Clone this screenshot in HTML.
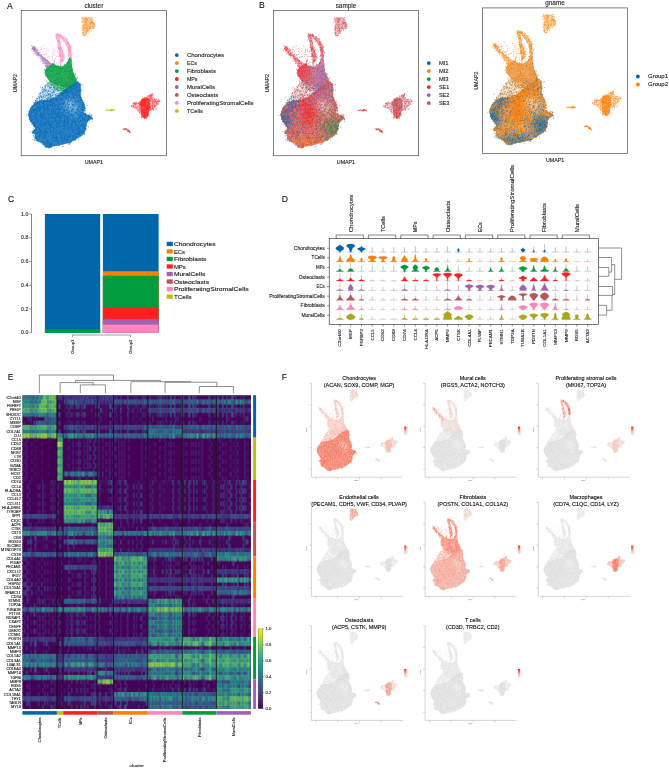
<!DOCTYPE html>
<html><head><meta charset="utf-8"><style>
html,body{margin:0;padding:0;background:#fff;width:669px;height:768px;overflow:hidden}
svg{display:block}
text{font-family:"Liberation Sans",sans-serif;stroke:#222;stroke-width:0.14px;stroke-opacity:0.8}
</style></head><body>
<svg width="669" height="768" viewBox="0 0 669 768" font-family="Liberation Sans, sans-serif" style="will-change:transform">
<rect width="669" height="768" fill="#fff"/>
<text x="7" y="8.8" font-size="8.6" fill="#111">A</text>
<text x="259" y="8.3" font-size="8.6" fill="#111">B</text>
<text x="8" y="202.3" font-size="8.6" fill="#111">C</text>
<text x="281.7" y="201.8" font-size="8.6" fill="#111">D</text>
<text x="7.8" y="379.8" font-size="8.6" fill="#111">E</text>
<text x="281.7" y="380" font-size="8.6" fill="#111">F</text>
<rect x="44.9" y="214" width="55.3" height="118.8" fill="#0067ab"/>
<rect x="44.9" y="329.24" width="55.3" height="3.56" fill="#009c3e"/>
<rect x="102.9" y="214" width="55.7" height="118.8" fill="#0067ab"/>
<rect x="102.9" y="271.26" width="55.7" height="61.54" fill="#ff8000"/>
<rect x="102.9" y="275.78" width="55.7" height="57.02" fill="#009c3e"/>
<rect x="102.9" y="307.26" width="55.7" height="25.54" fill="#ff1f1f"/>
<rect x="102.9" y="319.26" width="55.7" height="13.54" fill="#a262b3"/>
<rect x="102.9" y="324.6" width="55.7" height="8.2" fill="#ff86bc"/>
<path d="M31.5 214 V332.8" stroke="#555" stroke-width="0.7" fill="none"/>
<path d="M29.2 332.8H31.5" stroke="#555" stroke-width="0.6"/>
<text x="28.3" y="334.4" font-size="4.5" fill="#333" text-anchor="end" textLength="7.2" lengthAdjust="spacingAndGlyphs">0.0</text>
<path d="M29.2 309.04H31.5" stroke="#555" stroke-width="0.6"/>
<text x="28.3" y="310.64" font-size="4.5" fill="#333" text-anchor="end" textLength="7.2" lengthAdjust="spacingAndGlyphs">0.2</text>
<path d="M29.2 285.28H31.5" stroke="#555" stroke-width="0.6"/>
<text x="28.3" y="286.88" font-size="4.5" fill="#333" text-anchor="end" textLength="7.2" lengthAdjust="spacingAndGlyphs">0.4</text>
<path d="M29.2 261.52H31.5" stroke="#555" stroke-width="0.6"/>
<text x="28.3" y="263.12" font-size="4.5" fill="#333" text-anchor="end" textLength="7.2" lengthAdjust="spacingAndGlyphs">0.6</text>
<path d="M29.2 237.76H31.5" stroke="#555" stroke-width="0.6"/>
<text x="28.3" y="239.36" font-size="4.5" fill="#333" text-anchor="end" textLength="7.2" lengthAdjust="spacingAndGlyphs">0.8</text>
<path d="M29.2 214H31.5" stroke="#555" stroke-width="0.6"/>
<text x="28.3" y="215.6" font-size="4.5" fill="#333" text-anchor="end" textLength="7.2" lengthAdjust="spacingAndGlyphs">1.0</text>
<path d="M72.4 337.2V335H130.5V337.2" stroke="#777" stroke-width="0.7" fill="none"/>
<text transform="translate(73.8 339.5) rotate(-90)" font-size="3.9" fill="#333" text-anchor="end" textLength="14.3" lengthAdjust="spacingAndGlyphs">Group1</text>
<text transform="translate(132.1 339.5) rotate(-90)" font-size="3.9" fill="#333" text-anchor="end" textLength="14.3" lengthAdjust="spacingAndGlyphs">Group2</text>
<rect x="166.7" y="241.75" width="6.1" height="4.3" fill="#0067ab"/>
<text x="173.9" y="246" font-size="6.05" fill="#111" textLength="41.64" lengthAdjust="spacingAndGlyphs">Chondrocytes</text>
<rect x="166.7" y="249.28" width="6.1" height="4.3" fill="#ff8000"/>
<text x="173.9" y="253.53" font-size="6.05" fill="#111" textLength="11.2" lengthAdjust="spacingAndGlyphs">ECs</text>
<rect x="166.7" y="256.81" width="6.1" height="4.3" fill="#009c3e"/>
<text x="173.9" y="261.06" font-size="6.05" fill="#111" textLength="32.52" lengthAdjust="spacingAndGlyphs">Fibroblasts</text>
<rect x="166.7" y="264.34" width="6.1" height="4.3" fill="#ff1f1f"/>
<text x="173.9" y="268.59" font-size="6.05" fill="#111" textLength="11.91" lengthAdjust="spacingAndGlyphs">MPs</text>
<rect x="166.7" y="271.87" width="6.1" height="4.3" fill="#a262b3"/>
<text x="173.9" y="276.12" font-size="6.05" fill="#111" textLength="31.39" lengthAdjust="spacingAndGlyphs">MuralCells</text>
<rect x="166.7" y="279.4" width="6.1" height="4.3" fill="#bb5458"/>
<text x="173.9" y="283.65" font-size="6.05" fill="#111" textLength="35.1" lengthAdjust="spacingAndGlyphs">Osteoclasts</text>
<rect x="166.7" y="286.93" width="6.1" height="4.3" fill="#ff86bc"/>
<text x="173.9" y="291.18" font-size="6.05" fill="#111" textLength="74.74" lengthAdjust="spacingAndGlyphs">ProliferatingStromalCells</text>
<rect x="166.7" y="294.46" width="6.1" height="4.3" fill="#bdbd0a"/>
<text x="173.9" y="298.71" font-size="6.05" fill="#111" textLength="17.8" lengthAdjust="spacingAndGlyphs">TCells</text>
<rect x="21.25" y="10.5" width="145.25" height="145.2" fill="none" stroke="#5a5a5a" stroke-width="0.75"/>
<text x="93.88" y="7.7" font-size="6.4" fill="#222" text-anchor="middle">cluster</text>
<text x="93.88" y="164.3" font-size="5.2" fill="#222" text-anchor="middle" textLength="18.2" lengthAdjust="spacingAndGlyphs">UMAP1</text>
<text transform="translate(16.55 83.1) rotate(-90)" font-size="5.2" fill="#222" text-anchor="middle" textLength="18.2" lengthAdjust="spacingAndGlyphs">UMAP2</text>
<rect x="273.5" y="10.6" width="144.9" height="145.1" fill="none" stroke="#5a5a5a" stroke-width="0.75"/>
<text x="345.95" y="7.5" font-size="6.4" fill="#222" text-anchor="middle">sample</text>
<text x="345.95" y="164.3" font-size="5.2" fill="#222" text-anchor="middle" textLength="18.2" lengthAdjust="spacingAndGlyphs">UMAP1</text>
<text transform="translate(268.8 83.15) rotate(-90)" font-size="5.2" fill="#222" text-anchor="middle" textLength="18.2" lengthAdjust="spacingAndGlyphs">UMAP2</text>
<rect x="482.6" y="7.9" width="144.9" height="145.6" fill="none" stroke="#5a5a5a" stroke-width="0.75"/>
<text x="555.05" y="4.6" font-size="6.4" fill="#222" text-anchor="middle">gname</text>
<text x="555.05" y="162.1" font-size="5.2" fill="#222" text-anchor="middle" textLength="18.2" lengthAdjust="spacingAndGlyphs">UMAP1</text>
<text transform="translate(477.9 80.7) rotate(-90)" font-size="5.2" fill="#222" text-anchor="middle" textLength="18.2" lengthAdjust="spacingAndGlyphs">UMAP2</text>
<circle cx="176.8" cy="55.1" r="1.9" fill="#0067ab"/>
<text x="186.9" y="57" font-size="5.4" fill="#222" textLength="37.17" lengthAdjust="spacingAndGlyphs">Chondrocytes</text>
<circle cx="176.8" cy="63.07" r="1.9" fill="#ff8000"/>
<text x="186.9" y="64.97" font-size="5.4" fill="#222" textLength="10" lengthAdjust="spacingAndGlyphs">ECs</text>
<circle cx="176.8" cy="71.04" r="1.9" fill="#009c3e"/>
<text x="186.9" y="72.94" font-size="5.4" fill="#222" textLength="29.03" lengthAdjust="spacingAndGlyphs">Fibroblasts</text>
<circle cx="176.8" cy="79.01" r="1.9" fill="#ff1f1f"/>
<text x="186.9" y="80.91" font-size="5.4" fill="#222" textLength="10.63" lengthAdjust="spacingAndGlyphs">MPs</text>
<circle cx="176.8" cy="86.98" r="1.9" fill="#a262b3"/>
<text x="186.9" y="88.88" font-size="5.4" fill="#222" textLength="28.02" lengthAdjust="spacingAndGlyphs">MuralCells</text>
<circle cx="176.8" cy="94.95" r="1.9" fill="#bb5458"/>
<text x="186.9" y="96.85" font-size="5.4" fill="#222" textLength="31.33" lengthAdjust="spacingAndGlyphs">Osteoclasts</text>
<circle cx="176.8" cy="102.92" r="1.9" fill="#ff86bc"/>
<text x="186.9" y="104.82" font-size="5.4" fill="#222" textLength="66.71" lengthAdjust="spacingAndGlyphs">ProliferatingStromalCells</text>
<circle cx="176.8" cy="110.89" r="1.9" fill="#bdbd0a"/>
<text x="186.9" y="112.79" font-size="5.4" fill="#222" textLength="15.89" lengthAdjust="spacingAndGlyphs">TCells</text>
<circle cx="428.8" cy="63.1" r="1.9" fill="#0067ab"/>
<text x="438.9" y="65" font-size="5.4" fill="#222" textLength="9.69" lengthAdjust="spacingAndGlyphs">MI1</text>
<circle cx="428.8" cy="71.1" r="1.9" fill="#ff8000"/>
<text x="438.9" y="73" font-size="5.4" fill="#222" textLength="9.69" lengthAdjust="spacingAndGlyphs">MI2</text>
<circle cx="428.8" cy="79.1" r="1.9" fill="#009c3e"/>
<text x="438.9" y="81" font-size="5.4" fill="#222" textLength="9.69" lengthAdjust="spacingAndGlyphs">MI3</text>
<circle cx="428.8" cy="87.1" r="1.9" fill="#ff1f1f"/>
<text x="438.9" y="89" font-size="5.4" fill="#222" textLength="10.28" lengthAdjust="spacingAndGlyphs">SE1</text>
<circle cx="428.8" cy="95.1" r="1.9" fill="#a262b3"/>
<text x="438.9" y="97" font-size="5.4" fill="#222" textLength="10.28" lengthAdjust="spacingAndGlyphs">SE2</text>
<circle cx="428.8" cy="103.1" r="1.9" fill="#bb5458"/>
<text x="438.9" y="105" font-size="5.4" fill="#222" textLength="10.28" lengthAdjust="spacingAndGlyphs">SE3</text>
<circle cx="637.9" cy="76.5" r="1.9" fill="#0067ab"/>
<text x="648.1" y="78.4" font-size="5.4" fill="#222" textLength="19.88" lengthAdjust="spacingAndGlyphs">Group1</text>
<circle cx="637.9" cy="84.5" r="1.9" fill="#ff8000"/>
<text x="648.1" y="86.4" font-size="5.4" fill="#222" textLength="19.88" lengthAdjust="spacingAndGlyphs">Group2</text>
<text x="20.8" y="398.67" font-size="3.7" fill="#111" text-anchor="end" textLength="14.34" lengthAdjust="spacingAndGlyphs">C2orf40</text>
<text x="20.8" y="402.91" font-size="3.7" fill="#111" text-anchor="end" textLength="8.07" lengthAdjust="spacingAndGlyphs">MGP</text>
<text x="20.8" y="407.15" font-size="3.7" fill="#111" text-anchor="end" textLength="13.86" lengthAdjust="spacingAndGlyphs">FGFBP2</text>
<text x="20.8" y="411.39" font-size="3.7" fill="#111" text-anchor="end" textLength="11.12" lengthAdjust="spacingAndGlyphs">PRELP</text>
<text x="20.8" y="415.63" font-size="3.7" fill="#111" text-anchor="end" textLength="14.87" lengthAdjust="spacingAndGlyphs">SHOX2C</text>
<text x="20.8" y="419.87" font-size="3.7" fill="#111" text-anchor="end" textLength="11.14" lengthAdjust="spacingAndGlyphs">CYTL1</text>
<text x="20.8" y="424.11" font-size="3.7" fill="#111" text-anchor="end" textLength="10.67" lengthAdjust="spacingAndGlyphs">MSMP</text>
<text x="20.8" y="428.35" font-size="3.7" fill="#111" text-anchor="end" textLength="10.62" lengthAdjust="spacingAndGlyphs">COMP</text>
<text x="20.8" y="432.59" font-size="3.7" fill="#111" text-anchor="end" textLength="14.4" lengthAdjust="spacingAndGlyphs">COL2A1</text>
<text x="20.8" y="436.84" font-size="3.7" fill="#111" text-anchor="end" textLength="6.98" lengthAdjust="spacingAndGlyphs">CLU</text>
<text x="20.8" y="441.08" font-size="3.7" fill="#111" text-anchor="end" textLength="9.32" lengthAdjust="spacingAndGlyphs">CCL5</text>
<text x="20.8" y="445.32" font-size="3.7" fill="#111" text-anchor="end" textLength="9.87" lengthAdjust="spacingAndGlyphs">CD52</text>
<text x="20.8" y="449.56" font-size="3.7" fill="#111" text-anchor="end" textLength="9.87" lengthAdjust="spacingAndGlyphs">CD69</text>
<text x="20.8" y="453.8" font-size="3.7" fill="#111" text-anchor="end" textLength="10.13" lengthAdjust="spacingAndGlyphs">NKG7</text>
<text x="20.8" y="458.04" font-size="3.7" fill="#111" text-anchor="end" textLength="6.18" lengthAdjust="spacingAndGlyphs">LTB</text>
<text x="20.8" y="462.28" font-size="3.7" fill="#111" text-anchor="end" textLength="10.35" lengthAdjust="spacingAndGlyphs">CD3D</text>
<text x="20.8" y="466.52" font-size="3.7" fill="#111" text-anchor="end" textLength="10.82" lengthAdjust="spacingAndGlyphs">GZMA</text>
<text x="20.8" y="470.76" font-size="3.7" fill="#111" text-anchor="end" textLength="11.91" lengthAdjust="spacingAndGlyphs">TRBC2</text>
<text x="20.8" y="475" font-size="3.7" fill="#111" text-anchor="end" textLength="9.7" lengthAdjust="spacingAndGlyphs">HCST</text>
<text x="20.8" y="479.24" font-size="3.7" fill="#111" text-anchor="end" textLength="7.58" lengthAdjust="spacingAndGlyphs">CD2</text>
<text x="20.8" y="483.48" font-size="3.7" fill="#111" text-anchor="end" textLength="9.87" lengthAdjust="spacingAndGlyphs">CD74</text>
<text x="20.8" y="487.72" font-size="3.7" fill="#111" text-anchor="end" textLength="9.32" lengthAdjust="spacingAndGlyphs">CCL4</text>
<text x="20.8" y="491.96" font-size="3.7" fill="#111" text-anchor="end" textLength="16.07" lengthAdjust="spacingAndGlyphs">HLA-DRA</text>
<text x="20.8" y="496.2" font-size="3.7" fill="#111" text-anchor="end" textLength="9.32" lengthAdjust="spacingAndGlyphs">CCL3</text>
<text x="20.8" y="500.44" font-size="3.7" fill="#111" text-anchor="end" textLength="13.62" lengthAdjust="spacingAndGlyphs">CCL4L2</text>
<text x="20.8" y="504.68" font-size="3.7" fill="#111" text-anchor="end" textLength="13.62" lengthAdjust="spacingAndGlyphs">CCL3L1</text>
<text x="20.8" y="508.92" font-size="3.7" fill="#111" text-anchor="end" textLength="18.51" lengthAdjust="spacingAndGlyphs">HLA-DRB1</text>
<text x="20.8" y="513.16" font-size="3.7" fill="#111" text-anchor="end" textLength="14.37" lengthAdjust="spacingAndGlyphs">TYROBP</text>
<text x="20.8" y="517.41" font-size="3.7" fill="#111" text-anchor="end" textLength="8.92" lengthAdjust="spacingAndGlyphs">SPP1</text>
<text x="20.8" y="521.65" font-size="3.7" fill="#111" text-anchor="end" textLength="10.15" lengthAdjust="spacingAndGlyphs">C1QC</text>
<text x="20.8" y="525.89" font-size="3.7" fill="#111" text-anchor="end" textLength="9.37" lengthAdjust="spacingAndGlyphs">ACP5</text>
<text x="20.8" y="530.13" font-size="3.7" fill="#111" text-anchor="end" textLength="9.36" lengthAdjust="spacingAndGlyphs">CTSK</text>
<text x="20.8" y="534.37" font-size="3.7" fill="#111" text-anchor="end" textLength="9.29" lengthAdjust="spacingAndGlyphs">CST3</text>
<text x="20.8" y="538.61" font-size="3.7" fill="#111" text-anchor="end" textLength="7.34" lengthAdjust="spacingAndGlyphs">CKB</text>
<text x="20.8" y="542.85" font-size="3.7" fill="#111" text-anchor="end" textLength="12.16" lengthAdjust="spacingAndGlyphs">RGS10</text>
<text x="20.8" y="547.09" font-size="3.7" fill="#111" text-anchor="end" textLength="13.86" lengthAdjust="spacingAndGlyphs">SLC9B2</text>
<text x="20.8" y="551.33" font-size="3.7" fill="#111" text-anchor="end" textLength="19.81" lengthAdjust="spacingAndGlyphs">MTND1P23</text>
<text x="20.8" y="555.57" font-size="3.7" fill="#111" text-anchor="end" textLength="9.47" lengthAdjust="spacingAndGlyphs">CSTB</text>
<text x="20.8" y="559.81" font-size="3.7" fill="#111" text-anchor="end" textLength="14.4" lengthAdjust="spacingAndGlyphs">COL4A1</text>
<text x="20.8" y="564.05" font-size="3.7" fill="#111" text-anchor="end" textLength="10.65" lengthAdjust="spacingAndGlyphs">PLVAP</text>
<text x="20.8" y="568.29" font-size="3.7" fill="#111" text-anchor="end" textLength="14.82" lengthAdjust="spacingAndGlyphs">PECAM1</text>
<text x="20.8" y="572.53" font-size="3.7" fill="#111" text-anchor="end" textLength="13.82" lengthAdjust="spacingAndGlyphs">CXCL12</text>
<text x="20.8" y="576.77" font-size="3.7" fill="#111" text-anchor="end" textLength="8.78" lengthAdjust="spacingAndGlyphs">IFI27</text>
<text x="20.8" y="581.01" font-size="3.7" fill="#111" text-anchor="end" textLength="14.4" lengthAdjust="spacingAndGlyphs">COL4A2</text>
<text x="20.8" y="585.25" font-size="3.7" fill="#111" text-anchor="end" textLength="12.24" lengthAdjust="spacingAndGlyphs">HSPG2</text>
<text x="20.8" y="589.49" font-size="3.7" fill="#111" text-anchor="end" textLength="16.69" lengthAdjust="spacingAndGlyphs">COL15A1</text>
<text x="20.8" y="593.74" font-size="3.7" fill="#111" text-anchor="end" textLength="15.82" lengthAdjust="spacingAndGlyphs">SPARCL1</text>
<text x="20.8" y="597.98" font-size="3.7" fill="#111" text-anchor="end" textLength="9.87" lengthAdjust="spacingAndGlyphs">CD34</text>
<text x="20.8" y="602.22" font-size="3.7" fill="#111" text-anchor="end" textLength="12.57" lengthAdjust="spacingAndGlyphs">STMN1</text>
<text x="20.8" y="606.46" font-size="3.7" fill="#111" text-anchor="end" textLength="11.96" lengthAdjust="spacingAndGlyphs">TOP2A</text>
<text x="20.8" y="610.7" font-size="3.7" fill="#111" text-anchor="end" textLength="14.53" lengthAdjust="spacingAndGlyphs">TUBA1B</text>
<text x="20.8" y="614.94" font-size="3.7" fill="#111" text-anchor="end" textLength="11.59" lengthAdjust="spacingAndGlyphs">PTTG1</text>
<text x="20.8" y="619.18" font-size="3.7" fill="#111" text-anchor="end" textLength="14.6" lengthAdjust="spacingAndGlyphs">NUSAP1</text>
<text x="20.8" y="623.42" font-size="3.7" fill="#111" text-anchor="end" textLength="11.74" lengthAdjust="spacingAndGlyphs">CKAP2</text>
<text x="20.8" y="627.66" font-size="3.7" fill="#111" text-anchor="end" textLength="11.72" lengthAdjust="spacingAndGlyphs">CENPF</text>
<text x="20.8" y="631.9" font-size="3.7" fill="#111" text-anchor="end" textLength="12.18" lengthAdjust="spacingAndGlyphs">UBE2C</text>
<text x="20.8" y="636.14" font-size="3.7" fill="#111" text-anchor="end" textLength="12.48" lengthAdjust="spacingAndGlyphs">CCNB1</text>
<text x="20.8" y="640.38" font-size="3.7" fill="#111" text-anchor="end" textLength="12.18" lengthAdjust="spacingAndGlyphs">POSTN</text>
<text x="20.8" y="644.62" font-size="3.7" fill="#111" text-anchor="end" textLength="14.4" lengthAdjust="spacingAndGlyphs">COL1A1</text>
<text x="20.8" y="648.86" font-size="3.7" fill="#111" text-anchor="end" textLength="12.96" lengthAdjust="spacingAndGlyphs">MMP13</text>
<text x="20.8" y="653.1" font-size="3.7" fill="#111" text-anchor="end" textLength="10.67" lengthAdjust="spacingAndGlyphs">MMP3</text>
<text x="20.8" y="657.34" font-size="3.7" fill="#111" text-anchor="end" textLength="14.4" lengthAdjust="spacingAndGlyphs">COL1A2</text>
<text x="20.8" y="661.58" font-size="3.7" fill="#111" text-anchor="end" textLength="14.4" lengthAdjust="spacingAndGlyphs">COL3A1</text>
<text x="20.8" y="665.82" font-size="3.7" fill="#111" text-anchor="end" textLength="13.84" lengthAdjust="spacingAndGlyphs">LGALS1</text>
<text x="20.8" y="670.06" font-size="3.7" fill="#111" text-anchor="end" textLength="14.4" lengthAdjust="spacingAndGlyphs">COL6A3</text>
<text x="20.8" y="674.31" font-size="3.7" fill="#111" text-anchor="end" textLength="12.96" lengthAdjust="spacingAndGlyphs">MMP14</text>
<text x="20.8" y="678.55" font-size="3.7" fill="#111" text-anchor="end" textLength="10.59" lengthAdjust="spacingAndGlyphs">TGFBI</text>
<text x="20.8" y="682.79" font-size="3.7" fill="#111" text-anchor="end" textLength="10.67" lengthAdjust="spacingAndGlyphs">MMP9</text>
<text x="20.8" y="687.03" font-size="3.7" fill="#111" text-anchor="end" textLength="9.87" lengthAdjust="spacingAndGlyphs">RGS5</text>
<text x="20.8" y="691.27" font-size="3.7" fill="#111" text-anchor="end" textLength="11.59" lengthAdjust="spacingAndGlyphs">ACTA2</text>
<text x="20.8" y="695.51" font-size="3.7" fill="#111" text-anchor="end" textLength="16.69" lengthAdjust="spacingAndGlyphs">COL18A1</text>
<text x="20.8" y="699.75" font-size="3.7" fill="#111" text-anchor="end" textLength="9.4" lengthAdjust="spacingAndGlyphs">THY1</text>
<text x="20.8" y="703.99" font-size="3.7" fill="#111" text-anchor="end" textLength="11.81" lengthAdjust="spacingAndGlyphs">TAGLN</text>
<text x="20.8" y="708.23" font-size="3.7" fill="#111" text-anchor="end" textLength="9.6" lengthAdjust="spacingAndGlyphs">MYL9</text>
<rect x="253.1" y="395.2" width="3" height="42.41" fill="#0067ab"/>
<rect x="253.1" y="437.61" width="3" height="42.41" fill="#bdbd0a"/>
<rect x="253.1" y="480.01" width="3" height="42.41" fill="#ff1f1f"/>
<rect x="253.1" y="522.42" width="3" height="33.92" fill="#bb5458"/>
<rect x="253.1" y="556.34" width="3" height="42.41" fill="#ff8000"/>
<rect x="253.1" y="598.75" width="3" height="38.16" fill="#ff86bc"/>
<rect x="253.1" y="636.91" width="3" height="42.41" fill="#009c3e"/>
<rect x="253.1" y="679.32" width="3" height="29.68" fill="#a262b3"/>
<rect x="22.4" y="711.1" width="34.5" height="3.6" fill="#0067ab"/>
<rect x="56.9" y="711.1" width="6.3" height="3.6" fill="#bdbd0a"/>
<rect x="63.2" y="711.1" width="34" height="3.6" fill="#ff1f1f"/>
<rect x="97.2" y="711.1" width="16.3" height="3.6" fill="#bb5458"/>
<rect x="113.5" y="711.1" width="34.3" height="3.6" fill="#ff8000"/>
<rect x="147.8" y="711.1" width="34.5" height="3.6" fill="#ff86bc"/>
<rect x="182.3" y="711.1" width="34.1" height="3.6" fill="#009c3e"/>
<rect x="216.4" y="711.1" width="34.5" height="3.6" fill="#a262b3"/>
<text transform="translate(40.95 717.6) rotate(-90)" font-size="3.62" fill="#222" text-anchor="end" textLength="24.92" lengthAdjust="spacingAndGlyphs">Chondrocytes</text>
<text transform="translate(61.35 717.6) rotate(-90)" font-size="3.62" fill="#222" text-anchor="end" textLength="10.65" lengthAdjust="spacingAndGlyphs">TCells</text>
<text transform="translate(81.5 717.6) rotate(-90)" font-size="3.62" fill="#222" text-anchor="end" textLength="7.13" lengthAdjust="spacingAndGlyphs">MPs</text>
<text transform="translate(106.65 717.6) rotate(-90)" font-size="3.62" fill="#222" text-anchor="end" textLength="21" lengthAdjust="spacingAndGlyphs">Osteoclasts</text>
<text transform="translate(131.95 717.6) rotate(-90)" font-size="3.62" fill="#222" text-anchor="end" textLength="6.7" lengthAdjust="spacingAndGlyphs">ECs</text>
<text transform="translate(166.35 717.6) rotate(-90)" font-size="3.62" fill="#222" text-anchor="end" textLength="44.72" lengthAdjust="spacingAndGlyphs">ProliferatingStromalCells</text>
<text transform="translate(200.65 717.6) rotate(-90)" font-size="3.62" fill="#222" text-anchor="end" textLength="19.46" lengthAdjust="spacingAndGlyphs">Fibroblasts</text>
<text transform="translate(234.95 717.6) rotate(-90)" font-size="3.62" fill="#222" text-anchor="end" textLength="18.78" lengthAdjust="spacingAndGlyphs">MuralCells</text>
<text x="129.4" y="767.2" font-size="4.3" fill="#222" textLength="14.62" lengthAdjust="spacingAndGlyphs">cluster</text>
<rect x="258.1" y="628.9" width="4.8" height="79.7" fill="url(#vir)" stroke="#333" stroke-width="0.3"/>
<path d="M262.9 708.6H264.4" stroke="#333" stroke-width="0.4"/>
<text x="265.6" y="709.9" font-size="3.7" fill="#333" textLength="5.88" lengthAdjust="spacingAndGlyphs">0.0</text>
<path d="M262.9 692.66H264.4" stroke="#333" stroke-width="0.4"/>
<text x="265.6" y="693.96" font-size="3.7" fill="#333" textLength="5.88" lengthAdjust="spacingAndGlyphs">0.2</text>
<path d="M262.9 676.72H264.4" stroke="#333" stroke-width="0.4"/>
<text x="265.6" y="678.02" font-size="3.7" fill="#333" textLength="5.88" lengthAdjust="spacingAndGlyphs">0.4</text>
<path d="M262.9 660.78H264.4" stroke="#333" stroke-width="0.4"/>
<text x="265.6" y="662.08" font-size="3.7" fill="#333" textLength="5.88" lengthAdjust="spacingAndGlyphs">0.6</text>
<path d="M262.9 644.84H264.4" stroke="#333" stroke-width="0.4"/>
<text x="265.6" y="646.14" font-size="3.7" fill="#333" textLength="5.88" lengthAdjust="spacingAndGlyphs">0.8</text>
<path d="M262.9 628.9H264.4" stroke="#333" stroke-width="0.4"/>
<text x="265.6" y="630.2" font-size="3.7" fill="#333" textLength="5.88" lengthAdjust="spacingAndGlyphs">1.0</text>
<path d="M39.3 393V375H113.5V380.4 M75.6 382.6V380.4H160.4V381.7 M60.1 393V382.6H93.2V384.9 M80.3 393V384.9H105.4V393 M130.9 393V381.7H190.9V382.2 M165.1 393V382.2H216.8V386.5 M199.3 393V386.5H233.6V393" stroke="#444" stroke-width="0.6" fill="none"/>
<defs><linearGradient id="vir" x1="0" y1="0" x2="0" y2="1"><stop offset="0" stop-color="#fde725"/><stop offset="0.1" stop-color="#bddf26"/><stop offset="0.2" stop-color="#7ad151"/><stop offset="0.3" stop-color="#44bf70"/><stop offset="0.4" stop-color="#22a884"/><stop offset="0.5" stop-color="#21918c"/><stop offset="0.6" stop-color="#2a788e"/><stop offset="0.7" stop-color="#355f8d"/><stop offset="0.8" stop-color="#414487"/><stop offset="0.9" stop-color="#482475"/><stop offset="1" stop-color="#440154"/></linearGradient><mask id="hd0" maskUnits="userSpaceOnUse" x="22.4" y="395.2" width="228.5" height="313.8"><g transform="translate(0 395.2) scale(1 313.8)" stroke-width="1"><path stroke="#fff" stroke-opacity="0.17" d="M23.9 0v1M25.9 0v1M28.9 0v1M30.9 0v1M32.9 0v1M33.9 0v1M36.9 0v1M43.9 0v1M46.9 0v1M47.9 0v1M55.9 0v1M56.9 0v1M73.9 0v1M76.9 0v1M78.9 0v1M92.9 0v1M103.9 0v1M104.9 0v1M106.9 0v1M110.9 0v1M121.9 0v1M137.9 0v1M144.9 0v1M146.9 0v1M147.9 0v1M151.9 0v1M153.9 0v1M154.9 0v1M159.9 0v1M163.9 0v1M168.9 0v1M169.9 0v1M177.9 0v1M222.9 0v1M238.9 0v1M239.9 0v1M242.9 0v1M248.9 0v1"/><path stroke="#fff" stroke-opacity="0.33" d="M37.9 0v1M45.9 0v1M48.9 0v1M50.9 0v1M57.9 0v1M63.9 0v1M66.9 0v1M71.9 0v1M97.9 0v1M102.9 0v1M107.9 0v1M116.9 0v1M122.9 0v1M123.9 0v1M124.9 0v1M127.9 0v1M148.9 0v1M149.9 0v1M160.9 0v1M171.9 0v1M173.9 0v1M184.9 0v1M186.9 0v1M191.9 0v1M198.9 0v1M203.9 0v1M204.9 0v1M212.9 0v1M213.9 0v1M214.9 0v1M215.9 0v1M228.9 0v1M237.9 0v1"/><path stroke="#fff" stroke-opacity="0.5" d="M22.9 0v1M27.9 0v1M31.9 0v1M34.9 0v1M41.9 0v1M53.9 0v1M59.9 0v1M60.9 0v1M62.9 0v1M74.9 0v1M83.9 0v1M87.9 0v1M90.9 0v1M98.9 0v1M101.9 0v1M108.9 0v1M111.9 0v1M117.9 0v1M118.9 0v1M125.9 0v1M129.9 0v1M130.9 0v1M142.9 0v1M143.9 0v1M150.9 0v1M155.9 0v1M161.9 0v1M162.9 0v1M166.9 0v1M167.9 0v1M170.9 0v1M185.9 0v1M190.9 0v1M200.9 0v1M207.9 0v1M211.9 0v1M219.9 0v1M227.9 0v1M230.9 0v1M233.9 0v1M234.9 0v1M246.9 0v1"/><path stroke="#fff" stroke-opacity="0.67" d="M24.9 0v1M26.9 0v1M29.9 0v1M38.9 0v1M40.9 0v1M51.9 0v1M52.9 0v1M54.9 0v1M58.9 0v1M61.9 0v1M67.9 0v1M68.9 0v1M77.9 0v1M79.9 0v1M81.9 0v1M85.9 0v1M86.9 0v1M91.9 0v1M94.9 0v1M99.9 0v1M112.9 0v1M126.9 0v1M131.9 0v1M134.9 0v1M135.9 0v1M136.9 0v1M145.9 0v1M158.9 0v1M176.9 0v1M178.9 0v1M180.9 0v1M188.9 0v1M199.9 0v1M216.9 0v1M220.9 0v1M223.9 0v1M245.9 0v1M247.9 0v1"/><path stroke="#fff" stroke-opacity="0.83" d="M35.9 0v1M44.9 0v1M49.9 0v1M64.9 0v1M65.9 0v1M69.9 0v1M70.9 0v1M75.9 0v1M80.9 0v1M82.9 0v1M84.9 0v1M88.9 0v1M93.9 0v1M96.9 0v1M105.9 0v1M109.9 0v1M113.9 0v1M114.9 0v1M115.9 0v1M119.9 0v1M133.9 0v1M139.9 0v1M140.9 0v1M141.9 0v1M157.9 0v1M164.9 0v1M172.9 0v1M182.9 0v1M183.9 0v1M187.9 0v1M189.9 0v1M192.9 0v1M194.9 0v1M195.9 0v1M196.9 0v1M197.9 0v1M205.9 0v1M218.9 0v1M221.9 0v1M225.9 0v1M226.9 0v1M229.9 0v1M231.9 0v1M236.9 0v1M241.9 0v1M243.9 0v1"/><path stroke="#fff" stroke-opacity="1" d="M39.9 0v1M42.9 0v1M72.9 0v1M89.9 0v1M95.9 0v1M120.9 0v1M132.9 0v1M138.9 0v1M165.9 0v1M175.9 0v1M181.9 0v1M193.9 0v1M206.9 0v1M208.9 0v1M209.9 0v1M210.9 0v1M217.9 0v1M224.9 0v1M232.9 0v1M235.9 0v1M240.9 0v1M244.9 0v1"/></g></mask><mask id="hd1" maskUnits="userSpaceOnUse" x="22.4" y="395.2" width="228.5" height="313.8"><g transform="translate(0 395.2) scale(1 313.8)" stroke-width="1"><path stroke="#fff" stroke-opacity="0.17" d="M36.9 0v1M60.9 0v1M85.9 0v1M86.9 0v1M88.9 0v1M90.9 0v1M94.9 0v1M97.9 0v1M120.9 0v1M124.9 0v1M126.9 0v1M129.9 0v1M134.9 0v1M138.9 0v1M139.9 0v1M142.9 0v1M146.9 0v1M148.9 0v1M155.9 0v1M158.9 0v1M160.9 0v1M177.9 0v1M192.9 0v1M193.9 0v1M194.9 0v1M198.9 0v1M224.9 0v1M226.9 0v1M239.9 0v1M242.9 0v1M248.9 0v1"/><path stroke="#fff" stroke-opacity="0.33" d="M29.9 0v1M30.9 0v1M31.9 0v1M32.9 0v1M34.9 0v1M49.9 0v1M52.9 0v1M62.9 0v1M63.9 0v1M81.9 0v1M89.9 0v1M100.9 0v1M106.9 0v1M110.9 0v1M125.9 0v1M128.9 0v1M133.9 0v1M154.9 0v1M157.9 0v1M159.9 0v1M161.9 0v1M163.9 0v1M165.9 0v1M167.9 0v1M170.9 0v1M174.9 0v1M196.9 0v1M197.9 0v1M202.9 0v1M203.9 0v1M204.9 0v1M206.9 0v1M208.9 0v1M212.9 0v1M214.9 0v1M220.9 0v1M223.9 0v1M228.9 0v1M229.9 0v1"/><path stroke="#fff" stroke-opacity="0.5" d="M26.9 0v1M35.9 0v1M38.9 0v1M39.9 0v1M42.9 0v1M48.9 0v1M53.9 0v1M56.9 0v1M69.9 0v1M74.9 0v1M76.9 0v1M87.9 0v1M102.9 0v1M103.9 0v1M107.9 0v1M109.9 0v1M111.9 0v1M115.9 0v1M117.9 0v1M130.9 0v1M141.9 0v1M150.9 0v1M151.9 0v1M162.9 0v1M168.9 0v1M175.9 0v1M179.9 0v1M182.9 0v1M186.9 0v1M190.9 0v1M191.9 0v1M205.9 0v1M207.9 0v1M215.9 0v1M217.9 0v1M218.9 0v1M225.9 0v1M236.9 0v1M237.9 0v1"/><path stroke="#fff" stroke-opacity="0.67" d="M23.9 0v1M24.9 0v1M33.9 0v1M40.9 0v1M44.9 0v1M45.9 0v1M46.9 0v1M55.9 0v1M57.9 0v1M58.9 0v1M61.9 0v1M65.9 0v1M66.9 0v1M70.9 0v1M71.9 0v1M72.9 0v1M75.9 0v1M82.9 0v1M91.9 0v1M96.9 0v1M108.9 0v1M114.9 0v1M118.9 0v1M119.9 0v1M136.9 0v1M144.9 0v1M152.9 0v1M156.9 0v1M166.9 0v1M173.9 0v1M180.9 0v1M183.9 0v1M189.9 0v1M201.9 0v1M211.9 0v1M219.9 0v1M221.9 0v1M230.9 0v1M231.9 0v1M233.9 0v1M241.9 0v1M245.9 0v1M249.9 0v1"/><path stroke="#fff" stroke-opacity="0.83" d="M27.9 0v1M28.9 0v1M51.9 0v1M54.9 0v1M59.9 0v1M64.9 0v1M67.9 0v1M73.9 0v1M78.9 0v1M79.9 0v1M84.9 0v1M92.9 0v1M95.9 0v1M98.9 0v1M105.9 0v1M112.9 0v1M122.9 0v1M127.9 0v1M132.9 0v1M137.9 0v1M140.9 0v1M145.9 0v1M147.9 0v1M149.9 0v1M164.9 0v1M172.9 0v1M178.9 0v1M181.9 0v1M184.9 0v1M187.9 0v1M188.9 0v1M195.9 0v1M199.9 0v1M200.9 0v1M232.9 0v1M234.9 0v1M235.9 0v1M240.9 0v1M243.9 0v1M246.9 0v1M247.9 0v1"/><path stroke="#fff" stroke-opacity="1" d="M22.9 0v1M25.9 0v1M37.9 0v1M41.9 0v1M43.9 0v1M68.9 0v1M77.9 0v1M80.9 0v1M83.9 0v1M93.9 0v1M99.9 0v1M101.9 0v1M104.9 0v1M121.9 0v1M123.9 0v1M131.9 0v1M135.9 0v1M143.9 0v1M153.9 0v1M176.9 0v1M185.9 0v1M209.9 0v1M210.9 0v1M213.9 0v1M238.9 0v1M244.9 0v1"/></g></mask><mask id="hd2" maskUnits="userSpaceOnUse" x="22.4" y="395.2" width="228.5" height="313.8"><g transform="translate(0 395.2) scale(1 313.8)" stroke-width="1"><path stroke="#fff" stroke-opacity="0.17" d="M32.9 0v1M34.9 0v1M47.9 0v1M50.9 0v1M63.9 0v1M64.9 0v1M70.9 0v1M79.9 0v1M94.9 0v1M97.9 0v1M110.9 0v1M117.9 0v1M129.9 0v1M130.9 0v1M147.9 0v1M153.9 0v1M155.9 0v1M175.9 0v1M177.9 0v1M179.9 0v1M190.9 0v1M193.9 0v1M218.9 0v1M219.9 0v1M228.9 0v1M234.9 0v1M238.9 0v1M239.9 0v1"/><path stroke="#fff" stroke-opacity="0.33" d="M30.9 0v1M49.9 0v1M51.9 0v1M53.9 0v1M65.9 0v1M67.9 0v1M71.9 0v1M75.9 0v1M81.9 0v1M89.9 0v1M90.9 0v1M92.9 0v1M102.9 0v1M109.9 0v1M121.9 0v1M128.9 0v1M132.9 0v1M134.9 0v1M135.9 0v1M137.9 0v1M152.9 0v1M158.9 0v1M161.9 0v1M163.9 0v1M166.9 0v1M167.9 0v1M168.9 0v1M171.9 0v1M176.9 0v1M180.9 0v1M181.9 0v1M191.9 0v1M197.9 0v1M198.9 0v1M199.9 0v1M217.9 0v1M230.9 0v1M233.9 0v1M235.9 0v1M243.9 0v1M246.9 0v1"/><path stroke="#fff" stroke-opacity="0.5" d="M33.9 0v1M57.9 0v1M58.9 0v1M77.9 0v1M78.9 0v1M85.9 0v1M88.9 0v1M104.9 0v1M108.9 0v1M111.9 0v1M112.9 0v1M122.9 0v1M123.9 0v1M126.9 0v1M127.9 0v1M138.9 0v1M149.9 0v1M156.9 0v1M157.9 0v1M165.9 0v1M174.9 0v1M178.9 0v1M185.9 0v1M186.9 0v1M188.9 0v1M189.9 0v1M200.9 0v1M201.9 0v1M209.9 0v1M212.9 0v1M226.9 0v1M242.9 0v1M247.9 0v1"/><path stroke="#fff" stroke-opacity="0.67" d="M22.9 0v1M26.9 0v1M36.9 0v1M37.9 0v1M38.9 0v1M39.9 0v1M40.9 0v1M44.9 0v1M45.9 0v1M46.9 0v1M56.9 0v1M61.9 0v1M62.9 0v1M68.9 0v1M72.9 0v1M74.9 0v1M76.9 0v1M93.9 0v1M95.9 0v1M99.9 0v1M107.9 0v1M125.9 0v1M136.9 0v1M142.9 0v1M145.9 0v1M151.9 0v1M162.9 0v1M164.9 0v1M170.9 0v1M182.9 0v1M187.9 0v1M194.9 0v1M195.9 0v1M210.9 0v1M220.9 0v1M224.9 0v1M227.9 0v1M232.9 0v1M236.9 0v1M240.9 0v1M241.9 0v1M244.9 0v1M249.9 0v1"/><path stroke="#fff" stroke-opacity="0.83" d="M23.9 0v1M24.9 0v1M25.9 0v1M28.9 0v1M29.9 0v1M35.9 0v1M42.9 0v1M43.9 0v1M48.9 0v1M52.9 0v1M54.9 0v1M59.9 0v1M60.9 0v1M66.9 0v1M73.9 0v1M86.9 0v1M98.9 0v1M100.9 0v1M101.9 0v1M113.9 0v1M115.9 0v1M116.9 0v1M119.9 0v1M131.9 0v1M140.9 0v1M141.9 0v1M146.9 0v1M148.9 0v1M150.9 0v1M159.9 0v1M183.9 0v1M184.9 0v1M196.9 0v1M203.9 0v1M204.9 0v1M207.9 0v1M214.9 0v1M215.9 0v1M221.9 0v1M223.9 0v1M225.9 0v1M229.9 0v1M237.9 0v1"/><path stroke="#fff" stroke-opacity="1" d="M27.9 0v1M55.9 0v1M80.9 0v1M82.9 0v1M83.9 0v1M87.9 0v1M91.9 0v1M96.9 0v1M103.9 0v1M118.9 0v1M120.9 0v1M124.9 0v1M133.9 0v1M139.9 0v1M143.9 0v1M144.9 0v1M154.9 0v1M160.9 0v1M169.9 0v1M172.9 0v1M173.9 0v1M192.9 0v1M202.9 0v1M208.9 0v1M213.9 0v1M216.9 0v1M222.9 0v1M231.9 0v1M248.9 0v1"/></g></mask><mask id="hd3" maskUnits="userSpaceOnUse" x="22.4" y="395.2" width="228.5" height="313.8"><g transform="translate(0 395.2) scale(1 313.8)" stroke-width="1"><path stroke="#fff" stroke-opacity="0.17" d="M60.9 0v1M64.9 0v1M65.9 0v1M66.9 0v1M87.9 0v1M94.9 0v1M105.9 0v1M107.9 0v1M145.9 0v1M149.9 0v1M157.9 0v1M158.9 0v1M169.9 0v1M178.9 0v1M189.9 0v1M194.9 0v1M196.9 0v1M207.9 0v1M212.9 0v1M226.9 0v1M227.9 0v1M231.9 0v1"/><path stroke="#fff" stroke-opacity="0.33" d="M24.9 0v1M25.9 0v1M28.9 0v1M33.9 0v1M36.9 0v1M41.9 0v1M45.9 0v1M49.9 0v1M50.9 0v1M52.9 0v1M55.9 0v1M56.9 0v1M62.9 0v1M74.9 0v1M82.9 0v1M84.9 0v1M89.9 0v1M98.9 0v1M109.9 0v1M113.9 0v1M116.9 0v1M119.9 0v1M126.9 0v1M131.9 0v1M135.9 0v1M146.9 0v1M148.9 0v1M156.9 0v1M162.9 0v1M171.9 0v1M175.9 0v1M176.9 0v1M177.9 0v1M185.9 0v1M195.9 0v1M197.9 0v1M204.9 0v1M210.9 0v1M213.9 0v1M214.9 0v1M217.9 0v1M221.9 0v1M223.9 0v1M232.9 0v1M235.9 0v1M236.9 0v1M245.9 0v1M247.9 0v1"/><path stroke="#fff" stroke-opacity="0.5" d="M23.9 0v1M32.9 0v1M38.9 0v1M39.9 0v1M47.9 0v1M57.9 0v1M61.9 0v1M67.9 0v1M73.9 0v1M79.9 0v1M80.9 0v1M81.9 0v1M85.9 0v1M90.9 0v1M93.9 0v1M95.9 0v1M96.9 0v1M99.9 0v1M102.9 0v1M112.9 0v1M118.9 0v1M127.9 0v1M130.9 0v1M132.9 0v1M141.9 0v1M142.9 0v1M143.9 0v1M152.9 0v1M161.9 0v1M163.9 0v1M173.9 0v1M181.9 0v1M182.9 0v1M190.9 0v1M201.9 0v1M203.9 0v1M211.9 0v1M219.9 0v1M222.9 0v1M228.9 0v1M234.9 0v1M238.9 0v1M240.9 0v1M241.9 0v1M244.9 0v1"/><path stroke="#fff" stroke-opacity="0.67" d="M30.9 0v1M31.9 0v1M34.9 0v1M44.9 0v1M54.9 0v1M58.9 0v1M78.9 0v1M115.9 0v1M123.9 0v1M133.9 0v1M140.9 0v1M151.9 0v1M159.9 0v1M164.9 0v1M165.9 0v1M168.9 0v1M172.9 0v1M180.9 0v1M184.9 0v1M187.9 0v1M199.9 0v1M208.9 0v1M209.9 0v1M215.9 0v1M216.9 0v1M220.9 0v1M225.9 0v1M229.9 0v1M230.9 0v1M239.9 0v1"/><path stroke="#fff" stroke-opacity="0.83" d="M22.9 0v1M27.9 0v1M40.9 0v1M42.9 0v1M43.9 0v1M48.9 0v1M51.9 0v1M69.9 0v1M70.9 0v1M76.9 0v1M91.9 0v1M92.9 0v1M103.9 0v1M104.9 0v1M110.9 0v1M117.9 0v1M121.9 0v1M136.9 0v1M137.9 0v1M138.9 0v1M139.9 0v1M144.9 0v1M147.9 0v1M154.9 0v1M160.9 0v1M166.9 0v1M167.9 0v1M170.9 0v1M174.9 0v1M179.9 0v1M186.9 0v1M191.9 0v1M192.9 0v1M202.9 0v1M205.9 0v1M224.9 0v1M233.9 0v1M242.9 0v1M246.9 0v1"/><path stroke="#fff" stroke-opacity="1" d="M26.9 0v1M35.9 0v1M46.9 0v1M53.9 0v1M59.9 0v1M63.9 0v1M68.9 0v1M71.9 0v1M72.9 0v1M75.9 0v1M86.9 0v1M88.9 0v1M97.9 0v1M100.9 0v1M108.9 0v1M111.9 0v1M114.9 0v1M122.9 0v1M124.9 0v1M128.9 0v1M129.9 0v1M134.9 0v1M153.9 0v1M155.9 0v1M183.9 0v1M188.9 0v1M193.9 0v1M198.9 0v1M200.9 0v1M206.9 0v1M237.9 0v1M243.9 0v1M249.9 0v1"/></g></mask><mask id="hd4" maskUnits="userSpaceOnUse" x="22.4" y="395.2" width="228.5" height="313.8"><g transform="translate(0 395.2) scale(1 313.8)" stroke-width="1"><path stroke="#fff" stroke-opacity="0.17" d="M32.9 0v1M36.9 0v1M40.9 0v1M45.9 0v1M49.9 0v1M66.9 0v1M70.9 0v1M73.9 0v1M75.9 0v1M95.9 0v1M96.9 0v1M98.9 0v1M101.9 0v1M103.9 0v1M107.9 0v1M111.9 0v1M124.9 0v1M131.9 0v1M138.9 0v1M146.9 0v1M154.9 0v1M167.9 0v1M177.9 0v1M182.9 0v1M188.9 0v1M196.9 0v1M199.9 0v1M200.9 0v1M216.9 0v1M220.9 0v1M225.9 0v1M234.9 0v1M245.9 0v1M247.9 0v1"/><path stroke="#fff" stroke-opacity="0.33" d="M27.9 0v1M37.9 0v1M44.9 0v1M55.9 0v1M57.9 0v1M61.9 0v1M62.9 0v1M67.9 0v1M79.9 0v1M89.9 0v1M93.9 0v1M116.9 0v1M121.9 0v1M127.9 0v1M129.9 0v1M134.9 0v1M135.9 0v1M139.9 0v1M140.9 0v1M144.9 0v1M159.9 0v1M165.9 0v1M169.9 0v1M183.9 0v1M190.9 0v1M193.9 0v1M198.9 0v1M205.9 0v1M214.9 0v1M219.9 0v1M226.9 0v1M231.9 0v1M232.9 0v1M233.9 0v1M244.9 0v1M246.9 0v1"/><path stroke="#fff" stroke-opacity="0.5" d="M22.9 0v1M24.9 0v1M26.9 0v1M34.9 0v1M48.9 0v1M51.9 0v1M58.9 0v1M63.9 0v1M65.9 0v1M80.9 0v1M82.9 0v1M84.9 0v1M85.9 0v1M92.9 0v1M94.9 0v1M97.9 0v1M99.9 0v1M109.9 0v1M125.9 0v1M137.9 0v1M149.9 0v1M157.9 0v1M162.9 0v1M164.9 0v1M174.9 0v1M179.9 0v1M187.9 0v1M189.9 0v1M195.9 0v1M204.9 0v1M209.9 0v1M211.9 0v1M218.9 0v1M241.9 0v1M243.9 0v1M248.9 0v1"/><path stroke="#fff" stroke-opacity="0.67" d="M29.9 0v1M30.9 0v1M33.9 0v1M35.9 0v1M38.9 0v1M41.9 0v1M53.9 0v1M64.9 0v1M71.9 0v1M76.9 0v1M77.9 0v1M78.9 0v1M81.9 0v1M83.9 0v1M87.9 0v1M88.9 0v1M100.9 0v1M102.9 0v1M106.9 0v1M108.9 0v1M118.9 0v1M132.9 0v1M136.9 0v1M142.9 0v1M147.9 0v1M148.9 0v1M151.9 0v1M152.9 0v1M156.9 0v1M161.9 0v1M170.9 0v1M172.9 0v1M173.9 0v1M178.9 0v1M180.9 0v1M184.9 0v1M191.9 0v1M192.9 0v1M194.9 0v1M201.9 0v1M207.9 0v1M208.9 0v1M210.9 0v1M217.9 0v1M223.9 0v1M227.9 0v1M228.9 0v1M229.9 0v1"/><path stroke="#fff" stroke-opacity="0.83" d="M23.9 0v1M25.9 0v1M42.9 0v1M54.9 0v1M56.9 0v1M59.9 0v1M60.9 0v1M68.9 0v1M72.9 0v1M74.9 0v1M90.9 0v1M91.9 0v1M104.9 0v1M105.9 0v1M112.9 0v1M114.9 0v1M115.9 0v1M122.9 0v1M126.9 0v1M130.9 0v1M145.9 0v1M150.9 0v1M153.9 0v1M158.9 0v1M163.9 0v1M166.9 0v1M168.9 0v1M202.9 0v1M203.9 0v1M213.9 0v1M221.9 0v1M230.9 0v1M235.9 0v1M236.9 0v1M237.9 0v1M239.9 0v1M240.9 0v1M242.9 0v1M249.9 0v1"/><path stroke="#fff" stroke-opacity="1" d="M31.9 0v1M39.9 0v1M43.9 0v1M46.9 0v1M47.9 0v1M50.9 0v1M52.9 0v1M69.9 0v1M110.9 0v1M113.9 0v1M117.9 0v1M119.9 0v1M120.9 0v1M123.9 0v1M128.9 0v1M133.9 0v1M141.9 0v1M143.9 0v1M155.9 0v1M160.9 0v1M171.9 0v1M181.9 0v1M197.9 0v1M212.9 0v1M215.9 0v1M224.9 0v1"/></g></mask><mask id="hd5" maskUnits="userSpaceOnUse" x="22.4" y="395.2" width="228.5" height="313.8"><g transform="translate(0 395.2) scale(1 313.8)" stroke-width="1"><path stroke="#fff" stroke-opacity="0.17" d="M60.9 0v1M62.9 0v1M64.9 0v1M67.9 0v1M69.9 0v1M74.9 0v1M80.9 0v1M84.9 0v1M86.9 0v1M94.9 0v1M95.9 0v1M119.9 0v1M140.9 0v1M142.9 0v1M151.9 0v1M168.9 0v1M176.9 0v1M184.9 0v1M185.9 0v1M194.9 0v1M196.9 0v1M204.9 0v1M214.9 0v1M234.9 0v1"/><path stroke="#fff" stroke-opacity="0.33" d="M25.9 0v1M30.9 0v1M33.9 0v1M36.9 0v1M37.9 0v1M44.9 0v1M57.9 0v1M58.9 0v1M85.9 0v1M93.9 0v1M97.9 0v1M101.9 0v1M102.9 0v1M117.9 0v1M121.9 0v1M123.9 0v1M130.9 0v1M134.9 0v1M136.9 0v1M137.9 0v1M154.9 0v1M155.9 0v1M160.9 0v1M172.9 0v1M179.9 0v1M180.9 0v1M181.9 0v1M186.9 0v1M189.9 0v1M191.9 0v1M202.9 0v1M205.9 0v1M223.9 0v1M239.9 0v1M246.9 0v1"/><path stroke="#fff" stroke-opacity="0.5" d="M27.9 0v1M41.9 0v1M43.9 0v1M50.9 0v1M54.9 0v1M66.9 0v1M76.9 0v1M98.9 0v1M99.9 0v1M104.9 0v1M105.9 0v1M111.9 0v1M112.9 0v1M114.9 0v1M132.9 0v1M147.9 0v1M148.9 0v1M149.9 0v1M158.9 0v1M161.9 0v1M166.9 0v1M167.9 0v1M173.9 0v1M177.9 0v1M187.9 0v1M190.9 0v1M197.9 0v1M201.9 0v1M206.9 0v1M208.9 0v1M213.9 0v1M216.9 0v1M219.9 0v1M222.9 0v1M231.9 0v1M232.9 0v1M235.9 0v1M240.9 0v1M241.9 0v1M243.9 0v1M249.9 0v1"/><path stroke="#fff" stroke-opacity="0.67" d="M26.9 0v1M29.9 0v1M31.9 0v1M46.9 0v1M48.9 0v1M56.9 0v1M59.9 0v1M71.9 0v1M75.9 0v1M90.9 0v1M92.9 0v1M107.9 0v1M109.9 0v1M116.9 0v1M127.9 0v1M128.9 0v1M131.9 0v1M139.9 0v1M141.9 0v1M146.9 0v1M157.9 0v1M162.9 0v1M165.9 0v1M170.9 0v1M175.9 0v1M188.9 0v1M203.9 0v1M211.9 0v1M212.9 0v1M215.9 0v1M220.9 0v1M229.9 0v1M230.9 0v1M233.9 0v1M238.9 0v1M242.9 0v1M244.9 0v1M247.9 0v1"/><path stroke="#fff" stroke-opacity="0.83" d="M22.9 0v1M23.9 0v1M24.9 0v1M28.9 0v1M34.9 0v1M38.9 0v1M40.9 0v1M42.9 0v1M47.9 0v1M51.9 0v1M52.9 0v1M53.9 0v1M55.9 0v1M70.9 0v1M72.9 0v1M73.9 0v1M77.9 0v1M78.9 0v1M81.9 0v1M88.9 0v1M89.9 0v1M91.9 0v1M96.9 0v1M103.9 0v1M108.9 0v1M113.9 0v1M115.9 0v1M118.9 0v1M120.9 0v1M124.9 0v1M129.9 0v1M133.9 0v1M138.9 0v1M143.9 0v1M144.9 0v1M145.9 0v1M150.9 0v1M152.9 0v1M159.9 0v1M163.9 0v1M164.9 0v1M169.9 0v1M171.9 0v1M174.9 0v1M178.9 0v1M182.9 0v1M183.9 0v1M193.9 0v1M199.9 0v1M200.9 0v1M209.9 0v1M210.9 0v1M217.9 0v1M221.9 0v1M224.9 0v1M225.9 0v1M226.9 0v1M227.9 0v1M228.9 0v1M236.9 0v1M237.9 0v1M248.9 0v1"/><path stroke="#fff" stroke-opacity="1" d="M32.9 0v1M39.9 0v1M45.9 0v1M49.9 0v1M61.9 0v1M65.9 0v1M79.9 0v1M82.9 0v1M83.9 0v1M106.9 0v1M125.9 0v1M135.9 0v1M156.9 0v1M192.9 0v1M195.9 0v1M198.9 0v1M218.9 0v1M245.9 0v1"/></g></mask><mask id="hd6" maskUnits="userSpaceOnUse" x="22.4" y="395.2" width="228.5" height="313.8"><g transform="translate(0 395.2) scale(1 313.8)" stroke-width="1"><path stroke="#fff" stroke-opacity="0.17" d="M24.9 0v1M30.9 0v1M44.9 0v1M47.9 0v1M64.9 0v1M79.9 0v1M100.9 0v1M104.9 0v1M112.9 0v1M113.9 0v1M117.9 0v1M137.9 0v1M139.9 0v1M141.9 0v1M155.9 0v1M196.9 0v1M200.9 0v1M219.9 0v1M221.9 0v1M236.9 0v1M238.9 0v1M239.9 0v1"/><path stroke="#fff" stroke-opacity="0.33" d="M26.9 0v1M40.9 0v1M48.9 0v1M55.9 0v1M56.9 0v1M60.9 0v1M63.9 0v1M70.9 0v1M77.9 0v1M83.9 0v1M85.9 0v1M87.9 0v1M90.9 0v1M91.9 0v1M92.9 0v1M111.9 0v1M114.9 0v1M120.9 0v1M128.9 0v1M135.9 0v1M136.9 0v1M176.9 0v1M181.9 0v1M185.9 0v1M192.9 0v1M201.9 0v1M203.9 0v1M215.9 0v1M220.9 0v1M229.9 0v1M230.9 0v1"/><path stroke="#fff" stroke-opacity="0.5" d="M38.9 0v1M42.9 0v1M46.9 0v1M49.9 0v1M51.9 0v1M52.9 0v1M54.9 0v1M62.9 0v1M68.9 0v1M72.9 0v1M76.9 0v1M81.9 0v1M84.9 0v1M86.9 0v1M93.9 0v1M94.9 0v1M97.9 0v1M116.9 0v1M132.9 0v1M140.9 0v1M148.9 0v1M152.9 0v1M153.9 0v1M162.9 0v1M165.9 0v1M170.9 0v1M172.9 0v1M173.9 0v1M177.9 0v1M178.9 0v1M183.9 0v1M190.9 0v1M191.9 0v1M217.9 0v1M225.9 0v1M231.9 0v1M232.9 0v1M233.9 0v1M243.9 0v1M245.9 0v1M249.9 0v1"/><path stroke="#fff" stroke-opacity="0.67" d="M22.9 0v1M25.9 0v1M29.9 0v1M31.9 0v1M32.9 0v1M34.9 0v1M35.9 0v1M37.9 0v1M59.9 0v1M67.9 0v1M69.9 0v1M73.9 0v1M78.9 0v1M95.9 0v1M96.9 0v1M106.9 0v1M110.9 0v1M122.9 0v1M124.9 0v1M130.9 0v1M134.9 0v1M138.9 0v1M142.9 0v1M143.9 0v1M144.9 0v1M149.9 0v1M150.9 0v1M156.9 0v1M157.9 0v1M159.9 0v1M164.9 0v1M169.9 0v1M174.9 0v1M179.9 0v1M184.9 0v1M186.9 0v1M188.9 0v1M193.9 0v1M194.9 0v1M199.9 0v1M205.9 0v1M206.9 0v1M209.9 0v1M210.9 0v1M211.9 0v1M213.9 0v1M214.9 0v1M216.9 0v1M224.9 0v1M228.9 0v1M234.9 0v1M237.9 0v1M241.9 0v1M246.9 0v1"/><path stroke="#fff" stroke-opacity="0.83" d="M27.9 0v1M33.9 0v1M36.9 0v1M41.9 0v1M43.9 0v1M53.9 0v1M57.9 0v1M61.9 0v1M65.9 0v1M66.9 0v1M74.9 0v1M75.9 0v1M80.9 0v1M82.9 0v1M89.9 0v1M99.9 0v1M101.9 0v1M103.9 0v1M105.9 0v1M115.9 0v1M119.9 0v1M123.9 0v1M126.9 0v1M127.9 0v1M129.9 0v1M131.9 0v1M133.9 0v1M145.9 0v1M147.9 0v1M151.9 0v1M160.9 0v1M168.9 0v1M171.9 0v1M175.9 0v1M180.9 0v1M182.9 0v1M189.9 0v1M195.9 0v1M197.9 0v1M198.9 0v1M207.9 0v1M212.9 0v1M218.9 0v1M222.9 0v1M226.9 0v1M227.9 0v1M240.9 0v1"/><path stroke="#fff" stroke-opacity="1" d="M23.9 0v1M28.9 0v1M39.9 0v1M45.9 0v1M58.9 0v1M71.9 0v1M98.9 0v1M102.9 0v1M109.9 0v1M118.9 0v1M121.9 0v1M125.9 0v1M154.9 0v1M161.9 0v1M163.9 0v1M166.9 0v1M187.9 0v1M204.9 0v1M208.9 0v1M223.9 0v1M235.9 0v1M242.9 0v1M247.9 0v1M248.9 0v1"/></g></mask><mask id="hd7" maskUnits="userSpaceOnUse" x="22.4" y="395.2" width="228.5" height="313.8"><g transform="translate(0 395.2) scale(1 313.8)" stroke-width="1"><path stroke="#fff" stroke-opacity="0.17" d="M23.9 0v1M26.9 0v1M30.9 0v1M32.9 0v1M34.9 0v1M40.9 0v1M45.9 0v1M57.9 0v1M63.9 0v1M68.9 0v1M80.9 0v1M104.9 0v1M115.9 0v1M130.9 0v1M148.9 0v1M149.9 0v1M152.9 0v1M155.9 0v1M173.9 0v1M176.9 0v1M177.9 0v1M183.9 0v1M186.9 0v1M199.9 0v1M205.9 0v1M210.9 0v1M211.9 0v1M218.9 0v1M221.9 0v1M225.9 0v1M236.9 0v1M238.9 0v1M247.9 0v1M249.9 0v1"/><path stroke="#fff" stroke-opacity="0.33" d="M25.9 0v1M37.9 0v1M39.9 0v1M50.9 0v1M58.9 0v1M60.9 0v1M79.9 0v1M89.9 0v1M97.9 0v1M99.9 0v1M109.9 0v1M118.9 0v1M121.9 0v1M125.9 0v1M126.9 0v1M133.9 0v1M140.9 0v1M141.9 0v1M142.9 0v1M165.9 0v1M172.9 0v1M174.9 0v1M175.9 0v1M188.9 0v1M195.9 0v1M198.9 0v1M200.9 0v1M215.9 0v1M220.9 0v1M223.9 0v1M224.9 0v1M229.9 0v1M232.9 0v1M248.9 0v1"/><path stroke="#fff" stroke-opacity="0.5" d="M22.9 0v1M48.9 0v1M62.9 0v1M64.9 0v1M66.9 0v1M70.9 0v1M73.9 0v1M74.9 0v1M84.9 0v1M90.9 0v1M92.9 0v1M100.9 0v1M114.9 0v1M124.9 0v1M129.9 0v1M138.9 0v1M144.9 0v1M146.9 0v1M151.9 0v1M157.9 0v1M163.9 0v1M167.9 0v1M180.9 0v1M185.9 0v1M193.9 0v1M194.9 0v1M201.9 0v1M219.9 0v1M222.9 0v1M237.9 0v1M242.9 0v1M243.9 0v1M245.9 0v1"/><path stroke="#fff" stroke-opacity="0.67" d="M24.9 0v1M46.9 0v1M55.9 0v1M65.9 0v1M67.9 0v1M71.9 0v1M72.9 0v1M78.9 0v1M85.9 0v1M88.9 0v1M94.9 0v1M101.9 0v1M108.9 0v1M116.9 0v1M122.9 0v1M123.9 0v1M134.9 0v1M137.9 0v1M139.9 0v1M145.9 0v1M147.9 0v1M153.9 0v1M156.9 0v1M158.9 0v1M164.9 0v1M178.9 0v1M184.9 0v1M189.9 0v1M190.9 0v1M192.9 0v1M208.9 0v1M214.9 0v1M216.9 0v1M226.9 0v1M241.9 0v1M246.9 0v1"/><path stroke="#fff" stroke-opacity="0.83" d="M29.9 0v1M33.9 0v1M36.9 0v1M38.9 0v1M41.9 0v1M42.9 0v1M43.9 0v1M44.9 0v1M47.9 0v1M52.9 0v1M56.9 0v1M59.9 0v1M61.9 0v1M69.9 0v1M75.9 0v1M77.9 0v1M82.9 0v1M83.9 0v1M87.9 0v1M91.9 0v1M93.9 0v1M96.9 0v1M102.9 0v1M103.9 0v1M105.9 0v1M106.9 0v1M107.9 0v1M110.9 0v1M111.9 0v1M112.9 0v1M117.9 0v1M119.9 0v1M127.9 0v1M128.9 0v1M131.9 0v1M132.9 0v1M136.9 0v1M143.9 0v1M154.9 0v1M162.9 0v1M166.9 0v1M169.9 0v1M170.9 0v1M179.9 0v1M204.9 0v1M206.9 0v1M207.9 0v1M212.9 0v1M217.9 0v1M228.9 0v1M234.9 0v1M235.9 0v1M240.9 0v1M244.9 0v1"/><path stroke="#fff" stroke-opacity="1" d="M31.9 0v1M49.9 0v1M51.9 0v1M76.9 0v1M81.9 0v1M86.9 0v1M95.9 0v1M113.9 0v1M120.9 0v1M135.9 0v1M150.9 0v1M161.9 0v1M168.9 0v1M171.9 0v1M181.9 0v1M182.9 0v1M187.9 0v1M191.9 0v1M196.9 0v1M197.9 0v1M202.9 0v1M203.9 0v1M209.9 0v1M213.9 0v1M231.9 0v1M233.9 0v1M239.9 0v1"/></g></mask><mask id="hs0" maskUnits="userSpaceOnUse" x="22.4" y="395.2" width="228.5" height="313.8"><g transform="translate(0 395.2) scale(1 313.8)" stroke-width="1"><path stroke="#fff" stroke-opacity="0.17" d="M59.9 0v1M67.9 0v1M102.9 0v1M105.9 0v1M114.9 0v1M179.9 0v1M209.9 0v1"/><path stroke="#fff" stroke-opacity="0.33" d="M27.9 0v1M56.9 0v1M151.9 0v1M215.9 0v1"/><path stroke="#fff" stroke-opacity="0.5" d="M39.9 0v1M43.9 0v1M53.9 0v1M82.9 0v1M118.9 0v1M149.9 0v1M180.9 0v1M200.9 0v1M212.9 0v1M218.9 0v1"/><path stroke="#fff" stroke-opacity="0.67" d="M30.9 0v1M36.9 0v1M55.9 0v1M60.9 0v1M63.9 0v1M84.9 0v1M119.9 0v1M121.9 0v1M141.9 0v1M159.9 0v1M173.9 0v1M184.9 0v1"/><path stroke="#fff" stroke-opacity="0.83" d="M24.9 0v1M45.9 0v1M48.9 0v1M71.9 0v1M80.9 0v1M87.9 0v1M94.9 0v1M112.9 0v1M123.9 0v1M189.9 0v1M232.9 0v1M233.9 0v1"/><path stroke="#fff" stroke-opacity="1" d="M33.9 0v1M34.9 0v1M76.9 0v1M100.9 0v1"/></g></mask><mask id="hs1" maskUnits="userSpaceOnUse" x="22.4" y="395.2" width="228.5" height="313.8"><g transform="translate(0 395.2) scale(1 313.8)" stroke-width="1"><path stroke="#fff" stroke-opacity="0.17" d="M37.9 0v1M104.9 0v1M152.9 0v1M219.9 0v1M223.9 0v1"/><path stroke="#fff" stroke-opacity="0.33" d="M80.9 0v1M102.9 0v1M114.9 0v1M156.9 0v1M161.9 0v1M191.9 0v1M208.9 0v1M224.9 0v1M241.9 0v1"/><path stroke="#fff" stroke-opacity="0.5" d="M27.9 0v1M35.9 0v1M54.9 0v1M67.9 0v1M77.9 0v1M86.9 0v1M90.9 0v1M145.9 0v1M163.9 0v1M166.9 0v1M199.9 0v1M227.9 0v1"/><path stroke="#fff" stroke-opacity="0.67" d="M28.9 0v1M94.9 0v1M105.9 0v1M149.9 0v1M182.9 0v1M195.9 0v1"/><path stroke="#fff" stroke-opacity="0.83" d="M158.9 0v1M160.9 0v1M174.9 0v1M181.9 0v1M201.9 0v1M209.9 0v1M229.9 0v1M236.9 0v1M239.9 0v1M242.9 0v1M245.9 0v1"/><path stroke="#fff" stroke-opacity="1" d="M30.9 0v1M71.9 0v1M115.9 0v1M120.9 0v1M126.9 0v1M146.9 0v1M170.9 0v1M243.9 0v1"/></g></mask><mask id="hs2" maskUnits="userSpaceOnUse" x="22.4" y="395.2" width="228.5" height="313.8"><g transform="translate(0 395.2) scale(1 313.8)" stroke-width="1"><path stroke="#fff" stroke-opacity="0.17" d="M68.9 0v1M75.9 0v1M122.9 0v1M142.9 0v1"/><path stroke="#fff" stroke-opacity="0.33" d="M162.9 0v1M172.9 0v1M199.9 0v1M244.9 0v1"/><path stroke="#fff" stroke-opacity="0.5" d="M43.9 0v1M45.9 0v1M66.9 0v1M72.9 0v1M117.9 0v1M120.9 0v1M138.9 0v1M185.9 0v1M186.9 0v1M202.9 0v1M216.9 0v1M226.9 0v1M240.9 0v1"/><path stroke="#fff" stroke-opacity="0.67" d="M56.9 0v1M81.9 0v1M83.9 0v1M95.9 0v1M109.9 0v1M165.9 0v1M177.9 0v1M183.9 0v1M201.9 0v1M220.9 0v1M221.9 0v1M231.9 0v1M241.9 0v1"/><path stroke="#fff" stroke-opacity="0.83" d="M30.9 0v1M34.9 0v1M35.9 0v1M46.9 0v1M61.9 0v1M70.9 0v1M78.9 0v1M98.9 0v1M102.9 0v1M119.9 0v1M124.9 0v1M125.9 0v1M152.9 0v1M175.9 0v1M193.9 0v1M198.9 0v1M211.9 0v1M230.9 0v1M235.9 0v1M249.9 0v1"/><path stroke="#fff" stroke-opacity="1" d="M22.9 0v1M76.9 0v1M84.9 0v1M191.9 0v1M195.9 0v1M223.9 0v1"/></g></mask><mask id="hs3" maskUnits="userSpaceOnUse" x="22.4" y="395.2" width="228.5" height="313.8"><g transform="translate(0 395.2) scale(1 313.8)" stroke-width="1"><path stroke="#fff" stroke-opacity="0.17" d="M82.9 0v1M170.9 0v1M178.9 0v1M229.9 0v1"/><path stroke="#fff" stroke-opacity="0.33" d="M28.9 0v1M38.9 0v1M91.9 0v1M102.9 0v1M115.9 0v1M139.9 0v1M175.9 0v1M233.9 0v1M240.9 0v1"/><path stroke="#fff" stroke-opacity="0.5" d="M25.9 0v1M36.9 0v1M68.9 0v1M105.9 0v1M120.9 0v1M126.9 0v1M235.9 0v1"/><path stroke="#fff" stroke-opacity="0.67" d="M34.9 0v1M48.9 0v1M98.9 0v1M106.9 0v1M127.9 0v1M136.9 0v1M190.9 0v1M193.9 0v1M207.9 0v1M243.9 0v1"/><path stroke="#fff" stroke-opacity="0.83" d="M109.9 0v1M112.9 0v1M140.9 0v1M141.9 0v1M189.9 0v1M203.9 0v1M208.9 0v1M217.9 0v1M226.9 0v1M232.9 0v1"/><path stroke="#fff" stroke-opacity="1" d="M26.9 0v1M133.9 0v1M173.9 0v1M222.9 0v1M231.9 0v1"/></g></mask><mask id="hs4" maskUnits="userSpaceOnUse" x="22.4" y="395.2" width="228.5" height="313.8"><g transform="translate(0 395.2) scale(1 313.8)" stroke-width="1"><path stroke="#fff" stroke-opacity="0.17" d="M36.9 0v1M63.9 0v1M190.9 0v1M218.9 0v1"/><path stroke="#fff" stroke-opacity="0.33" d="M35.9 0v1M114.9 0v1M134.9 0v1M136.9 0v1M188.9 0v1"/><path stroke="#fff" stroke-opacity="0.5" d="M23.9 0v1M27.9 0v1M111.9 0v1M116.9 0v1M120.9 0v1M144.9 0v1M148.9 0v1M202.9 0v1M213.9 0v1M228.9 0v1M243.9 0v1"/><path stroke="#fff" stroke-opacity="0.67" d="M22.9 0v1M57.9 0v1M142.9 0v1M170.9 0v1M246.9 0v1"/><path stroke="#fff" stroke-opacity="0.83" d="M24.9 0v1M25.9 0v1M41.9 0v1M67.9 0v1M73.9 0v1M105.9 0v1M127.9 0v1M164.9 0v1M184.9 0v1M189.9 0v1M193.9 0v1M196.9 0v1M245.9 0v1"/><path stroke="#fff" stroke-opacity="1" d="M31.9 0v1M56.9 0v1M99.9 0v1M159.9 0v1M204.9 0v1M226.9 0v1M247.9 0v1"/></g></mask><mask id="hs5" maskUnits="userSpaceOnUse" x="22.4" y="395.2" width="228.5" height="313.8"><g transform="translate(0 395.2) scale(1 313.8)" stroke-width="1"><path stroke="#fff" stroke-opacity="0.17" d="M28.9 0v1M36.9 0v1M106.9 0v1M115.9 0v1M213.9 0v1"/><path stroke="#fff" stroke-opacity="0.33" d="M72.9 0v1M100.9 0v1M127.9 0v1M137.9 0v1M150.9 0v1M154.9 0v1M223.9 0v1M230.9 0v1M244.9 0v1"/><path stroke="#fff" stroke-opacity="0.5" d="M50.9 0v1M83.9 0v1M114.9 0v1M128.9 0v1M153.9 0v1M155.9 0v1M193.9 0v1M219.9 0v1"/><path stroke="#fff" stroke-opacity="0.67" d="M54.9 0v1M68.9 0v1M78.9 0v1M89.9 0v1M90.9 0v1M94.9 0v1M95.9 0v1M96.9 0v1M108.9 0v1M110.9 0v1M111.9 0v1M132.9 0v1M140.9 0v1M165.9 0v1M206.9 0v1M212.9 0v1M243.9 0v1"/><path stroke="#fff" stroke-opacity="0.83" d="M26.9 0v1M29.9 0v1M38.9 0v1M47.9 0v1M58.9 0v1M87.9 0v1M168.9 0v1M173.9 0v1M228.9 0v1M229.9 0v1M242.9 0v1"/><path stroke="#fff" stroke-opacity="1" d="M27.9 0v1M44.9 0v1M59.9 0v1M120.9 0v1M147.9 0v1M170.9 0v1M188.9 0v1"/></g></mask><mask id="hs6" maskUnits="userSpaceOnUse" x="22.4" y="395.2" width="228.5" height="313.8"><g transform="translate(0 395.2) scale(1 313.8)" stroke-width="1"><path stroke="#fff" stroke-opacity="0.17" d="M243.9 0v1"/><path stroke="#fff" stroke-opacity="0.33" d="M88.9 0v1M169.9 0v1M178.9 0v1M183.9 0v1M220.9 0v1M229.9 0v1M238.9 0v1"/><path stroke="#fff" stroke-opacity="0.5" d="M50.9 0v1M55.9 0v1M79.9 0v1M80.9 0v1M84.9 0v1M86.9 0v1M123.9 0v1M141.9 0v1M142.9 0v1M179.9 0v1M209.9 0v1M214.9 0v1"/><path stroke="#fff" stroke-opacity="0.67" d="M22.9 0v1M29.9 0v1M53.9 0v1M72.9 0v1M76.9 0v1M118.9 0v1M166.9 0v1M177.9 0v1M193.9 0v1M195.9 0v1M208.9 0v1M235.9 0v1"/><path stroke="#fff" stroke-opacity="0.83" d="M42.9 0v1M78.9 0v1M99.9 0v1M112.9 0v1M136.9 0v1M153.9 0v1M162.9 0v1M170.9 0v1M175.9 0v1M182.9 0v1M188.9 0v1M189.9 0v1M192.9 0v1M216.9 0v1M219.9 0v1M230.9 0v1M244.9 0v1"/><path stroke="#fff" stroke-opacity="1" d="M51.9 0v1M93.9 0v1"/></g></mask><mask id="hs7" maskUnits="userSpaceOnUse" x="22.4" y="395.2" width="228.5" height="313.8"><g transform="translate(0 395.2) scale(1 313.8)" stroke-width="1"><path stroke="#fff" stroke-opacity="0.17" d="M23.9 0v1M78.9 0v1M81.9 0v1M105.9 0v1M127.9 0v1M208.9 0v1M210.9 0v1M216.9 0v1"/><path stroke="#fff" stroke-opacity="0.33" d="M26.9 0v1M49.9 0v1M53.9 0v1M70.9 0v1M163.9 0v1M186.9 0v1M189.9 0v1M200.9 0v1M231.9 0v1M236.9 0v1"/><path stroke="#fff" stroke-opacity="0.5" d="M44.9 0v1M114.9 0v1M121.9 0v1M152.9 0v1M192.9 0v1M209.9 0v1"/><path stroke="#fff" stroke-opacity="0.67" d="M37.9 0v1M52.9 0v1M60.9 0v1M94.9 0v1M113.9 0v1M124.9 0v1M178.9 0v1M233.9 0v1"/><path stroke="#fff" stroke-opacity="0.83" d="M39.9 0v1M59.9 0v1M84.9 0v1M93.9 0v1M95.9 0v1M98.9 0v1M109.9 0v1M110.9 0v1M118.9 0v1M128.9 0v1M141.9 0v1M172.9 0v1M199.9 0v1M225.9 0v1M247.9 0v1"/><path stroke="#fff" stroke-opacity="1" d="M27.9 0v1M42.9 0v1M68.9 0v1M91.9 0v1M115.9 0v1M145.9 0v1M222.9 0v1M237.9 0v1M244.9 0v1"/></g></mask></defs>
<rect x="22.4" y="395.2" width="20.75" height="5.24" fill="#414487"/>
<rect x="43.1" y="395.2" width="13.85" height="5.24" fill="#228b8d"/>
<rect x="56.9" y="395.2" width="6.35" height="5.24" fill="#481c6e"/>
<rect x="63.2" y="395.2" width="34.05" height="5.24" fill="#481c6e"/>
<rect x="97.2" y="395.2" width="16.35" height="5.24" fill="#481c6e"/>
<rect x="113.5" y="395.2" width="34.35" height="5.24" fill="#460b5e"/>
<rect x="147.8" y="395.2" width="34.55" height="5.24" fill="#460a5d"/>
<rect x="182.3" y="395.2" width="34.15" height="5.24" fill="#460a5d"/>
<rect x="216.4" y="395.2" width="34.55" height="5.24" fill="#460a5d"/>
<rect x="22.4" y="399.44" width="19.03" height="5.24" fill="#404688"/>
<rect x="41.38" y="399.44" width="15.57" height="5.24" fill="#2a788e"/>
<rect x="56.9" y="399.44" width="6.35" height="5.24" fill="#460a5d"/>
<rect x="63.2" y="399.44" width="34.05" height="5.24" fill="#482576"/>
<rect x="97.2" y="399.44" width="16.35" height="5.24" fill="#481c6e"/>
<rect x="113.5" y="399.44" width="34.35" height="5.24" fill="#472d7b"/>
<rect x="147.8" y="399.44" width="34.55" height="5.24" fill="#46327e"/>
<rect x="182.3" y="399.44" width="34.15" height="5.24" fill="#46327e"/>
<rect x="216.4" y="399.44" width="34.55" height="5.24" fill="#463480"/>
<rect x="22.4" y="403.68" width="17.3" height="5.24" fill="#355f8d"/>
<rect x="39.65" y="403.68" width="17.3" height="5.24" fill="#287d8e"/>
<rect x="56.9" y="403.68" width="6.35" height="5.24" fill="#450559"/>
<rect x="63.2" y="403.68" width="34.05" height="5.24" fill="#460a5d"/>
<rect x="97.2" y="403.68" width="16.35" height="5.24" fill="#460a5d"/>
<rect x="113.5" y="403.68" width="34.35" height="5.24" fill="#460a5d"/>
<rect x="147.8" y="403.68" width="34.55" height="5.24" fill="#460a5d"/>
<rect x="182.3" y="403.68" width="34.15" height="5.24" fill="#460a5d"/>
<rect x="216.4" y="403.68" width="34.55" height="5.24" fill="#460a5d"/>
<rect x="22.4" y="407.92" width="17.3" height="5.24" fill="#32648e"/>
<rect x="39.65" y="407.92" width="17.3" height="5.24" fill="#2a788e"/>
<rect x="56.9" y="407.92" width="6.35" height="5.24" fill="#450559"/>
<rect x="63.2" y="407.92" width="34.05" height="5.24" fill="#460a5d"/>
<rect x="97.2" y="407.92" width="16.35" height="5.24" fill="#460a5d"/>
<rect x="113.5" y="407.92" width="34.35" height="5.24" fill="#46085c"/>
<rect x="147.8" y="407.92" width="34.55" height="5.24" fill="#482576"/>
<rect x="182.3" y="407.92" width="34.15" height="5.24" fill="#482576"/>
<rect x="216.4" y="407.92" width="34.55" height="5.24" fill="#481c6e"/>
<rect x="22.4" y="412.16" width="34.55" height="5.24" fill="#3e4989"/>
<rect x="56.9" y="412.16" width="6.35" height="5.24" fill="#450559"/>
<rect x="63.2" y="412.16" width="34.05" height="5.24" fill="#46075a"/>
<rect x="97.2" y="412.16" width="16.35" height="5.24" fill="#46075a"/>
<rect x="113.5" y="412.16" width="34.35" height="5.24" fill="#450559"/>
<rect x="147.8" y="412.16" width="34.55" height="5.24" fill="#460a5d"/>
<rect x="182.3" y="412.16" width="34.15" height="5.24" fill="#46075a"/>
<rect x="216.4" y="412.16" width="34.55" height="5.24" fill="#460a5d"/>
<rect x="22.4" y="416.4" width="22.48" height="5.24" fill="#440256"/>
<rect x="44.83" y="416.4" width="12.12" height="5.24" fill="#46327e"/>
<rect x="56.9" y="416.4" width="6.35" height="5.24" fill="#440256"/>
<rect x="63.2" y="416.4" width="34.05" height="5.24" fill="#440256"/>
<rect x="97.2" y="416.4" width="16.35" height="5.24" fill="#440256"/>
<rect x="113.5" y="416.4" width="34.35" height="5.24" fill="#440256"/>
<rect x="147.8" y="416.4" width="34.55" height="5.24" fill="#450457"/>
<rect x="182.3" y="416.4" width="34.15" height="5.24" fill="#440256"/>
<rect x="216.4" y="416.4" width="34.55" height="5.24" fill="#450457"/>
<rect x="22.4" y="420.64" width="13.85" height="5.24" fill="#440256"/>
<rect x="36.2" y="420.64" width="20.75" height="5.24" fill="#46327e"/>
<rect x="56.9" y="420.64" width="6.35" height="5.24" fill="#440256"/>
<rect x="63.2" y="420.64" width="34.05" height="5.24" fill="#440256"/>
<rect x="97.2" y="420.64" width="16.35" height="5.24" fill="#440256"/>
<rect x="113.5" y="420.64" width="34.35" height="5.24" fill="#440256"/>
<rect x="147.8" y="420.64" width="34.55" height="5.24" fill="#450457"/>
<rect x="182.3" y="420.64" width="34.15" height="5.24" fill="#450457"/>
<rect x="216.4" y="420.64" width="34.55" height="5.24" fill="#450457"/>
<rect x="22.4" y="424.88" width="34.55" height="5.24" fill="#2f6c8e"/>
<rect x="56.9" y="424.88" width="6.35" height="5.24" fill="#460a5d"/>
<rect x="63.2" y="424.88" width="34.05" height="5.24" fill="#482576"/>
<rect x="97.2" y="424.88" width="16.35" height="5.24" fill="#481c6e"/>
<rect x="113.5" y="424.88" width="34.35" height="5.24" fill="#482576"/>
<rect x="147.8" y="424.88" width="34.55" height="5.24" fill="#46327e"/>
<rect x="182.3" y="424.88" width="34.15" height="5.24" fill="#46327e"/>
<rect x="216.4" y="424.88" width="34.55" height="5.24" fill="#46327e"/>
<rect x="22.4" y="429.12" width="34.55" height="5.24" fill="#3e4989"/>
<rect x="56.9" y="429.12" width="6.35" height="5.24" fill="#450559"/>
<rect x="63.2" y="429.12" width="34.05" height="5.24" fill="#460a5d"/>
<rect x="97.2" y="429.12" width="16.35" height="5.24" fill="#460a5d"/>
<rect x="113.5" y="429.12" width="34.35" height="5.24" fill="#460b5e"/>
<rect x="147.8" y="429.12" width="34.55" height="5.24" fill="#424086"/>
<rect x="182.3" y="429.12" width="34.15" height="5.24" fill="#481c6e"/>
<rect x="216.4" y="429.12" width="34.55" height="5.24" fill="#482576"/>
<rect x="22.4" y="433.36" width="34.55" height="5.24" fill="#21918c"/>
<rect x="56.9" y="433.36" width="6.35" height="5.24" fill="#3e4989"/>
<rect x="63.2" y="433.36" width="34.05" height="5.24" fill="#3e4989"/>
<rect x="97.2" y="433.36" width="16.35" height="5.24" fill="#424086"/>
<rect x="113.5" y="433.36" width="34.35" height="5.24" fill="#453781"/>
<rect x="147.8" y="433.36" width="34.55" height="5.24" fill="#463480"/>
<rect x="182.3" y="433.36" width="34.15" height="5.24" fill="#3e4989"/>
<rect x="216.4" y="433.36" width="34.55" height="5.24" fill="#424086"/>
<rect x="22.4" y="437.61" width="34.55" height="5.24" fill="#440154"/>
<rect x="56.9" y="437.61" width="6.35" height="5.24" fill="#355f8d"/>
<rect x="63.2" y="437.61" width="34.05" height="5.24" fill="#450457"/>
<rect x="97.2" y="437.61" width="16.35" height="5.24" fill="#440256"/>
<rect x="113.5" y="437.61" width="34.35" height="5.24" fill="#440256"/>
<rect x="147.8" y="437.61" width="34.55" height="5.24" fill="#440256"/>
<rect x="182.3" y="437.61" width="34.15" height="5.24" fill="#440256"/>
<rect x="216.4" y="437.61" width="34.55" height="5.24" fill="#440256"/>
<rect x="22.4" y="441.85" width="34.55" height="5.24" fill="#440154"/>
<rect x="56.9" y="441.85" width="6.35" height="5.24" fill="#22a884"/>
<rect x="63.2" y="441.85" width="34.05" height="5.24" fill="#450457"/>
<rect x="97.2" y="441.85" width="16.35" height="5.24" fill="#440256"/>
<rect x="113.5" y="441.85" width="34.35" height="5.24" fill="#440256"/>
<rect x="147.8" y="441.85" width="34.55" height="5.24" fill="#440256"/>
<rect x="182.3" y="441.85" width="34.15" height="5.24" fill="#440256"/>
<rect x="216.4" y="441.85" width="34.55" height="5.24" fill="#440256"/>
<rect x="22.4" y="446.09" width="34.55" height="5.24" fill="#440154"/>
<rect x="56.9" y="446.09" width="6.35" height="5.24" fill="#32648e"/>
<rect x="63.2" y="446.09" width="34.05" height="5.24" fill="#450457"/>
<rect x="97.2" y="446.09" width="16.35" height="5.24" fill="#440256"/>
<rect x="113.5" y="446.09" width="34.35" height="5.24" fill="#440256"/>
<rect x="147.8" y="446.09" width="34.55" height="5.24" fill="#440256"/>
<rect x="182.3" y="446.09" width="34.15" height="5.24" fill="#440256"/>
<rect x="216.4" y="446.09" width="34.55" height="5.24" fill="#440256"/>
<rect x="22.4" y="450.33" width="34.55" height="5.24" fill="#440154"/>
<rect x="56.9" y="450.33" width="6.35" height="5.24" fill="#2a788e"/>
<rect x="63.2" y="450.33" width="34.05" height="5.24" fill="#450457"/>
<rect x="97.2" y="450.33" width="16.35" height="5.24" fill="#440256"/>
<rect x="113.5" y="450.33" width="34.35" height="5.24" fill="#440256"/>
<rect x="147.8" y="450.33" width="34.55" height="5.24" fill="#440256"/>
<rect x="182.3" y="450.33" width="34.15" height="5.24" fill="#440256"/>
<rect x="216.4" y="450.33" width="34.55" height="5.24" fill="#440256"/>
<rect x="22.4" y="454.57" width="34.55" height="5.24" fill="#440154"/>
<rect x="56.9" y="454.57" width="6.35" height="5.24" fill="#355f8d"/>
<rect x="63.2" y="454.57" width="34.05" height="5.24" fill="#450457"/>
<rect x="97.2" y="454.57" width="16.35" height="5.24" fill="#440256"/>
<rect x="113.5" y="454.57" width="34.35" height="5.24" fill="#440256"/>
<rect x="147.8" y="454.57" width="34.55" height="5.24" fill="#440256"/>
<rect x="182.3" y="454.57" width="34.15" height="5.24" fill="#440256"/>
<rect x="216.4" y="454.57" width="34.55" height="5.24" fill="#440256"/>
<rect x="22.4" y="458.81" width="34.55" height="5.24" fill="#440154"/>
<rect x="56.9" y="458.81" width="6.35" height="5.24" fill="#2a788e"/>
<rect x="63.2" y="458.81" width="34.05" height="5.24" fill="#450457"/>
<rect x="97.2" y="458.81" width="16.35" height="5.24" fill="#440256"/>
<rect x="113.5" y="458.81" width="34.35" height="5.24" fill="#440256"/>
<rect x="147.8" y="458.81" width="34.55" height="5.24" fill="#440256"/>
<rect x="182.3" y="458.81" width="34.15" height="5.24" fill="#440256"/>
<rect x="216.4" y="458.81" width="34.55" height="5.24" fill="#440256"/>
<rect x="22.4" y="463.05" width="34.55" height="5.24" fill="#440154"/>
<rect x="56.9" y="463.05" width="6.35" height="5.24" fill="#355f8d"/>
<rect x="63.2" y="463.05" width="34.05" height="5.24" fill="#450457"/>
<rect x="97.2" y="463.05" width="16.35" height="5.24" fill="#440256"/>
<rect x="113.5" y="463.05" width="34.35" height="5.24" fill="#440256"/>
<rect x="147.8" y="463.05" width="34.55" height="5.24" fill="#440256"/>
<rect x="182.3" y="463.05" width="34.15" height="5.24" fill="#440256"/>
<rect x="216.4" y="463.05" width="34.55" height="5.24" fill="#440256"/>
<rect x="22.4" y="467.29" width="34.55" height="5.24" fill="#440154"/>
<rect x="56.9" y="467.29" width="6.35" height="5.24" fill="#2a788e"/>
<rect x="63.2" y="467.29" width="34.05" height="5.24" fill="#450457"/>
<rect x="97.2" y="467.29" width="16.35" height="5.24" fill="#440256"/>
<rect x="113.5" y="467.29" width="34.35" height="5.24" fill="#440256"/>
<rect x="147.8" y="467.29" width="34.55" height="5.24" fill="#440256"/>
<rect x="182.3" y="467.29" width="34.15" height="5.24" fill="#440256"/>
<rect x="216.4" y="467.29" width="34.55" height="5.24" fill="#440256"/>
<rect x="22.4" y="471.53" width="34.55" height="5.24" fill="#440154"/>
<rect x="56.9" y="471.53" width="6.35" height="5.24" fill="#355f8d"/>
<rect x="63.2" y="471.53" width="34.05" height="5.24" fill="#424086"/>
<rect x="97.2" y="471.53" width="16.35" height="5.24" fill="#450559"/>
<rect x="113.5" y="471.53" width="34.35" height="5.24" fill="#440256"/>
<rect x="147.8" y="471.53" width="34.55" height="5.24" fill="#440256"/>
<rect x="182.3" y="471.53" width="34.15" height="5.24" fill="#440256"/>
<rect x="216.4" y="471.53" width="34.55" height="5.24" fill="#440256"/>
<rect x="22.4" y="475.77" width="34.55" height="5.24" fill="#440154"/>
<rect x="56.9" y="475.77" width="6.35" height="5.24" fill="#2f6c8e"/>
<rect x="63.2" y="475.77" width="34.05" height="5.24" fill="#450457"/>
<rect x="97.2" y="475.77" width="16.35" height="5.24" fill="#440256"/>
<rect x="113.5" y="475.77" width="34.35" height="5.24" fill="#440256"/>
<rect x="147.8" y="475.77" width="34.55" height="5.24" fill="#440256"/>
<rect x="182.3" y="475.77" width="34.15" height="5.24" fill="#440256"/>
<rect x="216.4" y="475.77" width="34.55" height="5.24" fill="#440256"/>
<rect x="22.4" y="480.01" width="34.55" height="5.24" fill="#440256"/>
<rect x="56.9" y="480.01" width="6.35" height="5.24" fill="#460b5e"/>
<rect x="63.2" y="480.01" width="34.05" height="5.24" fill="#228b8d"/>
<rect x="97.2" y="480.01" width="16.35" height="5.24" fill="#460a5d"/>
<rect x="113.5" y="480.01" width="34.35" height="5.24" fill="#450559"/>
<rect x="147.8" y="480.01" width="34.55" height="5.24" fill="#460a5d"/>
<rect x="182.3" y="480.01" width="34.15" height="5.24" fill="#460a5d"/>
<rect x="216.4" y="480.01" width="34.55" height="5.24" fill="#460a5d"/>
<rect x="22.4" y="484.25" width="34.55" height="5.24" fill="#440256"/>
<rect x="56.9" y="484.25" width="6.35" height="5.24" fill="#46075a"/>
<rect x="63.2" y="484.25" width="34.05" height="5.24" fill="#3d4d8a"/>
<rect x="97.2" y="484.25" width="16.35" height="5.24" fill="#450559"/>
<rect x="113.5" y="484.25" width="34.35" height="5.24" fill="#450457"/>
<rect x="147.8" y="484.25" width="34.55" height="5.24" fill="#450559"/>
<rect x="182.3" y="484.25" width="34.15" height="5.24" fill="#450559"/>
<rect x="216.4" y="484.25" width="34.55" height="5.24" fill="#450559"/>
<rect x="22.4" y="488.49" width="34.55" height="5.24" fill="#440256"/>
<rect x="56.9" y="488.49" width="6.35" height="5.24" fill="#46075a"/>
<rect x="63.2" y="488.49" width="34.05" height="5.24" fill="#2a788e"/>
<rect x="97.2" y="488.49" width="16.35" height="5.24" fill="#460a5d"/>
<rect x="113.5" y="488.49" width="34.35" height="5.24" fill="#450559"/>
<rect x="147.8" y="488.49" width="34.55" height="5.24" fill="#46075a"/>
<rect x="182.3" y="488.49" width="34.15" height="5.24" fill="#450559"/>
<rect x="216.4" y="488.49" width="34.55" height="5.24" fill="#46075a"/>
<rect x="22.4" y="492.73" width="34.55" height="5.24" fill="#440256"/>
<rect x="56.9" y="492.73" width="6.35" height="5.24" fill="#450559"/>
<rect x="63.2" y="492.73" width="34.05" height="5.24" fill="#3d4d8a"/>
<rect x="97.2" y="492.73" width="16.35" height="5.24" fill="#440256"/>
<rect x="113.5" y="492.73" width="34.35" height="5.24" fill="#450457"/>
<rect x="147.8" y="492.73" width="34.55" height="5.24" fill="#450559"/>
<rect x="182.3" y="492.73" width="34.15" height="5.24" fill="#450457"/>
<rect x="216.4" y="492.73" width="34.55" height="5.24" fill="#450559"/>
<rect x="22.4" y="496.97" width="34.55" height="5.24" fill="#440256"/>
<rect x="56.9" y="496.97" width="6.35" height="5.24" fill="#46075a"/>
<rect x="63.2" y="496.97" width="34.05" height="5.24" fill="#3b528b"/>
<rect x="97.2" y="496.97" width="16.35" height="5.24" fill="#440256"/>
<rect x="113.5" y="496.97" width="34.35" height="5.24" fill="#450457"/>
<rect x="147.8" y="496.97" width="34.55" height="5.24" fill="#450559"/>
<rect x="182.3" y="496.97" width="34.15" height="5.24" fill="#450457"/>
<rect x="216.4" y="496.97" width="34.55" height="5.24" fill="#450559"/>
<rect x="22.4" y="501.21" width="34.55" height="5.24" fill="#440256"/>
<rect x="56.9" y="501.21" width="6.35" height="5.24" fill="#450559"/>
<rect x="63.2" y="501.21" width="34.05" height="5.24" fill="#404688"/>
<rect x="97.2" y="501.21" width="16.35" height="5.24" fill="#440256"/>
<rect x="113.5" y="501.21" width="34.35" height="5.24" fill="#450457"/>
<rect x="147.8" y="501.21" width="34.55" height="5.24" fill="#450559"/>
<rect x="182.3" y="501.21" width="34.15" height="5.24" fill="#450457"/>
<rect x="216.4" y="501.21" width="34.55" height="5.24" fill="#450559"/>
<rect x="22.4" y="505.45" width="34.55" height="5.24" fill="#440256"/>
<rect x="56.9" y="505.45" width="6.35" height="5.24" fill="#46075a"/>
<rect x="63.2" y="505.45" width="34.05" height="5.24" fill="#2c738e"/>
<rect x="97.2" y="505.45" width="16.35" height="5.24" fill="#481c6e"/>
<rect x="113.5" y="505.45" width="34.35" height="5.24" fill="#450559"/>
<rect x="147.8" y="505.45" width="34.55" height="5.24" fill="#46075a"/>
<rect x="182.3" y="505.45" width="34.15" height="5.24" fill="#450559"/>
<rect x="216.4" y="505.45" width="34.55" height="5.24" fill="#46075a"/>
<rect x="22.4" y="509.69" width="34.55" height="5.24" fill="#440256"/>
<rect x="56.9" y="509.69" width="6.35" height="5.24" fill="#460a5d"/>
<rect x="63.2" y="509.69" width="34.05" height="5.24" fill="#2c738e"/>
<rect x="97.2" y="509.69" width="16.35" height="5.24" fill="#3b528b"/>
<rect x="113.5" y="509.69" width="34.35" height="5.24" fill="#450559"/>
<rect x="147.8" y="509.69" width="34.55" height="5.24" fill="#450559"/>
<rect x="182.3" y="509.69" width="34.15" height="5.24" fill="#450559"/>
<rect x="216.4" y="509.69" width="34.55" height="5.24" fill="#450559"/>
<rect x="22.4" y="513.94" width="34.55" height="5.24" fill="#482576"/>
<rect x="56.9" y="513.94" width="6.35" height="5.24" fill="#46075a"/>
<rect x="63.2" y="513.94" width="34.05" height="5.24" fill="#355f8d"/>
<rect x="97.2" y="513.94" width="16.35" height="5.24" fill="#2c738e"/>
<rect x="113.5" y="513.94" width="34.35" height="5.24" fill="#481c6e"/>
<rect x="147.8" y="513.94" width="34.55" height="5.24" fill="#482576"/>
<rect x="182.3" y="513.94" width="34.15" height="5.24" fill="#482576"/>
<rect x="216.4" y="513.94" width="34.55" height="5.24" fill="#482576"/>
<rect x="22.4" y="518.18" width="34.55" height="5.24" fill="#440256"/>
<rect x="56.9" y="518.18" width="6.35" height="5.24" fill="#450559"/>
<rect x="63.2" y="518.18" width="34.05" height="5.24" fill="#3b528b"/>
<rect x="97.2" y="518.18" width="16.35" height="5.24" fill="#450559"/>
<rect x="113.5" y="518.18" width="34.35" height="5.24" fill="#450457"/>
<rect x="147.8" y="518.18" width="34.55" height="5.24" fill="#450457"/>
<rect x="182.3" y="518.18" width="34.15" height="5.24" fill="#450457"/>
<rect x="216.4" y="518.18" width="34.55" height="5.24" fill="#450457"/>
<rect x="22.4" y="522.42" width="34.55" height="5.24" fill="#440256"/>
<rect x="56.9" y="522.42" width="6.35" height="5.24" fill="#440256"/>
<rect x="63.2" y="522.42" width="34.05" height="5.24" fill="#450559"/>
<rect x="97.2" y="522.42" width="16.35" height="5.24" fill="#25848e"/>
<rect x="113.5" y="522.42" width="34.35" height="5.24" fill="#440256"/>
<rect x="147.8" y="522.42" width="34.55" height="5.24" fill="#440256"/>
<rect x="182.3" y="522.42" width="34.15" height="5.24" fill="#440256"/>
<rect x="216.4" y="522.42" width="34.55" height="5.24" fill="#440256"/>
<rect x="22.4" y="526.66" width="34.55" height="5.24" fill="#481c6e"/>
<rect x="56.9" y="526.66" width="6.35" height="5.24" fill="#460a5d"/>
<rect x="63.2" y="526.66" width="34.05" height="5.24" fill="#46327e"/>
<rect x="97.2" y="526.66" width="16.35" height="5.24" fill="#2a788e"/>
<rect x="113.5" y="526.66" width="34.35" height="5.24" fill="#450559"/>
<rect x="147.8" y="526.66" width="34.55" height="5.24" fill="#482576"/>
<rect x="182.3" y="526.66" width="34.15" height="5.24" fill="#482576"/>
<rect x="216.4" y="526.66" width="34.55" height="5.24" fill="#482576"/>
<rect x="22.4" y="530.9" width="34.55" height="5.24" fill="#3e4989"/>
<rect x="56.9" y="530.9" width="6.35" height="5.24" fill="#46327e"/>
<rect x="63.2" y="530.9" width="34.05" height="5.24" fill="#463480"/>
<rect x="97.2" y="530.9" width="16.35" height="5.24" fill="#2a788e"/>
<rect x="113.5" y="530.9" width="34.35" height="5.24" fill="#424086"/>
<rect x="147.8" y="530.9" width="34.55" height="5.24" fill="#3e4989"/>
<rect x="182.3" y="530.9" width="34.15" height="5.24" fill="#3e4989"/>
<rect x="216.4" y="530.9" width="34.55" height="5.24" fill="#3e4989"/>
<rect x="22.4" y="535.14" width="34.55" height="5.24" fill="#450559"/>
<rect x="56.9" y="535.14" width="6.35" height="5.24" fill="#440256"/>
<rect x="63.2" y="535.14" width="34.05" height="5.24" fill="#450559"/>
<rect x="97.2" y="535.14" width="16.35" height="5.24" fill="#463480"/>
<rect x="113.5" y="535.14" width="34.35" height="5.24" fill="#440256"/>
<rect x="147.8" y="535.14" width="34.55" height="5.24" fill="#46075a"/>
<rect x="182.3" y="535.14" width="34.15" height="5.24" fill="#450559"/>
<rect x="216.4" y="535.14" width="34.55" height="5.24" fill="#450559"/>
<rect x="22.4" y="539.38" width="34.55" height="5.24" fill="#460a5d"/>
<rect x="56.9" y="539.38" width="6.35" height="5.24" fill="#450559"/>
<rect x="63.2" y="539.38" width="34.05" height="5.24" fill="#46327e"/>
<rect x="97.2" y="539.38" width="16.35" height="5.24" fill="#355f8d"/>
<rect x="113.5" y="539.38" width="34.35" height="5.24" fill="#450559"/>
<rect x="147.8" y="539.38" width="34.55" height="5.24" fill="#460a5d"/>
<rect x="182.3" y="539.38" width="34.15" height="5.24" fill="#460a5d"/>
<rect x="216.4" y="539.38" width="34.55" height="5.24" fill="#46075a"/>
<rect x="22.4" y="543.62" width="34.55" height="5.24" fill="#440256"/>
<rect x="56.9" y="543.62" width="6.35" height="5.24" fill="#440256"/>
<rect x="63.2" y="543.62" width="34.05" height="5.24" fill="#450559"/>
<rect x="97.2" y="543.62" width="16.35" height="5.24" fill="#463480"/>
<rect x="113.5" y="543.62" width="34.35" height="5.24" fill="#440256"/>
<rect x="147.8" y="543.62" width="34.55" height="5.24" fill="#450559"/>
<rect x="182.3" y="543.62" width="34.15" height="5.24" fill="#450559"/>
<rect x="216.4" y="543.62" width="34.55" height="5.24" fill="#450457"/>
<rect x="22.4" y="547.86" width="34.55" height="5.24" fill="#450559"/>
<rect x="56.9" y="547.86" width="6.35" height="5.24" fill="#440256"/>
<rect x="63.2" y="547.86" width="34.05" height="5.24" fill="#460a5d"/>
<rect x="97.2" y="547.86" width="16.35" height="5.24" fill="#2a788e"/>
<rect x="113.5" y="547.86" width="34.35" height="5.24" fill="#450559"/>
<rect x="147.8" y="547.86" width="34.55" height="5.24" fill="#481c6e"/>
<rect x="182.3" y="547.86" width="34.15" height="5.24" fill="#481c6e"/>
<rect x="216.4" y="547.86" width="34.55" height="5.24" fill="#481c6e"/>
<rect x="22.4" y="552.1" width="34.55" height="5.24" fill="#46327e"/>
<rect x="56.9" y="552.1" width="6.35" height="5.24" fill="#481c6e"/>
<rect x="63.2" y="552.1" width="34.05" height="5.24" fill="#463480"/>
<rect x="97.2" y="552.1" width="16.35" height="5.24" fill="#25848e"/>
<rect x="113.5" y="552.1" width="34.35" height="5.24" fill="#46327e"/>
<rect x="147.8" y="552.1" width="34.55" height="5.24" fill="#424086"/>
<rect x="182.3" y="552.1" width="34.15" height="5.24" fill="#46327e"/>
<rect x="216.4" y="552.1" width="34.55" height="5.24" fill="#424086"/>
<rect x="22.4" y="556.34" width="34.55" height="5.24" fill="#440256"/>
<rect x="56.9" y="556.34" width="6.35" height="5.24" fill="#440256"/>
<rect x="63.2" y="556.34" width="34.05" height="5.24" fill="#440256"/>
<rect x="97.2" y="556.34" width="16.35" height="5.24" fill="#440256"/>
<rect x="113.5" y="556.34" width="34.35" height="5.24" fill="#2f6c8e"/>
<rect x="147.8" y="556.34" width="34.55" height="5.24" fill="#460a5d"/>
<rect x="182.3" y="556.34" width="34.15" height="5.24" fill="#460a5d"/>
<rect x="216.4" y="556.34" width="34.55" height="5.24" fill="#3b528b"/>
<rect x="22.4" y="560.58" width="34.55" height="5.24" fill="#440256"/>
<rect x="56.9" y="560.58" width="6.35" height="5.24" fill="#440256"/>
<rect x="63.2" y="560.58" width="34.05" height="5.24" fill="#440256"/>
<rect x="97.2" y="560.58" width="16.35" height="5.24" fill="#440256"/>
<rect x="113.5" y="560.58" width="34.35" height="5.24" fill="#355f8d"/>
<rect x="147.8" y="560.58" width="34.55" height="5.24" fill="#440256"/>
<rect x="182.3" y="560.58" width="34.15" height="5.24" fill="#440256"/>
<rect x="216.4" y="560.58" width="34.55" height="5.24" fill="#450559"/>
<rect x="22.4" y="564.82" width="34.55" height="5.24" fill="#440256"/>
<rect x="56.9" y="564.82" width="6.35" height="5.24" fill="#440256"/>
<rect x="63.2" y="564.82" width="34.05" height="5.24" fill="#482576"/>
<rect x="97.2" y="564.82" width="16.35" height="5.24" fill="#440256"/>
<rect x="113.5" y="564.82" width="34.35" height="5.24" fill="#3b528b"/>
<rect x="147.8" y="564.82" width="34.55" height="5.24" fill="#440256"/>
<rect x="182.3" y="564.82" width="34.15" height="5.24" fill="#440256"/>
<rect x="216.4" y="564.82" width="34.55" height="5.24" fill="#440256"/>
<rect x="22.4" y="569.06" width="34.55" height="5.24" fill="#440256"/>
<rect x="56.9" y="569.06" width="6.35" height="5.24" fill="#440256"/>
<rect x="63.2" y="569.06" width="34.05" height="5.24" fill="#450559"/>
<rect x="97.2" y="569.06" width="16.35" height="5.24" fill="#440256"/>
<rect x="113.5" y="569.06" width="34.35" height="5.24" fill="#355f8d"/>
<rect x="147.8" y="569.06" width="34.55" height="5.24" fill="#460a5d"/>
<rect x="182.3" y="569.06" width="34.15" height="5.24" fill="#460a5d"/>
<rect x="216.4" y="569.06" width="34.55" height="5.24" fill="#481c6e"/>
<rect x="22.4" y="573.3" width="34.55" height="5.24" fill="#440256"/>
<rect x="56.9" y="573.3" width="6.35" height="5.24" fill="#440256"/>
<rect x="63.2" y="573.3" width="34.05" height="5.24" fill="#450457"/>
<rect x="97.2" y="573.3" width="16.35" height="5.24" fill="#440256"/>
<rect x="113.5" y="573.3" width="34.35" height="5.24" fill="#355f8d"/>
<rect x="147.8" y="573.3" width="34.55" height="5.24" fill="#450559"/>
<rect x="182.3" y="573.3" width="34.15" height="5.24" fill="#450559"/>
<rect x="216.4" y="573.3" width="34.55" height="5.24" fill="#460a5d"/>
<rect x="22.4" y="577.54" width="34.55" height="5.24" fill="#440256"/>
<rect x="56.9" y="577.54" width="6.35" height="5.24" fill="#440256"/>
<rect x="63.2" y="577.54" width="34.05" height="5.24" fill="#450457"/>
<rect x="97.2" y="577.54" width="16.35" height="5.24" fill="#440256"/>
<rect x="113.5" y="577.54" width="34.35" height="5.24" fill="#3b528b"/>
<rect x="147.8" y="577.54" width="34.55" height="5.24" fill="#481c6e"/>
<rect x="182.3" y="577.54" width="34.15" height="5.24" fill="#481c6e"/>
<rect x="216.4" y="577.54" width="34.55" height="5.24" fill="#3b528b"/>
<rect x="22.4" y="581.78" width="34.55" height="5.24" fill="#450559"/>
<rect x="56.9" y="581.78" width="6.35" height="5.24" fill="#440256"/>
<rect x="63.2" y="581.78" width="34.05" height="5.24" fill="#450457"/>
<rect x="97.2" y="581.78" width="16.35" height="5.24" fill="#440256"/>
<rect x="113.5" y="581.78" width="34.35" height="5.24" fill="#355f8d"/>
<rect x="147.8" y="581.78" width="34.55" height="5.24" fill="#450559"/>
<rect x="182.3" y="581.78" width="34.15" height="5.24" fill="#450559"/>
<rect x="216.4" y="581.78" width="34.55" height="5.24" fill="#460a5d"/>
<rect x="22.4" y="586.02" width="34.55" height="5.24" fill="#450559"/>
<rect x="56.9" y="586.02" width="6.35" height="5.24" fill="#440256"/>
<rect x="63.2" y="586.02" width="34.05" height="5.24" fill="#450457"/>
<rect x="97.2" y="586.02" width="16.35" height="5.24" fill="#440256"/>
<rect x="113.5" y="586.02" width="34.35" height="5.24" fill="#414487"/>
<rect x="147.8" y="586.02" width="34.55" height="5.24" fill="#482576"/>
<rect x="182.3" y="586.02" width="34.15" height="5.24" fill="#482576"/>
<rect x="216.4" y="586.02" width="34.55" height="5.24" fill="#482576"/>
<rect x="22.4" y="590.26" width="34.55" height="5.24" fill="#450559"/>
<rect x="56.9" y="590.26" width="6.35" height="5.24" fill="#440256"/>
<rect x="63.2" y="590.26" width="34.05" height="5.24" fill="#450457"/>
<rect x="97.2" y="590.26" width="16.35" height="5.24" fill="#440256"/>
<rect x="113.5" y="590.26" width="34.35" height="5.24" fill="#3b528b"/>
<rect x="147.8" y="590.26" width="34.55" height="5.24" fill="#450559"/>
<rect x="182.3" y="590.26" width="34.15" height="5.24" fill="#450559"/>
<rect x="216.4" y="590.26" width="34.55" height="5.24" fill="#424086"/>
<rect x="22.4" y="594.51" width="34.55" height="5.24" fill="#440256"/>
<rect x="56.9" y="594.51" width="6.35" height="5.24" fill="#440256"/>
<rect x="63.2" y="594.51" width="34.05" height="5.24" fill="#450457"/>
<rect x="97.2" y="594.51" width="16.35" height="5.24" fill="#440256"/>
<rect x="113.5" y="594.51" width="34.35" height="5.24" fill="#414487"/>
<rect x="147.8" y="594.51" width="34.55" height="5.24" fill="#440256"/>
<rect x="182.3" y="594.51" width="34.15" height="5.24" fill="#440256"/>
<rect x="216.4" y="594.51" width="34.55" height="5.24" fill="#450559"/>
<rect x="22.4" y="598.75" width="34.55" height="5.24" fill="#450559"/>
<rect x="56.9" y="598.75" width="6.35" height="5.24" fill="#450559"/>
<rect x="63.2" y="598.75" width="34.05" height="5.24" fill="#46327e"/>
<rect x="97.2" y="598.75" width="16.35" height="5.24" fill="#460a5d"/>
<rect x="113.5" y="598.75" width="34.35" height="5.24" fill="#481c6e"/>
<rect x="147.8" y="598.75" width="34.55" height="5.24" fill="#355f8d"/>
<rect x="182.3" y="598.75" width="34.15" height="5.24" fill="#460a5d"/>
<rect x="216.4" y="598.75" width="34.55" height="5.24" fill="#481c6e"/>
<rect x="22.4" y="602.99" width="34.55" height="5.24" fill="#440256"/>
<rect x="56.9" y="602.99" width="6.35" height="5.24" fill="#440256"/>
<rect x="63.2" y="602.99" width="34.05" height="5.24" fill="#440256"/>
<rect x="97.2" y="602.99" width="16.35" height="5.24" fill="#440256"/>
<rect x="113.5" y="602.99" width="34.35" height="5.24" fill="#440256"/>
<rect x="147.8" y="602.99" width="34.55" height="5.24" fill="#3e4989"/>
<rect x="182.3" y="602.99" width="34.15" height="5.24" fill="#440256"/>
<rect x="216.4" y="602.99" width="34.55" height="5.24" fill="#450457"/>
<rect x="22.4" y="607.23" width="34.55" height="5.24" fill="#463480"/>
<rect x="56.9" y="607.23" width="6.35" height="5.24" fill="#3e4989"/>
<rect x="63.2" y="607.23" width="34.05" height="5.24" fill="#414487"/>
<rect x="97.2" y="607.23" width="16.35" height="5.24" fill="#463480"/>
<rect x="113.5" y="607.23" width="34.35" height="5.24" fill="#463480"/>
<rect x="147.8" y="607.23" width="34.55" height="5.24" fill="#21918c"/>
<rect x="182.3" y="607.23" width="34.15" height="5.24" fill="#414487"/>
<rect x="216.4" y="607.23" width="34.55" height="5.24" fill="#414487"/>
<rect x="22.4" y="611.47" width="34.55" height="5.24" fill="#440256"/>
<rect x="56.9" y="611.47" width="6.35" height="5.24" fill="#440256"/>
<rect x="63.2" y="611.47" width="34.05" height="5.24" fill="#450559"/>
<rect x="97.2" y="611.47" width="16.35" height="5.24" fill="#440256"/>
<rect x="113.5" y="611.47" width="34.35" height="5.24" fill="#450559"/>
<rect x="147.8" y="611.47" width="34.55" height="5.24" fill="#414487"/>
<rect x="182.3" y="611.47" width="34.15" height="5.24" fill="#450559"/>
<rect x="216.4" y="611.47" width="34.55" height="5.24" fill="#450559"/>
<rect x="22.4" y="615.71" width="34.55" height="5.24" fill="#440256"/>
<rect x="56.9" y="615.71" width="6.35" height="5.24" fill="#440256"/>
<rect x="63.2" y="615.71" width="34.05" height="5.24" fill="#450559"/>
<rect x="97.2" y="615.71" width="16.35" height="5.24" fill="#440256"/>
<rect x="113.5" y="615.71" width="34.35" height="5.24" fill="#440256"/>
<rect x="147.8" y="615.71" width="34.55" height="5.24" fill="#463480"/>
<rect x="182.3" y="615.71" width="34.15" height="5.24" fill="#450457"/>
<rect x="216.4" y="615.71" width="34.55" height="5.24" fill="#450559"/>
<rect x="22.4" y="619.95" width="34.55" height="5.24" fill="#440256"/>
<rect x="56.9" y="619.95" width="6.35" height="5.24" fill="#440256"/>
<rect x="63.2" y="619.95" width="34.05" height="5.24" fill="#450559"/>
<rect x="97.2" y="619.95" width="16.35" height="5.24" fill="#440256"/>
<rect x="113.5" y="619.95" width="34.35" height="5.24" fill="#440256"/>
<rect x="147.8" y="619.95" width="34.55" height="5.24" fill="#3e4989"/>
<rect x="182.3" y="619.95" width="34.15" height="5.24" fill="#440256"/>
<rect x="216.4" y="619.95" width="34.55" height="5.24" fill="#450457"/>
<rect x="22.4" y="624.19" width="34.55" height="5.24" fill="#440256"/>
<rect x="56.9" y="624.19" width="6.35" height="5.24" fill="#440256"/>
<rect x="63.2" y="624.19" width="34.05" height="5.24" fill="#450559"/>
<rect x="97.2" y="624.19" width="16.35" height="5.24" fill="#440256"/>
<rect x="113.5" y="624.19" width="34.35" height="5.24" fill="#440256"/>
<rect x="147.8" y="624.19" width="34.55" height="5.24" fill="#414487"/>
<rect x="182.3" y="624.19" width="34.15" height="5.24" fill="#440256"/>
<rect x="216.4" y="624.19" width="34.55" height="5.24" fill="#450457"/>
<rect x="22.4" y="628.43" width="34.55" height="5.24" fill="#440256"/>
<rect x="56.9" y="628.43" width="6.35" height="5.24" fill="#440256"/>
<rect x="63.2" y="628.43" width="34.05" height="5.24" fill="#450559"/>
<rect x="97.2" y="628.43" width="16.35" height="5.24" fill="#440256"/>
<rect x="113.5" y="628.43" width="34.35" height="5.24" fill="#440256"/>
<rect x="147.8" y="628.43" width="34.55" height="5.24" fill="#463480"/>
<rect x="182.3" y="628.43" width="34.15" height="5.24" fill="#440256"/>
<rect x="216.4" y="628.43" width="34.55" height="5.24" fill="#440256"/>
<rect x="22.4" y="632.67" width="34.55" height="5.24" fill="#440256"/>
<rect x="56.9" y="632.67" width="6.35" height="5.24" fill="#440256"/>
<rect x="63.2" y="632.67" width="34.05" height="5.24" fill="#450559"/>
<rect x="97.2" y="632.67" width="16.35" height="5.24" fill="#440256"/>
<rect x="113.5" y="632.67" width="34.35" height="5.24" fill="#440256"/>
<rect x="147.8" y="632.67" width="34.55" height="5.24" fill="#414487"/>
<rect x="182.3" y="632.67" width="34.15" height="5.24" fill="#440256"/>
<rect x="216.4" y="632.67" width="34.55" height="5.24" fill="#440256"/>
<rect x="22.4" y="636.91" width="34.55" height="5.24" fill="#481c6e"/>
<rect x="56.9" y="636.91" width="6.35" height="5.24" fill="#450559"/>
<rect x="63.2" y="636.91" width="34.05" height="5.24" fill="#46327e"/>
<rect x="97.2" y="636.91" width="16.35" height="5.24" fill="#481c6e"/>
<rect x="113.5" y="636.91" width="34.35" height="5.24" fill="#481c6e"/>
<rect x="147.8" y="636.91" width="34.55" height="5.24" fill="#3b528b"/>
<rect x="182.3" y="636.91" width="34.15" height="5.24" fill="#355f8d"/>
<rect x="216.4" y="636.91" width="34.55" height="5.24" fill="#414487"/>
<rect x="22.4" y="641.15" width="34.55" height="5.24" fill="#460a5d"/>
<rect x="56.9" y="641.15" width="6.35" height="5.24" fill="#460a5d"/>
<rect x="63.2" y="641.15" width="34.05" height="5.24" fill="#46327e"/>
<rect x="97.2" y="641.15" width="16.35" height="5.24" fill="#482576"/>
<rect x="113.5" y="641.15" width="34.35" height="5.24" fill="#472d7b"/>
<rect x="147.8" y="641.15" width="34.55" height="5.24" fill="#3b528b"/>
<rect x="182.3" y="641.15" width="34.15" height="5.24" fill="#2f6c8e"/>
<rect x="216.4" y="641.15" width="34.55" height="5.24" fill="#3b528b"/>
<rect x="22.4" y="645.39" width="34.55" height="5.24" fill="#440256"/>
<rect x="56.9" y="645.39" width="6.35" height="5.24" fill="#440256"/>
<rect x="63.2" y="645.39" width="34.05" height="5.24" fill="#440256"/>
<rect x="97.2" y="645.39" width="16.35" height="5.24" fill="#440256"/>
<rect x="113.5" y="645.39" width="34.35" height="5.24" fill="#440256"/>
<rect x="147.8" y="645.39" width="34.55" height="5.24" fill="#450559"/>
<rect x="182.3" y="645.39" width="34.15" height="5.24" fill="#460a5d"/>
<rect x="216.4" y="645.39" width="34.55" height="5.24" fill="#450559"/>
<rect x="22.4" y="649.63" width="34.55" height="5.24" fill="#440256"/>
<rect x="56.9" y="649.63" width="6.35" height="5.24" fill="#440256"/>
<rect x="63.2" y="649.63" width="34.05" height="5.24" fill="#440256"/>
<rect x="97.2" y="649.63" width="16.35" height="5.24" fill="#440256"/>
<rect x="113.5" y="649.63" width="34.35" height="5.24" fill="#460a5d"/>
<rect x="147.8" y="649.63" width="34.55" height="5.24" fill="#46327e"/>
<rect x="182.3" y="649.63" width="34.15" height="5.24" fill="#424086"/>
<rect x="216.4" y="649.63" width="34.55" height="5.24" fill="#46327e"/>
<rect x="22.4" y="653.87" width="34.55" height="5.24" fill="#424086"/>
<rect x="56.9" y="653.87" width="6.35" height="5.24" fill="#481c6e"/>
<rect x="63.2" y="653.87" width="34.05" height="5.24" fill="#46327e"/>
<rect x="97.2" y="653.87" width="16.35" height="5.24" fill="#482576"/>
<rect x="113.5" y="653.87" width="34.35" height="5.24" fill="#46327e"/>
<rect x="147.8" y="653.87" width="34.55" height="5.24" fill="#355f8d"/>
<rect x="182.3" y="653.87" width="34.15" height="5.24" fill="#2f6c8e"/>
<rect x="216.4" y="653.87" width="34.55" height="5.24" fill="#355f8d"/>
<rect x="22.4" y="658.11" width="34.55" height="5.24" fill="#46327e"/>
<rect x="56.9" y="658.11" width="6.35" height="5.24" fill="#481c6e"/>
<rect x="63.2" y="658.11" width="34.05" height="5.24" fill="#46327e"/>
<rect x="97.2" y="658.11" width="16.35" height="5.24" fill="#481c6e"/>
<rect x="113.5" y="658.11" width="34.35" height="5.24" fill="#46327e"/>
<rect x="147.8" y="658.11" width="34.55" height="5.24" fill="#3b528b"/>
<rect x="182.3" y="658.11" width="34.15" height="5.24" fill="#355f8d"/>
<rect x="216.4" y="658.11" width="34.55" height="5.24" fill="#355f8d"/>
<rect x="22.4" y="662.35" width="34.55" height="5.24" fill="#3e4989"/>
<rect x="56.9" y="662.35" width="6.35" height="5.24" fill="#46327e"/>
<rect x="63.2" y="662.35" width="34.05" height="5.24" fill="#3b528b"/>
<rect x="97.2" y="662.35" width="16.35" height="5.24" fill="#463480"/>
<rect x="113.5" y="662.35" width="34.35" height="5.24" fill="#463480"/>
<rect x="147.8" y="662.35" width="34.55" height="5.24" fill="#21918c"/>
<rect x="182.3" y="662.35" width="34.15" height="5.24" fill="#355f8d"/>
<rect x="216.4" y="662.35" width="34.55" height="5.24" fill="#2f6c8e"/>
<rect x="22.4" y="666.59" width="34.55" height="5.24" fill="#460a5d"/>
<rect x="56.9" y="666.59" width="6.35" height="5.24" fill="#450559"/>
<rect x="63.2" y="666.59" width="34.05" height="5.24" fill="#481c6e"/>
<rect x="97.2" y="666.59" width="16.35" height="5.24" fill="#460a5d"/>
<rect x="113.5" y="666.59" width="34.35" height="5.24" fill="#481c6e"/>
<rect x="147.8" y="666.59" width="34.55" height="5.24" fill="#424086"/>
<rect x="182.3" y="666.59" width="34.15" height="5.24" fill="#463480"/>
<rect x="216.4" y="666.59" width="34.55" height="5.24" fill="#3e4989"/>
<rect x="22.4" y="670.84" width="34.55" height="5.24" fill="#450559"/>
<rect x="56.9" y="670.84" width="6.35" height="5.24" fill="#450559"/>
<rect x="63.2" y="670.84" width="34.05" height="5.24" fill="#460a5d"/>
<rect x="97.2" y="670.84" width="16.35" height="5.24" fill="#3e4989"/>
<rect x="113.5" y="670.84" width="34.35" height="5.24" fill="#460a5d"/>
<rect x="147.8" y="670.84" width="34.55" height="5.24" fill="#463480"/>
<rect x="182.3" y="670.84" width="34.15" height="5.24" fill="#414487"/>
<rect x="216.4" y="670.84" width="34.55" height="5.24" fill="#463480"/>
<rect x="22.4" y="675.08" width="34.55" height="5.24" fill="#424086"/>
<rect x="56.9" y="675.08" width="6.35" height="5.24" fill="#481c6e"/>
<rect x="63.2" y="675.08" width="34.05" height="5.24" fill="#3b528b"/>
<rect x="97.2" y="675.08" width="16.35" height="5.24" fill="#481c6e"/>
<rect x="113.5" y="675.08" width="34.35" height="5.24" fill="#46327e"/>
<rect x="147.8" y="675.08" width="34.55" height="5.24" fill="#3b528b"/>
<rect x="182.3" y="675.08" width="34.15" height="5.24" fill="#355f8d"/>
<rect x="216.4" y="675.08" width="34.55" height="5.24" fill="#3b528b"/>
<rect x="22.4" y="679.32" width="34.55" height="5.24" fill="#440256"/>
<rect x="56.9" y="679.32" width="6.35" height="5.24" fill="#440256"/>
<rect x="63.2" y="679.32" width="34.05" height="5.24" fill="#450457"/>
<rect x="97.2" y="679.32" width="16.35" height="5.24" fill="#21918c"/>
<rect x="113.5" y="679.32" width="34.35" height="5.24" fill="#440256"/>
<rect x="147.8" y="679.32" width="34.55" height="5.24" fill="#440256"/>
<rect x="182.3" y="679.32" width="34.15" height="5.24" fill="#440256"/>
<rect x="216.4" y="679.32" width="34.55" height="5.24" fill="#463480"/>
<rect x="22.4" y="683.56" width="34.55" height="5.24" fill="#440256"/>
<rect x="56.9" y="683.56" width="6.35" height="5.24" fill="#440256"/>
<rect x="63.2" y="683.56" width="34.05" height="5.24" fill="#440256"/>
<rect x="97.2" y="683.56" width="16.35" height="5.24" fill="#440256"/>
<rect x="113.5" y="683.56" width="34.35" height="5.24" fill="#440256"/>
<rect x="147.8" y="683.56" width="34.55" height="5.24" fill="#440256"/>
<rect x="182.3" y="683.56" width="34.15" height="5.24" fill="#440256"/>
<rect x="216.4" y="683.56" width="34.55" height="5.24" fill="#463480"/>
<rect x="22.4" y="687.8" width="34.55" height="5.24" fill="#440256"/>
<rect x="56.9" y="687.8" width="6.35" height="5.24" fill="#440256"/>
<rect x="63.2" y="687.8" width="34.05" height="5.24" fill="#450457"/>
<rect x="97.2" y="687.8" width="16.35" height="5.24" fill="#440256"/>
<rect x="113.5" y="687.8" width="34.35" height="5.24" fill="#450559"/>
<rect x="147.8" y="687.8" width="34.55" height="5.24" fill="#460a5d"/>
<rect x="182.3" y="687.8" width="34.15" height="5.24" fill="#460a5d"/>
<rect x="216.4" y="687.8" width="34.55" height="5.24" fill="#3b528b"/>
<rect x="22.4" y="692.04" width="34.55" height="5.24" fill="#440256"/>
<rect x="56.9" y="692.04" width="6.35" height="5.24" fill="#440256"/>
<rect x="63.2" y="692.04" width="34.05" height="5.24" fill="#450559"/>
<rect x="97.2" y="692.04" width="16.35" height="5.24" fill="#460a5d"/>
<rect x="113.5" y="692.04" width="34.35" height="5.24" fill="#3d4d8a"/>
<rect x="147.8" y="692.04" width="34.55" height="5.24" fill="#424086"/>
<rect x="182.3" y="692.04" width="34.15" height="5.24" fill="#46327e"/>
<rect x="216.4" y="692.04" width="34.55" height="5.24" fill="#414487"/>
<rect x="22.4" y="696.28" width="34.55" height="5.24" fill="#482576"/>
<rect x="56.9" y="696.28" width="6.35" height="5.24" fill="#460a5d"/>
<rect x="63.2" y="696.28" width="34.05" height="5.24" fill="#482576"/>
<rect x="97.2" y="696.28" width="16.35" height="5.24" fill="#481c6e"/>
<rect x="113.5" y="696.28" width="34.35" height="5.24" fill="#46327e"/>
<rect x="147.8" y="696.28" width="34.55" height="5.24" fill="#414487"/>
<rect x="182.3" y="696.28" width="34.15" height="5.24" fill="#414487"/>
<rect x="216.4" y="696.28" width="34.55" height="5.24" fill="#2a788e"/>
<rect x="22.4" y="700.52" width="34.55" height="5.24" fill="#450559"/>
<rect x="56.9" y="700.52" width="6.35" height="5.24" fill="#450559"/>
<rect x="63.2" y="700.52" width="34.05" height="5.24" fill="#460a5d"/>
<rect x="97.2" y="700.52" width="16.35" height="5.24" fill="#450559"/>
<rect x="113.5" y="700.52" width="34.35" height="5.24" fill="#460a5d"/>
<rect x="147.8" y="700.52" width="34.55" height="5.24" fill="#46327e"/>
<rect x="182.3" y="700.52" width="34.15" height="5.24" fill="#46327e"/>
<rect x="216.4" y="700.52" width="34.55" height="5.24" fill="#355f8d"/>
<rect x="22.4" y="704.76" width="34.55" height="4.24" fill="#450559"/>
<rect x="56.9" y="704.76" width="6.35" height="4.24" fill="#440256"/>
<rect x="63.2" y="704.76" width="34.05" height="4.24" fill="#450559"/>
<rect x="97.2" y="704.76" width="16.35" height="4.24" fill="#450559"/>
<rect x="113.5" y="704.76" width="34.35" height="4.24" fill="#460a5d"/>
<rect x="147.8" y="704.76" width="34.55" height="4.24" fill="#424086"/>
<rect x="182.3" y="704.76" width="34.15" height="4.24" fill="#46327e"/>
<rect x="216.4" y="704.76" width="34.55" height="4.24" fill="#355f8d"/>
<rect x="22.4" y="395.2" width="20.75" height="5.24" fill="#26ad81" mask="url(#hd0)"/>
<rect x="43.1" y="395.2" width="13.85" height="5.24" fill="#bddf26" mask="url(#hd0)"/>
<rect x="56.9" y="395.2" width="6.35" height="5.24" fill="#3f4788" mask="url(#hd5)"/>
<rect x="63.2" y="395.2" width="34.05" height="5.24" fill="#3f4788" mask="url(#hd2)"/>
<rect x="97.2" y="395.2" width="16.35" height="5.24" fill="#3f4788" mask="url(#hd7)"/>
<rect x="113.5" y="395.2" width="34.35" height="5.24" fill="#26828e" mask="url(#hs4)"/>
<rect x="147.8" y="395.2" width="34.55" height="5.24" fill="#2e6f8e" mask="url(#hs1)"/>
<rect x="182.3" y="395.2" width="34.15" height="5.24" fill="#2e6f8e" mask="url(#hs6)"/>
<rect x="216.4" y="395.2" width="34.55" height="5.24" fill="#2e6f8e" mask="url(#hs3)"/>
<rect x="22.4" y="399.44" width="19.03" height="5.24" fill="#21a585" mask="url(#hd1)"/>
<rect x="41.38" y="399.44" width="15.57" height="5.24" fill="#86d549" mask="url(#hd1)"/>
<rect x="56.9" y="399.44" width="6.35" height="5.24" fill="#2e6f8e" mask="url(#hs6)"/>
<rect x="63.2" y="399.44" width="34.05" height="5.24" fill="#355f8d" mask="url(#hd3)"/>
<rect x="97.2" y="399.44" width="16.35" height="5.24" fill="#3f4788" mask="url(#hd0)"/>
<rect x="113.5" y="399.44" width="34.35" height="5.24" fill="#2e6e8e" mask="url(#hd5)"/>
<rect x="147.8" y="399.44" width="34.55" height="5.24" fill="#2a788e" mask="url(#hd2)"/>
<rect x="182.3" y="399.44" width="34.15" height="5.24" fill="#2a788e" mask="url(#hd7)"/>
<rect x="216.4" y="399.44" width="34.55" height="5.24" fill="#1fa188" mask="url(#hd4)"/>
<rect x="22.4" y="403.68" width="17.3" height="5.24" fill="#4ec36b" mask="url(#hd0)"/>
<rect x="39.65" y="403.68" width="17.3" height="5.24" fill="#95d840" mask="url(#hd0)"/>
<rect x="56.9" y="403.68" width="6.35" height="5.24" fill="#3b518b" mask="url(#hs5)"/>
<rect x="63.2" y="403.68" width="34.05" height="5.24" fill="#2e6f8e" mask="url(#hs2)"/>
<rect x="97.2" y="403.68" width="16.35" height="5.24" fill="#2e6f8e" mask="url(#hs7)"/>
<rect x="113.5" y="403.68" width="34.35" height="5.24" fill="#2e6f8e" mask="url(#hs4)"/>
<rect x="147.8" y="403.68" width="34.55" height="5.24" fill="#2e6f8e" mask="url(#hs1)"/>
<rect x="182.3" y="403.68" width="34.15" height="5.24" fill="#2e6f8e" mask="url(#hs6)"/>
<rect x="216.4" y="403.68" width="34.55" height="5.24" fill="#2e6f8e" mask="url(#hs3)"/>
<rect x="22.4" y="407.92" width="17.3" height="5.24" fill="#58c765" mask="url(#hd1)"/>
<rect x="39.65" y="407.92" width="17.3" height="5.24" fill="#86d549" mask="url(#hd1)"/>
<rect x="56.9" y="407.92" width="6.35" height="5.24" fill="#3b518b" mask="url(#hs6)"/>
<rect x="63.2" y="407.92" width="34.05" height="5.24" fill="#2e6f8e" mask="url(#hs3)"/>
<rect x="97.2" y="407.92" width="16.35" height="5.24" fill="#2e6f8e" mask="url(#hs0)"/>
<rect x="113.5" y="407.92" width="34.35" height="5.24" fill="#33638d" mask="url(#hs5)"/>
<rect x="147.8" y="407.92" width="34.55" height="5.24" fill="#355f8d" mask="url(#hd2)"/>
<rect x="182.3" y="407.92" width="34.15" height="5.24" fill="#355f8d" mask="url(#hd7)"/>
<rect x="216.4" y="407.92" width="34.55" height="5.24" fill="#3f4788" mask="url(#hd4)"/>
<rect x="22.4" y="412.16" width="34.55" height="5.24" fill="#26ad81" mask="url(#hd0)"/>
<rect x="56.9" y="412.16" width="6.35" height="5.24" fill="#3b518b" mask="url(#hs5)"/>
<rect x="63.2" y="412.16" width="34.05" height="5.24" fill="#365d8d" mask="url(#hs2)"/>
<rect x="97.2" y="412.16" width="16.35" height="5.24" fill="#365d8d" mask="url(#hs7)"/>
<rect x="113.5" y="412.16" width="34.35" height="5.24" fill="#3b518b" mask="url(#hs4)"/>
<rect x="147.8" y="412.16" width="34.55" height="5.24" fill="#2e6f8e" mask="url(#hs1)"/>
<rect x="182.3" y="412.16" width="34.15" height="5.24" fill="#365d8d" mask="url(#hs6)"/>
<rect x="216.4" y="412.16" width="34.55" height="5.24" fill="#2e6f8e" mask="url(#hs3)"/>
<rect x="22.4" y="416.4" width="22.48" height="5.24" fill="#463480" mask="url(#hs1)"/>
<rect x="44.83" y="416.4" width="12.12" height="5.24" fill="#2a788e" mask="url(#hd1)"/>
<rect x="56.9" y="416.4" width="6.35" height="5.24" fill="#463480" mask="url(#hs6)"/>
<rect x="63.2" y="416.4" width="34.05" height="5.24" fill="#463480" mask="url(#hs3)"/>
<rect x="97.2" y="416.4" width="16.35" height="5.24" fill="#463480" mask="url(#hs0)"/>
<rect x="113.5" y="416.4" width="34.35" height="5.24" fill="#463480" mask="url(#hs5)"/>
<rect x="147.8" y="416.4" width="34.55" height="5.24" fill="#404588" mask="url(#hs2)"/>
<rect x="182.3" y="416.4" width="34.15" height="5.24" fill="#463480" mask="url(#hs7)"/>
<rect x="216.4" y="416.4" width="34.55" height="5.24" fill="#404588" mask="url(#hs4)"/>
<rect x="22.4" y="420.64" width="13.85" height="5.24" fill="#463480" mask="url(#hs0)"/>
<rect x="36.2" y="420.64" width="20.75" height="5.24" fill="#2a788e" mask="url(#hd0)"/>
<rect x="56.9" y="420.64" width="6.35" height="5.24" fill="#463480" mask="url(#hs5)"/>
<rect x="63.2" y="420.64" width="34.05" height="5.24" fill="#463480" mask="url(#hs2)"/>
<rect x="97.2" y="420.64" width="16.35" height="5.24" fill="#463480" mask="url(#hs7)"/>
<rect x="113.5" y="420.64" width="34.35" height="5.24" fill="#463480" mask="url(#hs4)"/>
<rect x="147.8" y="420.64" width="34.55" height="5.24" fill="#404588" mask="url(#hs1)"/>
<rect x="182.3" y="420.64" width="34.15" height="5.24" fill="#404588" mask="url(#hs6)"/>
<rect x="216.4" y="420.64" width="34.55" height="5.24" fill="#404588" mask="url(#hs3)"/>
<rect x="22.4" y="424.88" width="34.55" height="5.24" fill="#69cd5b" mask="url(#hd1)"/>
<rect x="56.9" y="424.88" width="6.35" height="5.24" fill="#2e6f8e" mask="url(#hs6)"/>
<rect x="63.2" y="424.88" width="34.05" height="5.24" fill="#355f8d" mask="url(#hd3)"/>
<rect x="97.2" y="424.88" width="16.35" height="5.24" fill="#3f4788" mask="url(#hd0)"/>
<rect x="113.5" y="424.88" width="34.35" height="5.24" fill="#355f8d" mask="url(#hd5)"/>
<rect x="147.8" y="424.88" width="34.55" height="5.24" fill="#2a788e" mask="url(#hd2)"/>
<rect x="182.3" y="424.88" width="34.15" height="5.24" fill="#2a788e" mask="url(#hd7)"/>
<rect x="216.4" y="424.88" width="34.55" height="5.24" fill="#2a788e" mask="url(#hd4)"/>
<rect x="22.4" y="429.12" width="34.55" height="5.24" fill="#26ad81" mask="url(#hd0)"/>
<rect x="56.9" y="429.12" width="6.35" height="5.24" fill="#3b518b" mask="url(#hs5)"/>
<rect x="63.2" y="429.12" width="34.05" height="5.24" fill="#2e6f8e" mask="url(#hs2)"/>
<rect x="97.2" y="429.12" width="16.35" height="5.24" fill="#2e6f8e" mask="url(#hs7)"/>
<rect x="113.5" y="429.12" width="34.35" height="5.24" fill="#26828e" mask="url(#hs4)"/>
<rect x="147.8" y="429.12" width="34.55" height="5.24" fill="#1f978b" mask="url(#hd1)"/>
<rect x="182.3" y="429.12" width="34.15" height="5.24" fill="#3f4788" mask="url(#hd6)"/>
<rect x="216.4" y="429.12" width="34.55" height="5.24" fill="#355f8d" mask="url(#hd3)"/>
<rect x="22.4" y="433.36" width="34.55" height="5.24" fill="#cae11f" mask="url(#hd1)"/>
<rect x="56.9" y="433.36" width="6.35" height="5.24" fill="#26ad81" mask="url(#hd6)"/>
<rect x="63.2" y="433.36" width="34.05" height="5.24" fill="#26ad81" mask="url(#hd3)"/>
<rect x="97.2" y="433.36" width="16.35" height="5.24" fill="#1f978b" mask="url(#hd0)"/>
<rect x="113.5" y="433.36" width="34.35" height="5.24" fill="#25838e" mask="url(#hd5)"/>
<rect x="147.8" y="433.36" width="34.55" height="5.24" fill="#1fa188" mask="url(#hd2)"/>
<rect x="182.3" y="433.36" width="34.15" height="5.24" fill="#26ad81" mask="url(#hd7)"/>
<rect x="216.4" y="433.36" width="34.55" height="5.24" fill="#1f978b" mask="url(#hd4)"/>
<rect x="22.4" y="437.61" width="34.55" height="5.24" fill="#481c6e" mask="url(#hs3)"/>
<rect x="56.9" y="437.61" width="6.35" height="5.24" fill="#4ec36b" mask="url(#hd0)"/>
<rect x="63.2" y="437.61" width="34.05" height="5.24" fill="#423f85" mask="url(#hs5)"/>
<rect x="97.2" y="437.61" width="16.35" height="5.24" fill="#472e7c" mask="url(#hs2)"/>
<rect x="113.5" y="437.61" width="34.35" height="5.24" fill="#482878" mask="url(#hs7)"/>
<rect x="147.8" y="437.61" width="34.55" height="5.24" fill="#482878" mask="url(#hs4)"/>
<rect x="182.3" y="437.61" width="34.15" height="5.24" fill="#482878" mask="url(#hs1)"/>
<rect x="216.4" y="437.61" width="34.55" height="5.24" fill="#482878" mask="url(#hs6)"/>
<rect x="22.4" y="441.85" width="34.55" height="5.24" fill="#481c6e" mask="url(#hs4)"/>
<rect x="56.9" y="441.85" width="6.35" height="5.24" fill="#fde725" mask="url(#hd1)"/>
<rect x="63.2" y="441.85" width="34.05" height="5.24" fill="#423f85" mask="url(#hs6)"/>
<rect x="97.2" y="441.85" width="16.35" height="5.24" fill="#472e7c" mask="url(#hs3)"/>
<rect x="113.5" y="441.85" width="34.35" height="5.24" fill="#482878" mask="url(#hs0)"/>
<rect x="147.8" y="441.85" width="34.55" height="5.24" fill="#482878" mask="url(#hs5)"/>
<rect x="182.3" y="441.85" width="34.15" height="5.24" fill="#482878" mask="url(#hs2)"/>
<rect x="216.4" y="441.85" width="34.55" height="5.24" fill="#482878" mask="url(#hs7)"/>
<rect x="22.4" y="446.09" width="34.55" height="5.24" fill="#481c6e" mask="url(#hs3)"/>
<rect x="56.9" y="446.09" width="6.35" height="5.24" fill="#58c765" mask="url(#hd0)"/>
<rect x="63.2" y="446.09" width="34.05" height="5.24" fill="#423f85" mask="url(#hs5)"/>
<rect x="97.2" y="446.09" width="16.35" height="5.24" fill="#472e7c" mask="url(#hs2)"/>
<rect x="113.5" y="446.09" width="34.35" height="5.24" fill="#482878" mask="url(#hs7)"/>
<rect x="147.8" y="446.09" width="34.55" height="5.24" fill="#482878" mask="url(#hs4)"/>
<rect x="182.3" y="446.09" width="34.15" height="5.24" fill="#482878" mask="url(#hs1)"/>
<rect x="216.4" y="446.09" width="34.55" height="5.24" fill="#482878" mask="url(#hs6)"/>
<rect x="22.4" y="450.33" width="34.55" height="5.24" fill="#481c6e" mask="url(#hs4)"/>
<rect x="56.9" y="450.33" width="6.35" height="5.24" fill="#86d549" mask="url(#hd1)"/>
<rect x="63.2" y="450.33" width="34.05" height="5.24" fill="#423f85" mask="url(#hs6)"/>
<rect x="97.2" y="450.33" width="16.35" height="5.24" fill="#472e7c" mask="url(#hs3)"/>
<rect x="113.5" y="450.33" width="34.35" height="5.24" fill="#482878" mask="url(#hs0)"/>
<rect x="147.8" y="450.33" width="34.55" height="5.24" fill="#482878" mask="url(#hs5)"/>
<rect x="182.3" y="450.33" width="34.15" height="5.24" fill="#482878" mask="url(#hs2)"/>
<rect x="216.4" y="450.33" width="34.55" height="5.24" fill="#482878" mask="url(#hs7)"/>
<rect x="22.4" y="454.57" width="34.55" height="5.24" fill="#481c6e" mask="url(#hs3)"/>
<rect x="56.9" y="454.57" width="6.35" height="5.24" fill="#4ec36b" mask="url(#hd0)"/>
<rect x="63.2" y="454.57" width="34.05" height="5.24" fill="#423f85" mask="url(#hs5)"/>
<rect x="97.2" y="454.57" width="16.35" height="5.24" fill="#472e7c" mask="url(#hs2)"/>
<rect x="113.5" y="454.57" width="34.35" height="5.24" fill="#482878" mask="url(#hs7)"/>
<rect x="147.8" y="454.57" width="34.55" height="5.24" fill="#482878" mask="url(#hs4)"/>
<rect x="182.3" y="454.57" width="34.15" height="5.24" fill="#482878" mask="url(#hs1)"/>
<rect x="216.4" y="454.57" width="34.55" height="5.24" fill="#482878" mask="url(#hs6)"/>
<rect x="22.4" y="458.81" width="34.55" height="5.24" fill="#481c6e" mask="url(#hs4)"/>
<rect x="56.9" y="458.81" width="6.35" height="5.24" fill="#86d549" mask="url(#hd1)"/>
<rect x="63.2" y="458.81" width="34.05" height="5.24" fill="#423f85" mask="url(#hs6)"/>
<rect x="97.2" y="458.81" width="16.35" height="5.24" fill="#472e7c" mask="url(#hs3)"/>
<rect x="113.5" y="458.81" width="34.35" height="5.24" fill="#482878" mask="url(#hs0)"/>
<rect x="147.8" y="458.81" width="34.55" height="5.24" fill="#482878" mask="url(#hs5)"/>
<rect x="182.3" y="458.81" width="34.15" height="5.24" fill="#482878" mask="url(#hs2)"/>
<rect x="216.4" y="458.81" width="34.55" height="5.24" fill="#482878" mask="url(#hs7)"/>
<rect x="22.4" y="463.05" width="34.55" height="5.24" fill="#481c6e" mask="url(#hs3)"/>
<rect x="56.9" y="463.05" width="6.35" height="5.24" fill="#4ec36b" mask="url(#hd0)"/>
<rect x="63.2" y="463.05" width="34.05" height="5.24" fill="#423f85" mask="url(#hs5)"/>
<rect x="97.2" y="463.05" width="16.35" height="5.24" fill="#472e7c" mask="url(#hs2)"/>
<rect x="113.5" y="463.05" width="34.35" height="5.24" fill="#482878" mask="url(#hs7)"/>
<rect x="147.8" y="463.05" width="34.55" height="5.24" fill="#482878" mask="url(#hs4)"/>
<rect x="182.3" y="463.05" width="34.15" height="5.24" fill="#482878" mask="url(#hs1)"/>
<rect x="216.4" y="463.05" width="34.55" height="5.24" fill="#482878" mask="url(#hs6)"/>
<rect x="22.4" y="467.29" width="34.55" height="5.24" fill="#481c6e" mask="url(#hs4)"/>
<rect x="56.9" y="467.29" width="6.35" height="5.24" fill="#86d549" mask="url(#hd1)"/>
<rect x="63.2" y="467.29" width="34.05" height="5.24" fill="#423f85" mask="url(#hs6)"/>
<rect x="97.2" y="467.29" width="16.35" height="5.24" fill="#472e7c" mask="url(#hs3)"/>
<rect x="113.5" y="467.29" width="34.35" height="5.24" fill="#482878" mask="url(#hs0)"/>
<rect x="147.8" y="467.29" width="34.55" height="5.24" fill="#482878" mask="url(#hs5)"/>
<rect x="182.3" y="467.29" width="34.15" height="5.24" fill="#482878" mask="url(#hs2)"/>
<rect x="216.4" y="467.29" width="34.55" height="5.24" fill="#482878" mask="url(#hs7)"/>
<rect x="22.4" y="471.53" width="34.55" height="5.24" fill="#481c6e" mask="url(#hs3)"/>
<rect x="56.9" y="471.53" width="6.35" height="5.24" fill="#4ec36b" mask="url(#hd0)"/>
<rect x="63.2" y="471.53" width="34.05" height="5.24" fill="#1f978b" mask="url(#hd5)"/>
<rect x="97.2" y="471.53" width="16.35" height="5.24" fill="#3b518b" mask="url(#hs2)"/>
<rect x="113.5" y="471.53" width="34.35" height="5.24" fill="#482878" mask="url(#hs7)"/>
<rect x="147.8" y="471.53" width="34.55" height="5.24" fill="#482878" mask="url(#hs4)"/>
<rect x="182.3" y="471.53" width="34.15" height="5.24" fill="#482878" mask="url(#hs1)"/>
<rect x="216.4" y="471.53" width="34.55" height="5.24" fill="#463480" mask="url(#hs6)"/>
<rect x="22.4" y="475.77" width="34.55" height="5.24" fill="#481c6e" mask="url(#hs4)"/>
<rect x="56.9" y="475.77" width="6.35" height="5.24" fill="#69cd5b" mask="url(#hd1)"/>
<rect x="63.2" y="475.77" width="34.05" height="5.24" fill="#423f85" mask="url(#hs6)"/>
<rect x="97.2" y="475.77" width="16.35" height="5.24" fill="#472e7c" mask="url(#hs3)"/>
<rect x="113.5" y="475.77" width="34.35" height="5.24" fill="#482878" mask="url(#hs0)"/>
<rect x="147.8" y="475.77" width="34.55" height="5.24" fill="#482878" mask="url(#hs5)"/>
<rect x="182.3" y="475.77" width="34.15" height="5.24" fill="#482878" mask="url(#hs2)"/>
<rect x="216.4" y="475.77" width="34.55" height="5.24" fill="#482878" mask="url(#hs7)"/>
<rect x="22.4" y="480.01" width="34.55" height="5.24" fill="#463480" mask="url(#hs6)"/>
<rect x="56.9" y="480.01" width="6.35" height="5.24" fill="#26828e" mask="url(#hs3)"/>
<rect x="63.2" y="480.01" width="34.05" height="5.24" fill="#bddf26" mask="url(#hd0)"/>
<rect x="97.2" y="480.01" width="16.35" height="5.24" fill="#2e6f8e" mask="url(#hs5)"/>
<rect x="113.5" y="480.01" width="34.35" height="5.24" fill="#3b518b" mask="url(#hs2)"/>
<rect x="147.8" y="480.01" width="34.55" height="5.24" fill="#2e6f8e" mask="url(#hs7)"/>
<rect x="182.3" y="480.01" width="34.15" height="5.24" fill="#2e6f8e" mask="url(#hs4)"/>
<rect x="216.4" y="480.01" width="34.55" height="5.24" fill="#2e6f8e" mask="url(#hs1)"/>
<rect x="22.4" y="484.25" width="34.55" height="5.24" fill="#463480" mask="url(#hs7)"/>
<rect x="56.9" y="484.25" width="6.35" height="5.24" fill="#365d8d" mask="url(#hs4)"/>
<rect x="63.2" y="484.25" width="34.05" height="5.24" fill="#2fb47c" mask="url(#hd1)"/>
<rect x="97.2" y="484.25" width="16.35" height="5.24" fill="#3b518b" mask="url(#hs6)"/>
<rect x="113.5" y="484.25" width="34.35" height="5.24" fill="#404588" mask="url(#hs3)"/>
<rect x="147.8" y="484.25" width="34.55" height="5.24" fill="#3b518b" mask="url(#hs0)"/>
<rect x="182.3" y="484.25" width="34.15" height="5.24" fill="#3b518b" mask="url(#hs5)"/>
<rect x="216.4" y="484.25" width="34.55" height="5.24" fill="#3b518b" mask="url(#hs2)"/>
<rect x="22.4" y="488.49" width="34.55" height="5.24" fill="#463480" mask="url(#hs6)"/>
<rect x="56.9" y="488.49" width="6.35" height="5.24" fill="#365d8d" mask="url(#hs3)"/>
<rect x="63.2" y="488.49" width="34.05" height="5.24" fill="#86d549" mask="url(#hd0)"/>
<rect x="97.2" y="488.49" width="16.35" height="5.24" fill="#2e6f8e" mask="url(#hs5)"/>
<rect x="113.5" y="488.49" width="34.35" height="5.24" fill="#3b518b" mask="url(#hs2)"/>
<rect x="147.8" y="488.49" width="34.55" height="5.24" fill="#365d8d" mask="url(#hs7)"/>
<rect x="182.3" y="488.49" width="34.15" height="5.24" fill="#3b518b" mask="url(#hs4)"/>
<rect x="216.4" y="488.49" width="34.55" height="5.24" fill="#365d8d" mask="url(#hs1)"/>
<rect x="22.4" y="492.73" width="34.55" height="5.24" fill="#463480" mask="url(#hs7)"/>
<rect x="56.9" y="492.73" width="6.35" height="5.24" fill="#3b518b" mask="url(#hs4)"/>
<rect x="63.2" y="492.73" width="34.05" height="5.24" fill="#2fb47c" mask="url(#hd1)"/>
<rect x="97.2" y="492.73" width="16.35" height="5.24" fill="#463480" mask="url(#hs6)"/>
<rect x="113.5" y="492.73" width="34.35" height="5.24" fill="#404588" mask="url(#hs3)"/>
<rect x="147.8" y="492.73" width="34.55" height="5.24" fill="#3b518b" mask="url(#hs0)"/>
<rect x="182.3" y="492.73" width="34.15" height="5.24" fill="#404588" mask="url(#hs5)"/>
<rect x="216.4" y="492.73" width="34.55" height="5.24" fill="#3b518b" mask="url(#hs2)"/>
<rect x="22.4" y="496.97" width="34.55" height="5.24" fill="#463480" mask="url(#hs6)"/>
<rect x="56.9" y="496.97" width="6.35" height="5.24" fill="#365d8d" mask="url(#hs3)"/>
<rect x="63.2" y="496.97" width="34.05" height="5.24" fill="#37b878" mask="url(#hd0)"/>
<rect x="97.2" y="496.97" width="16.35" height="5.24" fill="#463480" mask="url(#hs5)"/>
<rect x="113.5" y="496.97" width="34.35" height="5.24" fill="#404588" mask="url(#hs2)"/>
<rect x="147.8" y="496.97" width="34.55" height="5.24" fill="#3b518b" mask="url(#hs7)"/>
<rect x="182.3" y="496.97" width="34.15" height="5.24" fill="#404588" mask="url(#hs4)"/>
<rect x="216.4" y="496.97" width="34.55" height="5.24" fill="#3b518b" mask="url(#hs1)"/>
<rect x="22.4" y="501.21" width="34.55" height="5.24" fill="#463480" mask="url(#hs7)"/>
<rect x="56.9" y="501.21" width="6.35" height="5.24" fill="#3b518b" mask="url(#hs4)"/>
<rect x="63.2" y="501.21" width="34.05" height="5.24" fill="#21a585" mask="url(#hd1)"/>
<rect x="97.2" y="501.21" width="16.35" height="5.24" fill="#463480" mask="url(#hs6)"/>
<rect x="113.5" y="501.21" width="34.35" height="5.24" fill="#404588" mask="url(#hs3)"/>
<rect x="147.8" y="501.21" width="34.55" height="5.24" fill="#3b518b" mask="url(#hs0)"/>
<rect x="182.3" y="501.21" width="34.15" height="5.24" fill="#404588" mask="url(#hs5)"/>
<rect x="216.4" y="501.21" width="34.55" height="5.24" fill="#3b518b" mask="url(#hs2)"/>
<rect x="22.4" y="505.45" width="34.55" height="5.24" fill="#463480" mask="url(#hs6)"/>
<rect x="56.9" y="505.45" width="6.35" height="5.24" fill="#365d8d" mask="url(#hs3)"/>
<rect x="63.2" y="505.45" width="34.05" height="5.24" fill="#7ad151" mask="url(#hd0)"/>
<rect x="97.2" y="505.45" width="16.35" height="5.24" fill="#3f4788" mask="url(#hd5)"/>
<rect x="113.5" y="505.45" width="34.35" height="5.24" fill="#3b518b" mask="url(#hs2)"/>
<rect x="147.8" y="505.45" width="34.55" height="5.24" fill="#365d8d" mask="url(#hs7)"/>
<rect x="182.3" y="505.45" width="34.15" height="5.24" fill="#3b518b" mask="url(#hs4)"/>
<rect x="216.4" y="505.45" width="34.55" height="5.24" fill="#365d8d" mask="url(#hs1)"/>
<rect x="22.4" y="509.69" width="34.55" height="5.24" fill="#463480" mask="url(#hs7)"/>
<rect x="56.9" y="509.69" width="6.35" height="5.24" fill="#2e6f8e" mask="url(#hs4)"/>
<rect x="63.2" y="509.69" width="34.05" height="5.24" fill="#7ad151" mask="url(#hd1)"/>
<rect x="97.2" y="509.69" width="16.35" height="5.24" fill="#37b878" mask="url(#hd6)"/>
<rect x="113.5" y="509.69" width="34.35" height="5.24" fill="#3b518b" mask="url(#hs3)"/>
<rect x="147.8" y="509.69" width="34.55" height="5.24" fill="#3b518b" mask="url(#hs0)"/>
<rect x="182.3" y="509.69" width="34.15" height="5.24" fill="#3b518b" mask="url(#hs5)"/>
<rect x="216.4" y="509.69" width="34.55" height="5.24" fill="#3b518b" mask="url(#hs2)"/>
<rect x="22.4" y="513.94" width="34.55" height="5.24" fill="#355f8d" mask="url(#hd6)"/>
<rect x="56.9" y="513.94" width="6.35" height="5.24" fill="#365d8d" mask="url(#hs3)"/>
<rect x="63.2" y="513.94" width="34.05" height="5.24" fill="#4ec36b" mask="url(#hd0)"/>
<rect x="97.2" y="513.94" width="16.35" height="5.24" fill="#7ad151" mask="url(#hd5)"/>
<rect x="113.5" y="513.94" width="34.35" height="5.24" fill="#3f4788" mask="url(#hd2)"/>
<rect x="147.8" y="513.94" width="34.55" height="5.24" fill="#355f8d" mask="url(#hd7)"/>
<rect x="182.3" y="513.94" width="34.15" height="5.24" fill="#355f8d" mask="url(#hd4)"/>
<rect x="216.4" y="513.94" width="34.55" height="5.24" fill="#355f8d" mask="url(#hd1)"/>
<rect x="22.4" y="518.18" width="34.55" height="5.24" fill="#463480" mask="url(#hs7)"/>
<rect x="56.9" y="518.18" width="6.35" height="5.24" fill="#3b518b" mask="url(#hs4)"/>
<rect x="63.2" y="518.18" width="34.05" height="5.24" fill="#37b878" mask="url(#hd1)"/>
<rect x="97.2" y="518.18" width="16.35" height="5.24" fill="#3b518b" mask="url(#hs6)"/>
<rect x="113.5" y="518.18" width="34.35" height="5.24" fill="#404588" mask="url(#hs3)"/>
<rect x="147.8" y="518.18" width="34.55" height="5.24" fill="#404588" mask="url(#hs0)"/>
<rect x="182.3" y="518.18" width="34.15" height="5.24" fill="#404588" mask="url(#hs5)"/>
<rect x="216.4" y="518.18" width="34.55" height="5.24" fill="#404588" mask="url(#hs2)"/>
<rect x="22.4" y="522.42" width="34.55" height="5.24" fill="#463480" mask="url(#hs1)"/>
<rect x="56.9" y="522.42" width="6.35" height="5.24" fill="#463480" mask="url(#hs6)"/>
<rect x="63.2" y="522.42" width="34.05" height="5.24" fill="#3b518b" mask="url(#hs3)"/>
<rect x="97.2" y="522.42" width="16.35" height="5.24" fill="#a8db34" mask="url(#hd0)"/>
<rect x="113.5" y="522.42" width="34.35" height="5.24" fill="#463480" mask="url(#hs5)"/>
<rect x="147.8" y="522.42" width="34.55" height="5.24" fill="#463480" mask="url(#hs2)"/>
<rect x="182.3" y="522.42" width="34.15" height="5.24" fill="#463480" mask="url(#hs7)"/>
<rect x="216.4" y="522.42" width="34.55" height="5.24" fill="#463480" mask="url(#hs4)"/>
<rect x="22.4" y="526.66" width="34.55" height="5.24" fill="#3f4788" mask="url(#hd2)"/>
<rect x="56.9" y="526.66" width="6.35" height="5.24" fill="#2e6f8e" mask="url(#hs7)"/>
<rect x="63.2" y="526.66" width="34.05" height="5.24" fill="#2a788e" mask="url(#hd4)"/>
<rect x="97.2" y="526.66" width="16.35" height="5.24" fill="#86d549" mask="url(#hd1)"/>
<rect x="113.5" y="526.66" width="34.35" height="5.24" fill="#3b518b" mask="url(#hs6)"/>
<rect x="147.8" y="526.66" width="34.55" height="5.24" fill="#355f8d" mask="url(#hd3)"/>
<rect x="182.3" y="526.66" width="34.15" height="5.24" fill="#355f8d" mask="url(#hd0)"/>
<rect x="216.4" y="526.66" width="34.55" height="5.24" fill="#355f8d" mask="url(#hd5)"/>
<rect x="22.4" y="530.9" width="34.55" height="5.24" fill="#26ad81" mask="url(#hd1)"/>
<rect x="56.9" y="530.9" width="6.35" height="5.24" fill="#2a788e" mask="url(#hd6)"/>
<rect x="63.2" y="530.9" width="34.05" height="5.24" fill="#1fa188" mask="url(#hd3)"/>
<rect x="97.2" y="530.9" width="16.35" height="5.24" fill="#86d549" mask="url(#hd0)"/>
<rect x="113.5" y="530.9" width="34.35" height="5.24" fill="#1f978b" mask="url(#hd5)"/>
<rect x="147.8" y="530.9" width="34.55" height="5.24" fill="#26ad81" mask="url(#hd2)"/>
<rect x="182.3" y="530.9" width="34.15" height="5.24" fill="#26ad81" mask="url(#hd7)"/>
<rect x="216.4" y="530.9" width="34.55" height="5.24" fill="#26ad81" mask="url(#hd4)"/>
<rect x="22.4" y="535.14" width="34.55" height="5.24" fill="#3b518b" mask="url(#hs2)"/>
<rect x="56.9" y="535.14" width="6.35" height="5.24" fill="#463480" mask="url(#hs7)"/>
<rect x="63.2" y="535.14" width="34.05" height="5.24" fill="#3b518b" mask="url(#hs4)"/>
<rect x="97.2" y="535.14" width="16.35" height="5.24" fill="#1fa188" mask="url(#hd1)"/>
<rect x="113.5" y="535.14" width="34.35" height="5.24" fill="#463480" mask="url(#hs6)"/>
<rect x="147.8" y="535.14" width="34.55" height="5.24" fill="#365d8d" mask="url(#hs3)"/>
<rect x="182.3" y="535.14" width="34.15" height="5.24" fill="#3b518b" mask="url(#hs0)"/>
<rect x="216.4" y="535.14" width="34.55" height="5.24" fill="#3b518b" mask="url(#hs5)"/>
<rect x="22.4" y="539.38" width="34.55" height="5.24" fill="#2e6f8e" mask="url(#hs1)"/>
<rect x="56.9" y="539.38" width="6.35" height="5.24" fill="#3b518b" mask="url(#hs6)"/>
<rect x="63.2" y="539.38" width="34.05" height="5.24" fill="#2a788e" mask="url(#hd3)"/>
<rect x="97.2" y="539.38" width="16.35" height="5.24" fill="#4ec36b" mask="url(#hd0)"/>
<rect x="113.5" y="539.38" width="34.35" height="5.24" fill="#3b518b" mask="url(#hs5)"/>
<rect x="147.8" y="539.38" width="34.55" height="5.24" fill="#2e6f8e" mask="url(#hs2)"/>
<rect x="182.3" y="539.38" width="34.15" height="5.24" fill="#2e6f8e" mask="url(#hs7)"/>
<rect x="216.4" y="539.38" width="34.55" height="5.24" fill="#365d8d" mask="url(#hs4)"/>
<rect x="22.4" y="543.62" width="34.55" height="5.24" fill="#463480" mask="url(#hs2)"/>
<rect x="56.9" y="543.62" width="6.35" height="5.24" fill="#463480" mask="url(#hs7)"/>
<rect x="63.2" y="543.62" width="34.05" height="5.24" fill="#3b518b" mask="url(#hs4)"/>
<rect x="97.2" y="543.62" width="16.35" height="5.24" fill="#1fa188" mask="url(#hd1)"/>
<rect x="113.5" y="543.62" width="34.35" height="5.24" fill="#463480" mask="url(#hs6)"/>
<rect x="147.8" y="543.62" width="34.55" height="5.24" fill="#3b518b" mask="url(#hs3)"/>
<rect x="182.3" y="543.62" width="34.15" height="5.24" fill="#3b518b" mask="url(#hs0)"/>
<rect x="216.4" y="543.62" width="34.55" height="5.24" fill="#404588" mask="url(#hs5)"/>
<rect x="22.4" y="547.86" width="34.55" height="5.24" fill="#3b518b" mask="url(#hs1)"/>
<rect x="56.9" y="547.86" width="6.35" height="5.24" fill="#463480" mask="url(#hs6)"/>
<rect x="63.2" y="547.86" width="34.05" height="5.24" fill="#2e6f8e" mask="url(#hs3)"/>
<rect x="97.2" y="547.86" width="16.35" height="5.24" fill="#86d549" mask="url(#hd0)"/>
<rect x="113.5" y="547.86" width="34.35" height="5.24" fill="#3b518b" mask="url(#hs5)"/>
<rect x="147.8" y="547.86" width="34.55" height="5.24" fill="#3f4788" mask="url(#hd2)"/>
<rect x="182.3" y="547.86" width="34.15" height="5.24" fill="#3f4788" mask="url(#hd7)"/>
<rect x="216.4" y="547.86" width="34.55" height="5.24" fill="#3f4788" mask="url(#hd4)"/>
<rect x="22.4" y="552.1" width="34.55" height="5.24" fill="#2a788e" mask="url(#hd2)"/>
<rect x="56.9" y="552.1" width="6.35" height="5.24" fill="#3f4788" mask="url(#hd7)"/>
<rect x="63.2" y="552.1" width="34.05" height="5.24" fill="#1fa188" mask="url(#hd4)"/>
<rect x="97.2" y="552.1" width="16.35" height="5.24" fill="#a8db34" mask="url(#hd1)"/>
<rect x="113.5" y="552.1" width="34.35" height="5.24" fill="#2a788e" mask="url(#hd6)"/>
<rect x="147.8" y="552.1" width="34.55" height="5.24" fill="#1f978b" mask="url(#hd3)"/>
<rect x="182.3" y="552.1" width="34.15" height="5.24" fill="#2a788e" mask="url(#hd0)"/>
<rect x="216.4" y="552.1" width="34.55" height="5.24" fill="#1f978b" mask="url(#hd5)"/>
<rect x="22.4" y="556.34" width="34.55" height="5.24" fill="#482878" mask="url(#hs4)"/>
<rect x="56.9" y="556.34" width="6.35" height="5.24" fill="#463480" mask="url(#hs1)"/>
<rect x="63.2" y="556.34" width="34.05" height="5.24" fill="#463480" mask="url(#hs6)"/>
<rect x="97.2" y="556.34" width="16.35" height="5.24" fill="#482878" mask="url(#hs3)"/>
<rect x="113.5" y="556.34" width="34.35" height="5.24" fill="#69cd5b" mask="url(#hd0)"/>
<rect x="147.8" y="556.34" width="34.55" height="5.24" fill="#2e6f8e" mask="url(#hs5)"/>
<rect x="182.3" y="556.34" width="34.15" height="5.24" fill="#2e6f8e" mask="url(#hs2)"/>
<rect x="216.4" y="556.34" width="34.55" height="5.24" fill="#37b878" mask="url(#hd7)"/>
<rect x="22.4" y="560.58" width="34.55" height="5.24" fill="#482878" mask="url(#hs5)"/>
<rect x="56.9" y="560.58" width="6.35" height="5.24" fill="#463480" mask="url(#hs2)"/>
<rect x="63.2" y="560.58" width="34.05" height="5.24" fill="#463480" mask="url(#hs7)"/>
<rect x="97.2" y="560.58" width="16.35" height="5.24" fill="#482878" mask="url(#hs4)"/>
<rect x="113.5" y="560.58" width="34.35" height="5.24" fill="#4ec36b" mask="url(#hd1)"/>
<rect x="147.8" y="560.58" width="34.55" height="5.24" fill="#463480" mask="url(#hs6)"/>
<rect x="182.3" y="560.58" width="34.15" height="5.24" fill="#463480" mask="url(#hs3)"/>
<rect x="216.4" y="560.58" width="34.55" height="5.24" fill="#3b518b" mask="url(#hs0)"/>
<rect x="22.4" y="564.82" width="34.55" height="5.24" fill="#482878" mask="url(#hs4)"/>
<rect x="56.9" y="564.82" width="6.35" height="5.24" fill="#463480" mask="url(#hs1)"/>
<rect x="63.2" y="564.82" width="34.05" height="5.24" fill="#355f8d" mask="url(#hd6)"/>
<rect x="97.2" y="564.82" width="16.35" height="5.24" fill="#482878" mask="url(#hs3)"/>
<rect x="113.5" y="564.82" width="34.35" height="5.24" fill="#37b878" mask="url(#hd0)"/>
<rect x="147.8" y="564.82" width="34.55" height="5.24" fill="#463480" mask="url(#hs5)"/>
<rect x="182.3" y="564.82" width="34.15" height="5.24" fill="#463480" mask="url(#hs2)"/>
<rect x="216.4" y="564.82" width="34.55" height="5.24" fill="#463480" mask="url(#hs7)"/>
<rect x="22.4" y="569.06" width="34.55" height="5.24" fill="#482878" mask="url(#hs5)"/>
<rect x="56.9" y="569.06" width="6.35" height="5.24" fill="#463480" mask="url(#hs2)"/>
<rect x="63.2" y="569.06" width="34.05" height="5.24" fill="#3b518b" mask="url(#hs7)"/>
<rect x="97.2" y="569.06" width="16.35" height="5.24" fill="#482878" mask="url(#hs4)"/>
<rect x="113.5" y="569.06" width="34.35" height="5.24" fill="#4ec36b" mask="url(#hd1)"/>
<rect x="147.8" y="569.06" width="34.55" height="5.24" fill="#2e6f8e" mask="url(#hs6)"/>
<rect x="182.3" y="569.06" width="34.15" height="5.24" fill="#2e6f8e" mask="url(#hs3)"/>
<rect x="216.4" y="569.06" width="34.55" height="5.24" fill="#3f4788" mask="url(#hd0)"/>
<rect x="22.4" y="573.3" width="34.55" height="5.24" fill="#482878" mask="url(#hs4)"/>
<rect x="56.9" y="573.3" width="6.35" height="5.24" fill="#463480" mask="url(#hs1)"/>
<rect x="63.2" y="573.3" width="34.05" height="5.24" fill="#404588" mask="url(#hs6)"/>
<rect x="97.2" y="573.3" width="16.35" height="5.24" fill="#482878" mask="url(#hs3)"/>
<rect x="113.5" y="573.3" width="34.35" height="5.24" fill="#4ec36b" mask="url(#hd0)"/>
<rect x="147.8" y="573.3" width="34.55" height="5.24" fill="#3b518b" mask="url(#hs5)"/>
<rect x="182.3" y="573.3" width="34.15" height="5.24" fill="#3b518b" mask="url(#hs2)"/>
<rect x="216.4" y="573.3" width="34.55" height="5.24" fill="#2e6f8e" mask="url(#hs7)"/>
<rect x="22.4" y="577.54" width="34.55" height="5.24" fill="#482878" mask="url(#hs5)"/>
<rect x="56.9" y="577.54" width="6.35" height="5.24" fill="#463480" mask="url(#hs2)"/>
<rect x="63.2" y="577.54" width="34.05" height="5.24" fill="#404588" mask="url(#hs7)"/>
<rect x="97.2" y="577.54" width="16.35" height="5.24" fill="#482878" mask="url(#hs4)"/>
<rect x="113.5" y="577.54" width="34.35" height="5.24" fill="#37b878" mask="url(#hd1)"/>
<rect x="147.8" y="577.54" width="34.55" height="5.24" fill="#3f4788" mask="url(#hd6)"/>
<rect x="182.3" y="577.54" width="34.15" height="5.24" fill="#3f4788" mask="url(#hd3)"/>
<rect x="216.4" y="577.54" width="34.55" height="5.24" fill="#37b878" mask="url(#hd0)"/>
<rect x="22.4" y="581.78" width="34.55" height="5.24" fill="#3b518b" mask="url(#hs4)"/>
<rect x="56.9" y="581.78" width="6.35" height="5.24" fill="#463480" mask="url(#hs1)"/>
<rect x="63.2" y="581.78" width="34.05" height="5.24" fill="#404588" mask="url(#hs6)"/>
<rect x="97.2" y="581.78" width="16.35" height="5.24" fill="#482878" mask="url(#hs3)"/>
<rect x="113.5" y="581.78" width="34.35" height="5.24" fill="#4ec36b" mask="url(#hd0)"/>
<rect x="147.8" y="581.78" width="34.55" height="5.24" fill="#3b518b" mask="url(#hs5)"/>
<rect x="182.3" y="581.78" width="34.15" height="5.24" fill="#3b518b" mask="url(#hs2)"/>
<rect x="216.4" y="581.78" width="34.55" height="5.24" fill="#2e6f8e" mask="url(#hs7)"/>
<rect x="22.4" y="586.02" width="34.55" height="5.24" fill="#3b518b" mask="url(#hs5)"/>
<rect x="56.9" y="586.02" width="6.35" height="5.24" fill="#463480" mask="url(#hs2)"/>
<rect x="63.2" y="586.02" width="34.05" height="5.24" fill="#404588" mask="url(#hs7)"/>
<rect x="97.2" y="586.02" width="16.35" height="5.24" fill="#482878" mask="url(#hs4)"/>
<rect x="113.5" y="586.02" width="34.35" height="5.24" fill="#26ad81" mask="url(#hd1)"/>
<rect x="147.8" y="586.02" width="34.55" height="5.24" fill="#355f8d" mask="url(#hd6)"/>
<rect x="182.3" y="586.02" width="34.15" height="5.24" fill="#355f8d" mask="url(#hd3)"/>
<rect x="216.4" y="586.02" width="34.55" height="5.24" fill="#355f8d" mask="url(#hd0)"/>
<rect x="22.4" y="590.26" width="34.55" height="5.24" fill="#3b518b" mask="url(#hs4)"/>
<rect x="56.9" y="590.26" width="6.35" height="5.24" fill="#463480" mask="url(#hs1)"/>
<rect x="63.2" y="590.26" width="34.05" height="5.24" fill="#404588" mask="url(#hs6)"/>
<rect x="97.2" y="590.26" width="16.35" height="5.24" fill="#482878" mask="url(#hs3)"/>
<rect x="113.5" y="590.26" width="34.35" height="5.24" fill="#37b878" mask="url(#hd0)"/>
<rect x="147.8" y="590.26" width="34.55" height="5.24" fill="#3b518b" mask="url(#hs5)"/>
<rect x="182.3" y="590.26" width="34.15" height="5.24" fill="#3b518b" mask="url(#hs2)"/>
<rect x="216.4" y="590.26" width="34.55" height="5.24" fill="#1f978b" mask="url(#hd7)"/>
<rect x="22.4" y="594.51" width="34.55" height="5.24" fill="#482878" mask="url(#hs5)"/>
<rect x="56.9" y="594.51" width="6.35" height="5.24" fill="#463480" mask="url(#hs2)"/>
<rect x="63.2" y="594.51" width="34.05" height="5.24" fill="#404588" mask="url(#hs7)"/>
<rect x="97.2" y="594.51" width="16.35" height="5.24" fill="#482878" mask="url(#hs4)"/>
<rect x="113.5" y="594.51" width="34.35" height="5.24" fill="#26ad81" mask="url(#hd1)"/>
<rect x="147.8" y="594.51" width="34.55" height="5.24" fill="#463480" mask="url(#hs6)"/>
<rect x="182.3" y="594.51" width="34.15" height="5.24" fill="#463480" mask="url(#hs3)"/>
<rect x="216.4" y="594.51" width="34.55" height="5.24" fill="#3b518b" mask="url(#hs0)"/>
<rect x="22.4" y="598.75" width="34.55" height="5.24" fill="#3b518b" mask="url(#hs7)"/>
<rect x="56.9" y="598.75" width="6.35" height="5.24" fill="#3b518b" mask="url(#hs4)"/>
<rect x="63.2" y="598.75" width="34.05" height="5.24" fill="#2a788e" mask="url(#hd1)"/>
<rect x="97.2" y="598.75" width="16.35" height="5.24" fill="#2e6f8e" mask="url(#hs6)"/>
<rect x="113.5" y="598.75" width="34.35" height="5.24" fill="#3f4788" mask="url(#hd3)"/>
<rect x="147.8" y="598.75" width="34.55" height="5.24" fill="#4ec36b" mask="url(#hd0)"/>
<rect x="182.3" y="598.75" width="34.15" height="5.24" fill="#2e6f8e" mask="url(#hs5)"/>
<rect x="216.4" y="598.75" width="34.55" height="5.24" fill="#3f4788" mask="url(#hd2)"/>
<rect x="22.4" y="602.99" width="34.55" height="5.24" fill="#482878" mask="url(#hs0)"/>
<rect x="56.9" y="602.99" width="6.35" height="5.24" fill="#482878" mask="url(#hs5)"/>
<rect x="63.2" y="602.99" width="34.05" height="5.24" fill="#463480" mask="url(#hs2)"/>
<rect x="97.2" y="602.99" width="16.35" height="5.24" fill="#482878" mask="url(#hs7)"/>
<rect x="113.5" y="602.99" width="34.35" height="5.24" fill="#463480" mask="url(#hs4)"/>
<rect x="147.8" y="602.99" width="34.55" height="5.24" fill="#26ad81" mask="url(#hd1)"/>
<rect x="182.3" y="602.99" width="34.15" height="5.24" fill="#463480" mask="url(#hs6)"/>
<rect x="216.4" y="602.99" width="34.55" height="5.24" fill="#404588" mask="url(#hs3)"/>
<rect x="22.4" y="607.23" width="34.55" height="5.24" fill="#1fa188" mask="url(#hd7)"/>
<rect x="56.9" y="607.23" width="6.35" height="5.24" fill="#26ad81" mask="url(#hd4)"/>
<rect x="63.2" y="607.23" width="34.05" height="5.24" fill="#26ad81" mask="url(#hd1)"/>
<rect x="97.2" y="607.23" width="16.35" height="5.24" fill="#1fa188" mask="url(#hd6)"/>
<rect x="113.5" y="607.23" width="34.35" height="5.24" fill="#1fa188" mask="url(#hd3)"/>
<rect x="147.8" y="607.23" width="34.55" height="5.24" fill="#cae11f" mask="url(#hd0)"/>
<rect x="182.3" y="607.23" width="34.15" height="5.24" fill="#26ad81" mask="url(#hd5)"/>
<rect x="216.4" y="607.23" width="34.55" height="5.24" fill="#26ad81" mask="url(#hd2)"/>
<rect x="22.4" y="611.47" width="34.55" height="5.24" fill="#463480" mask="url(#hs0)"/>
<rect x="56.9" y="611.47" width="6.35" height="5.24" fill="#463480" mask="url(#hs5)"/>
<rect x="63.2" y="611.47" width="34.05" height="5.24" fill="#3b518b" mask="url(#hs2)"/>
<rect x="97.2" y="611.47" width="16.35" height="5.24" fill="#463480" mask="url(#hs7)"/>
<rect x="113.5" y="611.47" width="34.35" height="5.24" fill="#3b518b" mask="url(#hs4)"/>
<rect x="147.8" y="611.47" width="34.55" height="5.24" fill="#26ad81" mask="url(#hd1)"/>
<rect x="182.3" y="611.47" width="34.15" height="5.24" fill="#3b518b" mask="url(#hs6)"/>
<rect x="216.4" y="611.47" width="34.55" height="5.24" fill="#3b518b" mask="url(#hs3)"/>
<rect x="22.4" y="615.71" width="34.55" height="5.24" fill="#463480" mask="url(#hs7)"/>
<rect x="56.9" y="615.71" width="6.35" height="5.24" fill="#463480" mask="url(#hs4)"/>
<rect x="63.2" y="615.71" width="34.05" height="5.24" fill="#3b518b" mask="url(#hs1)"/>
<rect x="97.2" y="615.71" width="16.35" height="5.24" fill="#463480" mask="url(#hs6)"/>
<rect x="113.5" y="615.71" width="34.35" height="5.24" fill="#463480" mask="url(#hs3)"/>
<rect x="147.8" y="615.71" width="34.55" height="5.24" fill="#1fa188" mask="url(#hd0)"/>
<rect x="182.3" y="615.71" width="34.15" height="5.24" fill="#404588" mask="url(#hs5)"/>
<rect x="216.4" y="615.71" width="34.55" height="5.24" fill="#3b518b" mask="url(#hs2)"/>
<rect x="22.4" y="619.95" width="34.55" height="5.24" fill="#463480" mask="url(#hs0)"/>
<rect x="56.9" y="619.95" width="6.35" height="5.24" fill="#463480" mask="url(#hs5)"/>
<rect x="63.2" y="619.95" width="34.05" height="5.24" fill="#3b518b" mask="url(#hs2)"/>
<rect x="97.2" y="619.95" width="16.35" height="5.24" fill="#463480" mask="url(#hs7)"/>
<rect x="113.5" y="619.95" width="34.35" height="5.24" fill="#463480" mask="url(#hs4)"/>
<rect x="147.8" y="619.95" width="34.55" height="5.24" fill="#26ad81" mask="url(#hd1)"/>
<rect x="182.3" y="619.95" width="34.15" height="5.24" fill="#463480" mask="url(#hs6)"/>
<rect x="216.4" y="619.95" width="34.55" height="5.24" fill="#404588" mask="url(#hs3)"/>
<rect x="22.4" y="624.19" width="34.55" height="5.24" fill="#463480" mask="url(#hs7)"/>
<rect x="56.9" y="624.19" width="6.35" height="5.24" fill="#463480" mask="url(#hs4)"/>
<rect x="63.2" y="624.19" width="34.05" height="5.24" fill="#3b518b" mask="url(#hs1)"/>
<rect x="97.2" y="624.19" width="16.35" height="5.24" fill="#463480" mask="url(#hs6)"/>
<rect x="113.5" y="624.19" width="34.35" height="5.24" fill="#463480" mask="url(#hs3)"/>
<rect x="147.8" y="624.19" width="34.55" height="5.24" fill="#26ad81" mask="url(#hd0)"/>
<rect x="182.3" y="624.19" width="34.15" height="5.24" fill="#463480" mask="url(#hs5)"/>
<rect x="216.4" y="624.19" width="34.55" height="5.24" fill="#404588" mask="url(#hs2)"/>
<rect x="22.4" y="628.43" width="34.55" height="5.24" fill="#463480" mask="url(#hs0)"/>
<rect x="56.9" y="628.43" width="6.35" height="5.24" fill="#463480" mask="url(#hs5)"/>
<rect x="63.2" y="628.43" width="34.05" height="5.24" fill="#3b518b" mask="url(#hs2)"/>
<rect x="97.2" y="628.43" width="16.35" height="5.24" fill="#463480" mask="url(#hs7)"/>
<rect x="113.5" y="628.43" width="34.35" height="5.24" fill="#463480" mask="url(#hs4)"/>
<rect x="147.8" y="628.43" width="34.55" height="5.24" fill="#1fa188" mask="url(#hd1)"/>
<rect x="182.3" y="628.43" width="34.15" height="5.24" fill="#463480" mask="url(#hs6)"/>
<rect x="216.4" y="628.43" width="34.55" height="5.24" fill="#463480" mask="url(#hs3)"/>
<rect x="22.4" y="632.67" width="34.55" height="5.24" fill="#463480" mask="url(#hs7)"/>
<rect x="56.9" y="632.67" width="6.35" height="5.24" fill="#463480" mask="url(#hs4)"/>
<rect x="63.2" y="632.67" width="34.05" height="5.24" fill="#3b518b" mask="url(#hs1)"/>
<rect x="97.2" y="632.67" width="16.35" height="5.24" fill="#463480" mask="url(#hs6)"/>
<rect x="113.5" y="632.67" width="34.35" height="5.24" fill="#463480" mask="url(#hs3)"/>
<rect x="147.8" y="632.67" width="34.55" height="5.24" fill="#26ad81" mask="url(#hd0)"/>
<rect x="182.3" y="632.67" width="34.15" height="5.24" fill="#463480" mask="url(#hs5)"/>
<rect x="216.4" y="632.67" width="34.55" height="5.24" fill="#463480" mask="url(#hs2)"/>
<rect x="22.4" y="636.91" width="34.55" height="5.24" fill="#3f4788" mask="url(#hd3)"/>
<rect x="56.9" y="636.91" width="6.35" height="5.24" fill="#3b518b" mask="url(#hs0)"/>
<rect x="63.2" y="636.91" width="34.05" height="5.24" fill="#2a788e" mask="url(#hd5)"/>
<rect x="97.2" y="636.91" width="16.35" height="5.24" fill="#3f4788" mask="url(#hd2)"/>
<rect x="113.5" y="636.91" width="34.35" height="5.24" fill="#3f4788" mask="url(#hd7)"/>
<rect x="147.8" y="636.91" width="34.55" height="5.24" fill="#37b878" mask="url(#hd4)"/>
<rect x="182.3" y="636.91" width="34.15" height="5.24" fill="#4ec36b" mask="url(#hd1)"/>
<rect x="216.4" y="636.91" width="34.55" height="5.24" fill="#26ad81" mask="url(#hd6)"/>
<rect x="22.4" y="641.15" width="34.55" height="5.24" fill="#2e6f8e" mask="url(#hs2)"/>
<rect x="56.9" y="641.15" width="6.35" height="5.24" fill="#2e6f8e" mask="url(#hs7)"/>
<rect x="63.2" y="641.15" width="34.05" height="5.24" fill="#2a788e" mask="url(#hd4)"/>
<rect x="97.2" y="641.15" width="16.35" height="5.24" fill="#355f8d" mask="url(#hd1)"/>
<rect x="113.5" y="641.15" width="34.35" height="5.24" fill="#2e6e8e" mask="url(#hd6)"/>
<rect x="147.8" y="641.15" width="34.55" height="5.24" fill="#37b878" mask="url(#hd3)"/>
<rect x="182.3" y="641.15" width="34.15" height="5.24" fill="#69cd5b" mask="url(#hd0)"/>
<rect x="216.4" y="641.15" width="34.55" height="5.24" fill="#37b878" mask="url(#hd5)"/>
<rect x="22.4" y="645.39" width="34.55" height="5.24" fill="#463480" mask="url(#hs3)"/>
<rect x="56.9" y="645.39" width="6.35" height="5.24" fill="#463480" mask="url(#hs0)"/>
<rect x="63.2" y="645.39" width="34.05" height="5.24" fill="#463480" mask="url(#hs5)"/>
<rect x="97.2" y="645.39" width="16.35" height="5.24" fill="#463480" mask="url(#hs2)"/>
<rect x="113.5" y="645.39" width="34.35" height="5.24" fill="#463480" mask="url(#hs7)"/>
<rect x="147.8" y="645.39" width="34.55" height="5.24" fill="#3b518b" mask="url(#hs4)"/>
<rect x="182.3" y="645.39" width="34.15" height="5.24" fill="#2e6f8e" mask="url(#hs1)"/>
<rect x="216.4" y="645.39" width="34.55" height="5.24" fill="#3b518b" mask="url(#hs6)"/>
<rect x="22.4" y="649.63" width="34.55" height="5.24" fill="#463480" mask="url(#hs2)"/>
<rect x="56.9" y="649.63" width="6.35" height="5.24" fill="#463480" mask="url(#hs7)"/>
<rect x="63.2" y="649.63" width="34.05" height="5.24" fill="#463480" mask="url(#hs4)"/>
<rect x="97.2" y="649.63" width="16.35" height="5.24" fill="#463480" mask="url(#hs1)"/>
<rect x="113.5" y="649.63" width="34.35" height="5.24" fill="#2e6f8e" mask="url(#hs6)"/>
<rect x="147.8" y="649.63" width="34.55" height="5.24" fill="#2a788e" mask="url(#hd3)"/>
<rect x="182.3" y="649.63" width="34.15" height="5.24" fill="#1f978b" mask="url(#hd0)"/>
<rect x="216.4" y="649.63" width="34.55" height="5.24" fill="#2a788e" mask="url(#hd5)"/>
<rect x="22.4" y="653.87" width="34.55" height="5.24" fill="#1f978b" mask="url(#hd3)"/>
<rect x="56.9" y="653.87" width="6.35" height="5.24" fill="#3f4788" mask="url(#hd0)"/>
<rect x="63.2" y="653.87" width="34.05" height="5.24" fill="#2a788e" mask="url(#hd5)"/>
<rect x="97.2" y="653.87" width="16.35" height="5.24" fill="#355f8d" mask="url(#hd2)"/>
<rect x="113.5" y="653.87" width="34.35" height="5.24" fill="#2a788e" mask="url(#hd7)"/>
<rect x="147.8" y="653.87" width="34.55" height="5.24" fill="#4ec36b" mask="url(#hd4)"/>
<rect x="182.3" y="653.87" width="34.15" height="5.24" fill="#69cd5b" mask="url(#hd1)"/>
<rect x="216.4" y="653.87" width="34.55" height="5.24" fill="#4ec36b" mask="url(#hd6)"/>
<rect x="22.4" y="658.11" width="34.55" height="5.24" fill="#2a788e" mask="url(#hd2)"/>
<rect x="56.9" y="658.11" width="6.35" height="5.24" fill="#3f4788" mask="url(#hd7)"/>
<rect x="63.2" y="658.11" width="34.05" height="5.24" fill="#2a788e" mask="url(#hd4)"/>
<rect x="97.2" y="658.11" width="16.35" height="5.24" fill="#3f4788" mask="url(#hd1)"/>
<rect x="113.5" y="658.11" width="34.35" height="5.24" fill="#2a788e" mask="url(#hd6)"/>
<rect x="147.8" y="658.11" width="34.55" height="5.24" fill="#37b878" mask="url(#hd3)"/>
<rect x="182.3" y="658.11" width="34.15" height="5.24" fill="#4ec36b" mask="url(#hd0)"/>
<rect x="216.4" y="658.11" width="34.55" height="5.24" fill="#4ec36b" mask="url(#hd5)"/>
<rect x="22.4" y="662.35" width="34.55" height="5.24" fill="#26ad81" mask="url(#hd3)"/>
<rect x="56.9" y="662.35" width="6.35" height="5.24" fill="#2a788e" mask="url(#hd0)"/>
<rect x="63.2" y="662.35" width="34.05" height="5.24" fill="#37b878" mask="url(#hd5)"/>
<rect x="97.2" y="662.35" width="16.35" height="5.24" fill="#1fa188" mask="url(#hd2)"/>
<rect x="113.5" y="662.35" width="34.35" height="5.24" fill="#1fa188" mask="url(#hd7)"/>
<rect x="147.8" y="662.35" width="34.55" height="5.24" fill="#cae11f" mask="url(#hd4)"/>
<rect x="182.3" y="662.35" width="34.15" height="5.24" fill="#4ec36b" mask="url(#hd1)"/>
<rect x="216.4" y="662.35" width="34.55" height="5.24" fill="#69cd5b" mask="url(#hd6)"/>
<rect x="22.4" y="666.59" width="34.55" height="5.24" fill="#2e6f8e" mask="url(#hs2)"/>
<rect x="56.9" y="666.59" width="6.35" height="5.24" fill="#3b518b" mask="url(#hs7)"/>
<rect x="63.2" y="666.59" width="34.05" height="5.24" fill="#3f4788" mask="url(#hd4)"/>
<rect x="97.2" y="666.59" width="16.35" height="5.24" fill="#2e6f8e" mask="url(#hs1)"/>
<rect x="113.5" y="666.59" width="34.35" height="5.24" fill="#3f4788" mask="url(#hd6)"/>
<rect x="147.8" y="666.59" width="34.55" height="5.24" fill="#1f978b" mask="url(#hd3)"/>
<rect x="182.3" y="666.59" width="34.15" height="5.24" fill="#1fa188" mask="url(#hd0)"/>
<rect x="216.4" y="666.59" width="34.55" height="5.24" fill="#26ad81" mask="url(#hd5)"/>
<rect x="22.4" y="670.84" width="34.55" height="5.24" fill="#3b518b" mask="url(#hs3)"/>
<rect x="56.9" y="670.84" width="6.35" height="5.24" fill="#3b518b" mask="url(#hs0)"/>
<rect x="63.2" y="670.84" width="34.05" height="5.24" fill="#2e6f8e" mask="url(#hs5)"/>
<rect x="97.2" y="670.84" width="16.35" height="5.24" fill="#26ad81" mask="url(#hd2)"/>
<rect x="113.5" y="670.84" width="34.35" height="5.24" fill="#2e6f8e" mask="url(#hs7)"/>
<rect x="147.8" y="670.84" width="34.55" height="5.24" fill="#1fa188" mask="url(#hd4)"/>
<rect x="182.3" y="670.84" width="34.15" height="5.24" fill="#26ad81" mask="url(#hd1)"/>
<rect x="216.4" y="670.84" width="34.55" height="5.24" fill="#1fa188" mask="url(#hd6)"/>
<rect x="22.4" y="675.08" width="34.55" height="5.24" fill="#1f978b" mask="url(#hd2)"/>
<rect x="56.9" y="675.08" width="6.35" height="5.24" fill="#3f4788" mask="url(#hd7)"/>
<rect x="63.2" y="675.08" width="34.05" height="5.24" fill="#37b878" mask="url(#hd4)"/>
<rect x="97.2" y="675.08" width="16.35" height="5.24" fill="#3f4788" mask="url(#hd1)"/>
<rect x="113.5" y="675.08" width="34.35" height="5.24" fill="#2a788e" mask="url(#hd6)"/>
<rect x="147.8" y="675.08" width="34.55" height="5.24" fill="#37b878" mask="url(#hd3)"/>
<rect x="182.3" y="675.08" width="34.15" height="5.24" fill="#4ec36b" mask="url(#hd0)"/>
<rect x="216.4" y="675.08" width="34.55" height="5.24" fill="#37b878" mask="url(#hd5)"/>
<rect x="22.4" y="679.32" width="34.55" height="5.24" fill="#482878" mask="url(#hs6)"/>
<rect x="56.9" y="679.32" width="6.35" height="5.24" fill="#482878" mask="url(#hs3)"/>
<rect x="63.2" y="679.32" width="34.05" height="5.24" fill="#404588" mask="url(#hs0)"/>
<rect x="97.2" y="679.32" width="16.35" height="5.24" fill="#cae11f" mask="url(#hd5)"/>
<rect x="113.5" y="679.32" width="34.35" height="5.24" fill="#463480" mask="url(#hs2)"/>
<rect x="147.8" y="679.32" width="34.55" height="5.24" fill="#463480" mask="url(#hs7)"/>
<rect x="182.3" y="679.32" width="34.15" height="5.24" fill="#463480" mask="url(#hs4)"/>
<rect x="216.4" y="679.32" width="34.55" height="5.24" fill="#1fa188" mask="url(#hd1)"/>
<rect x="22.4" y="683.56" width="34.55" height="5.24" fill="#482878" mask="url(#hs5)"/>
<rect x="56.9" y="683.56" width="6.35" height="5.24" fill="#482878" mask="url(#hs2)"/>
<rect x="63.2" y="683.56" width="34.05" height="5.24" fill="#463480" mask="url(#hs7)"/>
<rect x="97.2" y="683.56" width="16.35" height="5.24" fill="#482878" mask="url(#hs4)"/>
<rect x="113.5" y="683.56" width="34.35" height="5.24" fill="#463480" mask="url(#hs1)"/>
<rect x="147.8" y="683.56" width="34.55" height="5.24" fill="#463480" mask="url(#hs6)"/>
<rect x="182.3" y="683.56" width="34.15" height="5.24" fill="#463480" mask="url(#hs3)"/>
<rect x="216.4" y="683.56" width="34.55" height="5.24" fill="#1fa188" mask="url(#hd0)"/>
<rect x="22.4" y="687.8" width="34.55" height="5.24" fill="#463480" mask="url(#hs6)"/>
<rect x="56.9" y="687.8" width="6.35" height="5.24" fill="#463480" mask="url(#hs3)"/>
<rect x="63.2" y="687.8" width="34.05" height="5.24" fill="#404588" mask="url(#hs0)"/>
<rect x="97.2" y="687.8" width="16.35" height="5.24" fill="#463480" mask="url(#hs5)"/>
<rect x="113.5" y="687.8" width="34.35" height="5.24" fill="#3b518b" mask="url(#hs2)"/>
<rect x="147.8" y="687.8" width="34.55" height="5.24" fill="#2e6f8e" mask="url(#hs7)"/>
<rect x="182.3" y="687.8" width="34.15" height="5.24" fill="#2e6f8e" mask="url(#hs4)"/>
<rect x="216.4" y="687.8" width="34.55" height="5.24" fill="#37b878" mask="url(#hd1)"/>
<rect x="22.4" y="692.04" width="34.55" height="5.24" fill="#463480" mask="url(#hs5)"/>
<rect x="56.9" y="692.04" width="6.35" height="5.24" fill="#463480" mask="url(#hs2)"/>
<rect x="63.2" y="692.04" width="34.05" height="5.24" fill="#3b518b" mask="url(#hs7)"/>
<rect x="97.2" y="692.04" width="16.35" height="5.24" fill="#2e6f8e" mask="url(#hs4)"/>
<rect x="113.5" y="692.04" width="34.35" height="5.24" fill="#2fb47c" mask="url(#hd1)"/>
<rect x="147.8" y="692.04" width="34.55" height="5.24" fill="#1f978b" mask="url(#hd6)"/>
<rect x="182.3" y="692.04" width="34.15" height="5.24" fill="#2a788e" mask="url(#hd3)"/>
<rect x="216.4" y="692.04" width="34.55" height="5.24" fill="#26ad81" mask="url(#hd0)"/>
<rect x="22.4" y="696.28" width="34.55" height="5.24" fill="#355f8d" mask="url(#hd6)"/>
<rect x="56.9" y="696.28" width="6.35" height="5.24" fill="#2e6f8e" mask="url(#hs3)"/>
<rect x="63.2" y="696.28" width="34.05" height="5.24" fill="#355f8d" mask="url(#hd0)"/>
<rect x="97.2" y="696.28" width="16.35" height="5.24" fill="#3f4788" mask="url(#hd5)"/>
<rect x="113.5" y="696.28" width="34.35" height="5.24" fill="#2a788e" mask="url(#hd2)"/>
<rect x="147.8" y="696.28" width="34.55" height="5.24" fill="#26ad81" mask="url(#hd7)"/>
<rect x="182.3" y="696.28" width="34.15" height="5.24" fill="#26ad81" mask="url(#hd4)"/>
<rect x="216.4" y="696.28" width="34.55" height="5.24" fill="#86d549" mask="url(#hd1)"/>
<rect x="22.4" y="700.52" width="34.55" height="5.24" fill="#3b518b" mask="url(#hs5)"/>
<rect x="56.9" y="700.52" width="6.35" height="5.24" fill="#3b518b" mask="url(#hs2)"/>
<rect x="63.2" y="700.52" width="34.05" height="5.24" fill="#2e6f8e" mask="url(#hs7)"/>
<rect x="97.2" y="700.52" width="16.35" height="5.24" fill="#3b518b" mask="url(#hs4)"/>
<rect x="113.5" y="700.52" width="34.35" height="5.24" fill="#2e6f8e" mask="url(#hs1)"/>
<rect x="147.8" y="700.52" width="34.55" height="5.24" fill="#2a788e" mask="url(#hd6)"/>
<rect x="182.3" y="700.52" width="34.15" height="5.24" fill="#2a788e" mask="url(#hd3)"/>
<rect x="216.4" y="700.52" width="34.55" height="5.24" fill="#4ec36b" mask="url(#hd0)"/>
<rect x="22.4" y="704.76" width="34.55" height="4.24" fill="#3b518b" mask="url(#hs6)"/>
<rect x="56.9" y="704.76" width="6.35" height="4.24" fill="#463480" mask="url(#hs3)"/>
<rect x="63.2" y="704.76" width="34.05" height="4.24" fill="#3b518b" mask="url(#hs0)"/>
<rect x="97.2" y="704.76" width="16.35" height="4.24" fill="#3b518b" mask="url(#hs5)"/>
<rect x="113.5" y="704.76" width="34.35" height="4.24" fill="#2e6f8e" mask="url(#hs2)"/>
<rect x="147.8" y="704.76" width="34.55" height="4.24" fill="#1f978b" mask="url(#hd7)"/>
<rect x="182.3" y="704.76" width="34.15" height="4.24" fill="#2a788e" mask="url(#hd4)"/>
<rect x="216.4" y="704.76" width="34.55" height="4.24" fill="#4ec36b" mask="url(#hd1)"/>
<path d="M56.9 395.2V709 M63.2 395.2V709 M97.2 395.2V709 M113.5 395.2V709 M147.8 395.2V709 M182.3 395.2V709 M216.4 395.2V709" stroke="#000" stroke-width="0.7" fill="none"/>
<defs><filter id="fb" x="-20%" y="-20%" width="140%" height="140%"><feGaussianBlur stdDeviation="0.45"/></filter><filter id="fb3" x="-50%" y="-50%" width="200%" height="200%"><feGaussianBlur stdDeviation="3"/></filter><clipPath id="cblue"><path d="M31.1 107L28.7 111.7L28.4 115.8L29.7 120.5L33.1 125.2L35.1 128.5L31.7 132.6L35.1 134.6L34.4 138.6L38.5 141.3L43.2 144L45.2 146.7L49.2 148L53.9 146L60 145.3L65.3 144L70 142.7L77.3 138.6L83.6 134.4L85.7 130.2L86.7 123.9L88.6 120.3L92.7 119L91.3 116.3L86.6 114.3L83.2 111.6L85.3 108.2L84.6 104.2L81.9 99.5L80.6 94.8L80.9 90.1L80.6 84L77.2 81.3L74 83.5L69 86.5L64 90L60 94L55 97.5L50 99.5L46 99.8L41.8 100.4L35.8 101.6Z"/></clipPath><clipPath id="cgreen"><path d="M69.3 57L71.6 59L71.9 65.1L73 71.8L75.6 77.2L77 80.6L75 83.2L69.6 85.9L65.6 88L60.2 86.6L54.8 83.9L50.1 81.9L47.4 78.5L44.7 73.8L44.7 70.5L46.7 67.8L50.1 65.1L52.8 63.1L56.8 65.8L62.2 66.4L66.2 63.7L68.2 60.4Z"/></clipPath><path id="P_hole" d="M65 101L70 98.5L76 100L79 105L78.5 112L74 115L68 113L64.5 107Z"/><path id="P_bs" d="M34 102.7L38 96L42.4 88.5L47.8 82.5L52 86L58 90.2L65 93.2L60 95L55 97.5L50 99.5L46 99.8L41.8 100.4L35.8 101.6Z"/><path id="D_bs_0" d="M55.67 89.44h0.7M53.1 87.93h0.7M55.2 94.45h0.7M55.17 95.18h0.7M53.7 94.71h0.7M52.7 98.13h0.7M47.31 85.94h0.7M50.91 87.65h0.7M47.53 95.62h0.7M44.45 97.31h0.7M48.31 97.5h0.7M38.86 97.43h0.7M40.54 96.71h0.7M44.95 97.66h0.7M42.61 94.27h0.7M45.87 99.24h0.7M50.43 90.88h0.7M45.78 89.59h0.7M39.23 100.05h0.7M40.43 96.62h0.7M38.53 96.27h0.7M39.61 100.61h0.7M48.09 86.57h0.7M36.65 99.55h0.7M46.77 91.68h0.7M41.52 96.81h0.7M46.44 90.13h0.7M45.39 96.47h0.7M33.64 103.11h0.7M35.2 100.74h0.7M47.87 101.34h0.7M54.26 89.01h0.7M41.2 100.12h0.7M40.77 100.81h0.7M59.92 92.94h0.7M33.41 102.52h0.7M36.86 105.59h0.7M32.4 97.03h0.7M34.16 104.92h0.7M37.61 98.45h0.7"/><path id="D_bs_1" d="M48.94 93.78h0.7M54.35 89.77h0.7M44.89 90.77h0.7M48.26 97.8h0.7M56.23 88.93h0.7M39.28 97.48h0.7M39.56 93.65h0.7M47.47 85.98h0.7M45.9 95.25h0.7M44.02 86.08h0.7M48.14 90.21h0.7M51.09 85.51h0.7M43.12 89.09h0.7M43.63 101.63h0.7M45.26 86.24h0.7"/><path id="D_bs_2" d="M48.46 85.03h0.7M49.88 94.34h0.7M53.72 98.29h0.7M50.16 95.82h0.7M44.86 89.98h0.7M51.18 84.63h0.7M42.09 89.97h0.7M49.72 87.99h0.7M57.66 89.92h0.7M50.88 96.31h0.7M45.34 88.1h0.7M38.84 96.25h0.7M48.4 94.46h0.7M61.95 92.99h0.7"/><path id="D_bs_3" d="M48.37 93.45h0.7M42.4 91.66h0.7M45.71 95.51h0.7M50.72 95.75h0.7M56.14 89.43h0.7M52.42 93.29h0.7M48.28 94.77h0.7M49.84 87.37h0.7M50.16 94.9h0.7M49.67 96.81h0.7M49.75 88.38h0.7M51.88 95.14h0.7M47.22 98.96h0.7M47.61 98.64h0.7M56.71 91.08h0.7M57.33 90.43h0.7M53.81 88.56h0.7M42.24 92.64h0.7M53.07 91.92h0.7M54.28 92.62h0.7M52.88 90.81h0.7M52 94.83h0.7M58.79 94.62h0.7M43.7 92.01h0.7M44.4 90.42h0.7M50.13 96.15h0.7M42.67 97.43h0.7M43.83 89.05h0.7M55.69 89.46h0.7M39.89 95.6h0.7M39.04 98.76h0.7M46.91 83.61h0.7M54.74 94.87h0.7M48.69 83.36h0.7M50.75 98h0.7M53.52 87.71h0.7M44.94 90.65h0.7M46.92 99.91h0.7M42.5 98.33h0.7M50.27 91.84h0.7M49.22 97.84h0.7M49.18 87.77h0.7M61.04 93.92h0.7M58.2 93.23h0.7M51.78 98.75h0.7M56.37 95.57h0.7M47.55 90.68h0.7M49.45 88.75h0.7M45.8 85.01h0.7M61.22 94.96h0.7M48.83 94.74h0.7M52.48 95.43h0.7M44.85 87.38h0.7M53.91 92.22h0.7M52.3 92.15h0.7M56.91 93.81h0.7M66.32 95.55h0.7M64.17 96.35h0.7M53.14 96.99h0.7M57.06 95.6h0.7M47.56 97.2h0.7M57.7 95.83h0.7M42.2 100.09h0.7M53.1 87.46h0.7M62.37 93.09h0.7M55.89 99.07h0.7M48.47 98.66h0.7M40.13 87.22h0.7"/><path id="D_bs_4" d="M48.5 90.69h0.7M38.73 93.95h0.7M59.07 94.97h0.7M54.59 91.04h0.7M49.17 86.16h0.7M43.41 96.46h0.7M50.54 98.03h0.7M59.54 94.45h0.7M62.68 93.66h0.7M61.38 92.54h0.7M59.9 93.52h0.7M49.6 95.01h0.7M37.35 98.7h0.7M59.5 93.2h0.7M40.78 96.17h0.7M56.97 90.64h0.7M51.51 93.75h0.7M56.78 96.1h0.7M53.41 92.21h0.7M58.38 90.77h0.7M53.3 91.9h0.7M44.63 90.89h0.7M45.67 91.52h0.7M49.19 87.57h0.7M51.42 92.51h0.7M56.35 93.97h0.7M47.32 92.79h0.7M47.09 93.13h0.7M50.23 96.32h0.7M35.1 100.46h0.7M42.85 94.96h0.7M46.74 95.86h0.7M42.97 90.96h0.7M44.49 86.9h0.7M41.72 92.08h0.7M41.16 97.52h0.7M65 89.25h0.7M39.2 98.73h0.7M57.77 90.72h0.7M49.41 100.3h0.7M41.12 99.81h0.7M50.63 98.24h0.7"/><path id="D_bs_5" d="M50.87 86.16h0.7M36.39 98.66h0.7M48.6 96.03h0.7M57.8 90.02h0.7M40.65 95.2h0.7M53.3 91.63h0.7M43.11 96.61h0.7M52.26 89.51h0.7M45.87 95.16h0.7M46.78 94.17h0.7M46.1 98.33h0.7M53.88 98.46h0.7M64.1 92.75h0.7M42.52 92.59h0.7M41.05 97.49h0.7M48.07 94.73h0.7M44.2 94.56h0.7M44.31 95.04h0.7M40.96 99.61h0.7M39.95 93.05h0.7M49.32 98.34h0.7M50.11 99.08h0.7M50.23 87.49h0.7M45.03 93.1h0.7M40.7 99.96h0.7M39.71 93.41h0.7M48.38 84.94h0.7M49.99 93.62h0.7M36.78 100.69h0.7M44.3 89.63h0.7M54.13 87.86h0.7M51.38 87.69h0.7M48.52 91.48h0.7M43.05 91.16h0.7M40.02 92.66h0.7M45.45 85.34h0.7M41.77 97.29h0.7M43.01 95.96h0.7M47.24 98.15h0.7M50.98 90.05h0.7M54.49 90.45h0.7M48.17 91.21h0.7M41.57 89.61h0.7M62.61 93.34h0.7M52.6 85.47h0.7M52.58 89.13h0.7M35.32 102.24h0.7M35.28 100.25h0.7M34.68 103.91h0.7M58.12 95.76h0.7M41.96 88.08h0.7"/><path id="P_gs" d="M47.8 82L52 86L58 90.2L65 93.2L70 90L76 83.5L70 86L65.6 88L60.2 86.6L54.8 83.9L50.1 81.9Z"/><path id="D_gs_0" d="M56.5 88.18h0.7M61.99 88.34h0.7M60.58 90.37h0.7M60.42 88.4h0.7M61.94 88.07h0.7M70.67 86.98h0.7M63.09 90.45h0.7M60.8 88.16h0.7M52.01 83.44h0.7M61.15 89.36h0.7M60.48 90.12h0.7M70.54 85.97h0.7M61.59 93.01h0.7M67.29 86.87h0.7M46.51 80.99h0.7"/><path id="D_gs_1" d="M59.13 91.09h0.7M62.26 90.5h0.7"/><path id="D_gs_2" d="M52.81 83.97h0.7M54.27 84.97h0.7M70.63 88.49h0.7M68.79 89.7h0.7"/><path id="D_gs_3" d="M49.87 84.7h0.7M66.62 90.62h0.7M57.55 87h0.7M68.2 88.76h0.7M57.55 85.25h0.7M54.81 86.72h0.7M59.93 87.65h0.7M57.26 86.83h0.7M55.5 88.51h0.7M49.91 82.44h0.7M50.09 84.62h0.7M53.94 84.07h0.7M55.65 84.81h0.7M56.18 85.27h0.7M63.51 88.62h0.7M54.17 86.55h0.7M57.49 86.88h0.7M63.86 87.18h0.7M61.51 89.06h0.7M60.12 87.94h0.7M54.43 85.68h0.7M48.92 83.62h0.7M46.93 84.23h0.7M63.36 94.55h0.7M57.67 82.81h0.7M66.2 89.43h0.7M53.52 86.81h0.7M46.79 81.83h0.7M51.18 81.79h0.7M51.09 85.43h0.7M70.38 86.85h0.7M58.32 87.44h0.7M75.05 85.46h0.7M55.23 90.13h0.7"/><path id="D_gs_4" d="M65.14 91.41h0.7M56.69 85.11h0.7M72.61 84.42h0.7M55.86 86.74h0.7M66 89.82h0.7M58.89 90.46h0.7M65 91.38h0.7M57.15 84.53h0.7M69.66 88.49h0.7M69.49 86.29h0.7M56.72 88.51h0.7M57.34 90.34h0.7M70.12 87.68h0.7M64.56 87.31h0.7M65.98 87.29h0.7M53.54 86.15h0.7M70.96 88.06h0.7M72.38 86.26h0.7M70.9 84.21h0.7M67.31 91.04h0.7M67.1 87.18h0.7M62.9 90.81h0.7M65.74 91.48h0.7M66.04 92.73h0.7M73.33 88.98h0.7M54.22 84.61h0.7M55.68 83.71h0.7M63.23 92.82h0.7M62.27 93.72h0.7M73.33 84.71h0.7M63.2 87.66h0.7M68.22 86.82h0.7M60.14 92.46h0.7M47.53 82.69h0.7M57.2 85.8h0.7M66.09 88.45h0.7M61.22 86.84h0.7M66.98 92.47h0.7M65.8 93.11h0.7M61.36 89.83h0.7"/><path id="D_gs_5" d="M72.22 85.01h0.7M67.98 88.44h0.7M57.07 87.89h0.7M72.49 85.68h0.7M69.2 87.44h0.7M62.94 92.28h0.7M59.31 87.7h0.7M70.61 85.6h0.7M63.3 88.43h0.7M61.46 88.65h0.7M55.5 84.34h0.7M63.48 89.11h0.7M52.39 84.28h0.7M52.6 83.17h0.7M62.74 87.58h0.7M56.47 89.35h0.7M58.69 88.14h0.7M53.54 83.4h0.7M73.95 84.94h0.7M55.17 87.82h0.7M65.98 90.22h0.7M59.65 88.11h0.7M69.43 85.13h0.7M57.24 84.81h0.7M59.02 85.36h0.7M48.53 81.68h0.7M63.48 92.47h0.7M53.61 87.31h0.7M54.08 83.4h0.7M65.14 88.07h0.7"/><path id="P_bl" d="M31.1 107L28.7 111.7L28.4 115.8L29.7 120.5L33.1 125.2L35.1 128.5L31.7 132.6L35.1 134.6L34.4 138.6L38.5 141.3L43.2 144L45.2 146.7L49.2 148L53.9 146L60 145.3L65.3 144L70 142.7L77.3 138.6L83.6 134.4L85.7 130.2L86.7 123.9L88.6 120.3L92.7 119L91.3 116.3L86.6 114.3L83.2 111.6L85.3 108.2L84.6 104.2L81.9 99.5L80.6 94.8L80.9 90.1L80.6 84L77.2 81.3L74 83.5L69 86.5L64 90L60 94L55 97.5L50 99.5L46 99.8L41.8 100.4L35.8 101.6Z"/><path id="D_bl_0" d="M62.44 103.46h0.7M44.79 134.87h0.7M39.12 122.97h0.7M40.29 114.26h0.7M31.42 114.49h0.7M64.19 115.51h0.7M40.45 106.93h0.7M49.79 99.62h0.7M74.5 118.42h0.7M46.16 132.58h0.7M31.63 108.28h0.7M37.03 109.08h0.7M47.26 105.64h0.7M58.35 141.07h0.7M49.31 129.13h0.7M46.62 110.33h0.7M72.56 118.49h0.7M78.58 102.75h0.7M33.96 109.39h0.7M82.1 106.95h0.7M77.13 95.91h0.7M40.29 101.61h0.7M75.09 104.17h0.7M49.38 114.33h0.7M35.93 111.69h0.7M75.17 136.93h0.7M31.17 116.08h0.7M50.33 132.96h0.7M30.41 121.36h0.7M40.74 114h0.7M39.27 129.62h0.7M30.17 119.14h0.7M44.51 124.65h0.7M36.82 109.91h0.7M65.7 99.13h0.7M75.89 87.45h0.7M38.31 123.51h0.7M79.84 100.05h0.7M31.21 119.68h0.7M37.76 107.29h0.7M39.05 108.44h0.7M45.92 101.87h0.7M74.3 113.71h0.7M29.74 116.02h0.7M78.09 115h0.7M46.89 107.48h0.7M74.47 138.71h0.7M54.4 137.93h0.7M45.81 140.8h0.7M45.66 104.92h0.7M57.94 100.84h0.7M51.37 133.32h0.7M33.03 111.21h0.7M72.11 105.62h0.7M33 111.66h0.7M33.49 121.99h0.7M44.59 119.59h0.7M57.02 133.67h0.7M40.84 120.17h0.7M48.13 109.19h0.7M37.37 110.78h0.7M35.98 123.11h0.7M39.32 136.09h0.7M81.19 97.39h0.7M73.13 103.8h0.7M49.75 130.45h0.7M48.08 118.37h0.7M33.39 122.46h0.7M68 124.3h0.7M45.82 101.41h0.7M35.5 104.39h0.7M42.62 138.66h0.7M43.96 123.91h0.7M31.77 117.73h0.7M44.3 105.42h0.7M63.57 129.16h0.7M76.77 108.34h0.7M47.66 115.9h0.7M36.81 128.18h0.7M32.08 116.3h0.7M57.04 99.08h0.7M30.31 117.45h0.7M37.39 125.31h0.7M46.92 106.81h0.7M52.27 103.39h0.7M39.29 128.31h0.7M33.3 106.66h0.7M33.23 110.84h0.7M73.6 140.28h0.7M39.87 101.76h0.7M59.1 134.11h0.7M38.33 109.3h0.7M50.77 146.76h0.7M51.11 124.25h0.7M31.34 119.03h0.7M47.2 103.52h0.7M40.36 127.56h0.7M31.31 120.95h0.7M43.49 124.85h0.7M44.65 109.95h0.7M78.7 85.28h0.7M39.05 123.75h0.7M57.12 112.41h0.7M43.07 101.3h0.7M35.48 130.72h0.7M40.14 102.49h0.7M63.37 142.83h0.7M71.41 97.69h0.7M40.83 117.02h0.7M75.92 123.5h0.7M66.46 119.42h0.7M62.89 137.25h0.7M35.12 114.36h0.7M30.97 112.51h0.7M35.22 108.94h0.7M64.21 97.94h0.7M56.1 122.48h0.7M78.87 131.9h0.7M39.51 141.92h0.7M77.02 93.77h0.7M57.57 114.27h0.7M43.71 131.61h0.7M44.44 109.36h0.7M70.16 114.62h0.7M41.38 133.13h0.7M43.8 109.47h0.7M35.88 117.58h0.7M71.38 123.43h0.7M63.61 103.12h0.7M30.86 118.53h0.7M37.86 124.2h0.7M70.59 115.14h0.7M36.39 103.01h0.7M67.81 105.75h0.7M58.46 116.76h0.7M52.61 102.55h0.7M41.07 103.05h0.7M73.69 133.54h0.7M59.99 119.12h0.7M83.48 128.98h0.7M64.93 133.1h0.7M38.99 105.69h0.7M39.96 120.73h0.7M56.14 127.01h0.7M80.71 102.41h0.7M34.15 123.99h0.7M35.81 116.8h0.7M75.22 111.87h0.7M36.78 120.66h0.7M38.2 110.18h0.7M41.64 116.41h0.7M63.87 129.07h0.7M30.18 121.5h0.7M67.46 128.35h0.7M39.7 109.51h0.7M39.94 103.97h0.7M73.76 93.41h0.7M43.71 136.31h0.7M42.02 115.85h0.7M30.33 121.26h0.7M36.39 109.11h0.7M53.56 103.31h0.7M35.4 127.16h0.7M34.01 111.85h0.7M41.2 100.77h0.7M36.92 126.97h0.7M39.65 105.99h0.7M27.91 113.94h0.7M36.58 117.89h0.7M41.4 107.08h0.7M36.56 105.13h0.7M36.01 131.73h0.7M70.37 115.5h0.7M34.03 124.07h0.7M76.82 100.66h0.7M83.31 125.92h0.7M86.19 121.73h0.7M36.05 111.96h0.7M73.17 85.8h0.7M30.66 112.77h0.7M63.97 135.54h0.7M33.44 112.28h0.7M36.25 114.8h0.7M43.12 107.22h0.7M32.23 112.06h0.7M37.29 106.76h0.7M75.57 87.56h0.7M44.22 121.14h0.7M36.09 104.75h0.7M53.93 137.85h0.7M38.64 110.81h0.7M47.43 140.8h0.7M62.75 130.6h0.7M57.56 99.3h0.7M80.62 112.92h0.7M45.11 137.22h0.7M44.1 105.77h0.7M39.28 132.15h0.7M42.87 125.67h0.7M31.88 120.65h0.7M28.94 119.31h0.7M69.51 136.75h0.7M33.08 119.43h0.7M38.41 131.72h0.7M77.5 99.88h0.7M49.47 143.26h0.7M38.17 107.68h0.7M68.86 139.67h0.7M39.43 104.1h0.7M79.98 109.51h0.7M41.23 112.23h0.7M71.32 90.33h0.7M67.94 86.57h0.7M34.04 109.66h0.7M29.39 116.7h0.7M35.27 123.7h0.7M76.16 124.35h0.7M51.15 117.38h0.7M40.81 112.43h0.7M67.4 137.41h0.7M30.84 116.82h0.7M79.37 121.77h0.7M33.51 111.52h0.7M85.71 120.46h0.7M39.94 108.05h0.7M30.28 121.23h0.7M38.33 107.77h0.7M63.07 129.76h0.7M51.26 105.21h0.7M73.2 111.53h0.7M43.34 101.63h0.7M35.37 134.89h0.7M38.56 104.1h0.7M50.28 132.26h0.7M72.28 108.26h0.7M36.45 121.95h0.7M44.4 123.01h0.7M36.48 139.58h0.7M44.76 146.45h0.7M34.5 131.54h0.7M81.89 113.03h0.7M33.17 111.15h0.7M40.43 109.89h0.7M73.89 116.61h0.7M36.29 117.29h0.7M44.65 108.88h0.7M60.25 123.08h0.7M50.67 126.73h0.7M64.83 95.1h0.7M42.94 105.98h0.7M51.21 105.02h0.7M80.14 87.51h0.7M55.64 130.04h0.7M36.78 122.63h0.7M35.94 106.86h0.7M57.47 101.56h0.7M53.18 104.1h0.7M34.56 116.56h0.7M41.69 103.19h0.7M39.92 106.45h0.7M32.27 106.69h0.7M72.98 97.88h0.7M72.71 88.66h0.7M68.07 138.03h0.7M69.09 128.91h0.7M34.83 108.95h0.7M32.97 119h0.7M28.37 116.05h0.7M37.91 119.72h0.7M68.52 107.25h0.7M45.67 108.15h0.7M75.35 139.04h0.7M61.71 117.72h0.7M60.28 137.23h0.7M52.92 133.43h0.7M38.36 123.03h0.7M49.43 113.43h0.7M32.18 112.64h0.7M35.17 120.69h0.7M29.29 115.38h0.7M72.08 93.04h0.7M36.52 114.87h0.7M70.56 107.34h0.7M72.06 123.67h0.7M34.51 116.19h0.7M65.67 135.17h0.7M38.23 102.46h0.7M31.36 119.16h0.7M43.02 106h0.7M52.4 103.92h0.7M51.19 100.44h0.7M46.14 105.01h0.7M38.45 129.21h0.7M73.26 134.03h0.7M34.03 122.42h0.7M42.87 104.26h0.7M32.39 112.55h0.7M40.54 123.11h0.7M36.04 129.55h0.7M48.52 133.27h0.7M30.25 113.14h0.7M80.81 115.48h0.7M72.98 88.5h0.7M33.32 105.71h0.7M34.95 104.72h0.7M43.92 110.24h0.7M67.46 117.25h0.7M69.57 119.47h0.7M54.34 115.43h0.7M46.38 118.49h0.7M80.85 97.98h0.7M39.46 126.19h0.7M39.47 120.59h0.7M46.82 105.59h0.7M39.52 104.76h0.7M34.3 121.44h0.7M38.34 131.9h0.7M65.12 106.53h0.7M45.1 105.54h0.7M39.84 106.39h0.7M71.94 124.66h0.7M39.93 125.3h0.7M31.2 116.55h0.7M81.77 105.04h0.7M63.27 140.43h0.7M36.02 109.21h0.7M41.3 113.16h0.7M64.29 116.39h0.7M38.95 103.76h0.7M68.26 107.84h0.7M40.17 101.23h0.7M49.4 138.29h0.7M38.88 102.91h0.7M63.53 137.64h0.7M44.59 113.64h0.7M28.81 115.77h0.7M30.55 110.18h0.7M36.55 102.24h0.7M57.78 104.56h0.7M80.36 118.47h0.7M73.95 129.74h0.7M30.3 118.24h0.7M33.48 116.33h0.7M59.66 133.16h0.7M48.96 104.12h0.7M31.4 120.96h0.7M42.44 103.68h0.7M43.16 104.71h0.7M34.4 121.49h0.7M37.52 104.24h0.7M38.48 102.27h0.7M40.08 106.24h0.7M66.35 121.92h0.7M34.64 138.06h0.7M35.62 126.98h0.7M42.65 106.99h0.7M71.45 109.77h0.7M29.96 117.56h0.7M58.1 113.89h0.7M73.21 135.37h0.7M32.44 122.88h0.7M34.49 118.26h0.7M76.06 97.74h0.7M33.93 124.21h0.7M35.84 122.15h0.7M31.11 106.87h0.7M32.57 123.07h0.7M56.97 140.71h0.7M37.58 111.4h0.7M48.34 122.67h0.7M61.23 114.78h0.7M40.59 111.09h0.7M45.13 109.29h0.7M58.43 123.11h0.7M76.89 91.49h0.7M43.04 129.19h0.7M45.57 128.6h0.7M64.68 122.47h0.7M56.59 132.18h0.7M35.2 118.06h0.7M31.25 122.17h0.7M79.91 121.95h0.7M79.01 101.15h0.7M37.06 107.19h0.7M78.72 112.48h0.7M39.57 111.52h0.7M42.44 112.58h0.7M51.5 111.66h0.7M39.91 119.6h0.7M78.96 111.52h0.7M46.14 101.25h0.7M59.62 133.38h0.7M36.32 137.22h0.7M64.99 131.87h0.7M34.93 134.02h0.7M88.18 116.78h0.7M37.48 121.22h0.7M79.24 90.57h0.7M73.28 87.97h0.7M81.56 110.42h0.7M54.19 144.42h0.7M34.46 109.92h0.7M63.39 122.82h0.7M81.69 107.92h0.7M33.52 125.99h0.7M41.36 106.62h0.7M35.01 127h0.7M53.6 133.4h0.7M57.01 139.16h0.7M78.7 110.88h0.7M46.45 104.84h0.7M79.18 96.74h0.7M39.02 138.83h0.7M35.25 119.47h0.7M78.69 127.47h0.7M35.96 116.63h0.7M46.5 100.54h0.7M35.09 117.15h0.7M77.08 110.12h0.7M56.39 141.61h0.7M46.39 102h0.7M65.98 126.05h0.7M47.84 120.9h0.7M85.7 124.99h0.7M35.23 121.92h0.7M42.33 122.79h0.7M40.03 107.7h0.7M44.06 134.23h0.7M38.98 101.34h0.7M56.6 124.26h0.7M40.78 114.44h0.7M66.13 110.31h0.7M64.56 137.44h0.7M46.97 138h0.7M41.52 101.73h0.7M79.13 100.74h0.7M69.61 142.84h0.7M75.93 88.68h0.7M39.41 115.66h0.7M50.45 104.61h0.7M36.04 107.01h0.7M33.21 115.13h0.7M36.21 121.06h0.7M50.92 100.48h0.7M38.18 103.15h0.7M32.69 123.31h0.7M41.76 115.7h0.7M70.98 88.92h0.7M82.06 125.64h0.7M46.82 132.34h0.7M49.83 113.92h0.7M34.61 104.22h0.7M46.09 131.31h0.7M34.7 122.89h0.7M46.14 125.31h0.7M54.99 120.3h0.7M38.57 110.83h0.7M70.76 126.34h0.7M40.33 124.72h0.7M34.94 131.51h0.7M42.95 103.56h0.7M35.27 112.49h0.7M80.39 121.24h0.7M74.18 103.21h0.7M45.8 101.61h0.7M42.31 102.12h0.7M63.88 101.19h0.7M52.15 122.11h0.7M82.74 126.54h0.7M43.44 116.95h0.7M29.17 111.59h0.7M61.55 123.23h0.7M34.42 119.95h0.7M33.34 119.12h0.7M36.89 104.43h0.7M69.38 111.87h0.7M35.01 114.17h0.7M50.78 114.76h0.7M76.1 111.55h0.7M41.48 118.87h0.7M45.31 101.78h0.7M38.46 107.46h0.7M52.06 126.94h0.7M72.95 129.94h0.7M46.15 100.94h0.7M79.56 89.66h0.7M32.76 132.68h0.7M29.49 118.26h0.7M32.68 126h0.7M82.68 84.39h0.7M27.87 114.85h0.7M32.74 139.58h0.7M68.69 87.25h0.7M30.48 108.28h0.7M35.24 100.52h0.7M44.23 101.51h0.7M65.55 88.76h0.7M89.48 114.15h0.7M28.55 114.28h0.7M32.94 133.08h0.7M31.31 124.38h0.7M31.71 105.29h0.7M47.61 99.39h0.7M87.9 120.27h0.7M81.97 135.84h0.7M29.42 112.81h0.7M43.7 100.74h0.7M35.41 128.69h0.7M33.52 123.69h0.7M82.78 90.38h0.7M42.79 144.29h0.7M33.96 133.18h0.7M30.29 108h0.7"/><path id="D_bl_1" d="M55.56 131.82h0.7M57.74 141.07h0.7M74.72 86.42h0.7M74.62 84.52h0.7M66.95 142.47h0.7M64.8 107.18h0.7M54.54 119.5h0.7M57.17 138.45h0.7M52.87 124.56h0.7M68.99 135.09h0.7M39.94 130.76h0.7M43.35 141.06h0.7M51.12 110.88h0.7M52.48 145.06h0.7M40.64 116.78h0.7M59.4 116.8h0.7M66.29 138.94h0.7M76.92 137.27h0.7M61.31 99.17h0.7M66.5 123.42h0.7M65.56 124.3h0.7M56.36 137.4h0.7M44.41 123.58h0.7M72.33 92.48h0.7M56.84 139.68h0.7M78.61 97.65h0.7M34.64 126.01h0.7M37.6 126.37h0.7M56.91 126.66h0.7M62.39 143.9h0.7M67.16 113.97h0.7M45.77 122.54h0.7M62.17 104.15h0.7M65.97 120.56h0.7M36.62 115.13h0.7M73.01 138.4h0.7M78.04 104.36h0.7M67.65 107.27h0.7M80.87 124.33h0.7M69.26 143.05h0.7M73.91 105.06h0.7M64.84 98.73h0.7M53.6 138.53h0.7M75.01 87.65h0.7M51.04 142.41h0.7M70.11 142.24h0.7M60.05 134.83h0.7M61.33 136.22h0.7M68.33 115.63h0.7M69.01 142.4h0.7M72.81 136.61h0.7M45.48 114.3h0.7M63.55 122.29h0.7M66.22 139.9h0.7M63.87 141.72h0.7M53.71 140.48h0.7M73.04 127h0.7M31.72 112.65h0.7M49.4 143.75h0.7M82.98 110.45h0.7M45.87 143.53h0.7M64.41 125.09h0.7M44.61 113.72h0.7M51.61 140.87h0.7M46.09 117.95h0.7M45.5 113.52h0.7M48.32 115.73h0.7M68.04 136.32h0.7M60.58 138.85h0.7M55.52 109.41h0.7M73.87 97.6h0.7M72.65 89.69h0.7M47.59 139.44h0.7M59.04 140.72h0.7M59.41 123.44h0.7M72.09 104.41h0.7M44.16 137.76h0.7M43.92 143.91h0.7M76.11 134.32h0.7M78.45 133.37h0.7M70.8 120.1h0.7M40.24 125.94h0.7M77.82 108.91h0.7M57.68 137.55h0.7M52.61 126.9h0.7M50.73 144.67h0.7M47.8 102.82h0.7M33.52 131.33h0.7M43.42 142.56h0.7M71.66 110.03h0.7M37.62 112.17h0.7M61.9 99.08h0.7M78.97 118.48h0.7M76.42 94.55h0.7M76.93 111.89h0.7M69.17 142.1h0.7M36.13 129.9h0.7M42.64 142.83h0.7M85.14 107.95h0.7M37.03 131.31h0.7M56.91 141.97h0.7M45.22 124.54h0.7M34.11 130.47h0.7M61.81 143.48h0.7M43.95 123.38h0.7M46.69 143.48h0.7M52.29 140.43h0.7M60.22 131.56h0.7M85.24 114.93h0.7M88.02 120.44h0.7M69.66 116.04h0.7M67.11 138.2h0.7M62.4 135.59h0.7M58.91 143.84h0.7M52.04 104.77h0.7M67.14 141.81h0.7M54.45 137.73h0.7M37.1 139.74h0.7M46.68 147.17h0.7M55.47 140.58h0.7M51.12 145.17h0.7M41.82 141.64h0.7M53.69 142.21h0.7M60.19 136.83h0.7M51.9 136.57h0.7M81.53 134.48h0.7M40.95 138.54h0.7M43.81 108.26h0.7M67.89 110.32h0.7M50.74 137.8h0.7M42.46 142.32h0.7M76.38 116.94h0.7M66.1 117.9h0.7M72 101.69h0.7M45.8 136.33h0.7M67.95 113.76h0.7M43.84 144.35h0.7M49.18 144.67h0.7M80.54 120.84h0.7M73.44 113.32h0.7M75.74 126.22h0.7M52.48 131.93h0.7M52.11 142.19h0.7M54.12 106.37h0.7M38.53 140.28h0.7M46.6 145.53h0.7M54.08 145.93h0.7M35.52 114.14h0.7M55.45 144.08h0.7M66.37 140.69h0.7M72.34 120.72h0.7M59.74 140.25h0.7M55.1 138.05h0.7M74.87 123.94h0.7M82.85 119.82h0.7M40.75 140.37h0.7M81.66 113.14h0.7M53.22 136.21h0.7M71.81 116.85h0.7M50.64 144h0.7M55.59 137.02h0.7M53.54 143.23h0.7M61.99 103.96h0.7M50.41 135.67h0.7M55.19 134.21h0.7M43.55 138.48h0.7M39.61 132.8h0.7M40.97 137.84h0.7M53.65 145.45h0.7M66.51 142.68h0.7M85.59 114.96h0.7M61.08 139.24h0.7M62.2 137.5h0.7M46.36 123.96h0.7M44.24 144.25h0.7M57.42 141.38h0.7M66.98 93.27h0.7M47.59 141.51h0.7M47.44 120.7h0.7M45.01 136.07h0.7M40.99 121.94h0.7M76.52 133.28h0.7M63.63 141.01h0.7M52.01 126.48h0.7M47.95 136.71h0.7M50.32 147.09h0.7M49.54 104.93h0.7M52.88 100.53h0.7M57.38 138.55h0.7M38.46 141.31h0.7M51.02 143.14h0.7M57.49 137.35h0.7M68.17 142.88h0.7M69.25 117.47h0.7M43.96 142.46h0.7M44.04 137.53h0.7M50.03 99.72h0.7M54.6 106.9h0.7M34.59 124.73h0.7M45.76 134.22h0.7M49.35 142.99h0.7M56.74 100.99h0.7M88.87 116.7h0.7M82.86 104.42h0.7M44.52 104.19h0.7M61.47 139.84h0.7M61.99 125.72h0.7M55.82 118.66h0.7M59.43 120.97h0.7M90.18 118.49h0.7M71.92 108.99h0.7M63.35 113.61h0.7M49.82 146.19h0.7M72.19 100.36h0.7M58.24 142.71h0.7M36.47 113.46h0.7M79.92 111h0.7M55.83 99.32h0.7M47.88 125.13h0.7M52.46 138.47h0.7M61.53 143.05h0.7M69.94 142.21h0.7M47.2 146.96h0.7M62.79 121h0.7M63.13 138.68h0.7M55.38 141.26h0.7M63 104.31h0.7M62.64 141.27h0.7M60.62 140.47h0.7M76.36 91.56h0.7M77.45 109.31h0.7M40.25 142.7h0.7M49.45 124.74h0.7M53.52 135.61h0.7M56.13 138.56h0.7M53.75 117.13h0.7M68.39 121.69h0.7M60.33 95.22h0.7M82.37 109.49h0.7M48.65 140.11h0.7M42.89 103.33h0.7M55.87 139.46h0.7M48.43 141.81h0.7M44.2 134.68h0.7M45.62 137.3h0.7M43.31 141.68h0.7M36.28 138.27h0.7M48.32 133.86h0.7M48.75 115.63h0.7M44.79 116.61h0.7M54.47 137.75h0.7M80.3 91.52h0.7M60.94 136.93h0.7M42.2 134.5h0.7M67.34 136.17h0.7M49.07 130.7h0.7M43.88 102.74h0.7M60.18 143.28h0.7M65.58 98.64h0.7M60.92 141.33h0.7M42.66 128.02h0.7M51.54 145.92h0.7M69.75 137.87h0.7M40.36 141.46h0.7M46.47 140.53h0.7M49.31 117.21h0.7M46.38 143.27h0.7M52.08 137.6h0.7M47.8 140.91h0.7M48.96 146.89h0.7M72.59 115.23h0.7M54.31 145.58h0.7M41.25 138.35h0.7M55.84 102.35h0.7M50.72 143.43h0.7M48.8 118.85h0.7M48.28 136.66h0.7M55.42 145.46h0.7M56 129.63h0.7M48.96 127.94h0.7M29.05 113.66h0.7M73.2 109.86h0.7M72.32 137.46h0.7M69.08 91.98h0.7M46.12 141.54h0.7M31.63 107.3h0.7M66.85 91.87h0.7M82.02 112.58h0.7M82.21 109.18h0.7M65.53 91.18h0.7M78.63 118.51h0.7M47.21 123.42h0.7M56.48 139.11h0.7M47.61 144.97h0.7M79.49 106.86h0.7M49.49 143.64h0.7M61.11 138.85h0.7M59.48 120.31h0.7M33.84 105.3h0.7M68.01 96.68h0.7M43.16 144.54h0.7M65.12 92.58h0.7M81.37 107.14h0.7M46.62 108.61h0.7M55.9 140h0.7M68.37 99.54h0.7M74.82 93.06h0.7M73.92 116.52h0.7M62.84 111.82h0.7M48.46 118.14h0.7M69.71 86.11h0.7M38.49 106.94h0.7M53.47 136.86h0.7M48.12 143.21h0.7M71.76 108.46h0.7M45.3 142.33h0.7M60.96 120.53h0.7M75.87 136.82h0.7M37.1 140.91h0.7M61.11 92.45h0.7M34.7 135.99h0.7M48.21 146.77h0.7M45.08 146.92h0.7M74.77 80.95h0.7M56.98 145.28h0.7M58 144.38h0.7M90.65 114.33h0.7M68.95 143.79h0.7M83.91 114.57h0.7M54.8 99.63h0.7M90.67 116.98h0.7M75.78 137.53h0.7M86.02 114.92h0.7M33.21 128.88h0.7M44.24 144.73h0.7M82.42 101.6h0.7M51.18 146.42h0.7M91.57 115.31h0.7M79.25 95.34h0.7"/><path id="D_bl_2" d="M69.99 127.48h0.7M71.99 126.94h0.7M70.58 123.66h0.7M68.21 100.51h0.7M72.37 90.29h0.7M68.15 92.21h0.7M67.87 126.74h0.7M66.53 113.63h0.7M38.31 136.43h0.7M44.56 132.84h0.7M69.82 128.85h0.7M75.36 137.46h0.7M74.28 134.9h0.7M71.84 117.89h0.7M66.89 129.83h0.7M67.96 123.42h0.7M74.04 128.78h0.7M43.75 107.49h0.7M63.21 128.75h0.7M78.58 119.44h0.7M33.7 110.28h0.7M44.53 121.9h0.7M67.93 97.89h0.7M63.08 126.33h0.7M69.65 114.08h0.7M81.07 132.27h0.7M77.23 134.08h0.7M39.87 115.19h0.7M80.47 100.38h0.7M64.76 139.9h0.7M75.68 132.63h0.7M81.93 125.73h0.7M69.55 126.85h0.7M73.14 95.03h0.7M80.28 131.93h0.7M76.64 92.12h0.7M76.56 136.92h0.7M50.95 98.91h0.7M77.68 89.91h0.7M69.49 117.75h0.7M69.02 130.43h0.7M54.33 137.4h0.7M78.47 129.16h0.7M80.67 133.45h0.7M71.76 122.14h0.7M68.9 104.36h0.7M36.36 115.07h0.7M76.92 133.33h0.7M74.33 113.18h0.7M74.21 139.36h0.7M79.94 130.49h0.7M73.54 117.72h0.7M60.04 123.17h0.7M64.26 109.16h0.7M72.14 121h0.7M74.47 126.1h0.7M65.22 121.38h0.7M84.74 127.86h0.7M77.4 121.54h0.7M86.16 129.21h0.7M69.68 132.14h0.7M82.36 120.86h0.7M83.91 127.37h0.7M76.22 105.27h0.7M71.33 110.53h0.7M78.13 132.65h0.7M74.97 119.59h0.7M79.76 117.03h0.7M58.88 143.06h0.7M80.25 126.55h0.7M62.05 123.49h0.7M50.25 146.25h0.7M57.74 117.42h0.7M73.28 119.18h0.7M79.7 98.96h0.7M80.81 112.49h0.7M76.57 120.94h0.7M32.63 118.71h0.7M59.62 99.4h0.7M69.56 135.91h0.7M42.6 118.41h0.7M64.23 118.44h0.7M80.43 126.28h0.7M85.01 128.9h0.7M79.09 134.08h0.7M81.39 132.06h0.7M75.29 83.32h0.7M64.52 128.53h0.7M74.66 121.96h0.7M82.06 120.32h0.7M80.58 103.19h0.7M42.84 124.01h0.7M61.19 142.44h0.7M83.11 124.21h0.7M43.46 136.39h0.7M44.51 122.03h0.7M72.09 130.75h0.7M75 133.41h0.7M78.08 128.45h0.7M76.19 95.35h0.7M55.89 137.3h0.7M40.34 116.97h0.7M79.66 132.32h0.7M78.84 97.27h0.7M77.64 121.02h0.7M34.67 139.55h0.7M87.24 119.67h0.7M75.34 126h0.7M63.95 117.4h0.7M70.7 135.83h0.7M76.09 124.05h0.7M82.26 114.09h0.7M87.2 121.69h0.7M76.19 109.74h0.7M84.83 114.23h0.7M57.87 113.67h0.7M71.04 133.23h0.7M78.57 115.48h0.7M73.39 115.5h0.7M62 95.76h0.7M79.03 104.19h0.7M66.56 92.28h0.7M71.8 139.29h0.7M40.52 114.13h0.7M72.9 119.25h0.7M83.66 123h0.7M83.23 132.07h0.7M80.36 131.14h0.7M67.5 138.09h0.7M49.5 135.93h0.7M78.32 113.99h0.7M82.42 102.48h0.7M85.34 120.94h0.7M77.44 101.28h0.7M73.59 129.27h0.7M77.34 104.42h0.7M72.26 115.71h0.7M74.63 122.18h0.7M68.25 115.11h0.7M84.1 126.07h0.7M82.23 119.25h0.7M85.6 119.14h0.7M75.21 134.27h0.7M63.05 122.5h0.7M83.76 125.6h0.7M85.43 121.04h0.7M72.09 135.92h0.7M84.48 128.46h0.7M79.47 129.22h0.7M73.78 139.28h0.7M72.54 137.76h0.7M72.45 105.9h0.7M62.67 94.68h0.7M80.43 97.48h0.7M73.06 115.86h0.7M40.46 108.46h0.7M73.2 138.91h0.7M55.19 114.26h0.7M56.44 99.06h0.7M46.42 141.33h0.7M54.42 121.35h0.7M33.36 119.73h0.7M79.62 128.54h0.7M28.99 117.09h0.7M30.52 121.52h0.7M45.02 131.62h0.7M51.41 123.69h0.7M73.74 127.11h0.7M84.02 119.25h0.7M73.99 104.77h0.7M77.77 131.54h0.7M79.24 133.16h0.7M40.44 109.41h0.7M69.56 135.49h0.7M68.38 132.02h0.7M56.89 115.9h0.7M77.65 126.29h0.7M42.82 102.3h0.7M83.91 129.32h0.7M76.83 118.58h0.7M78.05 107.8h0.7M70.82 129.33h0.7M85.83 126.1h0.7M44.08 128.37h0.7M67.7 129.36h0.7M82.3 130.04h0.7M73.63 122.33h0.7M84.1 125.41h0.7M38.79 106.89h0.7M67.16 96.02h0.7M71.62 96.01h0.7M44.36 110.19h0.7M79.95 108.52h0.7M64.81 119.13h0.7M66.73 134.58h0.7M83.76 118.48h0.7M45.87 134.78h0.7M76.36 123h0.7M78.35 126.25h0.7M65.22 106.4h0.7M71.27 91.73h0.7M78.96 121.91h0.7M78.31 125.15h0.7M76.61 130.36h0.7M82.58 124.18h0.7M82.52 118.19h0.7M41.39 116.65h0.7M29.57 116.26h0.7M28.7 119.09h0.7M74.25 123.27h0.7M74.09 120.61h0.7M78.66 114.81h0.7M69.85 116.05h0.7M89.13 116.71h0.7M43.09 101.1h0.7M57.7 108.37h0.7M77.25 91h0.7M68.5 133.66h0.7M86.28 116.4h0.7M81.39 124.44h0.7M43.54 132.55h0.7M81.15 132.53h0.7M69.88 125.63h0.7M64.8 131.72h0.7M78.77 88.12h0.7M71.01 126.94h0.7M85.25 121.75h0.7M65.06 112.61h0.7M71.88 85.94h0.7M77.19 130.08h0.7M77.36 110.81h0.7M75.59 125.43h0.7M60.41 138.33h0.7M43.6 107.28h0.7M82.93 127.65h0.7M77.32 113.82h0.7M78.75 134.34h0.7M66.11 127.74h0.7M85.5 126.67h0.7M44.06 138.1h0.7M70.03 135.18h0.7M67.28 130.27h0.7M81.26 131.89h0.7M77.21 119.08h0.7M39.33 133.33h0.7M79.94 91.74h0.7M75.79 124.5h0.7M73.29 119.49h0.7M67.85 112.07h0.7M50.96 102.04h0.7M85.18 130.25h0.7M77.05 128.7h0.7M54.38 128.59h0.7M79.07 86.94h0.7M67.06 133.56h0.7M83.83 132.21h0.7M41.93 112.86h0.7M80.4 113.05h0.7M53.21 133.17h0.7M41.55 112.61h0.7M75.37 85.48h0.7M46.24 120.77h0.7M78.99 106.34h0.7M78.83 131.15h0.7M74.94 125.54h0.7M88.04 114.77h0.7M36.95 109.76h0.7M70.72 136.56h0.7M50.4 130.14h0.7M63.68 140.86h0.7M68.34 112.2h0.7M75.76 123.8h0.7M77.52 128.41h0.7M35.11 104.18h0.7M82.8 131.2h0.7M72.8 132.05h0.7M90.68 118.12h0.7M78.24 127.1h0.7M47.97 131.23h0.7M72.62 96.39h0.7M73.43 131.49h0.7M84.16 128.8h0.7M63.94 128.5h0.7M45.12 118.88h0.7M73.07 126.78h0.7M79.68 121.68h0.7M78.76 107.7h0.7M67.38 138.54h0.7M75.75 133.88h0.7M82.93 131.53h0.7M55.59 133.8h0.7M58.04 142.24h0.7M77.78 127.32h0.7M50.86 144.38h0.7M66.58 109.36h0.7M84.48 128.03h0.7M74.76 102.64h0.7M37.21 126.93h0.7M53 135.63h0.7M66.4 139.39h0.7M79.27 135.1h0.7M68.81 126.1h0.7M78.84 123.95h0.7M57.33 107.88h0.7M69.81 125.26h0.7M75.14 112.55h0.7M78.42 134.43h0.7M63.41 112.22h0.7M84.76 128.45h0.7M67.1 126.29h0.7M53.51 145.94h0.7M73.74 137.62h0.7M78.49 129.02h0.7M78.42 90.44h0.7M81.32 127.32h0.7M68.66 108.14h0.7M76.75 135.93h0.7M74.95 134.51h0.7M65.37 136.54h0.7M77.52 133.48h0.7M64.18 134.27h0.7M29.72 112.06h0.7M82.23 130.93h0.7M80.73 120.24h0.7M76.09 130.19h0.7M50.17 126.96h0.7M72.2 110.15h0.7M46.23 113.77h0.7M44.75 111.3h0.7M46.49 126.76h0.7M82.91 123.61h0.7M61.94 135.52h0.7M72.88 122.19h0.7M88.2 117.7h0.7M52.47 124.63h0.7M82.63 109.33h0.7M78.56 127.45h0.7M40.87 123.26h0.7M42.54 115.26h0.7M81.95 117.94h0.7M37.16 137.16h0.7M44.45 134.9h0.7M85.11 119.52h0.7M77.93 131.26h0.7M74.53 121.97h0.7M52.9 122.38h0.7M85.97 120.55h0.7M70.19 127.06h0.7M82.6 127.29h0.7M59.42 131.84h0.7M42.84 115.16h0.7M72.45 122.29h0.7M81.71 125.41h0.7M46.17 125.97h0.7M78.97 125.68h0.7M76.09 92.1h0.7M76.32 106.77h0.7M70.43 134.31h0.7M53.01 129.58h0.7M80.97 124.23h0.7M80.93 124.77h0.7M67.07 103.48h0.7M75.18 139.35h0.7M67.88 121.88h0.7M78.17 109.81h0.7M75.8 97.73h0.7M80.63 89.23h0.7M84.7 110.48h0.7M37.21 103.08h0.7M78.04 139.76h0.7M91.94 121.25h0.7M34.86 140.73h0.7M91.93 119.45h0.7M84.49 134.39h0.7M84.67 110.52h0.7M75.78 81.95h0.7M68.2 144.15h0.7M35.04 128.57h0.7M89.4 116.42h0.7M86.06 125.37h0.7M84.23 130.95h0.7M87.88 127.16h0.7M89.17 118.87h0.7M91.49 117.92h0.7M84.18 110.91h0.7M90.86 115.29h0.7"/><path id="D_bl_3" d="M59.92 112.46h0.7M49.32 145.11h0.7M38.88 114.67h0.7M41.08 124.25h0.7M66.02 140.66h0.7M48.19 108.5h0.7M58.25 98.55h0.7M76.08 85.32h0.7M49.46 108.64h0.7M67.62 139.67h0.7M51.69 109.17h0.7M47.7 106.7h0.7M57.15 121.34h0.7M76.02 124.5h0.7M37.75 116.93h0.7M47.39 110.71h0.7M44.67 132.22h0.7M57.48 106.18h0.7M49.12 119.22h0.7M48.32 106.12h0.7M56.32 105.13h0.7M54.09 118.08h0.7M47.2 101.25h0.7M70.8 111.96h0.7M67.79 121.13h0.7M49.02 108.75h0.7M74.11 112.06h0.7M45.29 115.99h0.7M76.11 112.99h0.7M71.34 125.26h0.7M41.96 108.09h0.7M66.4 136.81h0.7M53.37 99.43h0.7M50.82 99.57h0.7M59.05 110.13h0.7M81.32 116.88h0.7M55.8 122.22h0.7M79.5 121.76h0.7M54.83 134.97h0.7M71.04 141.71h0.7M67.88 120.52h0.7M55.44 137.6h0.7M58.8 122.63h0.7M63.24 132.96h0.7M66.25 123.4h0.7M61.41 106h0.7M56.62 123.9h0.7M55.9 109.23h0.7M63.16 104.35h0.7M55.76 107.79h0.7M58.29 94.7h0.7M60.65 127.85h0.7M57.4 115.46h0.7M33.58 117.82h0.7M71.86 102.37h0.7M59.45 116.03h0.7M55.19 133.5h0.7M44.8 101.01h0.7M43.29 114.62h0.7M39.72 116h0.7M63.58 124.82h0.7M56.44 125.53h0.7M63.82 116.02h0.7M40.66 131.51h0.7M44.07 112.77h0.7M61.03 131.05h0.7M51.44 103.14h0.7M31.97 109.58h0.7M62.62 125.92h0.7M75.21 87h0.7M80.93 107.09h0.7M74.9 121.45h0.7M76.93 114.02h0.7M55.55 122.41h0.7M60.91 112.29h0.7M57.1 142.75h0.7M48.89 145.18h0.7M87.11 119.43h0.7M67.43 117.71h0.7M37.67 113.97h0.7M59.48 124.63h0.7M78.15 114.49h0.7M55.84 104.58h0.7M48.9 128.45h0.7M63.41 124.24h0.7M47.51 120.9h0.7M52.64 105.54h0.7M72.22 129.77h0.7M40 115.38h0.7M43.16 113.22h0.7M46.79 121.91h0.7M49.79 105.36h0.7M57.14 98.56h0.7M46.7 132.64h0.7M44.91 133.03h0.7M45.37 131.81h0.7M73.44 128.73h0.7M63.18 103.55h0.7M42.76 134.63h0.7M62.68 139.32h0.7M46.38 106.54h0.7M50.64 135.28h0.7M65.35 127.8h0.7M82.9 132.01h0.7M50.93 132.27h0.7M54.63 111.71h0.7M52.54 111.54h0.7M71.31 115.99h0.7M52.38 121.15h0.7M57.32 102.53h0.7M63.15 141.38h0.7M50.6 131.3h0.7M69.61 92.77h0.7M53 109.59h0.7M61.98 114.89h0.7M58.78 113.08h0.7M55.08 109.69h0.7M56.79 126.51h0.7M77.62 83.87h0.7M51.98 118.29h0.7M42.86 103.32h0.7M68.4 127.15h0.7M49.26 102.63h0.7M60.37 102.61h0.7M63.9 117.33h0.7M71.07 87.41h0.7M43.69 118.94h0.7M54.88 108.26h0.7M81.45 105.81h0.7M62.28 103.99h0.7M82.56 128.89h0.7M83.68 107.83h0.7M50.44 104.97h0.7M39.19 108.43h0.7M62.22 107.86h0.7M47.17 101.02h0.7M65.04 90.67h0.7M62.36 120.86h0.7M58.64 116.65h0.7M68.05 87.15h0.7M48.36 105.72h0.7M32.26 123.49h0.7M72.36 92.36h0.7M41.42 127.44h0.7M54.25 136.74h0.7M63.84 124.62h0.7M77.45 91.38h0.7M78.36 84.7h0.7M65.81 94.14h0.7M74.89 114.4h0.7M56.79 100.79h0.7M39.82 136.57h0.7M63.41 109.44h0.7M51.35 101.89h0.7M54.79 125.46h0.7M47.94 112.65h0.7M43.18 134.97h0.7M88.42 116.59h0.7M84.76 126.6h0.7M65.9 113.17h0.7M57.63 132.06h0.7M42.72 113.67h0.7M56.62 100.02h0.7M52.22 98.06h0.7M82.41 116.75h0.7M53.24 107.43h0.7M63.55 124.68h0.7M59.44 121.17h0.7M49.46 121.68h0.7M50.26 114.67h0.7M74.16 95.17h0.7M54.22 130.93h0.7M78.26 102.5h0.7M28.91 115.05h0.7M66.32 131.02h0.7M58.12 95.59h0.7M44.94 129.83h0.7M59.66 110.21h0.7M63.9 132.4h0.7M62.97 93.23h0.7M51.35 113.04h0.7M53.64 118.03h0.7M57.61 109.95h0.7M60.62 126.31h0.7M53.63 118.75h0.7M56.1 112.52h0.7M49.96 101.35h0.7M48.1 114.8h0.7M51.09 117.62h0.7M53.17 124.59h0.7M54.75 104.08h0.7M54.62 104.34h0.7M66.92 87.98h0.7M87.36 120.69h0.7M66.66 134.1h0.7M37.25 140.34h0.7M45.82 110.65h0.7M57.95 106.3h0.7M55.25 123.62h0.7M43.25 118.29h0.7M53.19 131.24h0.7M62.33 98.14h0.7M40.79 106.82h0.7M46.3 132.14h0.7M71.13 114.22h0.7M55.7 142.28h0.7M79.46 111.3h0.7M52.27 121.39h0.7M53.47 134.86h0.7M55.19 105.77h0.7M51.13 113.79h0.7M42.27 119.88h0.7M55.67 124.03h0.7M59.71 103.26h0.7M60.09 109.45h0.7M59.94 119.22h0.7M49.95 124.08h0.7M52.77 108.95h0.7M79.67 104.06h0.7M67.57 120.05h0.7M57.05 112.03h0.7M46.8 109.5h0.7M64.43 97.07h0.7M72.64 137.38h0.7M43.95 130.72h0.7M36.18 133.62h0.7M74.32 89.53h0.7M65.81 115.97h0.7M72.22 131.07h0.7M54.22 128.03h0.7M48.09 124.62h0.7M60.44 99.75h0.7M58.09 137.48h0.7M34.7 113.5h0.7M60.31 97.51h0.7M58.58 128.49h0.7M78.73 87.61h0.7M68.66 116.79h0.7M44.64 121.12h0.7M62.58 112.29h0.7M75.18 136.96h0.7M51.65 117.62h0.7M61.25 94.36h0.7M57.55 138.12h0.7M60.57 131.27h0.7M50.67 109.92h0.7M61.97 109.16h0.7M49.79 125.01h0.7M31.54 111.16h0.7M43.09 106.94h0.7M30.18 116.66h0.7M66.71 109.64h0.7M60.5 113.09h0.7M53.14 127.31h0.7M56.03 116.19h0.7M53.63 117.21h0.7M67.36 124.46h0.7M43.25 104.3h0.7M55.34 119.86h0.7M45.73 118.41h0.7M41.94 105.87h0.7M70.56 131.06h0.7M47.95 122.91h0.7M48.29 115.67h0.7M56.92 133.51h0.7M71.68 127.64h0.7M40.87 106.53h0.7M49.91 120h0.7M33.33 131.78h0.7M72.08 121.72h0.7M50.72 116.85h0.7M38.78 136.81h0.7M48.85 117.17h0.7M77.07 105.74h0.7M58.53 112.78h0.7M51.92 143.71h0.7M73.43 93.93h0.7M47.44 126.67h0.7M44.53 118.03h0.7M55.22 105.66h0.7M59.48 120.32h0.7M50.4 117.46h0.7M50.87 104.88h0.7M67.35 112.54h0.7M47.3 108.66h0.7M37.1 119.9h0.7M84.24 108.14h0.7M56.48 98.03h0.7M52.43 105.89h0.7M53.04 114.02h0.7M53.87 120.28h0.7M55.74 145.31h0.7M29.63 113.68h0.7M66.82 118.36h0.7M43.81 113.93h0.7M78.22 137.85h0.7M59.42 109.72h0.7M45.91 118.4h0.7M50.83 101.05h0.7M58.36 143.13h0.7M70.05 137.05h0.7M61.35 107.22h0.7M58.9 125.08h0.7M58.11 113.56h0.7M42.66 116.75h0.7M50.92 100.69h0.7M45.14 127.1h0.7M64.04 126.92h0.7M55.08 140.55h0.7M76.21 83.97h0.7M79.05 84.61h0.7M53.08 122.66h0.7M39.8 116.16h0.7M55.65 128.88h0.7M59.98 104.49h0.7M53.53 113.62h0.7M43.35 105.35h0.7M67.85 118.42h0.7M59.89 125.61h0.7M86.81 119.76h0.7M90.08 117.45h0.7M56.32 115.62h0.7M58.88 133.31h0.7M63.56 100.6h0.7M63.02 114.29h0.7M63.65 138.74h0.7M37.75 140.36h0.7M47.28 139.12h0.7M83.17 116.18h0.7M44.07 132.25h0.7M57.69 121.84h0.7M47.63 100.22h0.7M42.57 107.72h0.7M52.88 140.13h0.7M63.38 112.79h0.7M54.12 102.34h0.7M43.7 113.55h0.7M48.98 119.13h0.7M76.14 120.84h0.7M57.16 106.44h0.7M61.21 100.97h0.7M83.22 121.65h0.7M66.66 112.32h0.7M62.99 103.35h0.7M65.46 115.29h0.7M52.69 117.05h0.7M61.63 114.24h0.7M79.56 133.86h0.7M45.23 138.94h0.7M67.87 131.62h0.7M44.53 123.08h0.7M58.5 102.79h0.7M50.76 109.78h0.7M54.72 120.78h0.7M50.15 130.13h0.7M57.85 123.34h0.7M38.66 136.12h0.7M40.97 133.22h0.7M60.43 128.24h0.7M71.96 125.8h0.7M82.27 110.78h0.7M54.08 104.85h0.7M58.56 116.54h0.7M38.98 111.07h0.7M57.31 109.38h0.7M59.02 126.15h0.7M48.49 128.61h0.7M50.74 116.09h0.7M38.84 122.07h0.7M66.57 137.05h0.7M64.66 113h0.7M80.21 129.63h0.7M68.75 136.1h0.7M67.31 116.56h0.7M59.7 112.23h0.7M32.39 109.95h0.7M29.87 115.46h0.7M46.49 118.11h0.7M53.89 112.9h0.7M57.77 120.31h0.7M35.01 117.68h0.7M41.8 129.06h0.7M56.94 124.59h0.7M73.02 108.72h0.7M51.53 118.9h0.7M59.93 97.64h0.7M84.14 109.46h0.7M32.98 131.17h0.7M71.53 111.44h0.7M53.03 112.34h0.7M52.68 104.02h0.7M66.03 95.35h0.7M35.02 126.65h0.7M47.27 127.97h0.7M88.54 117.92h0.7M68.25 94.12h0.7M79.43 131.22h0.7M83.08 118.37h0.7M70.76 141.07h0.7M55.84 115.4h0.7M50.13 130.87h0.7M36.35 132.04h0.7M55.45 111.98h0.7M55.24 113.4h0.7M61.66 99.56h0.7M53 108.63h0.7M55.59 133.75h0.7M49.7 125.2h0.7M60.75 138.54h0.7M52.94 131.17h0.7M54.85 117.47h0.7M61.8 99.06h0.7M75.31 87.49h0.7M49.11 129.32h0.7M58.11 114.85h0.7M40.48 135.95h0.7M40.11 130.51h0.7M58.91 117.59h0.7M43.29 110.14h0.7M64.27 137.53h0.7M70.81 124.09h0.7M51.57 122.22h0.7M41.18 129.49h0.7M64.96 126.64h0.7M63.53 100.58h0.7M51.09 127.7h0.7M36.06 110.5h0.7M62.19 137.84h0.7M61.26 135.22h0.7M60.78 126.29h0.7M55.56 114.41h0.7M65.5 101.77h0.7M40.54 109.61h0.7M52.45 110h0.7M60.09 108.55h0.7M54.16 103.46h0.7M50.6 122.97h0.7M47.39 105.07h0.7M50.29 127.05h0.7M36.93 117.34h0.7M73.34 131.07h0.7M64.36 102.66h0.7M64.25 111.36h0.7M43.88 132.04h0.7M63.9 120.03h0.7M83.59 107.18h0.7M60.36 129.73h0.7M55.06 120.01h0.7M75.32 112.52h0.7M70.12 135.04h0.7M60.29 117.51h0.7M49.67 123.95h0.7M59.81 121.84h0.7M45.55 111.83h0.7M63.93 116.05h0.7M68.51 119.04h0.7M40.12 117.69h0.7M79.88 116.51h0.7M41.56 132.98h0.7M83.71 104.25h0.7M61.5 113.08h0.7M63.38 115.42h0.7M57.45 113.42h0.7M59.03 126.64h0.7M55.62 101.76h0.7M68.12 105.28h0.7M68.07 95.52h0.7M71.23 113.92h0.7M76.74 93.82h0.7M53.27 127.04h0.7M63.63 111.56h0.7M49.65 147.57h0.7M33.13 110.98h0.7M60.2 113.06h0.7M51.87 120.87h0.7M45.21 108.32h0.7M63.92 121.35h0.7M55.83 121.54h0.7M51.73 103.93h0.7M51.37 110.08h0.7M39.83 131.18h0.7M52.88 100.77h0.7M64.61 110.48h0.7M33.26 123.98h0.7M62.81 109.3h0.7M84.59 121.74h0.7M68.3 129.64h0.7M79.35 83.6h0.7M57.87 113.34h0.7M48.22 122.04h0.7M53.28 111.4h0.7M57.74 124.14h0.7M48.69 111.35h0.7M55.14 97.31h0.7M55.55 137.57h0.7M58.18 106.01h0.7M53.18 129.2h0.7M50.23 104.07h0.7M52.93 103.13h0.7M41.12 124.64h0.7M65.53 109.75h0.7M44.67 133.87h0.7M45.56 135.69h0.7M45.84 128.71h0.7M51.01 119.82h0.7M55.33 111.66h0.7M63.71 126.85h0.7M58.94 127.17h0.7M75.79 103.63h0.7M68.56 90.69h0.7M58.72 97.99h0.7M47.15 112.26h0.7M64.28 125.81h0.7M55.14 96.97h0.7M45.09 123.53h0.7M39.17 111.44h0.7M67.15 116.66h0.7M55.79 110.51h0.7M50.94 109.54h0.7M58.53 108.6h0.7M49.85 102.45h0.7M84.87 130.13h0.7M60.28 132.87h0.7M55.17 112.26h0.7M65.53 142.02h0.7M69.31 104.39h0.7M40.75 131.86h0.7M58.21 113.53h0.7M58.37 96.15h0.7M39.74 108.72h0.7M57.16 111.16h0.7M54.06 112.55h0.7M63.2 103.68h0.7M85 128.34h0.7M50.44 100.97h0.7M75.22 127.14h0.7M36.85 139.94h0.7M67.75 94.05h0.7M82.28 105.24h0.7M59.4 137.44h0.7M43.61 111.44h0.7M60.19 120.63h0.7M65.49 115.46h0.7M76.59 120.47h0.7M32.59 123.94h0.7M57.62 116.36h0.7M50.07 115.16h0.7M70.23 89.64h0.7M41.44 131.75h0.7M41.83 133.47h0.7M61.48 115.43h0.7M50.98 103.01h0.7M54.38 113.05h0.7M61.82 141.64h0.7M51.08 122.05h0.7M67.03 119.71h0.7M34.03 124.91h0.7M51.81 100.53h0.7M56 135.04h0.7M41.48 131.89h0.7M59.65 103.78h0.7M65.5 140.37h0.7M56.32 127.41h0.7M28.78 112.17h0.7M44.39 117.88h0.7M74.52 101.53h0.7M64.7 134.84h0.7M54.53 120.53h0.7M61.73 102.37h0.7M60.06 119.5h0.7M36.69 127.48h0.7M35.11 115.71h0.7M83.82 124.7h0.7M53.91 128.77h0.7M65.15 138.26h0.7M67.04 105h0.7M60.48 116.06h0.7M62.16 129.27h0.7M66.93 121.99h0.7M73.88 121.52h0.7M36.18 119.08h0.7M76.7 123.8h0.7M58.88 118.25h0.7M54.59 120.29h0.7M57.68 109.13h0.7M72.72 95.04h0.7M31.99 115.95h0.7M56.23 108.26h0.7M81.15 104.62h0.7M67.76 97.74h0.7M35.28 109.63h0.7M64.45 130.93h0.7M52.67 110.95h0.7M49.82 106.85h0.7M59.07 108.66h0.7M83 103.45h0.7M46.93 105.41h0.7M57.27 109.43h0.7M71.32 120.89h0.7M63.37 125.6h0.7M44.75 137.72h0.7M76.85 110.05h0.7M68.13 128.06h0.7M64.44 128.18h0.7M45.82 135.42h0.7M54.81 118.19h0.7M30.57 111.34h0.7M52.18 114.11h0.7M73.16 131.94h0.7M61.63 114.53h0.7M79.69 100.36h0.7M58.33 106.03h0.7M71.98 120.26h0.7M55.23 120.89h0.7M46.23 104.39h0.7M76.96 89.3h0.7M53.12 123.15h0.7M42.65 127.03h0.7M59.72 109.2h0.7M40.01 125.15h0.7M49.89 105.11h0.7M55.31 120.55h0.7M38.12 118.51h0.7M68.37 140.39h0.7M48.2 104.54h0.7M35.03 109.52h0.7M82.27 104.36h0.7M56.12 117.18h0.7M64.3 95.13h0.7M46.75 133.27h0.7M38.95 141.1h0.7M61.66 100.73h0.7M33.04 109.97h0.7M42.43 137.56h0.7M62.61 106.36h0.7M49.9 139.35h0.7M63.84 96.75h0.7M83.09 105.33h0.7M53.18 102.52h0.7M51.26 117.19h0.7M76.77 118.48h0.7M53.1 107.38h0.7M55.39 116.85h0.7M58.99 130.33h0.7M66.78 121.68h0.7M77.95 110.25h0.7M81.13 114.05h0.7M70.15 93.66h0.7M62.77 142.51h0.7M55.58 117.88h0.7M51.53 113.09h0.7M57.33 120.4h0.7M44.96 135.66h0.7M72.19 115.04h0.7M43.92 115.35h0.7M60.13 133.92h0.7M55.47 109.8h0.7M70.88 129.22h0.7M70.5 86.36h0.7M59.79 114.57h0.7M42.64 136.15h0.7M45.82 125.54h0.7M53.45 122.45h0.7M64.89 104.4h0.7M66.4 125.34h0.7M55.44 114.28h0.7M51.74 112.62h0.7M61.47 117.72h0.7M48.8 100.83h0.7M89.48 115.28h0.7M52.83 100.17h0.7M68.52 124.95h0.7M77.2 125.69h0.7M68.59 100.48h0.7M76.37 110.38h0.7M64.57 114.86h0.7M54.38 113.43h0.7M35.63 132.04h0.7M59.39 96.68h0.7M82.32 106.35h0.7M85.59 121.56h0.7M49.48 102.32h0.7M63.98 91.44h0.7M71.95 88.38h0.7M57.38 117.64h0.7M40.09 128.13h0.7M74.5 87.98h0.7M82.76 122.42h0.7M57.9 104.16h0.7M41.49 111.7h0.7M74.89 119.87h0.7M56.58 131.42h0.7M85.32 115.3h0.7M50.01 117.79h0.7M63.89 136.84h0.7M53.04 118.59h0.7M68.94 112.99h0.7M31.65 121.84h0.7M42.07 100.19h0.7M48.8 127.52h0.7M51.31 131.62h0.7M44.59 116.74h0.7M68.5 129.26h0.7M58.71 100.62h0.7M47.21 106.91h0.7M54.87 105.71h0.7M48.88 114.64h0.7M39.58 128.73h0.7M52.02 106.92h0.7M61.12 108.94h0.7M69.61 119.78h0.7M47.17 144.78h0.7M73.53 98.66h0.7M39.08 137.95h0.7M37.22 107.54h0.7M69.17 114.3h0.7M48.81 111.22h0.7M56.46 114.79h0.7M78.85 116.05h0.7M58.87 111.94h0.7M72.14 132.83h0.7M59.25 120.08h0.7M68.87 136.07h0.7M56.3 97.83h0.7M54.4 137.49h0.7M51.28 105.53h0.7M55.62 99.26h0.7M48.56 106.37h0.7M70.17 141.06h0.7M57.45 114.08h0.7M55.42 138.77h0.7M60.92 106.27h0.7M37.71 121.36h0.7M71.61 126.38h0.7M58.38 139.29h0.7M57.97 109.11h0.7M52.17 100.44h0.7M57.85 126.68h0.7M51.74 114.96h0.7M48.07 117.97h0.7M56.74 108.95h0.7M63.52 110.71h0.7M76.9 97.26h0.7M50.29 143.86h0.7M64.43 121.5h0.7M57.84 105.19h0.7M50.23 121.18h0.7M53.95 109.96h0.7M55.1 127.2h0.7M53.28 109.13h0.7M83.73 100.8h0.7M85.09 113.2h0.7M36.36 140.64h0.7M62.17 146.56h0.7M84.28 110.46h0.7M82.99 111.13h0.7M78.06 82.17h0.7M32.38 130.97h0.7M51.52 99.23h0.7M74.16 81.09h0.7M79.61 136.75h0.7M89.55 116.23h0.7M84.27 134.08h0.7M55.24 97.91h0.7M69.05 84.93h0.7M34.43 102.68h0.7M37 101.87h0.7M75.98 139.19h0.7M29.74 109.6h0.7M75.33 82h0.7M75.55 81.09h0.7M36.86 141.31h0.7M80.34 90.38h0.7M52.36 98.12h0.7M84.58 111.3h0.7M82.19 100.23h0.7M81.36 85.15h0.7M50.59 98.53h0.7M77.18 82.15h0.7M61.99 92.19h0.7M47.88 100.29h0.7M74.4 83.26h0.7M83.07 110.36h0.7M43.33 142.95h0.7M33.87 129.87h0.7M32.05 133.19h0.7M77.77 82.06h0.7M30.09 108.76h0.7M38.33 141.74h0.7M79.46 85.62h0.7M49.68 146.91h0.7M44.15 99.36h0.7M56.95 95.38h0.7M32.95 133.27h0.7M54.3 144.91h0.7M68.89 144.18h0.7M83.3 111.81h0.7"/><path id="D_bl_4" d="M68.27 101.19h0.7M58.35 145.52h0.7M64.42 106.53h0.7M57.58 137.09h0.7M72.83 93.71h0.7M66.72 136.46h0.7M37.4 133.42h0.7M70.38 85.7h0.7M63.9 103.12h0.7M35.81 127.81h0.7M65.05 89.52h0.7M61.18 94.94h0.7M72.54 94.36h0.7M47.42 109.02h0.7M78.13 118.43h0.7M60.89 133.33h0.7M78.65 99.99h0.7M71.15 99h0.7M36.18 129.13h0.7M80.58 114.44h0.7M54.58 116.74h0.7M72.86 96.02h0.7M31.78 110.42h0.7M79.78 95.83h0.7M47.46 109.17h0.7M64.73 115.96h0.7M61.33 92.29h0.7M40.85 129.59h0.7M68.07 107h0.7M74.35 121.9h0.7M80.95 99.73h0.7M68.9 137.77h0.7M56.37 135.53h0.7M53.6 97.56h0.7M77.43 86.58h0.7M67.12 110.31h0.7M47.65 111.44h0.7M46.84 143.18h0.7M43.63 144.54h0.7M74.76 109.7h0.7M69.68 95.21h0.7M72.63 92.59h0.7M76.23 83.07h0.7M40.61 134.29h0.7M76.32 102.17h0.7M66.65 88.82h0.7M68.42 123.96h0.7M67.27 122.49h0.7M33.35 125.37h0.7M71.81 86.66h0.7M68.7 87.47h0.7M85.14 114.22h0.7M73.4 98.1h0.7M51.29 116.87h0.7M46.04 116.27h0.7M39.27 102.16h0.7M69.46 96.62h0.7M32.26 108.06h0.7M64.82 90.13h0.7M74.37 95.94h0.7M47.56 132.28h0.7M75.65 95.06h0.7M48.75 102.21h0.7M68.37 91.8h0.7M53.12 137.5h0.7M65.59 111.02h0.7M61.16 101.11h0.7M64.01 138.38h0.7M68 104.97h0.7M65.45 97.57h0.7M60.1 99.47h0.7M74.28 135.05h0.7M79.47 91.84h0.7M74.3 90.28h0.7M71.77 89.58h0.7M63.14 101.11h0.7M72.06 129.29h0.7M44.65 109.33h0.7M77.97 113.98h0.7M68.87 132.13h0.7M60.42 118.41h0.7M63.31 96.96h0.7M61.3 93.44h0.7M59.87 113.97h0.7M78.46 106.47h0.7M68.01 91.81h0.7M69.84 101.12h0.7M71 93.11h0.7M72.41 104.47h0.7M76.68 118.88h0.7M68.96 112.19h0.7M74.41 98.5h0.7M70.43 101.02h0.7M73.56 97.45h0.7M35.55 110.46h0.7M82.18 132.22h0.7M70.61 124.2h0.7M78.71 95.22h0.7M72.53 104.93h0.7M62.07 126.11h0.7M61.75 141.73h0.7M63.6 98.51h0.7M53.57 114.5h0.7M52.1 135.57h0.7M72.23 90.95h0.7M63.48 135.02h0.7M78.9 117.96h0.7M39.69 135.21h0.7M70.99 86.48h0.7M66.5 128.47h0.7M56.18 130.09h0.7M40.04 106.72h0.7M40.03 121.77h0.7M41.35 130.46h0.7M44.08 143.66h0.7M57.08 122.78h0.7M34.83 134.08h0.7M39.78 116.9h0.7M50.53 145.36h0.7M60.62 118.66h0.7M49.92 125.14h0.7M61.65 94.93h0.7M77.7 100.33h0.7M74.6 140.09h0.7M74.4 132.61h0.7M69.42 97.45h0.7M41.67 119.33h0.7M68.93 90.69h0.7M63 95.43h0.7M69.8 131.26h0.7M68.74 96.98h0.7M71.76 113.99h0.7M82.99 102.51h0.7M77.46 100.57h0.7M80.63 104.61h0.7M61.87 117.15h0.7M51.45 99.36h0.7M35.88 114.9h0.7M66.69 104.56h0.7M40.79 134.67h0.7M59.72 137.64h0.7M44.33 139.64h0.7M33.28 108.88h0.7M46.7 116.06h0.7M31.03 114.03h0.7M60.74 101.79h0.7M67.73 91.61h0.7M49.4 125.75h0.7M50.46 133.97h0.7M68.85 120.89h0.7M50.03 127.14h0.7M79.82 98h0.7M66.94 132.76h0.7M43.68 123.17h0.7M59.38 95.39h0.7M48.66 146.59h0.7M72.58 106.2h0.7M72.64 96.62h0.7M63.9 116.51h0.7M62.71 96.18h0.7M83.26 109.8h0.7M44.16 102.38h0.7M75.05 90.96h0.7M49.75 100.75h0.7M71.69 110.31h0.7M52.52 133.77h0.7M65.28 106.05h0.7M35.79 131.04h0.7M44.66 146.38h0.7M63.3 90.39h0.7M47.31 132.49h0.7M40.14 135.26h0.7M79.04 95.95h0.7M75.57 101.81h0.7M78.66 118.38h0.7M48.1 109.09h0.7M53.01 128.48h0.7M40.84 121.77h0.7M37.38 103.23h0.7M81.21 99.68h0.7M81.4 132.43h0.7M76.26 83.48h0.7M72.07 121.55h0.7M46.58 119.21h0.7M59.83 98.59h0.7M58.86 126.87h0.7M70.81 90.39h0.7M88.54 118.78h0.7M43.08 124.95h0.7M78.2 89.4h0.7M77.52 84.57h0.7M73.76 102.14h0.7M83.65 125.88h0.7M36.07 110.35h0.7M75.87 112.56h0.7M82.24 131.9h0.7M70.84 110.2h0.7M69.37 101.74h0.7M62.43 93.97h0.7M56.23 136.23h0.7M71.44 97.44h0.7M70.05 97.63h0.7M44.49 131.45h0.7M53.81 110.4h0.7M70.24 123.39h0.7M35.17 135.14h0.7M76.13 100.8h0.7M54.17 105.31h0.7M56.74 126.15h0.7M75.65 95.18h0.7M48.61 146.58h0.7M66.45 90.22h0.7M69.87 94.07h0.7M77.04 133.14h0.7M45.9 124.04h0.7M35.88 110.46h0.7M58.14 106.43h0.7M35.46 138.29h0.7M82 104.23h0.7M44.25 139.09h0.7M58.24 100.89h0.7M76.57 95.72h0.7M67.62 101.46h0.7M55.04 119.02h0.7M64.98 93.22h0.7M72.75 91.41h0.7M81.54 105.81h0.7M43.55 135.58h0.7M65.86 89.22h0.7M42.08 115.33h0.7M55.61 100.48h0.7M70.22 92.82h0.7M72.49 98h0.7M49.49 135.92h0.7M75.12 130.29h0.7M74.17 95.16h0.7M70.32 86.19h0.7M57.19 117.68h0.7M61.01 138.21h0.7M81.58 109.44h0.7M66.5 97.27h0.7M70.51 141.67h0.7M73.84 106.86h0.7M35.79 108.19h0.7M76.95 87.79h0.7M50.97 146.33h0.7M61.35 98.22h0.7M76.61 133.97h0.7M42.63 108.38h0.7M68.22 113.88h0.7M68 95.18h0.7M44.76 119.41h0.7M63.66 100.66h0.7M72.53 140.21h0.7M74.57 109.25h0.7M63.33 118.62h0.7M65.3 98.01h0.7M67.53 102.54h0.7M75.45 128.42h0.7M72.75 84.24h0.7M62.31 128.76h0.7M80.17 83.69h0.7M62.39 95.93h0.7M57.67 117.04h0.7M67.48 95.51h0.7M66.79 89.52h0.7M48.72 110.42h0.7M79.99 85.5h0.7M91.11 115.95h0.7M60.7 123.38h0.7M35 134.9h0.7M61.74 93.1h0.7M67.02 123.64h0.7M63.46 104.45h0.7M72.13 114.46h0.7M40.68 112.49h0.7M66.18 108.31h0.7M77.64 94.44h0.7M40.66 132.29h0.7M67.95 92.2h0.7M47.65 121.33h0.7M74.44 96.76h0.7M45.78 145.11h0.7M89.63 116.6h0.7M62.67 132.21h0.7M52.21 135.8h0.7M76.59 97.3h0.7M38.95 136.43h0.7M70 86.74h0.7M61.8 135.89h0.7M69.47 111.22h0.7M82.32 119.17h0.7M40.98 138.6h0.7M73.23 94.99h0.7M74.02 98.73h0.7M51.55 125.74h0.7M44.18 139.28h0.7M35.77 113.13h0.7M42.89 132.58h0.7M70.08 87.72h0.7M48.08 112.9h0.7M74.73 99.77h0.7M64.96 91.7h0.7M74.17 101.98h0.7M65.81 96.14h0.7M37.31 120.24h0.7M69.3 114.34h0.7M67.2 92.65h0.7M75.53 95.34h0.7M82.98 118.5h0.7M42.18 121.56h0.7M74.7 101.51h0.7M63.47 103.44h0.7M61.21 144.4h0.7M82.44 120.43h0.7M85.02 116.65h0.7M55.79 123.72h0.7M73.33 85.97h0.7M47.43 107.43h0.7M77.26 89.23h0.7M66.61 118.11h0.7M63.66 109.58h0.7M61.09 103.89h0.7M58.97 133.72h0.7M74.07 85.15h0.7M78.53 96.98h0.7M60.7 92.39h0.7M74.79 121.64h0.7M59.01 117.51h0.7M75.13 91.1h0.7M67.92 111.57h0.7M66.27 96.91h0.7M74.06 137.72h0.7M81.68 101.09h0.7M58.91 120.89h0.7M72.16 95.73h0.7M36.96 107.59h0.7M64.36 142.76h0.7M79.95 102.16h0.7M39.94 124.13h0.7M51.44 112.67h0.7M80.44 89.11h0.7M56.73 101.67h0.7M74.26 89.05h0.7M56.31 99.56h0.7M82.66 115.92h0.7M48.01 140.6h0.7M70.94 121.05h0.7M70.73 95.17h0.7M74.31 87.99h0.7M66.08 98.25h0.7M57.84 106.56h0.7M74.74 100.56h0.7M77.4 95.65h0.7M81.84 126.55h0.7M58.08 103.48h0.7M63.77 89.53h0.7M75.72 88.09h0.7M77.17 137.37h0.7M47.17 142.81h0.7M53.93 131.9h0.7M63.98 90.86h0.7M57.83 106.77h0.7M39.7 101.14h0.7M80.16 99.7h0.7M67.42 118.41h0.7M78.28 91.87h0.7M41.96 119.89h0.7M67.12 122.87h0.7M59.21 144.94h0.7M87 121.53h0.7M39.9 123.71h0.7M80.92 99.45h0.7M67.06 97.19h0.7M55.31 101.04h0.7M49.02 121.55h0.7M69.15 96.62h0.7M52.16 114.14h0.7M68.76 88.71h0.7M82.61 107.39h0.7M65.93 95.74h0.7M78.28 109.22h0.7M66.68 94.09h0.7M72.45 112.91h0.7M45.47 115.69h0.7M60.38 110.64h0.7M61.52 107.42h0.7M67.01 123.22h0.7M72.51 101.67h0.7M62.02 98.91h0.7M45.02 129.88h0.7M62.61 121.74h0.7M67.18 118.08h0.7M76.76 100.25h0.7M56.84 99.96h0.7M38.48 120.25h0.7M38.86 128.04h0.7M71.8 110.56h0.7M70.16 85.94h0.7M78.4 94.85h0.7M48.15 124.29h0.7M76.38 85.34h0.7M63.99 92.85h0.7M48.09 114.2h0.7M55.02 128.46h0.7M78.3 102.86h0.7M49.94 128.8h0.7M79.99 115.6h0.7M74.28 118.63h0.7M33.98 126.39h0.7M47.01 113.39h0.7M61.87 132.33h0.7M61.4 103.29h0.7M42.7 120.8h0.7M67.57 108.46h0.7M71.14 114.38h0.7M86.25 117.96h0.7M71.44 119.4h0.7M45.12 125.82h0.7M54.03 125.79h0.7M67.47 118.9h0.7M68.28 92.35h0.7M31.95 120.2h0.7M68.91 109.18h0.7M36.14 129.17h0.7M76.35 112.6h0.7M58.14 111.05h0.7M77.98 86.33h0.7M43.41 113.5h0.7M47.95 144.02h0.7M78.04 102.36h0.7M74.89 104.7h0.7M71.45 111.64h0.7M72.27 94.54h0.7M70.75 91.36h0.7M29.28 115.51h0.7M61.06 106.48h0.7M48.43 123.25h0.7M81.41 99.06h0.7M43.85 117.81h0.7M64.31 137.27h0.7M75 91h0.7M67.51 140.44h0.7M63.97 126.38h0.7M65.03 89.56h0.7M61.06 93.99h0.7M42.07 122.01h0.7M34.84 132.37h0.7M50.81 97.74h0.7M48.59 147.67h0.7M29.74 109.93h0.7M68.91 87.65h0.7M92.01 118.96h0.7M33.11 131.38h0.7M50.37 99.14h0.7M37.45 139.22h0.7M33.63 135.7h0.7M45.86 147.46h0.7M84.38 104.84h0.7M35.1 125.43h0.7M84.75 114.27h0.7M42.58 145.73h0.7M72.02 83.34h0.7M46.17 147.59h0.7M80.32 96.43h0.7M83.96 133.6h0.7M42.85 101.24h0.7M65.58 91.56h0.7M34.62 137.82h0.7M79.51 94.68h0.7M29.29 113.59h0.7M48.61 148.5h0.7M79.23 87.66h0.7M34.2 125.61h0.7M45.61 145.97h0.7M64.27 89.31h0.7M90.34 116.88h0.7M31.51 131.93h0.7M45.94 146.94h0.7M92 118.74h0.7M85 108.39h0.7"/><path id="D_bl_5" d="M64.6 139.97h0.7M90.1 117.52h0.7M53.54 124.33h0.7M42.24 125.27h0.7M43.69 100.06h0.7M52.28 103.8h0.7M84.56 106.78h0.7M67.57 94.25h0.7M52.22 129.03h0.7M47.03 130.66h0.7M82.83 104.75h0.7M73.37 96.89h0.7M57.36 135.77h0.7M64.12 119.61h0.7M57.5 114.61h0.7M58.75 107.9h0.7M85.17 113.69h0.7M50.89 137.14h0.7M50.14 146.94h0.7M40.72 116.83h0.7M82.22 107.34h0.7M79.63 89.85h0.7M76.49 113.54h0.7M59.63 104.43h0.7M57.28 123.95h0.7M67.83 134.99h0.7M66.63 109.12h0.7M64.33 122.79h0.7M49.76 124.86h0.7M87.83 117.53h0.7M72.88 109.16h0.7M84.03 126.28h0.7M46.14 122.7h0.7M83.99 118.52h0.7M67.08 100.27h0.7M75.9 100.3h0.7M75.72 130.3h0.7M33.74 125.87h0.7M63.27 133.91h0.7M58.6 134.06h0.7M72.24 98.1h0.7M43.26 106.16h0.7M67.37 110.82h0.7M60.34 93.47h0.7M60.17 108.4h0.7M59.3 145.48h0.7M70.72 100.14h0.7M63.69 92.09h0.7M77.85 99.58h0.7M56.87 123.22h0.7M66.44 129.88h0.7M28.84 111.24h0.7M72.52 136.02h0.7M77.55 130.84h0.7M81.76 120.57h0.7M45.54 111.15h0.7M73.22 131.4h0.7M79.16 130.61h0.7M39.36 135.49h0.7M53.54 100.8h0.7M50.95 147.23h0.7M38.62 124.36h0.7M49.36 129.86h0.7M88.31 119.52h0.7M74.93 135.79h0.7M48.58 120.81h0.7M44.81 145.35h0.7M72.98 105.37h0.7M51.53 131.19h0.7M79.09 117.3h0.7M33.16 111.19h0.7M64.63 130.75h0.7M53.32 127.3h0.7M43.48 130.09h0.7M64.87 116.47h0.7M84.66 117.6h0.7M63.33 100.38h0.7M35.13 102.64h0.7M39.29 117.85h0.7M51.06 122.5h0.7M50 116.16h0.7M38.65 112.03h0.7M81.52 100.83h0.7M83.74 108.7h0.7M40.02 130.7h0.7M41.56 126.36h0.7M37.13 131.78h0.7M38.33 105.03h0.7M72.54 104.94h0.7M35.42 125.78h0.7M51.25 105.49h0.7M59.59 116.19h0.7M75.12 136.67h0.7M64.27 124.04h0.7M42.09 125.06h0.7M63.77 125.79h0.7M41.3 141.21h0.7M79.41 93.49h0.7M37.38 139.19h0.7M75.83 87.33h0.7M34.33 114.9h0.7M33.44 105.81h0.7M80.66 94.12h0.7M70.64 100.77h0.7M71.55 128.09h0.7M53.31 122.62h0.7M50.93 144.05h0.7M84.24 118.55h0.7M60.9 118.11h0.7M56.97 133.36h0.7M50.82 113.18h0.7M50.31 132.69h0.7M56.24 136.49h0.7M46.18 133.87h0.7M76.64 137.47h0.7M46.24 119.77h0.7M39.02 131.32h0.7M37.5 115.83h0.7M75.96 93.16h0.7M62.71 115.79h0.7M40.31 123.42h0.7M36.35 113.1h0.7M73.44 87.27h0.7M87.08 121.04h0.7M66.77 122.61h0.7M64.06 109.7h0.7M46.97 122.46h0.7M71.24 125.24h0.7M81 125.6h0.7M63.09 122.16h0.7M51.58 127.77h0.7M55.86 104.86h0.7M76.94 102.89h0.7M45.03 133.9h0.7M67.64 115.21h0.7M41.68 136.17h0.7M54.07 110.87h0.7M42.71 117.82h0.7M46.77 136.79h0.7M76.92 97.69h0.7M59.45 108.73h0.7M78.6 112.18h0.7M43.42 102.78h0.7M82.01 132.91h0.7M79.57 93.2h0.7M48.05 136.24h0.7M83.14 116.23h0.7M71.47 110.84h0.7M73.88 120.7h0.7M53.07 109.9h0.7M73.58 105.44h0.7M65.66 123.96h0.7M42.86 116.15h0.7M43.01 138.2h0.7M40.61 118.31h0.7M38.79 133.23h0.7M35.92 119.24h0.7M82.89 131.37h0.7M60.03 116.13h0.7M34.8 122.06h0.7M89.21 116.48h0.7M40.32 131.73h0.7M64.66 138.66h0.7M78.5 106.25h0.7M28.7 111.47h0.7M68.27 112.4h0.7M41.44 138.45h0.7M79.74 103.58h0.7M74.85 99.16h0.7M29.03 118.79h0.7M42.42 123.13h0.7M36.63 137.26h0.7M55.95 119.93h0.7M79.46 116.49h0.7M49.23 144.7h0.7M73.86 123.25h0.7M58.7 125.87h0.7M49.37 100.62h0.7M46.13 110.08h0.7M35.53 117.26h0.7M78.22 121.75h0.7M33.03 132.54h0.7M42.82 102.65h0.7M45.03 143.17h0.7M74.15 92.94h0.7M39.86 123.47h0.7M49.49 126.21h0.7M39.57 126.87h0.7M56.83 139.21h0.7M49.71 142.65h0.7M74.96 100.62h0.7M48.62 118.16h0.7M45.48 129.23h0.7M39.69 134.46h0.7M61.38 121.56h0.7M64.41 108.01h0.7M30.95 111.9h0.7M41.74 134.23h0.7M51.95 132.95h0.7M83.66 102.68h0.7M55.17 130.63h0.7M66.1 115.99h0.7M38.28 133.03h0.7M38.87 135.48h0.7M62.07 115.91h0.7M47.45 104.09h0.7M64.38 121.03h0.7M59.19 115.91h0.7M63.12 124.24h0.7M56.77 138.37h0.7M63.94 134.05h0.7M45.78 107.25h0.7M30.37 115.21h0.7M75.13 102.36h0.7M43.86 130.61h0.7M71.3 103.91h0.7M65.22 118.91h0.7M35.72 136.29h0.7M64.46 91.29h0.7M76.95 107.26h0.7M83 114.52h0.7M57.84 122.58h0.7M81.76 116.48h0.7M61.65 120.26h0.7M79.83 120.5h0.7M63.68 125.26h0.7M40.75 113.9h0.7M59.03 125.86h0.7M68.7 110.55h0.7M68.84 118.94h0.7M41.99 125.27h0.7M75 95.38h0.7M82.14 131.61h0.7M79.32 134.23h0.7M78.52 117.85h0.7M79.65 131.02h0.7M79.86 84.95h0.7M65.94 98.84h0.7M67 107.25h0.7M71.55 130.87h0.7M70.2 91.24h0.7M34.59 113.9h0.7M60.2 106.79h0.7M70.53 134.3h0.7M67.15 141.22h0.7M57.55 127.13h0.7M40.26 129.89h0.7M78.9 91.72h0.7M79.32 106.22h0.7M34.37 123.72h0.7M45.18 131.25h0.7M73.16 108.83h0.7M49.26 103.8h0.7M37.53 130.31h0.7M47.11 132.09h0.7M63.58 111.26h0.7M71.48 92.5h0.7M79.91 135.9h0.7M81.82 124.78h0.7M71.41 99.21h0.7M51.6 126.42h0.7M65.21 105.65h0.7M72.41 120.82h0.7M60.54 97.85h0.7M56.75 104.74h0.7M51.75 110.17h0.7M77.48 84.66h0.7M40.34 113.75h0.7M74.83 85.19h0.7M75.81 102.95h0.7M39.28 130.38h0.7M68.65 116.3h0.7M77.69 109.49h0.7M42.44 140.78h0.7M80.73 121.32h0.7M59.61 99.02h0.7M68.15 121.09h0.7M73.48 98.18h0.7M62.89 112.04h0.7M75.5 98.69h0.7M81.85 118.52h0.7M60.79 118.67h0.7M81.69 121.11h0.7M79.87 112.99h0.7M50.47 124.88h0.7M39.43 128.19h0.7M66.63 108.15h0.7M44 113.31h0.7M79.18 130.21h0.7M38.03 126.14h0.7M37.41 134.04h0.7M76.79 130.34h0.7M74.61 106.31h0.7M43.5 111.13h0.7M51.59 139.14h0.7M70.95 93.98h0.7M44.4 121.89h0.7M73.57 136.75h0.7M70.3 99.55h0.7M85.87 116.7h0.7M47.61 141.67h0.7M73.57 140.16h0.7M46.55 121.66h0.7M72.84 85.2h0.7M75.75 86.49h0.7M58.19 130.58h0.7M48.34 145.81h0.7M39.94 134.86h0.7M47.81 110.05h0.7M82.63 108.94h0.7M82.17 113.04h0.7M83.99 120.38h0.7M76.55 86.85h0.7M82.74 113.38h0.7M72.51 99.85h0.7M50.77 127.33h0.7M46.09 128.99h0.7M40.6 132.36h0.7M65.33 98.53h0.7M64.21 111.35h0.7M53.67 112.72h0.7M46.79 129.93h0.7M80.45 121.16h0.7M58.06 127.35h0.7M43.11 132.05h0.7M34.52 111.83h0.7M62.71 107.42h0.7M55.8 138.06h0.7M51.98 105.8h0.7M59.78 96.97h0.7M43.89 125.2h0.7M76.34 90.77h0.7M87.2 121.59h0.7M80.43 99.85h0.7M82.15 102.9h0.7M66.32 97.41h0.7M74.12 89.09h0.7M64.49 120.44h0.7M74.91 124.25h0.7M42.55 116.04h0.7M64.77 92.99h0.7M60.1 104.82h0.7M77.37 84.4h0.7M44.15 107.97h0.7M79.2 89.53h0.7M49.46 108.19h0.7M73.91 114.91h0.7M66.04 104.41h0.7M59.46 120.39h0.7M79.72 97.81h0.7M40.02 125.83h0.7M46.35 138.18h0.7M79.66 96.08h0.7M77.42 128.61h0.7M57.85 115.86h0.7M63.16 115.01h0.7M37.82 137.95h0.7M57.41 123.39h0.7M39.11 136.14h0.7M55.91 129.59h0.7M79.39 105.76h0.7M49.32 124.29h0.7M83.1 106.01h0.7M67.23 119.72h0.7M74.47 121.48h0.7M42.05 117.14h0.7M38.72 118.8h0.7M42.72 136.81h0.7M66.65 110.6h0.7M54.65 140.37h0.7M58.46 100.41h0.7M85.69 123.05h0.7M51.03 138.4h0.7M67.1 99.42h0.7M34.14 116.14h0.7M38.1 122.18h0.7M52.83 129.53h0.7M37.2 112.48h0.7M78.38 122.32h0.7M47.67 129.18h0.7M61.02 118.16h0.7M61.88 109.05h0.7M46.52 132.44h0.7M46.96 132.38h0.7M69.96 127.39h0.7M38 127.59h0.7M87.31 116.22h0.7M67.56 94.65h0.7M42.18 126.29h0.7M78.47 124.68h0.7M43.4 118.16h0.7M43.46 126.88h0.7M36.79 133.77h0.7M37.17 134.27h0.7M82.55 109.48h0.7M80.48 108.62h0.7M78.29 109.11h0.7M63.97 117.53h0.7M37.09 132.85h0.7M66.95 125.78h0.7M58.41 129.02h0.7M41.65 103.57h0.7M73.31 108.42h0.7M69.2 86.52h0.7M79 115.51h0.7M71.55 85.94h0.7M68.46 90.45h0.7M41.09 112.39h0.7M39.43 114.91h0.7M52.15 106.54h0.7M74.69 97.81h0.7M52.29 117.64h0.7M53.86 99.16h0.7M69.73 113.34h0.7M67.85 129.41h0.7M69.51 111.71h0.7M76.86 114.77h0.7M61.16 136.21h0.7M47.09 124.89h0.7M66.07 134.92h0.7M41.08 115.77h0.7M46.95 101.03h0.7M80.15 100.3h0.7M65.87 113.23h0.7M56.62 137.56h0.7M69.42 128.16h0.7M69.95 107.04h0.7M73.43 86.33h0.7M45.03 127.28h0.7M36.45 140.33h0.7M38.47 108.39h0.7M59.57 130.67h0.7M85.21 113.87h0.7M77.35 127.3h0.7M58.56 104.14h0.7M55.51 141.27h0.7M67 102.96h0.7M78.77 101.06h0.7M80.79 117.21h0.7M70.52 98.54h0.7M37.34 137.35h0.7M64.11 120.6h0.7M69.29 104.47h0.7M44.3 141.88h0.7M71.42 115.79h0.7M72.25 131.18h0.7M77.66 101.54h0.7M55.97 127.76h0.7M47.68 122.61h0.7M36.33 138.29h0.7M49.25 144.15h0.7M47.68 113.72h0.7M68.6 137.91h0.7M60.4 132.79h0.7M66.02 119.59h0.7M46.96 119h0.7M49.23 145.34h0.7M85.61 128.45h0.7M39.37 133.46h0.7M62.43 132.86h0.7M52.84 141.62h0.7M42.38 104.54h0.7M60.86 134.73h0.7M62.11 99.57h0.7M61.92 140.99h0.7M40.93 132.84h0.7M41.58 120.07h0.7M34.43 130.82h0.7M62.07 93.77h0.7M45.72 128.84h0.7M62.41 128.84h0.7M81.45 110h0.7M49.72 123.32h0.7M34.95 117.75h0.7M77.34 84.94h0.7M68.72 99.06h0.7M75.73 84.72h0.7M70.9 106.04h0.7M49.98 126.43h0.7M43.26 118.31h0.7M82.72 110.39h0.7M35.89 124.78h0.7M63.37 102.76h0.7M38.86 108.7h0.7M73.18 87.73h0.7M59.32 103.8h0.7M89.29 118.71h0.7M70.54 108.2h0.7M80.42 114.52h0.7M52.27 115.62h0.7M73.61 106.92h0.7M42.42 117.83h0.7M74.08 100.4h0.7M41.77 131.07h0.7M43.64 108.85h0.7M53.84 106.82h0.7M34.28 109.35h0.7M60.17 130.83h0.7M65.37 123.33h0.7M88.35 118.62h0.7M47.46 100.14h0.7M56.54 144.43h0.7M83.79 132.97h0.7M84.39 113.84h0.7M53.32 98.38h0.7M74.75 140.27h0.7M72.22 85.2h0.7M89.41 120.04h0.7M34.2 140.51h0.7M44.1 100.91h0.7M29.44 131.8h0.7M36.8 101.9h0.7M88.1 115.49h0.7M89.29 120.57h0.7M41.97 144.25h0.7M33.19 136.13h0.7M41.1 143.27h0.7M27.85 114.1h0.7M71.87 85.58h0.7M55.81 96.3h0.7M81.04 90.92h0.7M88.66 119.36h0.7M80.03 136h0.7M88.49 115.2h0.7M26.32 115.28h0.7M39.67 141.71h0.7M88.67 115.79h0.7M33.29 135.19h0.7M46.59 147.06h0.7M63.39 90.33h0.7M35.12 128.89h0.7M63.43 146.11h0.7M59.4 93.88h0.7M83.88 107.84h0.7M86.68 105.45h0.7M79.63 95.5h0.7"/><path id="P_gr" d="M69.3 57L71.6 59L71.9 65.1L73 71.8L75.6 77.2L77 80.6L75 83.2L69.6 85.9L65.6 88L60.2 86.6L54.8 83.9L50.1 81.9L47.4 78.5L44.7 73.8L44.7 70.5L46.7 67.8L50.1 65.1L52.8 63.1L56.8 65.8L62.2 66.4L66.2 63.7L68.2 60.4Z"/><path id="D_gr_0" d="M65 83.53h0.7M59.33 82.98h0.7M65.86 88.16h0.7M73.78 77.76h0.7M65.39 84.29h0.7M73.17 77.03h0.7M64.01 84.94h0.7M68.44 81.11h0.7M59.54 77.96h0.7M69.42 82.61h0.7M67.28 84.11h0.7M56.58 68.57h0.7M73.37 74.07h0.7M62.42 85.58h0.7M61.83 83.01h0.7M62.48 86.05h0.7M64.72 85.58h0.7M70.97 66.23h0.7M58.34 66.51h0.7M53.44 80.48h0.7M67.1 63.28h0.7M61.62 71.57h0.7M65.24 68.37h0.7M65.23 69.34h0.7M74.83 81.83h0.7M58.59 87.84h0.7M75.52 82.68h0.7M67.89 58.96h0.7M60.09 87.24h0.7M67.53 59.3h0.7"/><path id="D_gr_1" d="M69.87 61.91h0.7M59.28 75.95h0.7M63.95 81.39h0.7M71 59.05h0.7M74.57 82.89h0.7M71.44 76.16h0.7"/><path id="D_gr_2" d="M69.11 76.85h0.7M49.53 71.96h0.7M69.68 69.77h0.7M55.53 82.34h0.7M51.41 66.62h0.7M68.13 70.77h0.7M75.29 79.99h0.7"/><path id="D_gr_3" d="M73.99 77.41h0.7M70.84 65.12h0.7M53.17 67.51h0.7M58.43 79.16h0.7M53.36 64.72h0.7M58.9 73.86h0.7M54.17 64.58h0.7M68.72 79.41h0.7M59.9 68.24h0.7M57.82 77.26h0.7M49.29 73.71h0.7M53.5 74.85h0.7M61.52 68.42h0.7M58.53 77.33h0.7M47.77 68.55h0.7M53.11 64.5h0.7M47.03 66.94h0.7M45.27 76.11h0.7M64.54 69.09h0.7M58.45 81.65h0.7M57.23 77.19h0.7M66.7 73.21h0.7M63.39 74.99h0.7M66.19 65.76h0.7M61.21 68.2h0.7M50.14 80.18h0.7M68.33 85.83h0.7M56.6 70.79h0.7M53.72 75.06h0.7M46.63 74.22h0.7M56.41 76.28h0.7M53.33 71.08h0.7M50.75 81.38h0.7M51.99 76.86h0.7M68.07 62.58h0.7M56.77 74.46h0.7M49.06 67.94h0.7M47.24 70.21h0.7M50.49 74.88h0.7M52.65 63.77h0.7M46.18 75.73h0.7M72.11 80.95h0.7M64.8 66.31h0.7M51.57 71.47h0.7M51.32 71.56h0.7M63.06 68.21h0.7M57.62 69.04h0.7M43.72 73.07h0.7M47.17 75.23h0.7M59.01 81.54h0.7M59.84 81.69h0.7M58.6 83.13h0.7M46.8 70.84h0.7M49.81 75.83h0.7M49.5 66.7h0.7M55.95 84.03h0.7M46.53 68.38h0.7M58.65 73.43h0.7M47.73 72.01h0.7M62.08 81.13h0.7M49.71 70.47h0.7M50.96 75.94h0.7M55.67 67.4h0.7M60.68 76.8h0.7M65.1 86.31h0.7M52.24 78.52h0.7M66.19 81.15h0.7M47.27 74.89h0.7M56.87 84.77h0.7M56.71 70.89h0.7M55.41 80.54h0.7M71.02 85.14h0.7M51.08 67.4h0.7M64.13 77.52h0.7M48.41 75.65h0.7M56.86 73.18h0.7M56.53 73.78h0.7M70.33 73.74h0.7M72.67 79.09h0.7M59.89 68.76h0.7M72.44 76.71h0.7M54.54 81.14h0.7M48.54 69.8h0.7M53.66 68.38h0.7M58.65 71.94h0.7M47.64 76.33h0.7M60.85 78.59h0.7M55.29 79.81h0.7M57.16 78.16h0.7M57.26 74.18h0.7M52.83 66.99h0.7M51.94 67.24h0.7M54.93 82.89h0.7M47.23 71.7h0.7M60.98 71.56h0.7M61.77 85.88h0.7M56.35 66.9h0.7M70.04 66.94h0.7M57.36 74.2h0.7M50.58 69.37h0.7M47.08 75.53h0.7M53.1 70.43h0.7M54.1 80.63h0.7M60.83 83.77h0.7M48.48 73.51h0.7M55.91 79.4h0.7M61.48 78.34h0.7M70.53 79.39h0.7M44.87 75.48h0.7M55.17 77.02h0.7M55.67 66.3h0.7M57.21 80.48h0.7M53.55 68.94h0.7M74.42 80.13h0.7M58.75 69.69h0.7M56.85 72.29h0.7M69.19 58.37h0.7M53.5 74.31h0.7M54.5 73.76h0.7M52.24 72.11h0.7M53.52 64.95h0.7M54.91 70.83h0.7M69.85 82.7h0.7M47.48 69.35h0.7M55.31 70.42h0.7M71.3 65.35h0.7M64.95 75.1h0.7M50.41 69.86h0.7M69.08 70.74h0.7M44.18 69.68h0.7M77.02 77.77h0.7M60.47 65.04h0.7M45.03 70.58h0.7M53.01 82.8h0.7M49.87 80.54h0.7M43.79 69.11h0.7M75.38 81.91h0.7M49.95 80.54h0.7M67.81 56.58h0.7M55.03 83.9h0.7M74.78 85.07h0.7M69.51 59.69h0.7M76.62 81.16h0.7M50.67 84.04h0.7M53.83 82.65h0.7M56.07 66.47h0.7M53.74 63.69h0.7M46.55 66.18h0.7"/><path id="D_gr_4" d="M57.52 81.93h0.7M65.95 85.4h0.7M61.6 79.23h0.7M63.98 85.51h0.7M74.82 77.43h0.7M72.73 75.67h0.7M72.19 69.86h0.7M71.92 70.48h0.7M63.69 83.69h0.7M59.44 73.03h0.7M57.74 67.65h0.7M60.56 65.8h0.7M70.33 73.38h0.7M69.69 71.11h0.7M63.51 78.3h0.7M74.03 77.46h0.7M57.88 65.39h0.7M70.7 77.81h0.7M69.85 77.84h0.7M74.43 77.69h0.7M55.51 66.91h0.7M63.46 82.35h0.7M63.02 83.8h0.7M70.76 83.14h0.7M66.38 72.07h0.7M66.75 66.97h0.7M60.36 66.94h0.7M66.06 83.86h0.7M71.87 68.87h0.7M68.06 67.36h0.7M59.13 74.09h0.7M74.33 82.64h0.7M69.79 71.13h0.7M72.42 75.18h0.7M64.49 78.99h0.7M71.7 74.33h0.7M70.87 70.87h0.7M61.03 70.43h0.7M63.01 85.34h0.7M68.89 73.32h0.7M63.84 73.73h0.7M74.21 82.76h0.7M62.26 66.09h0.7M71.88 63.95h0.7M69.04 72.28h0.7M66.85 82.42h0.7M59.24 69.42h0.7M70.13 78.99h0.7M61.93 78.89h0.7M67.79 67.44h0.7M69.5 75.06h0.7M53.63 66.65h0.7M68.66 74.71h0.7M59.91 83.79h0.7M66.72 64.32h0.7M60.1 71.26h0.7M68.25 82.79h0.7M65.02 71.71h0.7M70.05 81h0.7M68.43 85.27h0.7M62.31 76.79h0.7M60.09 82.39h0.7M64.7 68.27h0.7M70.05 73.17h0.7M68.84 83.38h0.7M68.26 71.43h0.7M47.97 72.75h0.7M68.78 77.29h0.7M62.17 80.5h0.7M67.41 77.12h0.7M59.21 67.58h0.7M51.64 71.24h0.7M70.48 79.18h0.7M65.01 79.41h0.7M73.22 73.24h0.7M59.86 79.48h0.7M57.96 67.04h0.7M59.94 69.28h0.7M70.06 84.03h0.7M63.02 76.87h0.7M73.75 74.65h0.7M71.63 78.18h0.7M68.05 75.7h0.7M68.39 78.38h0.7M68.05 71.05h0.7M50.04 65.8h0.7M49.87 75.92h0.7M69.83 84.02h0.7M67.25 71.87h0.7M74.22 82.64h0.7M66.09 85.39h0.7M69.8 81.46h0.7M71.88 75.54h0.7M69.14 81.24h0.7M70.98 77.81h0.7M71.69 69.86h0.7M64.2 71.11h0.7M66.49 82.45h0.7M59 75.65h0.7M68.97 65.47h0.7M67.12 62.48h0.7M72.45 79.38h0.7M65.47 84.28h0.7M68.97 74.84h0.7M71.35 73.22h0.7M66.96 77.58h0.7M65.92 87.09h0.7M58.4 73.67h0.7M60.71 81.42h0.7M62.01 78.32h0.7M58.24 79.68h0.7M60.68 71.87h0.7M53.64 73.24h0.7M62.4 68.47h0.7M68.82 77.41h0.7M73.22 82.05h0.7M67.91 75.59h0.7M65.39 81.41h0.7M61.17 78.88h0.7M61.54 80.42h0.7M66.86 68.25h0.7M72.26 76.03h0.7M72.45 73.24h0.7M74.77 74.69h0.7M73.24 83.5h0.7M58.61 66.89h0.7M73.9 76.31h0.7M56.6 65.2h0.7M69.33 66.76h0.7M53.75 62.14h0.7M71.83 68.65h0.7M71.18 70.24h0.7M74.92 73.59h0.7M69 86.66h0.7"/><path id="D_gr_5" d="M52.61 81.7h0.7M62.57 67.98h0.7M60.61 81.04h0.7M49.53 70.85h0.7M58.35 71.17h0.7M61.42 84.7h0.7M56.91 79.1h0.7M64.26 71.43h0.7M55.81 77.85h0.7M66.86 85.71h0.7M72.61 80.13h0.7M70.91 61.13h0.7M59.15 75.13h0.7M49.19 78.27h0.7M52.05 64.72h0.7M65.73 69.47h0.7M70.96 82.01h0.7M62.86 85.36h0.7M60.14 66.98h0.7M62.18 68.55h0.7M66.72 62.94h0.7M71.43 70.43h0.7M49.63 67.42h0.7M67.45 85.56h0.7M70.57 78.63h0.7M57.98 80.05h0.7M57.89 68.19h0.7M66.94 78.46h0.7M70.85 67.5h0.7M67.69 62.35h0.7M51.62 75.7h0.7M64.74 73.72h0.7M57.39 79.06h0.7M70.72 74.69h0.7M61.14 81.85h0.7M68.33 60.82h0.7M70.66 60.23h0.7M65.45 67.43h0.7M72.11 83.64h0.7M55.81 80.78h0.7M65.1 71.1h0.7M59.44 75.59h0.7M62.45 80.98h0.7M67.92 67.11h0.7M56.28 82.45h0.7M61.36 75.8h0.7M53.39 77.12h0.7M68.8 63.29h0.7M61.24 85.57h0.7M46.09 71.67h0.7M53.05 81.39h0.7M68.03 60.61h0.7M58.88 78.49h0.7M63.77 64.75h0.7M47.77 77.54h0.7M65.84 83.02h0.7M68.21 71.45h0.7M72.32 80.19h0.7M50.81 81.2h0.7M61.99 73.04h0.7M73.56 81.51h0.7M71.54 79.42h0.7M56.01 73.76h0.7M76.42 78.41h0.7M46.39 67.27h0.7M64.02 64.2h0.7M66.91 63.13h0.7M45.69 69.68h0.7M54 61.71h0.7M50.6 82.23h0.7M60.61 85.85h0.7M76.21 78.96h0.7M71.11 57.74h0.7M62.72 88.56h0.7"/><path id="P_cl" d="M36.5 47.3L45 45.5L52 45.8L56.5 47L58.5 53L60.5 61L55 63.5L50 62.3L45 57L40 51.5Z"/><path id="D_cl_0" d="M49.59 56.29h0.7"/><path id="D_cl_1" d="M40.16 49.51h0.7"/><path id="D_cl_3" d="M52.79 50.62h0.7M51.16 46h0.7M52.9 49.06h0.7M46.86 57.35h0.7M53.44 54.49h0.7M52.47 58.93h0.7M46.18 48.09h0.7M56.49 56.46h0.7M54.88 49.64h0.7M48.37 56.48h0.7M58.26 56.71h0.7M48.64 51h0.7M54.9 60.07h0.7M39.4 50.19h0.7M45.9 51.01h0.7M51.81 54.55h0.7M58.12 62.39h0.7M53.93 63.53h0.7M53.85 60.27h0.7M54.16 61.38h0.7M56.78 51.55h0.7M46.57 52.89h0.7M55.1 58.9h0.7M41.89 54.01h0.7M43.48 45.78h0.7M54.73 55.93h0.7M40.18 46.8h0.7M53.55 64.23h0.7M43.51 54.82h0.7M58.49 59.69h0.7M57.47 51.22h0.7"/><path id="D_cl_4" d="M41.79 51.39h0.7M43.87 54.81h0.7M44.34 54.74h0.7M56.14 63.26h0.7M59.07 50.39h0.7"/><path id="D_cl_5" d="M45.74 54.37h0.7M41.6 47.77h0.7M52.55 52.42h0.7M40.96 49.34h0.7M54.65 51.52h0.7M52.23 56.51h0.7M44.36 48.85h0.7M58.52 53.59h0.7"/><path id="P_pu" d="M32.3 47.1L35.1 47L38.6 51.7L42.8 56.4L46.7 59.5L50.2 62.2L52.5 63.5L49.5 66L46.3 66.9L44 63.8L41.7 59.1L38.6 56L35.1 52.9L32.1 49.4Z"/><path id="D_pu_1" d="M42.36 61.42h0.7"/><path id="D_pu_2" d="M36.24 49.43h0.7"/><path id="D_pu_3" d="M35.22 53.03h0.7M46.8 60.46h0.7M41.15 55.07h0.7M48.89 63.78h0.7M39.17 54.88h0.7M46.2 62.68h0.7M37.78 55.22h0.7M46.22 65.84h0.7M38.44 55.25h0.7M46.34 60.39h0.7M45.84 60.43h0.7M41 56.03h0.7M33.87 50.4h0.7M34.65 48.6h0.7M35.97 52.11h0.7M47.1 66.48h0.7M33.61 48.88h0.7M33.55 47.19h0.7M46.4 63.94h0.7M45.89 61.91h0.7M49.66 65.43h0.7M35.56 54.03h0.7M35.67 51.34h0.7M47.64 63.18h0.7M45.39 59.81h0.7M34.42 48.57h0.7M46.94 61.56h0.7M41.43 59.09h0.7M38.85 52.55h0.7M35.03 49.73h0.7M44.26 60.83h0.7M33.52 49.13h0.7M32.62 49.56h0.7M40.85 56.65h0.7M33.69 48.17h0.7M41.85 57.32h0.7M37.56 54.46h0.7M47.61 65.57h0.7M47.34 65.45h0.7M47.31 63.39h0.7M41.56 60.62h0.7M38.18 53.55h0.7M34.23 49.53h0.7M44.77 58.69h0.7M42.57 60.34h0.7M37.43 53.99h0.7M34.35 49.19h0.7M41.36 55.75h0.7M47.21 63.71h0.7M39.69 55.23h0.7M44.61 60.04h0.7M37.51 53.74h0.7M33.52 50h0.7M36.58 54.43h0.7M48.65 62.67h0.7M42.82 63.65h0.7M37.68 50.04h0.7M46.58 68.71h0.7M47.17 61.19h0.7M45.32 66.83h0.7M31.57 48.69h0.7M32.53 46.45h0.7M41.17 55.13h0.7M37.27 50.03h0.7M32 48.16h0.7M42.41 56.44h0.7M50.56 63.94h0.7M32.18 47.94h0.7M31.26 45.72h0.7M39.82 52.1h0.7M37.83 55.97h0.7M30.95 50.03h0.7M48.51 66.17h0.7M32.86 47h0.7M40.36 59.35h0.7M43.47 57.86h0.7M36.45 55.32h0.7M37.13 50.32h0.7M40.25 60.98h0.7M36.95 47.97h0.7M52.43 65h0.7M33.93 46.81h0.7"/><path id="D_pu_4" d="M47.03 60.77h0.7M42.52 59.11h0.7M40.49 58.35h0.7M32.84 51.55h0.7M38.07 53.55h0.7M48.59 64.29h0.7M42.43 60.7h0.7M35.39 53.03h0.7M45.26 57.79h0.7"/><path id="D_pu_5" d="M37.07 53.55h0.7M41.89 58.55h0.7M44.38 60.5h0.7M48.68 62.75h0.7M41.71 56.77h0.7M45.44 63.44h0.7M43.28 61.88h0.7M43.81 59.77h0.7M35.9 52.54h0.7M33.62 47.1h0.7M38.09 52.24h0.7M44.3 58.13h0.7M42.43 59.11h0.7M44.47 63.07h0.7M43.5 58.38h0.7M45.4 66.22h0.7M35.58 50.98h0.7M42.76 58.76h0.7M34.16 51.42h0.7M45.39 60.21h0.7M34.75 47.67h0.7M35.23 49.13h0.7M37.6 55.27h0.7M47.19 66.8h0.7M42.87 58.51h0.7M34.26 47.35h0.7M34.61 46.7h0.7M42.68 63.26h0.7M33.76 53.53h0.7M32.96 48.26h0.7M44.79 65.66h0.7M38.08 57.47h0.7M49.33 65.88h0.7M48.74 63.87h0.7M48.93 66.74h0.7M31.84 46.14h0.7M48.09 61.73h0.7M45.28 66.87h0.7"/><path id="P_pl" d="M56.2 34.1L57.9 33.5L59.4 36.7L60.8 44.9L63.1 52.4L64 58.4L62.5 62L60.9 63.5L60 59.9L59.3 52.4L57.8 44.9L56.2 37.5Z"/><path id="D_pl_0" d="M56.33 35.93h0.7M55.97 34.79h0.7"/><path id="D_pl_2" d="M58.67 37.95h0.7M59.86 54.35h0.7M63.97 54.15h0.7"/><path id="D_pl_3" d="M61.55 60.11h0.7M60.37 49.04h0.7M58.89 42.13h0.7M61.03 56.86h0.7M58.48 47.61h0.7M61.01 59.81h0.7M61.77 54.48h0.7M59.97 48.89h0.7M59.86 55.59h0.7M60.74 50.76h0.7M57.58 43.8h0.7M62.21 60.34h0.7M58.97 40.38h0.7M60 49.97h0.7M57.88 45.19h0.7M59.72 50.23h0.7M61.87 51.19h0.7M58.62 47.69h0.7M59.38 54.32h0.7M58.64 49.56h0.7M60.62 61.78h0.7M62.05 51.34h0.7M57.61 38.14h0.7M57.86 35.11h0.7M57.76 38.48h0.7M57.96 38.77h0.7M60.36 46.72h0.7M55.96 38.89h0.7M61.54 53.65h0.7M62.64 55.2h0.7M59.59 45.98h0.7M61.42 52.32h0.7M58.42 41.29h0.7M57.21 35.73h0.7M61.17 60.38h0.7M58.85 51.01h0.7M62.74 55.88h0.7M60.2 54.86h0.7M60.77 48.82h0.7M60.61 56.04h0.7M59.05 56.72h0.7M62.51 54.92h0.7M61.69 57.28h0.7M56.9 35.59h0.7M60.42 59h0.7M62.34 60.61h0.7M59.75 48.17h0.7M61.78 52.62h0.7M59.88 43.22h0.7M59.13 50.94h0.7M58.72 35.26h0.7M61.9 56.29h0.7M61.11 63.72h0.7M61.87 47.52h0.7M59.02 56.2h0.7M58.63 49.72h0.7M59.17 55.32h0.7M61.53 61.32h0.7M57.65 47.42h0.7M61.84 50.34h0.7M63.14 59.82h0.7M59.54 42.94h0.7M55.84 33.42h0.7M63.46 56.47h0.7M57.94 47.14h0.7M64.52 57.19h0.7M55.25 36.16h0.7M59.44 53h0.7M62.55 49.65h0.7M57.13 40.5h0.7M59.2 36.53h0.7M62.67 59.56h0.7M59.59 63.11h0.7M60.12 63.7h0.7M55.81 35.91h0.7M56.39 37.05h0.7M60.32 55.4h0.7M61.98 60.7h0.7M58.4 49.1h0.7M58.92 49.25h0.7M55.57 37.83h0.7M64.35 57.85h0.7"/><path id="D_pl_4" d="M59.1 48.91h0.7M60.73 53.24h0.7M62.55 59.41h0.7M57.61 45.17h0.7M57.5 47.44h0.7M56.08 38.96h0.7M59.71 52.68h0.7M59.65 55.73h0.7M62.01 57h0.7M57.72 34.22h0.7M60.15 60.56h0.7M62.8 56.74h0.7M64.39 55.74h0.7M63.16 61.02h0.7M63.13 54.05h0.7M59.19 40.84h0.7"/><path id="D_pl_5" d="M59.73 47.11h0.7M58.18 45.11h0.7M63.86 58.91h0.7M60.61 61.62h0.7M60.51 48.4h0.7M58.73 48.73h0.7M60.13 47.88h0.7M57.53 41.5h0.7M58.18 35.43h0.7M61.91 58.94h0.7M62.48 57.68h0.7M57.3 41.27h0.7M60.04 56.25h0.7M61.48 60.32h0.7M58.03 34.63h0.7M60.36 53.06h0.7M56.16 37.04h0.7M58.34 40.6h0.7M58.65 44.98h0.7M62.37 51.72h0.7M57.51 41.72h0.7M58.39 47.16h0.7M58.15 48.8h0.7M58.71 46.96h0.7M61.78 50.78h0.7M57.93 37.71h0.7M58.53 40.15h0.7M60.08 46.93h0.7M61.66 55.18h0.7M60.02 56.03h0.7M57.6 35.11h0.7M59.76 44.05h0.7M60.37 61.63h0.7M60.03 42.45h0.7M55.43 34.08h0.7M57.23 33.62h0.7M63.68 56.81h0.7M58.76 35.8h0.7M61.04 41.95h0.7M60.21 64.83h0.7M56.65 34.86h0.7M59.03 53.56h0.7M60.24 62.36h0.7M62.77 53.86h0.7M59.28 53.29h0.7"/><path id="P_pr" d="M59.5 34.3L61.2 35L67.1 39.6L70.8 46.4L71.3 54.7L70.2 57.5L68.4 54.7L67.6 47.2L64.6 42L60.8 37.6Z"/><path id="D_pr_0" d="M69.67 48.1h0.7"/><path id="D_pr_2" d="M62.98 41.19h0.7M65.1 43.74h0.7M66.29 45.72h0.7"/><path id="D_pr_3" d="M62.77 39.15h0.7M67.15 41.39h0.7M69.27 51.14h0.7M65.54 43.85h0.7M69.06 52.28h0.7M68.42 52.69h0.7M68.57 50.41h0.7M67.44 42.11h0.7M67.97 45.58h0.7M62.79 38.77h0.7M64.44 38.78h0.7M66.48 45.87h0.7M63.91 40.15h0.7M68.41 49.83h0.7M60.6 36.18h0.7M68.97 47.12h0.7M70.58 50.52h0.7M70.01 55.23h0.7M70.52 49.21h0.7M67.76 49.85h0.7M68.82 55.45h0.7M69.77 52.45h0.7M67.94 42.28h0.7M67.41 47.78h0.7M69.03 47.73h0.7M69.39 53.18h0.7M68.23 49.55h0.7M69.23 48.59h0.7M60.69 35.27h0.7M68.72 51.4h0.7M69.58 50.96h0.7M70.57 55.41h0.7M66.69 44.11h0.7M70.08 56.98h0.7M70.05 49.56h0.7M66.81 42.33h0.7M67.91 44.35h0.7M63.49 37.38h0.7M65.29 41.6h0.7M69.03 48.8h0.7M67.15 43.08h0.7M67.11 43.86h0.7M59.95 35.74h0.7M68.2 46.95h0.7M68.57 43.75h0.7M68.15 55.12h0.7M61.19 38.13h0.7M72.21 53.09h0.7M59.88 34.71h0.7M60.41 34.17h0.7M64.13 41.98h0.7M59.26 34.2h0.7M65.31 38.25h0.7M67.16 38.33h0.7M70.85 56.91h0.7M71.09 56.03h0.7M69.89 54.09h0.7M60.33 37.78h0.7M69.03 56.69h0.7M70.97 55.19h0.7M67.6 42.76h0.7M70.28 44.82h0.7M71.51 52.44h0.7M67.31 47.45h0.7M67.84 55.02h0.7M59.39 35.01h0.7M59.71 34.13h0.7M66.82 39.62h0.7"/><path id="D_pr_4" d="M65.74 38.59h0.7M59.68 35.97h0.7M70.34 47.71h0.7M66.25 44.14h0.7M69.65 46.51h0.7M70.42 47.01h0.7M60.88 36.41h0.7M59.36 35.42h0.7M69.31 44.43h0.7M60.1 36.2h0.7M70.93 54.23h0.7M70.66 56.5h0.7M67.99 49.35h0.7"/><path id="D_pr_5" d="M68.99 49.06h0.7M62.51 36.55h0.7M69.23 53.89h0.7M63.62 36.6h0.7M65.96 39.89h0.7M67.87 47.59h0.7M61.37 38.26h0.7M69.71 50.65h0.7M70.21 51.11h0.7M67.68 50.81h0.7M67.54 49.35h0.7M63.22 38.16h0.7M64.84 41.24h0.7M62.17 38.62h0.7M62.19 40.08h0.7M69.13 54.58h0.7M69.96 51.91h0.7M70.37 47.04h0.7M68.77 45.28h0.7M68.53 49.18h0.7M69.62 54.33h0.7M59.56 35.18h0.7M69.95 57.55h0.7M70.68 51.78h0.7M70.22 56.61h0.7M70.11 56.7h0.7M68.04 55.82h0.7M63.78 36.41h0.7M63.54 40.74h0.7M60.51 35.55h0.7M65.6 51.48h0.7M71.35 46.51h0.7"/><path id="P_or" d="M82 18.3L86.2 17.8L90.2 17.2L92 18.7L93.4 23.2L95.6 27L92.9 28.1L89.8 29.5L87.6 32.2L86.2 34.9L83.7 36.4L82.6 33.5L82.6 27.7L82.2 21.9Z"/><path id="D_or_3" d="M85.27 21.62h0.7M86.24 21.92h0.7M84.62 30.08h0.7M83.93 35.22h0.7M86 25.92h0.7M83.54 25.24h0.7M85.65 27.71h0.7M86.1 33.48h0.7M85.6 21.4h0.7M82.89 26.91h0.7M87.6 24.23h0.7M89.13 28.2h0.7M86.44 30.94h0.7M92.54 24.09h0.7M93.11 23.95h0.7M85.64 27.6h0.7M83.1 32.4h0.7M81.94 28.64h0.7M82.63 29.02h0.7M86.39 31.21h0.7M90.2 28.58h0.7M90.36 22.77h0.7M83.63 17.62h0.7M90.54 23.49h0.7M94.05 24.94h0.7M92.15 21.83h0.7M84.42 23.13h0.7M86.06 19.59h0.7M85.27 24.56h0.7M86.24 20.08h0.7M84.94 28.31h0.7M86.99 29.92h0.7M89.74 23.44h0.7M92.7 24.02h0.7M86.03 30.02h0.7M87.34 19.12h0.7M84.64 20.34h0.7M84.58 17.67h0.7M87.07 28.03h0.7M82.41 33.91h0.7M92.26 25.23h0.7M92.62 25.04h0.7M83.31 32.95h0.7M83.1 30.68h0.7M87.32 19.93h0.7M89.58 25.39h0.7M86.91 25.08h0.7M86.58 32.12h0.7M93.27 22.59h0.7M91.5 22.76h0.7M84.51 35.66h0.7M87.32 28.19h0.7M85.66 18.82h0.7M85.47 22.56h0.7M90.55 24.08h0.7M85.78 18.48h0.7M83.07 34.49h0.7M91.73 19.12h0.7M87.44 18.01h0.7M86.71 30.35h0.7M81.13 21.97h0.7M91.02 29.87h0.7M90.81 30.08h0.7M90.84 18.99h0.7M92.33 17.42h0.7M81.22 19.35h0.7"/><path id="D_or_4" d="M84.18 24.2h0.7M89.68 25.99h0.7M90.17 18.39h0.7M86.28 19.94h0.7M91.45 19.79h0.7M82.54 25.58h0.7M89.89 21.26h0.7M85.74 24.25h0.7M81.7 26.97h0.7M92.56 21.81h0.7M92.01 22.56h0.7"/><path id="D_or_5" d="M89.12 26.86h0.7M88.67 30.12h0.7M93.25 28.12h0.7M88.47 26.74h0.7M82.99 28.36h0.7M89.19 27.94h0.7M91.63 26.45h0.7M87.73 31.9h0.7M87.37 18.13h0.7M89.29 23.56h0.7M83.79 19.82h0.7M85.55 17.8h0.7M82.53 32.98h0.7M89.61 27.96h0.7M86.4 20.1h0.7M88.51 31.42h0.7M91.09 22.2h0.7M89.23 17.75h0.7M91.26 22.9h0.7M82.54 18.72h0.7M87.2 20.69h0.7M86.38 24.13h0.7M84.75 31.21h0.7M85.29 24.91h0.7M88.35 29.99h0.7M85.12 21.83h0.7M91.39 19.69h0.7M86.23 32.9h0.7M90.2 27.47h0.7M86.57 17.94h0.7M84.35 25.57h0.7M82.5 21.66h0.7M86.61 30.75h0.7M84.44 28.41h0.7M92.57 26.38h0.7M81.8 18.1h0.7M90.46 22.39h0.7M84.99 21.77h0.7M82.75 24.96h0.7M82.77 27.28h0.7M88.63 21.81h0.7M85.26 22.79h0.7M86.55 28.78h0.7M92.2 22.88h0.7M92.82 23.35h0.7M90.34 28.44h0.7M84.66 21.34h0.7M85.23 18.79h0.7M83.99 27.19h0.7M86.87 23.01h0.7M87.36 27.2h0.7M86.61 20.24h0.7M85.77 26.54h0.7M86.86 25.92h0.7M90.88 21.77h0.7M93.77 25.06h0.7M83.22 21.13h0.7M85.08 35.44h0.7M86.99 28.95h0.7M83.51 27.98h0.7M81.73 30.01h0.7M90.17 20.06h0.7M85.09 18.08h0.7M94.49 26.62h0.7M89.47 24.5h0.7M82.73 35.17h0.7M83.02 20.23h0.7M94.06 23.52h0.7M83.65 18.69h0.7M92.4 22.47h0.7M82.14 17.18h0.7M93.2 27.04h0.7M92.87 20.15h0.7M85.18 35.29h0.7M93.69 26.71h0.7M82.35 30.16h0.7M92.8 28.44h0.7M93.46 27.92h0.7M87.99 33.17h0.7M81.85 32.86h0.7M92.61 28.51h0.7M94.35 24.05h0.7M88.28 17.79h0.7M92.4 28.71h0.7M91.43 17.37h0.7"/><path id="P_rd" d="M131.1 105.9L134 103L138.9 102L142.8 98.6L145.7 97.6L150.5 94.2L152.5 93.7L153 97.6L157.3 100.1L159.8 101L157.3 104.4L155.4 107.4L156.4 108.8L151.5 109.3L148.6 112.2L147.6 117.1L144.7 118.5L141.8 117.1L140.8 113.2L136.9 109.3L133 107.8Z"/><path id="D_rd_3" d="M135.04 104.65h0.7M144.27 115.44h0.7M145.46 98.32h0.7M154.48 105.63h0.7M148.17 106.57h0.7M148.06 112.57h0.7M146.86 112.69h0.7M148.43 105.56h0.7M140.02 103.82h0.7M149.13 108.02h0.7M143.41 98.77h0.7M149.68 108.91h0.7M134.81 103.78h0.7M145.8 116.03h0.7M144.45 117.89h0.7M147.71 113.35h0.7M151.99 94.75h0.7M132.81 105.45h0.7M150.55 97.14h0.7M150.34 99.95h0.7M139.74 105.56h0.7M147.33 107.21h0.7M147.03 95.85h0.7M152.05 101.26h0.7M144.16 116.11h0.7M156.67 104.78h0.7M151.8 102.8h0.7M149.63 96.11h0.7M135.45 107.12h0.7M143.65 117.48h0.7M141.01 110.33h0.7M148.68 95.65h0.7M151.53 94.65h0.7M147.18 109h0.7M148.84 95.33h0.7M131.61 106.7h0.7M146.56 108.47h0.7M155.83 99.3h0.7M143.97 102.73h0.7M151.16 101.29h0.7M146.42 112.95h0.7M149.3 104.7h0.7M146.06 106.81h0.7M149.21 109.97h0.7M143.49 108.89h0.7M147.1 108.52h0.7M141.33 108.09h0.7M145.21 103.56h0.7M150.36 109.53h0.7M148.04 114.02h0.7M145.42 102.68h0.7M146.12 110.39h0.7M143.21 109.96h0.7M143.42 100.92h0.7M157.47 104.18h0.7M151.69 108.8h0.7M143.65 112.45h0.7M149.08 105.27h0.7M144.8 107.29h0.7M142.08 100.39h0.7M157.82 99.28h0.7M144.02 97.38h0.7M138.87 111.72h0.7M155.81 105.26h0.7M141.05 117h0.7M135.82 101.89h0.7M144.71 97.5h0.7M152.26 93.49h0.7M142.27 99.09h0.7M155.58 109.68h0.7M152.39 109.85h0.7M157.02 101.56h0.7M155.7 98.95h0.7M148.22 114.76h0.7M152.81 97.48h0.7M158.43 101.71h0.7"/><path id="D_rd_4" d="M154.91 101.38h0.7M141.39 102.88h0.7M144.82 99.89h0.7M139.23 104.1h0.7M138.16 106.26h0.7M144.99 112.35h0.7M145.12 104.73h0.7M139.21 101.87h0.7M141.19 102.25h0.7M147.67 112.34h0.7M147.04 105.48h0.7M152.95 109.47h0.7M147.04 107.04h0.7M152.84 108.66h0.7M135.55 103.54h0.7M148.14 110.02h0.7M149.54 99.92h0.7M148.1 107.06h0.7M155.8 101.91h0.7M143.28 109.5h0.7M149.7 106.29h0.7M138.35 110.72h0.7M141.16 114.6h0.7M137.06 109.11h0.7M150.63 96.25h0.7M150.82 95.63h0.7M146.92 117.04h0.7M142.78 98.64h0.7"/><path id="D_rd_5" d="M145.48 101.57h0.7M149.02 102.55h0.7M139.24 103.93h0.7M140.75 105.38h0.7M141.18 106.84h0.7M136.78 103.27h0.7M139.79 104.41h0.7M146.16 113.88h0.7M154.16 104.16h0.7M141.94 103.29h0.7M147.39 97.97h0.7M146.86 107.59h0.7M143.75 98.14h0.7M152.07 105.58h0.7M142.46 101.48h0.7M149.72 104.01h0.7M142.99 103.23h0.7M149.19 106.9h0.7M147.34 108.92h0.7M134.4 104.75h0.7M143.85 116.17h0.7M141.71 104.07h0.7M132.94 106.16h0.7M151.85 97.27h0.7M148.34 98.62h0.7M156.95 103.82h0.7M136.15 107.54h0.7M143.56 116.54h0.7M151.89 106.72h0.7M149.15 96.34h0.7M143.74 113.44h0.7M139.32 104.32h0.7M138.13 103.44h0.7M136.06 108.92h0.7M150.85 95.91h0.7M143.3 110.54h0.7M145.36 114.47h0.7M142.81 104.25h0.7M135.86 103.07h0.7M148.78 98.76h0.7M139.89 103.22h0.7M141.02 105.87h0.7M150.18 100.68h0.7M142.44 100.82h0.7M144.33 105.2h0.7M147.81 102.96h0.7M142.24 105.49h0.7M151.74 105.68h0.7M154.43 99.16h0.7M143.42 110.12h0.7M134.89 105.19h0.7M139.24 109.08h0.7M150.26 107.22h0.7M153.12 100.37h0.7M153.13 106.03h0.7M134.62 103.15h0.7M137.56 110.94h0.7M150.45 95.74h0.7M154.19 106.84h0.7M147.73 108.97h0.7M152.49 99.02h0.7M144.23 102.02h0.7M138.87 109.29h0.7M152.78 103.56h0.7M140.51 111.99h0.7M144.15 112.59h0.7M138.98 109.04h0.7M146.86 102.48h0.7M151.53 105.83h0.7M150.01 109.2h0.7M148.34 113.64h0.7M154.22 100.98h0.7M145.69 99.44h0.7M146.7 109.29h0.7M151.95 99.3h0.7M147.96 108.44h0.7M132.82 107.31h0.7M148.45 96.38h0.7M142.98 99.65h0.7M137.53 107.6h0.7M146.51 111.55h0.7M158.64 101.57h0.7M154.63 99.31h0.7M144.56 108.21h0.7M147.38 98.5h0.7M147.35 115.04h0.7M139.39 107.05h0.7M144.63 110.25h0.7M143.26 112.95h0.7M143.1 106.54h0.7M155.46 105.48h0.7M138.94 111.38h0.7M152.26 103.1h0.7M135.02 108.17h0.7M155.7 101.16h0.7M156.13 103.23h0.7M137.41 110.01h0.7M151.46 93.98h0.7M153.93 102.77h0.7M152.27 101.26h0.7M146.05 114.81h0.7M149.51 98.76h0.7M155.71 102h0.7M147.92 102.37h0.7M150.35 105.88h0.7M141.07 102.28h0.7M137.11 107.06h0.7M149.34 108.45h0.7M151.63 95.07h0.7M152.14 108.32h0.7M145.06 114.84h0.7M140.36 106.97h0.7M142.47 99.44h0.7M149.62 95.27h0.7M146.58 102.39h0.7M146.93 109.06h0.7M150.17 98.05h0.7M146.73 97.96h0.7M157.35 100.82h0.7M150.43 96.17h0.7M153.96 101.12h0.7M146.27 105.61h0.7M135.3 102.52h0.7M134.23 103.98h0.7M143.5 115h0.7M150.5 110.14h0.7M149.57 97.66h0.7M148.28 105.26h0.7M142.12 98.27h0.7M148.18 100.68h0.7M134.53 107.58h0.7M151.16 98.55h0.7M141.49 108.31h0.7M144.09 99.84h0.7M143.09 102.69h0.7M148.16 106.76h0.7M144.49 117.26h0.7M146.86 99.49h0.7M143.53 105.39h0.7M142.64 111.7h0.7M153.71 105.23h0.7M154.94 101.2h0.7M146.06 106.63h0.7M139.59 105.91h0.7M140.71 111.39h0.7M143.71 107.57h0.7M145.48 110.47h0.7M154.61 106.39h0.7M149.51 100.47h0.7M150.18 107.19h0.7M152.2 107.14h0.7M153.67 106.75h0.7M144.09 100.07h0.7M150.24 101.01h0.7M152.58 104.18h0.7M132.82 107.08h0.7M141.84 100.7h0.7M146.72 114.67h0.7M146.57 112.4h0.7M154.38 99.68h0.7M148.43 111.24h0.7M140.42 109.35h0.7M143.82 102.3h0.7M154.15 101.55h0.7M152.63 108.13h0.7M139.02 106.69h0.7M157.39 102.94h0.7M138.74 104.86h0.7M150.59 97.54h0.7M152.45 108.09h0.7M133.23 105.2h0.7M136.5 104.07h0.7M149.62 105.06h0.7M152.91 101.75h0.7M151.45 99.33h0.7M146.2 98.47h0.7M152.68 102.88h0.7M140.97 105.87h0.7M146.93 104.7h0.7M142.21 101.19h0.7M133.72 103.1h0.7M159.71 100.95h0.7M153.2 110.44h0.7M131.22 105.94h0.7M141.33 117.77h0.7M158.83 100.18h0.7M138.97 112.97h0.7M140.97 114.76h0.7M140.1 113.08h0.7M138.6 102.66h0.7M132.89 103.37h0.7M156.32 109.09h0.7M146.71 96.34h0.7M133.65 102.82h0.7M150.97 109.43h0.7M138.21 102.83h0.7M151.5 95.17h0.7M158.28 103.96h0.7M158.86 100.46h0.7M149.7 94h0.7M148.78 116.32h0.7M139.32 112.55h0.7M141.72 116.26h0.7M142.04 99.54h0.7M147.11 116.71h0.7M155.89 103.84h0.7M158.62 101.43h0.7M144.84 118.32h0.7M131.15 105.91h0.7M132.75 103.29h0.7M145.07 117.73h0.7M145.06 97.84h0.7"/><path id="P_rc" d="M141 100L146 98L149 99L150 104L149 110L148 116L145 118.3L142 116.5L141 112L140.5 105Z"/><path id="D_rc_3" d="M143.27 105.65h0.7M144.02 113.58h0.7M149.07 101.29h0.7M145.4 111.3h0.7M143.17 114.8h0.7M145.97 112.63h0.7M144.11 116.17h0.7M144.67 103.4h0.7M142.07 107.8h0.7M141.39 114.1h0.7M143.57 114.31h0.7M144.06 117.11h0.7M143.96 110.63h0.7M144.28 106.12h0.7M147.04 100.25h0.7M141 110.53h0.7M142.96 109.57h0.7M145.39 103.68h0.7M142.73 102.17h0.7M143.24 104.87h0.7M143.2 113.24h0.7M143.7 111.76h0.7M141.12 110.87h0.7M142.68 100.04h0.7M146.15 110.4h0.7M145.04 116.53h0.7M143.87 115.31h0.7M142.64 100.59h0.7M148.74 107.25h0.7M141.51 99.77h0.7M139.6 101.23h0.7M142.79 99.88h0.7M141.57 117.6h0.7M139.94 102.93h0.7M143.76 116.95h0.7M146.35 118.23h0.7M144.31 118.02h0.7M143.87 118.32h0.7M147.35 113.85h0.7"/><path id="D_rc_4" d="M144.29 101.87h0.7M144.23 101.64h0.7M145.12 109.86h0.7M141.57 104.4h0.7M141.53 105.21h0.7M146.88 98.81h0.7M144.94 106.43h0.7M141.41 104.93h0.7M141.18 112.73h0.7M147.39 105.46h0.7M146.88 109.6h0.7M144.88 99.96h0.7M141.19 101.71h0.7M147.06 112h0.7M148.4 110.88h0.7M148.33 115.01h0.7M142.24 116.39h0.7M148.38 102.02h0.7"/><path id="D_rc_5" d="M144.8 105.55h0.7M140.82 111.01h0.7M144.71 100.18h0.7M145.34 101.02h0.7M148.05 100.63h0.7M142.47 102.6h0.7M144.71 113.19h0.7M146.97 100.32h0.7M141.39 101.09h0.7M143.52 103.8h0.7M146.09 98.02h0.7M141.73 105.05h0.7M141.74 104.38h0.7M147.54 101.34h0.7M143.61 104.96h0.7M147.65 108.83h0.7M141.47 111.34h0.7M141.65 115.81h0.7M141.91 103.28h0.7M143.93 110.05h0.7M146.45 112.63h0.7M143.16 108.92h0.7M149.58 103.44h0.7M143.73 111.51h0.7M143.93 112.32h0.7M143.26 100.59h0.7M145.05 109.27h0.7M143.73 109.72h0.7M142.59 106.57h0.7M144.52 100.33h0.7M148.53 102.21h0.7M144.91 114.1h0.7M142.05 111.1h0.7M146.59 110.2h0.7M148.11 99.34h0.7M146.96 103.35h0.7M145.37 117.32h0.7M145.76 108.22h0.7M142.46 109.55h0.7M140.58 101.52h0.7M148.5 103.83h0.7M144.68 106.16h0.7M143.05 112.61h0.7M146.13 101.69h0.7M142.15 113.07h0.7M143.85 114.34h0.7M146.94 99.82h0.7M141.95 114.51h0.7M147.17 107.15h0.7M141.81 104.57h0.7M145.82 116.46h0.7M144.31 105h0.7M141.99 111.8h0.7M145.18 101.66h0.7M140.26 102.84h0.7M147.5 98.63h0.7M143 105.51h0.7M141.31 107.97h0.7M141.14 103.88h0.7M144.11 100.42h0.7M146.66 106.53h0.7M144.18 98.82h0.7M141.1 112.04h0.7M144.9 104.73h0.7M143.4 117.09h0.7M147.01 115.78h0.7M148.83 100.52h0.7M144.42 117h0.7M147.08 114.18h0.7M147.15 105.2h0.7M146.3 98.53h0.7M144.81 100.81h0.7M145.84 108.52h0.7M148.98 107.47h0.7M145.22 100.33h0.7M145.68 99.2h0.7M148.9 103.66h0.7M142.41 110.25h0.7M140.97 106.77h0.7M142.12 113.18h0.7M145.21 110.01h0.7M144.32 104.8h0.7M146.2 106.97h0.7M148.68 104.96h0.7M144.29 108.6h0.7M144.13 116.31h0.7M146.28 108.43h0.7M145.52 112.02h0.7M142.39 104.06h0.7M149.21 107.39h0.7M144.15 99.64h0.7M145.91 108.63h0.7M145.42 108.8h0.7M144.16 106.11h0.7M145.62 116.67h0.7M141.45 117.18h0.7M139.96 104.64h0.7M140.34 110.45h0.7M147.54 115.12h0.7M149.15 103.29h0.7M141.26 113.61h0.7M140.06 103.72h0.7M141.33 111.22h0.7M139.93 101.86h0.7M148.47 101.5h0.7M149.28 110.25h0.7M148.89 99.56h0.7M143.76 99.57h0.7M146.52 118.41h0.7M141.28 99.24h0.7M147.05 114.89h0.7M140.28 108.26h0.7M139.8 102.5h0.7M148.46 109.9h0.7M148.94 108.02h0.7"/><path id="P_ol" d="M106 110.3L109 109.7L112 109.3L114.4 109.5L114.6 110.4L112 110.7L109 110.8L106 110.6Z"/><path id="D_ol_3" d="M110.91 110.2h0.7M113.92 110.46h0.7M109.12 109.96h0.7M111.09 110.67h0.7M112.49 110.38h0.7M110.02 110.71h0.7M110.94 109.53h0.7M106.4 110.3h0.7M111.67 109.54h0.7M109.69 110.69h0.7M110.62 110.67h0.7M111.47 110.8h0.7"/><path id="D_ol_4" d="M112.78 110.07h0.7M106.33 110.44h0.7"/><path id="D_ol_5" d="M110.86 109.61h0.7M112.67 110.33h0.7M111.33 110.33h0.7M109.37 110.03h0.7M111.01 109.45h0.7M111.87 109.46h0.7M111.4 109.76h0.7M107.62 109.8h0.7M106.69 110.74h0.7M113.68 110.18h0.7M113.3 110.75h0.7M108.02 109.91h0.7M105.48 109.83h0.7M108.6 110.85h0.7M110.86 110.56h0.7M105.55 110.17h0.7"/><path id="P_br" d="M122.6 128.6L126 128.7L128.5 129.6L130.9 132.7L130.4 133.2L128 131L125.5 129.6L122.6 129.2Z"/><path id="D_br_3" d="M128.3 131.51h0.7M126.01 129.25h0.7M129.15 131.02h0.7M125.53 128.88h0.7M126.28 129.02h0.7M127.84 131.09h0.7M123.87 128.86h0.7M128.28 130.46h0.7M129.19 131.7h0.7M129.23 131.3h0.7M128.11 131.39h0.7M124.24 129.49h0.7M122.88 128.84h0.7M124.18 129.83h0.7M127.63 129.03h0.7M126.81 130.37h0.7M128.31 130.28h0.7M128.91 131.83h0.7M127.56 131.35h0.7M126.74 130.73h0.7M129.19 130.94h0.7"/><path id="D_br_4" d="M128.95 131.62h0.7M129.2 130.93h0.7M125.56 128.77h0.7M124.44 129.64h0.7M130.4 132.99h0.7M123.37 129.42h0.7M125.15 128.72h0.7"/><path id="D_br_5" d="M125.39 128.94h0.7M124.09 129.06h0.7M129.33 132.02h0.7M128.1 131.09h0.7M126.41 129.59h0.7M126.35 129.34h0.7M127.31 131.34h0.7M129.36 132.37h0.7M124.33 129.34h0.7M129.48 131.2h0.7"/></defs>
<g transform="translate(0 0)"><g filter="url(#fb)"><use href="#P_bs" fill="#086cba" fill-opacity="0.18"/><use href="#P_gs" fill="#009c3e" fill-opacity="0.45"/><use href="#P_bl" fill="#086cba" fill-opacity="0.8"/><use href="#P_gr" fill="#009c3e" fill-opacity="0.82"/><use href="#P_pu" fill="#a262b3" fill-opacity="0.45"/><use href="#P_pl" fill="#ff86bc" fill-opacity="0.5"/><use href="#P_pr" fill="#ff86bc" fill-opacity="0.5"/><use href="#P_or" fill="#ff8000" fill-opacity="0.35"/><use href="#P_rd" fill="#ff1f1f" fill-opacity="0.25"/><use href="#P_rc" fill="#ff1f1f" fill-opacity="0.65"/><use href="#P_ol" fill="#bdbd0a" fill-opacity="0.45"/><use href="#P_br" fill="#bb5458" fill-opacity="0.55"/></g><use href="#P_hole" fill="#fff" fill-opacity="0.45" filter="url(#fb3)"/><use href="#D_bs_0" fill="none" stroke="#086cba" stroke-width="0.7"/><use href="#D_bs_1" fill="none" stroke="#086cba" stroke-width="0.7"/><use href="#D_bs_2" fill="none" stroke="#086cba" stroke-width="0.7"/><use href="#D_bs_3" fill="none" stroke="#086cba" stroke-width="0.7"/><use href="#D_bs_4" fill="none" stroke="#086cba" stroke-width="0.7"/><use href="#D_bs_5" fill="none" stroke="#086cba" stroke-width="0.7"/><use href="#D_gs_0" fill="none" stroke="#009c3e" stroke-width="0.7"/><use href="#D_gs_1" fill="none" stroke="#009c3e" stroke-width="0.7"/><use href="#D_gs_2" fill="none" stroke="#009c3e" stroke-width="0.7"/><use href="#D_gs_3" fill="none" stroke="#009c3e" stroke-width="0.7"/><use href="#D_gs_4" fill="none" stroke="#009c3e" stroke-width="0.7"/><use href="#D_gs_5" fill="none" stroke="#009c3e" stroke-width="0.7"/><use href="#D_bl_0" fill="none" stroke="#086cba" stroke-width="0.7"/><use href="#D_bl_1" fill="none" stroke="#086cba" stroke-width="0.7"/><use href="#D_bl_2" fill="none" stroke="#086cba" stroke-width="0.7"/><use href="#D_bl_3" fill="none" stroke="#086cba" stroke-width="0.7"/><use href="#D_bl_4" fill="none" stroke="#086cba" stroke-width="0.7"/><use href="#D_bl_5" fill="none" stroke="#086cba" stroke-width="0.7"/><use href="#D_gr_0" fill="none" stroke="#009c3e" stroke-width="0.7"/><use href="#D_gr_1" fill="none" stroke="#009c3e" stroke-width="0.7"/><use href="#D_gr_2" fill="none" stroke="#009c3e" stroke-width="0.7"/><use href="#D_gr_3" fill="none" stroke="#009c3e" stroke-width="0.7"/><use href="#D_gr_4" fill="none" stroke="#009c3e" stroke-width="0.7"/><use href="#D_gr_5" fill="none" stroke="#009c3e" stroke-width="0.7"/><use href="#D_cl_0" fill="none" stroke="#ff86bc" stroke-width="0.7"/><use href="#D_cl_1" fill="none" stroke="#ff86bc" stroke-width="0.7"/><use href="#D_cl_3" fill="none" stroke="#ff86bc" stroke-width="0.7"/><use href="#D_cl_4" fill="none" stroke="#ff86bc" stroke-width="0.7"/><use href="#D_cl_5" fill="none" stroke="#ff86bc" stroke-width="0.7"/><use href="#D_pu_1" fill="none" stroke="#a262b3" stroke-width="0.7"/><use href="#D_pu_2" fill="none" stroke="#a262b3" stroke-width="0.7"/><use href="#D_pu_3" fill="none" stroke="#a262b3" stroke-width="0.7"/><use href="#D_pu_4" fill="none" stroke="#a262b3" stroke-width="0.7"/><use href="#D_pu_5" fill="none" stroke="#a262b3" stroke-width="0.7"/><use href="#D_pl_0" fill="none" stroke="#ff86bc" stroke-width="0.7"/><use href="#D_pl_2" fill="none" stroke="#ff86bc" stroke-width="0.7"/><use href="#D_pl_3" fill="none" stroke="#ff86bc" stroke-width="0.7"/><use href="#D_pl_4" fill="none" stroke="#ff86bc" stroke-width="0.7"/><use href="#D_pl_5" fill="none" stroke="#ff86bc" stroke-width="0.7"/><use href="#D_pr_0" fill="none" stroke="#ff86bc" stroke-width="0.7"/><use href="#D_pr_2" fill="none" stroke="#ff86bc" stroke-width="0.7"/><use href="#D_pr_3" fill="none" stroke="#ff86bc" stroke-width="0.7"/><use href="#D_pr_4" fill="none" stroke="#ff86bc" stroke-width="0.7"/><use href="#D_pr_5" fill="none" stroke="#ff86bc" stroke-width="0.7"/><use href="#D_or_3" fill="none" stroke="#ff8000" stroke-width="0.7"/><use href="#D_or_4" fill="none" stroke="#ff8000" stroke-width="0.7"/><use href="#D_or_5" fill="none" stroke="#ff8000" stroke-width="0.7"/><use href="#D_rd_3" fill="none" stroke="#ff1f1f" stroke-width="0.7"/><use href="#D_rd_4" fill="none" stroke="#ff1f1f" stroke-width="0.7"/><use href="#D_rd_5" fill="none" stroke="#ff1f1f" stroke-width="0.7"/><use href="#D_rc_3" fill="none" stroke="#ff1f1f" stroke-width="0.7"/><use href="#D_rc_4" fill="none" stroke="#ff1f1f" stroke-width="0.7"/><use href="#D_rc_5" fill="none" stroke="#ff1f1f" stroke-width="0.7"/><use href="#D_ol_3" fill="none" stroke="#bdbd0a" stroke-width="0.7"/><use href="#D_ol_4" fill="none" stroke="#bdbd0a" stroke-width="0.7"/><use href="#D_ol_5" fill="none" stroke="#bdbd0a" stroke-width="0.7"/><use href="#D_br_3" fill="none" stroke="#bb5458" stroke-width="0.7"/><use href="#D_br_4" fill="none" stroke="#bb5458" stroke-width="0.7"/><use href="#D_br_5" fill="none" stroke="#bb5458" stroke-width="0.7"/></g>
<circle cx="42.4" cy="87.6" r="0.7" fill="#a262b3"/>
<g transform="translate(252.3 0.1)"><g filter="url(#fb)"><use href="#P_bs" fill="#aa5357" fill-opacity="0.14"/><use href="#P_gs" fill="#935678" fill-opacity="0.36"/><use href="#P_bl" fill="#d23b3b" fill-opacity="0.64"/><use href="#P_gr" fill="#b55071" fill-opacity="0.66"/><use href="#P_pu" fill="#db3a42" fill-opacity="0.36"/><use href="#P_pl" fill="#db3a42" fill-opacity="0.4"/><use href="#P_pr" fill="#db3a42" fill-opacity="0.4"/><use href="#P_or" fill="#db3b43" fill-opacity="0.28"/><use href="#P_rd" fill="#ca4851" fill-opacity="0.2"/><use href="#P_rc" fill="#ca4851" fill-opacity="0.52"/><use href="#P_ol" fill="#db3a42" fill-opacity="0.36"/><use href="#P_br" fill="#db3a42" fill-opacity="0.44"/></g><g clip-path="url(#cblue)"><g filter="url(#fb3)"><ellipse cx="33" cy="118" rx="6" ry="12" fill="#0067ab" fill-opacity="0.45"/><ellipse cx="42" cy="104" rx="7.5" ry="5.25" fill="#0067ab" fill-opacity="0.36"/><ellipse cx="55" cy="143" rx="18" ry="6" fill="#ff8000" fill-opacity="0.24"/><ellipse cx="80" cy="128" rx="9" ry="10.5" fill="#009c3e" fill-opacity="0.33"/><ellipse cx="56" cy="111" rx="7.5" ry="15" fill="#ff1f1f" fill-opacity="0.5"/><ellipse cx="30" cy="105" rx="3.75" ry="7.5" fill="#ff1f1f" fill-opacity="0.24"/><ellipse cx="68" cy="95" rx="12" ry="9" fill="#a262b3" fill-opacity="0.27"/></g></g><g clip-path="url(#cgreen)"><g filter="url(#fb3)"><ellipse cx="50" cy="71" rx="8" ry="12" fill="#ff1f1f" fill-opacity="0.55"/><ellipse cx="69" cy="76" rx="6" ry="12" fill="#a262b3" fill-opacity="0.45"/></g></g><use href="#P_hole" fill="#fff" fill-opacity="0.45" filter="url(#fb3)"/><use href="#D_bs_0" fill="none" stroke="#0067ab" stroke-width="0.7"/><use href="#D_bs_1" fill="none" stroke="#ff8000" stroke-width="0.7"/><use href="#D_bs_2" fill="none" stroke="#009c3e" stroke-width="0.7"/><use href="#D_bs_3" fill="none" stroke="#ff1f1f" stroke-width="0.7"/><use href="#D_bs_4" fill="none" stroke="#a262b3" stroke-width="0.7"/><use href="#D_bs_5" fill="none" stroke="#bb5458" stroke-width="0.7"/><use href="#D_gs_0" fill="none" stroke="#0067ab" stroke-width="0.7"/><use href="#D_gs_1" fill="none" stroke="#ff8000" stroke-width="0.7"/><use href="#D_gs_2" fill="none" stroke="#009c3e" stroke-width="0.7"/><use href="#D_gs_3" fill="none" stroke="#ff1f1f" stroke-width="0.7"/><use href="#D_gs_4" fill="none" stroke="#a262b3" stroke-width="0.7"/><use href="#D_gs_5" fill="none" stroke="#bb5458" stroke-width="0.7"/><use href="#D_bl_0" fill="none" stroke="#0067ab" stroke-width="0.7"/><use href="#D_bl_1" fill="none" stroke="#ff8000" stroke-width="0.7"/><use href="#D_bl_2" fill="none" stroke="#009c3e" stroke-width="0.7"/><use href="#D_bl_3" fill="none" stroke="#ff1f1f" stroke-width="0.7"/><use href="#D_bl_4" fill="none" stroke="#a262b3" stroke-width="0.7"/><use href="#D_bl_5" fill="none" stroke="#bb5458" stroke-width="0.7"/><use href="#D_gr_0" fill="none" stroke="#0067ab" stroke-width="0.7"/><use href="#D_gr_1" fill="none" stroke="#ff8000" stroke-width="0.7"/><use href="#D_gr_2" fill="none" stroke="#009c3e" stroke-width="0.7"/><use href="#D_gr_3" fill="none" stroke="#ff1f1f" stroke-width="0.7"/><use href="#D_gr_4" fill="none" stroke="#a262b3" stroke-width="0.7"/><use href="#D_gr_5" fill="none" stroke="#bb5458" stroke-width="0.7"/><use href="#D_cl_0" fill="none" stroke="#0067ab" stroke-width="0.7"/><use href="#D_cl_1" fill="none" stroke="#ff8000" stroke-width="0.7"/><use href="#D_cl_3" fill="none" stroke="#ff1f1f" stroke-width="0.7"/><use href="#D_cl_4" fill="none" stroke="#a262b3" stroke-width="0.7"/><use href="#D_cl_5" fill="none" stroke="#bb5458" stroke-width="0.7"/><use href="#D_pu_1" fill="none" stroke="#ff8000" stroke-width="0.7"/><use href="#D_pu_2" fill="none" stroke="#009c3e" stroke-width="0.7"/><use href="#D_pu_3" fill="none" stroke="#ff1f1f" stroke-width="0.7"/><use href="#D_pu_4" fill="none" stroke="#a262b3" stroke-width="0.7"/><use href="#D_pu_5" fill="none" stroke="#bb5458" stroke-width="0.7"/><use href="#D_pl_0" fill="none" stroke="#0067ab" stroke-width="0.7"/><use href="#D_pl_2" fill="none" stroke="#009c3e" stroke-width="0.7"/><use href="#D_pl_3" fill="none" stroke="#ff1f1f" stroke-width="0.7"/><use href="#D_pl_4" fill="none" stroke="#a262b3" stroke-width="0.7"/><use href="#D_pl_5" fill="none" stroke="#bb5458" stroke-width="0.7"/><use href="#D_pr_0" fill="none" stroke="#0067ab" stroke-width="0.7"/><use href="#D_pr_2" fill="none" stroke="#009c3e" stroke-width="0.7"/><use href="#D_pr_3" fill="none" stroke="#ff1f1f" stroke-width="0.7"/><use href="#D_pr_4" fill="none" stroke="#a262b3" stroke-width="0.7"/><use href="#D_pr_5" fill="none" stroke="#bb5458" stroke-width="0.7"/><use href="#D_or_3" fill="none" stroke="#ff1f1f" stroke-width="0.7"/><use href="#D_or_4" fill="none" stroke="#a262b3" stroke-width="0.7"/><use href="#D_or_5" fill="none" stroke="#bb5458" stroke-width="0.7"/><use href="#D_rd_3" fill="none" stroke="#ff1f1f" stroke-width="0.7"/><use href="#D_rd_4" fill="none" stroke="#a262b3" stroke-width="0.7"/><use href="#D_rd_5" fill="none" stroke="#bb5458" stroke-width="0.7"/><use href="#D_rc_3" fill="none" stroke="#ff1f1f" stroke-width="0.7"/><use href="#D_rc_4" fill="none" stroke="#a262b3" stroke-width="0.7"/><use href="#D_rc_5" fill="none" stroke="#bb5458" stroke-width="0.7"/><use href="#D_ol_3" fill="none" stroke="#ff1f1f" stroke-width="0.7"/><use href="#D_ol_4" fill="none" stroke="#a262b3" stroke-width="0.7"/><use href="#D_ol_5" fill="none" stroke="#bb5458" stroke-width="0.7"/><use href="#D_br_3" fill="none" stroke="#ff1f1f" stroke-width="0.7"/><use href="#D_br_4" fill="none" stroke="#a262b3" stroke-width="0.7"/><use href="#D_br_5" fill="none" stroke="#bb5458" stroke-width="0.7"/></g>
<g transform="translate(461.1 -2.8)"><g filter="url(#fb)"><use href="#P_bs" fill="#b37933" fill-opacity="0.14"/><use href="#P_gs" fill="#b87930" fill-opacity="0.36"/><use href="#P_bl" fill="#d57c1c" fill-opacity="0.64"/><use href="#P_gr" fill="#e47d12" fill-opacity="0.66"/><use href="#P_pu" fill="#f77f05" fill-opacity="0.36"/><use href="#P_pl" fill="#f77f05" fill-opacity="0.4"/><use href="#P_pr" fill="#f77f05" fill-opacity="0.4"/><use href="#P_or" fill="#ff8000" fill-opacity="0.28"/><use href="#P_rd" fill="#ff8000" fill-opacity="0.2"/><use href="#P_rc" fill="#ff8000" fill-opacity="0.52"/><use href="#P_ol" fill="#f77f05" fill-opacity="0.36"/><use href="#P_br" fill="#f77f05" fill-opacity="0.44"/></g><g clip-path="url(#cblue)"><g filter="url(#fb3)"><ellipse cx="33" cy="118" rx="6" ry="12" fill="#0067ab" fill-opacity="0.65"/><ellipse cx="42" cy="104" rx="7.5" ry="5" fill="#0067ab" fill-opacity="0.55"/><ellipse cx="55" cy="143" rx="18" ry="6" fill="#0067ab" fill-opacity="0.5"/><ellipse cx="80" cy="128" rx="9" ry="10.5" fill="#0067ab" fill-opacity="0.65"/><ellipse cx="56" cy="111" rx="7.5" ry="15" fill="#ff8000" fill-opacity="0.75"/><ellipse cx="30" cy="105" rx="3.75" ry="7.5" fill="#ff8000" fill-opacity="0.4"/><ellipse cx="68" cy="95" rx="12" ry="9" fill="#ff8000" fill-opacity="0.5"/></g></g><use href="#P_hole" fill="#fff" fill-opacity="0.45" filter="url(#fb3)"/><use href="#D_bs_0" fill="none" stroke="#0067ab" stroke-width="0.7"/><use href="#D_bs_1" fill="none" stroke="#0067ab" stroke-width="0.7"/><use href="#D_bs_2" fill="none" stroke="#0067ab" stroke-width="0.7"/><use href="#D_bs_3" fill="none" stroke="#ff8000" stroke-width="0.7"/><use href="#D_bs_4" fill="none" stroke="#ff8000" stroke-width="0.7"/><use href="#D_bs_5" fill="none" stroke="#ff8000" stroke-width="0.7"/><use href="#D_gs_0" fill="none" stroke="#0067ab" stroke-width="0.7"/><use href="#D_gs_1" fill="none" stroke="#0067ab" stroke-width="0.7"/><use href="#D_gs_2" fill="none" stroke="#0067ab" stroke-width="0.7"/><use href="#D_gs_3" fill="none" stroke="#ff8000" stroke-width="0.7"/><use href="#D_gs_4" fill="none" stroke="#ff8000" stroke-width="0.7"/><use href="#D_gs_5" fill="none" stroke="#ff8000" stroke-width="0.7"/><use href="#D_bl_0" fill="none" stroke="#0067ab" stroke-width="0.7"/><use href="#D_bl_1" fill="none" stroke="#0067ab" stroke-width="0.7"/><use href="#D_bl_2" fill="none" stroke="#0067ab" stroke-width="0.7"/><use href="#D_bl_3" fill="none" stroke="#ff8000" stroke-width="0.7"/><use href="#D_bl_4" fill="none" stroke="#ff8000" stroke-width="0.7"/><use href="#D_bl_5" fill="none" stroke="#ff8000" stroke-width="0.7"/><use href="#D_gr_0" fill="none" stroke="#0067ab" stroke-width="0.7"/><use href="#D_gr_1" fill="none" stroke="#0067ab" stroke-width="0.7"/><use href="#D_gr_2" fill="none" stroke="#0067ab" stroke-width="0.7"/><use href="#D_gr_3" fill="none" stroke="#ff8000" stroke-width="0.7"/><use href="#D_gr_4" fill="none" stroke="#ff8000" stroke-width="0.7"/><use href="#D_gr_5" fill="none" stroke="#ff8000" stroke-width="0.7"/><use href="#D_cl_0" fill="none" stroke="#0067ab" stroke-width="0.7"/><use href="#D_cl_1" fill="none" stroke="#0067ab" stroke-width="0.7"/><use href="#D_cl_3" fill="none" stroke="#ff8000" stroke-width="0.7"/><use href="#D_cl_4" fill="none" stroke="#ff8000" stroke-width="0.7"/><use href="#D_cl_5" fill="none" stroke="#ff8000" stroke-width="0.7"/><use href="#D_pu_1" fill="none" stroke="#0067ab" stroke-width="0.7"/><use href="#D_pu_2" fill="none" stroke="#0067ab" stroke-width="0.7"/><use href="#D_pu_3" fill="none" stroke="#ff8000" stroke-width="0.7"/><use href="#D_pu_4" fill="none" stroke="#ff8000" stroke-width="0.7"/><use href="#D_pu_5" fill="none" stroke="#ff8000" stroke-width="0.7"/><use href="#D_pl_0" fill="none" stroke="#0067ab" stroke-width="0.7"/><use href="#D_pl_2" fill="none" stroke="#0067ab" stroke-width="0.7"/><use href="#D_pl_3" fill="none" stroke="#ff8000" stroke-width="0.7"/><use href="#D_pl_4" fill="none" stroke="#ff8000" stroke-width="0.7"/><use href="#D_pl_5" fill="none" stroke="#ff8000" stroke-width="0.7"/><use href="#D_pr_0" fill="none" stroke="#0067ab" stroke-width="0.7"/><use href="#D_pr_2" fill="none" stroke="#0067ab" stroke-width="0.7"/><use href="#D_pr_3" fill="none" stroke="#ff8000" stroke-width="0.7"/><use href="#D_pr_4" fill="none" stroke="#ff8000" stroke-width="0.7"/><use href="#D_pr_5" fill="none" stroke="#ff8000" stroke-width="0.7"/><use href="#D_or_3" fill="none" stroke="#ff8000" stroke-width="0.7"/><use href="#D_or_4" fill="none" stroke="#ff8000" stroke-width="0.7"/><use href="#D_or_5" fill="none" stroke="#ff8000" stroke-width="0.7"/><use href="#D_rd_3" fill="none" stroke="#ff8000" stroke-width="0.7"/><use href="#D_rd_4" fill="none" stroke="#ff8000" stroke-width="0.7"/><use href="#D_rd_5" fill="none" stroke="#ff8000" stroke-width="0.7"/><use href="#D_rc_3" fill="none" stroke="#ff8000" stroke-width="0.7"/><use href="#D_rc_4" fill="none" stroke="#ff8000" stroke-width="0.7"/><use href="#D_rc_5" fill="none" stroke="#ff8000" stroke-width="0.7"/><use href="#D_ol_3" fill="none" stroke="#ff8000" stroke-width="0.7"/><use href="#D_ol_4" fill="none" stroke="#ff8000" stroke-width="0.7"/><use href="#D_ol_5" fill="none" stroke="#ff8000" stroke-width="0.7"/><use href="#D_br_3" fill="none" stroke="#ff8000" stroke-width="0.7"/><use href="#D_br_4" fill="none" stroke="#ff8000" stroke-width="0.7"/><use href="#D_br_5" fill="none" stroke="#ff8000" stroke-width="0.7"/></g>
<rect x="329.2" y="238.6" width="269.4" height="85.7" fill="none" stroke="#222" stroke-width="0.6"/>
<text x="324.8" y="249.8" font-size="4.5" fill="#222" text-anchor="end" textLength="30.98" lengthAdjust="spacingAndGlyphs">Chondrocytes</text>
<text x="324.8" y="259.37" font-size="4.5" fill="#222" text-anchor="end" textLength="13.24" lengthAdjust="spacingAndGlyphs">TCells</text>
<text x="324.8" y="268.94" font-size="4.5" fill="#222" text-anchor="end" textLength="8.86" lengthAdjust="spacingAndGlyphs">MPs</text>
<text x="324.8" y="278.51" font-size="4.5" fill="#222" text-anchor="end" textLength="26.11" lengthAdjust="spacingAndGlyphs">Osteoclasts</text>
<text x="324.8" y="288.08" font-size="4.5" fill="#222" text-anchor="end" textLength="8.33" lengthAdjust="spacingAndGlyphs">ECs</text>
<text x="324.8" y="297.65" font-size="4.5" fill="#222" text-anchor="end" textLength="55.6" lengthAdjust="spacingAndGlyphs">ProliferatingStromalCells</text>
<text x="324.8" y="307.22" font-size="4.5" fill="#222" text-anchor="end" textLength="24.19" lengthAdjust="spacingAndGlyphs">Fibroblasts</text>
<text x="324.8" y="316.79" font-size="4.5" fill="#222" text-anchor="end" textLength="23.35" lengthAdjust="spacingAndGlyphs">MuralCells</text>
<text transform="translate(341.4 329.2) rotate(-90)" font-size="4.4" fill="#222" text-anchor="end" textLength="17.52" lengthAdjust="spacingAndGlyphs">C2orf40</text>
<text transform="translate(352.17 329.2) rotate(-90)" font-size="4.4" fill="#222" text-anchor="end" textLength="9.86" lengthAdjust="spacingAndGlyphs">MGP</text>
<text transform="translate(362.94 329.2) rotate(-90)" font-size="4.4" fill="#222" text-anchor="end" textLength="16.94" lengthAdjust="spacingAndGlyphs">FGFBP2</text>
<text transform="translate(373.71 329.2) rotate(-90)" font-size="4.4" fill="#222" text-anchor="end" textLength="11.4" lengthAdjust="spacingAndGlyphs">CCL5</text>
<text transform="translate(384.48 329.2) rotate(-90)" font-size="4.4" fill="#222" text-anchor="end" textLength="12.06" lengthAdjust="spacingAndGlyphs">CD52</text>
<text transform="translate(395.25 329.2) rotate(-90)" font-size="4.4" fill="#222" text-anchor="end" textLength="12.06" lengthAdjust="spacingAndGlyphs">CD69</text>
<text transform="translate(406.02 329.2) rotate(-90)" font-size="4.4" fill="#222" text-anchor="end" textLength="12.06" lengthAdjust="spacingAndGlyphs">CD74</text>
<text transform="translate(416.79 329.2) rotate(-90)" font-size="4.4" fill="#222" text-anchor="end" textLength="11.4" lengthAdjust="spacingAndGlyphs">CCL4</text>
<text transform="translate(427.56 329.2) rotate(-90)" font-size="4.4" fill="#222" text-anchor="end" textLength="19.64" lengthAdjust="spacingAndGlyphs">HLA-DRA</text>
<text transform="translate(438.33 329.2) rotate(-90)" font-size="4.4" fill="#222" text-anchor="end" textLength="11.46" lengthAdjust="spacingAndGlyphs">ACP5</text>
<text transform="translate(449.1 329.2) rotate(-90)" font-size="4.4" fill="#222" text-anchor="end" textLength="13.05" lengthAdjust="spacingAndGlyphs">MMP9</text>
<text transform="translate(459.87 329.2) rotate(-90)" font-size="4.4" fill="#222" text-anchor="end" textLength="11.44" lengthAdjust="spacingAndGlyphs">CTSK</text>
<text transform="translate(470.64 329.2) rotate(-90)" font-size="4.4" fill="#222" text-anchor="end" textLength="17.6" lengthAdjust="spacingAndGlyphs">COL4A1</text>
<text transform="translate(481.41 329.2) rotate(-90)" font-size="4.4" fill="#222" text-anchor="end" textLength="13.01" lengthAdjust="spacingAndGlyphs">PLVAP</text>
<text transform="translate(492.18 329.2) rotate(-90)" font-size="4.4" fill="#222" text-anchor="end" textLength="18.11" lengthAdjust="spacingAndGlyphs">PECAM1</text>
<text transform="translate(502.95 329.2) rotate(-90)" font-size="4.4" fill="#222" text-anchor="end" textLength="15.37" lengthAdjust="spacingAndGlyphs">STMN1</text>
<text transform="translate(513.72 329.2) rotate(-90)" font-size="4.4" fill="#222" text-anchor="end" textLength="14.61" lengthAdjust="spacingAndGlyphs">TOP2A</text>
<text transform="translate(524.49 329.2) rotate(-90)" font-size="4.4" fill="#222" text-anchor="end" textLength="17.75" lengthAdjust="spacingAndGlyphs">TUBA1B</text>
<text transform="translate(535.26 329.2) rotate(-90)" font-size="4.4" fill="#222" text-anchor="end" textLength="14.89" lengthAdjust="spacingAndGlyphs">POSTN</text>
<text transform="translate(546.03 329.2) rotate(-90)" font-size="4.4" fill="#222" text-anchor="end" textLength="17.6" lengthAdjust="spacingAndGlyphs">COL1A1</text>
<text transform="translate(556.8 329.2) rotate(-90)" font-size="4.4" fill="#222" text-anchor="end" textLength="15.84" lengthAdjust="spacingAndGlyphs">MMP13</text>
<text transform="translate(567.57 329.2) rotate(-90)" font-size="4.4" fill="#222" text-anchor="end" textLength="13.05" lengthAdjust="spacingAndGlyphs">MMP9</text>
<text transform="translate(578.34 329.2) rotate(-90)" font-size="4.4" fill="#222" text-anchor="end" textLength="12.06" lengthAdjust="spacingAndGlyphs">RGS5</text>
<text transform="translate(589.11 329.2) rotate(-90)" font-size="4.4" fill="#222" text-anchor="end" textLength="14.16" lengthAdjust="spacingAndGlyphs">ACTA2</text>
<path d="M327 248.3H329.2 M327 257.87H329.2 M327 267.44H329.2 M327 277.01H329.2 M327 286.58H329.2 M327 296.15H329.2 M327 305.72H329.2 M327 315.29H329.2 M339.9 324.3V326.5 M350.67 324.3V326.5 M361.44 324.3V326.5 M372.21 324.3V326.5 M382.98 324.3V326.5 M393.75 324.3V326.5 M404.52 324.3V326.5 M415.29 324.3V326.5 M426.06 324.3V326.5 M436.83 324.3V326.5 M447.6 324.3V326.5 M458.37 324.3V326.5 M469.14 324.3V326.5 M479.91 324.3V326.5 M490.68 324.3V326.5 M501.45 324.3V326.5 M512.22 324.3V326.5 M522.99 324.3V326.5 M533.76 324.3V326.5 M544.53 324.3V326.5 M555.3 324.3V326.5 M566.07 324.3V326.5 M576.84 324.3V326.5 M587.61 324.3V326.5" stroke="#222" stroke-width="0.5" fill="none"/>
<text transform="translate(352.57 232.3) rotate(-90)" font-size="5.45" fill="#222" textLength="37.51" lengthAdjust="spacingAndGlyphs">Chondrocytes</text>
<text transform="translate(384.88 232.3) rotate(-90)" font-size="5.45" fill="#222" textLength="16.04" lengthAdjust="spacingAndGlyphs">TCells</text>
<text transform="translate(417.19 232.3) rotate(-90)" font-size="5.45" fill="#222" textLength="10.73" lengthAdjust="spacingAndGlyphs">MPs</text>
<text transform="translate(449.5 232.3) rotate(-90)" font-size="5.45" fill="#222" textLength="31.62" lengthAdjust="spacingAndGlyphs">Osteoclasts</text>
<text transform="translate(481.81 232.3) rotate(-90)" font-size="5.45" fill="#222" textLength="10.09" lengthAdjust="spacingAndGlyphs">ECs</text>
<text transform="translate(514.12 232.3) rotate(-90)" font-size="5.45" fill="#222" textLength="67.33" lengthAdjust="spacingAndGlyphs">ProliferatingStromalCells</text>
<text transform="translate(546.43 232.3) rotate(-90)" font-size="5.45" fill="#222" textLength="29.3" lengthAdjust="spacingAndGlyphs">Fibroblasts</text>
<text transform="translate(578.74 232.3) rotate(-90)" font-size="5.45" fill="#222" textLength="28.28" lengthAdjust="spacingAndGlyphs">MuralCells</text>
<path d="M336.17 238.6V235H363.37V238.6 M368.48 238.6V235H395.68V238.6 M400.79 238.6V235H427.99V238.6 M433.1 238.6V235H460.3V238.6 M465.41 238.6V235H492.61V238.6 M497.72 238.6V235H524.92V238.6 M530.03 238.6V235H557.23V238.6 M562.34 238.6V235H589.54V238.6" stroke="#222" stroke-width="0.55" fill="none"/>
<path d="M598.6 248H621.6V279.3H614.7 M614.7 264.6V294.5 M614.7 264.6H611.6 M598.6 257.5H611.6V272.1H608.8 M598.6 267.5H608.8V276.3H598.6 M614.7 294.5H612.6 M598.6 286.5H612.6V295.4H598.6 M612 295.4V310.3H606.6 M598.6 305.3H606.6V315.1H598.6" stroke="#444" stroke-width="0.6" fill="none"/>
<path d="M339.5 252.2L339.3 251.2L337.5 250.2L336.2 249.2L335.8 248.2L336.4 247.3L337.7 246.4L338.9 245.6L339.9 245.1L339.9 245.1L340.9 245.6L342.1 246.4L343.4 247.3L344 248.2L343.6 249.2L342.3 250.2L340.5 251.2L340.3 252.2ZM350.17 252.2L349.97 251L349.37 249.7L348.87 248.2L347.87 247.2L346.77 246.4L346.47 245.6L347.07 244.8L349.47 244.1L351.87 244.1L354.27 244.8L354.87 245.6L354.57 246.4L353.47 247.2L352.47 248.2L351.97 249.7L351.37 251L351.17 252.2ZM361.04 252.2L360.84 251.4L359.84 250.4L358.04 249.4L357.24 248.7L358.64 248.1L360.44 247.4L361.04 246.7L361.44 246L361.44 246L361.84 246.7L362.44 247.4L364.24 248.1L365.64 248.7L364.84 249.4L363.04 250.4L362.04 251.4L361.84 252.2ZM458.07 252.2L457.87 251.2L457.47 250.4L457.57 249.6L458.07 248.8L458.67 248.8L459.17 249.6L459.27 250.4L458.87 251.2L458.67 252.2ZM522.49 252.2L522.29 251.4L521.39 250.7L520.69 250L521.19 249.3L522.59 248.6L523.39 248.6L524.79 249.3L525.29 250L524.59 250.7L523.69 251.4L523.49 252.2ZM533.16 252.2L533.16 251.6L533.26 250.9L533.46 250.2L534.06 250.2L534.26 250.9L534.36 251.6L534.36 252.2ZM543.93 252.2L543.63 251.6L543.73 250.7L544.23 250L544.83 250L545.33 250.7L545.43 251.6L545.13 252.2Z" fill="#0067ab" stroke="#00548c" stroke-width="0.3"/>
<path d="M372.21 252.2V247.2M382.98 252.2V247.7M393.75 252.2V247.2M404.52 252.2V247.2M415.29 252.2V246.2M426.06 252.2V247.7M436.83 252.2V247.7M447.6 252.2V246.2M458.37 249V247.7M469.14 252.2V247.7M479.91 252.2V248.2M490.68 252.2V248.2M501.45 252.2V247.7M512.22 252.2V248.2M522.99 248.8V247.2M533.76 250.4V246.2M544.53 250.2V244.2M555.3 252.2V247.2M566.07 252.2V246.2M576.84 252.2V248.7M587.61 252.2V248.2" stroke="#517a95" stroke-width="0.42" fill="none"/>
<path d="M336.5 252.05H343.3M347.27 252.05H354.07M358.04 252.05H364.84M368.61 252.05H375.81M379.38 252.05H386.58M390.15 252.05H397.35M400.92 252.05H408.12M411.69 252.05H418.89M422.46 252.05H429.66M433.23 252.05H440.43M444 252.05H451.2M454.97 252.05H461.77M465.54 252.05H472.74M476.31 252.05H483.51M487.08 252.05H494.28M497.85 252.05H505.05M508.62 252.05H515.82M519.59 252.05H526.39M530.36 252.05H537.16M541.13 252.05H547.93M551.7 252.05H558.9M562.47 252.05H569.67M573.24 252.05H580.44M584.01 252.05H591.21" stroke="#517a95" stroke-width="0.45" stroke-opacity="0.7" fill="none"/>
<path d="M335.9 261.8L337.02 261.4L338.1 260.9L339.18 258.5L339.85 255.8L339.95 255.8L340.62 258.5L341.7 260.9L342.78 261.4L343.9 261.8ZM346.47 261.8L346.47 261L346.67 260.2L347.07 259.4L347.87 258.8L348.87 258.3L349.47 257.6L349.67 256.8L349.97 255.8L350.67 254.3L350.67 254.3L351.37 255.8L351.67 256.8L351.87 257.6L352.47 258.3L353.47 258.8L354.27 259.4L354.67 260.2L354.87 261L354.87 261.8ZM357.94 261.8L359.94 261.4L360.74 260.9L360.64 259.8L360.54 259.1L360.94 258.3L361.44 257.8L361.44 257.8L361.94 258.3L362.34 259.1L362.24 259.8L362.14 260.9L362.94 261.4L364.94 261.8ZM368.41 261.8L368.81 261.3L370.41 260.7L370.71 259.8L369.61 258.8L368.11 258L368.01 257L369.01 256.2L371.81 255.8L372.61 255.8L375.41 256.2L376.41 257L376.31 258L374.81 258.8L373.71 259.8L374.01 260.7L375.61 261.3L376.01 261.8ZM380.98 261.8L381.78 261.2L382.18 260.3L381.98 259.3L379.68 258.4L378.78 257.8L378.98 256.9L381.98 256.4L383.98 256.4L386.98 256.9L387.18 257.8L386.28 258.4L383.98 259.3L383.78 260.3L384.18 261.2L384.98 261.8ZM390.15 261.8L391.25 261.3L392.45 260.8L392.55 257.5L392.95 256.8L393.75 256.2L393.75 256.2L394.55 256.8L394.95 257.5L395.05 260.8L396.25 261.3L397.35 261.8ZM400.72 261.8L401.02 261.2L402.12 260.5L401.52 259.6L401.92 258.8L402.92 258L403.52 257.3L404.02 256.3L404.52 255.3L404.52 255.3L405.02 256.3L405.52 257.3L406.12 258L407.12 258.8L407.52 259.6L406.92 260.5L408.02 261.2L408.32 261.8ZM411.29 261.8L412.29 261.3L413.29 260.8L414.09 259.8L414.59 257.8L414.84 255.8L415.29 254.3L415.29 254.3L415.74 255.8L415.99 257.8L416.49 259.8L417.29 260.8L418.29 261.3L419.29 261.8ZM422.56 261.8L424.86 261.4L425.46 260.9L425.26 259.6L425.16 258.8L425.76 258.2L426.36 258.2L426.96 258.8L426.86 259.6L426.66 260.9L427.26 261.4L429.56 261.8ZM465.64 261.8L468.14 261.4L468.64 260.8L468.54 259L468.84 258.4L469.44 258.4L469.74 259L469.64 260.8L470.14 261.4L472.64 261.8ZM497.95 261.8L500.45 261.3L500.65 260.8L500.65 257.8L501.45 257.5L501.45 257.5L502.25 257.8L502.25 260.8L502.45 261.3L504.95 261.8ZM518.99 261.8L519.79 261.3L521.39 260.7L521.49 260L520.39 259.3L520.09 258.6L520.19 257.5L521.19 256.8L522.69 256.3L523.29 256.3L524.79 256.8L525.79 257.5L525.89 258.6L525.59 259.3L524.49 260L524.59 260.7L526.19 261.3L526.99 261.8ZM529.76 261.8L530.26 261.3L531.16 260.6L530.96 260L529.96 259.5L529.76 258.9L530.56 258.5L533.76 258.2L533.76 258.2L536.96 258.5L537.76 258.9L537.56 259.5L536.56 260L536.36 260.6L537.26 261.3L537.76 261.8ZM540.33 261.8L540.73 261.2L540.93 260.3L540.93 259.3L541.63 258.3L542.53 257.5L543.93 256.8L545.13 256.8L546.53 257.5L547.43 258.3L548.13 259.3L548.13 260.3L548.33 261.2L548.73 261.8ZM552.3 261.8L554.3 261.4L554.7 260.8L554.5 260L555 259.3L555.6 259.3L556.1 260L555.9 260.8L556.3 261.4L558.3 261.8ZM563.07 261.8L564.87 261.4L565.27 260.8L565.07 259.8L565.27 259L566.07 258.3L566.07 258.3L566.87 259L567.07 259.8L566.87 260.8L567.27 261.4L569.07 261.8Z" fill="#ff8000" stroke="#d16800" stroke-width="0.3"/>
<path d="M436.83 261.8V259.3M447.6 261.8V258.8M458.37 261.8V258.8M469.14 258.6V257.8M479.91 261.8V258.8M490.68 261.8V258.8M512.22 261.8V261.4M576.84 261.8V261.5M587.61 261.8V259.3" stroke="#b78451" stroke-width="0.42" fill="none"/>
<path d="M379.58 261.65H386.38M433.63 261.65H440.03M444.4 261.65H450.8M455.17 261.65H461.57M476.41 261.65H483.41M487.18 261.65H494.18M508.62 261.65H515.82M573.24 261.65H580.44M584.41 261.65H590.81" stroke="#b78451" stroke-width="0.45" stroke-opacity="0.7" fill="none"/>
<path d="M336.1 271.4L337.7 271.1L338.4 270.4L339.1 269.6L339.6 268.9L340.2 268.9L340.7 269.6L341.4 270.4L342.1 271.1L343.7 271.4ZM346.87 271.4L348.47 271L348.47 270.4L348.37 269.7L349.47 268.9L350.37 268.4L350.97 268.4L351.87 268.9L352.97 269.7L352.87 270.4L352.87 271L354.47 271.4ZM404.22 272.2L403.92 271.4L403.72 269.9L403.02 268.9L401.52 267.9L400.42 267.1L400.92 266.4L402.52 265.6L404.22 264.9L404.82 264.9L406.52 265.6L408.12 266.4L408.62 267.1L407.52 267.9L406.02 268.9L405.32 269.9L405.12 271.4L404.82 272.2ZM411.69 271.4L411.99 270.9L413.49 270.2L413.79 269.2L412.99 268.4L412.79 267.4L413.09 266.4L413.99 265.4L414.99 264.7L415.59 264.7L416.59 265.4L417.49 266.4L417.79 267.4L417.59 268.4L416.79 269.2L417.09 270.2L418.59 270.9L418.89 271.4ZM424.86 271.4L425.46 270.7L425.26 269.9L423.56 268.7L422.26 267.9L422.66 267.2L424.56 266.4L425.76 265.9L426.36 265.9L427.56 266.4L429.46 267.2L429.86 267.9L428.56 268.7L426.86 269.9L426.66 270.7L427.26 271.4ZM433.33 271.4L434.23 271L435.23 270.4L434.73 269.4L435.03 268.4L436.03 267.7L436.83 267.3L436.83 267.3L437.63 267.7L438.63 268.4L438.93 269.4L438.43 270.4L439.43 271L440.33 271.4ZM444.1 271.4L445.08 271L446.02 270.5L446.97 268.38L447.55 265.9L447.65 265.9L448.23 268.38L449.17 270.5L450.12 271L451.1 271.4ZM488.48 271.4L489.1 271L489.69 270.5L490.28 269.09L490.63 267.2L490.73 267.2L491.08 269.09L491.67 270.5L492.26 271L492.88 271.4ZM498.65 271.4L499.43 271L500.19 270.5L500.95 268.65L501.4 266.4L501.5 266.4L501.95 268.65L502.71 270.5L503.47 271L504.25 271.4ZM521.99 271.4L521.99 270.9L521.19 270.1L519.49 269.1L518.69 268.4L519.39 267.7L521.19 266.9L522.69 266.4L523.29 266.4L524.79 266.9L526.59 267.7L527.29 268.4L526.49 269.1L524.79 270.1L523.99 270.9L523.99 271.4ZM530.16 271.4L531.17 271L532.14 270.5L533.11 268.1L533.71 265.4L533.81 265.4L534.41 268.1L535.38 270.5L536.35 271L537.36 271.4ZM541.03 271.4L540.23 270.8L542.03 270.1L542.93 269.4L543.43 268.4L543.93 266.9L544.53 265.4L544.53 265.4L545.13 266.9L545.63 268.4L546.13 269.4L547.03 270.1L548.83 270.8L548.03 271.4ZM553.1 271.4L553.72 271L554.31 270.5L554.9 268.65L555.25 266.4L555.35 266.4L555.7 268.65L556.29 270.5L556.88 271L557.5 271.4ZM562.47 271.4L563.47 270.9L564.07 270.4L564.77 269.4L565.47 268.4L566.67 268.4L567.37 269.4L568.07 270.4L568.67 270.9L569.67 271.4Z" fill="#009c3e" stroke="#007f32" stroke-width="0.3"/>
<path d="M339.9 269.1V264.4M350.67 268.6V263.4M361.44 271.4V265.4M372.21 271.4V265.9M382.98 271.4V265.9M393.75 271.4V265.9M447.6 266.1V264.4M458.37 271.4V266.4M469.14 271.4V266.9M479.91 271.4V266.9M512.22 271.4V266.9M566.07 268.6V263.9M576.84 271.4V266.4M587.61 271.4V266.4" stroke="#518f69" stroke-width="0.42" fill="none"/>
<path d="M357.94 271.25H364.94M368.61 271.25H375.81M379.38 271.25H386.58M390.15 271.25H397.35M401.12 271.25H407.92M422.66 271.25H429.46M455.37 271.25H461.37M465.54 271.25H472.74M476.31 271.25H483.51M487.28 271.25H494.08M508.62 271.25H515.82M519.59 271.25H526.39M551.9 271.25H558.7M573.24 271.25H580.44M584.01 271.25H591.21" stroke="#518f69" stroke-width="0.45" stroke-opacity="0.7" fill="none"/>
<path d="M336.1 281L337.16 280.6L338.19 280.1L339.22 279.62L339.85 278.5L339.95 278.5L340.58 279.62L341.61 280.1L342.64 280.6L343.7 281ZM346.47 281L347.67 280.6L348.87 280L349.67 279L350.27 278L351.07 278L351.67 279L352.47 280L353.67 280.6L354.87 281ZM358.24 281L359.14 280.6L360 280.1L360.86 279.9L361.39 279L361.49 279L362.02 279.9L362.88 280.1L363.74 280.6L364.64 281ZM400.72 281L401.92 280.5L402.72 279.8L403.42 278.8L404.02 277.5L404.52 276.7L404.52 276.7L405.02 277.5L405.62 278.8L406.32 279.8L407.12 280.5L408.32 281ZM412.09 281L412.99 280.6L413.85 280.1L414.71 280.18L415.24 279.5L415.34 279.5L415.87 280.18L416.73 280.1L417.59 280.6L418.49 281ZM423.06 281L423.9 280.6L424.71 280.1L425.52 280.18L426.01 279.5L426.11 279.5L426.6 280.18L427.41 280.1L428.22 280.6L429.06 281ZM436.53 281L436.43 278.5L436.03 277L434.83 276L433.23 275.2L432.73 274.5L433.43 273.9L435.83 273.5L437.83 273.5L440.23 273.9L440.93 274.5L440.43 275.2L438.83 276L437.63 277L437.23 278.5L437.13 281ZM447.3 281L447.2 278.5L446.6 277L445.1 276L443.7 275L443.3 274.3L443.8 273.6L446.1 273.1L449.1 273.1L451.4 273.6L451.9 274.3L451.5 275L450.1 276L448.6 277L448 278.5L447.9 281ZM458.07 281L457.87 279L457.17 277.5L455.77 276.5L454.47 275.5L454.17 274.7L455.37 274L457.37 273.6L459.37 273.6L461.37 274L462.57 274.7L462.27 275.5L460.97 276.5L459.57 277.5L458.87 279L458.67 281ZM466.14 281L466.98 280.6L467.79 280.1L468.6 280.34L469.09 279.8L469.19 279.8L469.68 280.34L470.49 280.1L471.3 280.6L472.14 281ZM498.45 281L499.29 280.6L500.1 280.1L500.91 280.01L501.4 279.2L501.5 279.2L501.99 280.01L502.8 280.1L503.61 280.6L504.45 281ZM521.69 281L521.99 280L521.39 279L519.19 278.4L519.19 277.6L521.39 277L521.99 276.2L522.99 275.7L522.99 275.7L523.99 276.2L524.59 277L526.79 277.6L526.79 278.4L524.59 279L523.99 280L524.29 281ZM529.96 281L530.36 280.5L530.96 279.7L532.16 279L532.66 278.2L533.76 277.4L533.76 277.4L534.86 278.2L535.36 279L536.56 279.7L537.16 280.5L537.56 281ZM540.33 281L540.63 280.3L541.63 279.5L542.93 278.5L543.53 277.5L544.03 276L544.53 275L544.53 275L545.03 276L545.53 277.5L546.13 278.5L547.43 279.5L548.43 280.3L548.73 281ZM552.7 281L553.43 280.6L554.13 280.1L554.83 280.18L555.25 279.5L555.35 279.5L555.77 280.18L556.47 280.1L557.17 280.6L557.9 281ZM565.77 281L565.67 278L565.07 276.5L563.57 275.5L562.27 274.7L561.77 274L562.17 273.2L564.57 272.5L567.57 272.5L569.97 273.2L570.37 274L569.87 274.7L568.57 275.5L567.07 276.5L566.47 278L566.37 281Z" fill="#ff1f1f" stroke="#d11919" stroke-width="0.3"/>
<path d="M339.9 278.7V273.5M350.67 278.2V273M361.44 279.2V275M372.21 281V279.5M382.98 281V279.5M393.75 281V280M415.29 279.7V277.5M426.06 279.7V278M469.14 280V278.5M479.91 281V280M490.68 281V279.5M501.45 279.4V278M512.22 281V280M555.3 279.7V277M576.84 281V280M587.61 281V278" stroke="#b75d5d" stroke-width="0.42" fill="none"/>
<path d="M369.21 280.85H375.21M379.98 280.85H385.98M390.75 280.85H396.75M433.43 280.85H440.23M444.2 280.85H451M454.97 280.85H461.77M476.91 280.85H482.91M487.68 280.85H493.68M509.22 280.85H515.22M519.59 280.85H526.39M562.67 280.85H569.47M573.84 280.85H579.84M584.61 280.85H590.61" stroke="#b75d5d" stroke-width="0.45" stroke-opacity="0.7" fill="none"/>
<path d="M336.4 290.6L337.38 290.2L338.32 289.7L339.27 289.77L339.85 289.1L339.95 289.1L340.53 289.77L341.47 289.7L342.42 290.2L343.4 290.6ZM347.47 290.6L349.07 290.1L348.67 289.4L348.17 288.3L348.57 287.1L349.47 285.8L350.27 284.6L350.67 283.8L350.67 283.8L351.07 284.6L351.87 285.8L352.77 287.1L353.17 288.3L352.67 289.4L352.27 290.1L353.87 290.6ZM358.14 290.6L359.06 290.2L359.95 289.7L360.85 289.77L361.39 289.1L361.49 289.1L362.03 289.77L362.93 289.7L363.82 290.2L364.74 290.6ZM401.02 290.6L402 290.2L402.94 289.7L403.89 289.5L404.47 288.6L404.57 288.6L405.15 289.5L406.09 289.7L407.04 290.2L408.02 290.6ZM444.1 290.6L445.08 290.2L446.02 289.7L446.97 289.77L447.55 289.1L447.65 289.1L448.23 289.77L449.17 289.7L450.12 290.2L451.1 290.6ZM467.94 290.6L468.34 290L468.34 289.1L467.74 288.1L465.94 287.1L464.94 286.3L465.34 285.6L467.14 284.9L468.84 284.4L469.44 284.4L471.14 284.9L472.94 285.6L473.34 286.3L472.34 287.1L470.54 288.1L469.94 289.1L469.94 290L470.34 290.6ZM477.71 290.6L478.91 290L478.91 289.1L477.91 288.1L476.31 287.3L475.71 286.6L476.31 285.8L478.91 285.1L480.91 285.1L483.51 285.8L484.11 286.6L483.51 287.3L481.91 288.1L480.91 289.1L480.91 290L482.11 290.6ZM488.48 290.6L489.68 290L489.68 289.1L488.68 288.1L487.08 287.3L486.48 286.6L487.08 285.8L489.68 285.1L491.68 285.1L494.28 285.8L494.88 286.6L494.28 287.3L492.68 288.1L491.68 289.1L491.68 290L492.88 290.6ZM499.25 290.6L499.87 290.2L500.46 289.7L501.05 287.57L501.4 285.1L501.5 285.1L501.85 287.57L502.44 289.7L503.03 290.2L503.65 290.6ZM519.49 290.6L520.39 290.1L519.69 289.3L519.49 288.1L520.39 286.9L521.39 285.8L522.49 284.9L522.99 284.4L522.99 284.4L523.49 284.9L524.59 285.8L525.59 286.9L526.49 288.1L526.29 289.3L525.59 290.1L526.49 290.6ZM531.16 290.6L532.16 290L532.46 289.1L532.76 287.6L533.16 286.1L533.76 284.1L533.76 284.1L534.36 286.1L534.76 287.6L535.06 289.1L535.36 290L536.36 290.6ZM540.33 290.6L540.93 290L541.53 289.1L542.13 288.1L542.73 287.1L543.33 286.1L543.93 284.6L544.53 283.1L544.53 283.1L545.13 284.6L545.73 286.1L546.33 287.1L546.93 288.1L547.53 289.1L548.13 290L548.73 290.6ZM564.07 290.6L564.63 290.2L565.17 289.7L565.71 290.05L566.02 289.6L566.12 289.6L566.43 290.05L566.97 289.7L567.51 290.2L568.07 290.6Z" fill="#a262b3" stroke="#845092" stroke-width="0.3"/>
<path d="M339.9 289.3V283.6M361.44 289.3V283.6M372.21 290.6V287.1M382.98 290.6V287.1M393.75 290.6V288.1M404.52 288.8V284.6M415.29 290.6V285.6M426.06 290.6V285.6M436.83 290.6V285.6M447.6 289.3V282.1M458.37 290.6V285.6M512.22 290.6V285.6M555.3 290.6V285.6M566.07 289.8V282.6M576.84 290.6V285.6M587.61 290.6V284.6" stroke="#917898" stroke-width="0.42" fill="none"/>
<path d="M368.61 290.45H375.81M379.38 290.45H386.58M390.15 290.45H397.35M411.69 290.45H418.89M422.46 290.45H429.66M433.23 290.45H440.43M454.77 290.45H461.97M465.74 290.45H472.54M476.51 290.45H483.31M487.28 290.45H494.08M498.05 290.45H504.85M508.62 290.45H515.82M551.7 290.45H558.9M562.67 290.45H569.47M573.24 290.45H580.44M584.01 290.45H591.21" stroke="#917898" stroke-width="0.45" stroke-opacity="0.7" fill="none"/>
<path d="M336.3 300.2L337.1 299.7L338.1 298.9L338.7 297.9L339.3 296.7L339.6 295.2L340.2 295.2L340.5 296.7L341.1 297.9L341.7 298.9L342.7 299.7L343.5 300.2ZM346.47 300.2L346.67 299.4L347.87 298.6L348.67 297.7L349.47 296.7L350.07 295.7L350.37 294.7L350.97 294.7L351.27 295.7L351.87 296.7L352.67 297.7L353.47 298.6L354.67 299.4L354.87 300.2ZM358.84 300.2L359.57 299.8L360.27 299.3L360.97 299.54L361.39 299L361.49 299L361.91 299.54L362.61 299.3L363.31 299.8L364.04 300.2ZM401.02 300.2L402 299.8L402.94 299.3L403.89 299.1L404.47 298.2L404.57 298.2L405.15 299.1L406.09 299.3L407.04 299.8L408.02 300.2ZM411.79 300.2L412.77 299.8L413.71 299.3L414.66 298.99L415.24 298L415.34 298L415.92 298.99L416.86 299.3L417.81 299.8L418.79 300.2ZM443.6 300.2L444.72 299.8L445.8 299.3L446.88 299.1L447.55 298.2L447.65 298.2L448.32 299.1L449.4 299.3L450.48 299.8L451.6 300.2ZM454.37 300.2L455.17 299.6L456.37 298.7L457.17 297.7L457.77 296.7L458.37 295.2L458.37 295.2L458.97 296.7L459.57 297.7L460.37 298.7L461.57 299.6L462.37 300.2ZM466.14 300.2L466.98 299.8L467.79 299.3L468.6 299.38L469.09 298.7L469.19 298.7L469.68 299.38L470.49 299.3L471.3 299.8L472.14 300.2ZM499.95 300.2L500.45 299.4L500.65 298.4L499.45 297.6L497.15 296.8L499.05 296L501.15 295.2L501.75 295.2L503.85 296L505.75 296.8L503.45 297.6L502.25 298.4L502.45 299.4L502.95 300.2ZM507.92 300.2L508.22 299.6L508.42 298.7L508.92 297.7L509.62 296.9L510.42 296.2L511.72 295.7L512.72 295.7L514.02 296.2L514.82 296.9L515.52 297.7L516.02 298.7L516.22 299.6L516.52 300.2ZM522.19 300.2L522.39 299.2L522.39 297.2L521.99 295.7L519.49 294.9L518.69 294.5L519.39 294L522.49 293.6L523.49 293.6L526.59 294L527.29 294.5L526.49 294.9L523.99 295.7L523.59 297.2L523.59 299.2L523.79 300.2ZM532.96 300.2L532.56 299.2L531.36 297.7L530.16 296.2L529.56 295L530.26 294.2L532.26 293.4L533.76 293L533.76 293L535.26 293.4L537.26 294.2L537.96 295L537.36 296.2L536.16 297.7L534.96 299.2L534.56 300.2ZM543.73 300.2L543.23 299.5L541.53 298.2L540.53 296.9L540.33 295.9L540.93 294.7L542.53 293.6L544.23 292.7L544.83 292.7L546.53 293.6L548.13 294.7L548.73 295.9L548.53 296.9L547.53 298.2L545.83 299.5L545.33 300.2ZM551.8 300.2L552.78 299.8L553.72 299.3L554.67 299.1L555.25 298.2L555.35 298.2L555.93 299.1L556.88 299.3L557.82 299.8L558.8 300.2ZM562.57 300.2L563.55 299.8L564.49 299.3L565.44 299.38L566.02 298.7L566.12 298.7L566.7 299.38L567.64 299.3L568.59 299.8L569.57 300.2ZM585.11 300.2L585.81 299.8L586.48 299.3L587.16 299.54L587.56 299L587.66 299L588.06 299.54L588.73 299.3L589.41 299.8L590.11 300.2Z" fill="#bb5458" stroke="#994448" stroke-width="0.3"/>
<path d="M339.9 295.4V292.2M350.67 294.9V292.2M361.44 299.2V294.2M372.21 300.2V296.2M382.98 300.2V298.2M393.75 300.2V298.2M404.52 298.4V295.2M415.29 298.2V295.7M426.06 300.2V296.2M436.83 300.2V296.2M447.6 298.4V292.2M469.14 298.9V295.2M479.91 300.2V295.2M490.68 300.2V296.2M555.3 298.4V293.2M566.07 298.9V293.2M576.84 300.2V295.2M587.61 299.2V295.2" stroke="#9b7274" stroke-width="0.42" fill="none"/>
<path d="M368.61 300.05H375.81M379.38 300.05H386.58M390.15 300.05H397.35M422.46 300.05H429.66M433.23 300.05H440.43M476.31 300.05H483.51M487.08 300.05H494.28M498.05 300.05H504.85M519.59 300.05H526.39M530.36 300.05H537.16M541.13 300.05H547.93M573.24 300.05H580.44" stroke="#9b7274" stroke-width="0.45" stroke-opacity="0.7" fill="none"/>
<path d="M336.3 309.8L337.1 309.3L337.9 308.6L338.7 307.6L339.3 306.6L339.7 305.3L340.1 305.3L340.5 306.6L341.1 307.6L341.9 308.6L342.7 309.3L343.5 309.8ZM346.47 309.8L347.07 309.2L347.07 308.5L348.27 307.6L349.07 306.8L349.67 305.8L350.17 304.8L350.67 303.3L350.67 303.3L351.17 304.8L351.67 305.8L352.27 306.8L353.07 307.6L354.27 308.5L354.27 309.2L354.87 309.8ZM358.84 309.8L359.57 309.4L360.27 308.9L360.97 309.14L361.39 308.6L361.49 308.6L361.91 309.14L362.61 308.9L363.31 309.4L364.04 309.8ZM401.52 309.8L402.36 309.4L403.17 308.9L403.98 308.97L404.47 308.3L404.57 308.3L405.06 308.97L405.87 308.9L406.68 309.4L407.52 309.8ZM412.29 309.8L413.13 309.4L413.94 308.9L414.75 308.97L415.24 308.3L415.34 308.3L415.83 308.97L416.64 308.9L417.45 309.4L418.29 309.8ZM444.4 309.8L445.3 309.4L446.16 308.9L447.02 309.08L447.55 308.5L447.65 308.5L448.18 309.08L449.04 308.9L449.9 309.4L450.8 309.8ZM455.77 309.8L454.57 309.3L454.07 308.6L454.37 307.8L455.57 307L457.87 306.3L458.87 306.3L461.17 307L462.37 307.8L462.67 308.6L462.17 309.3L460.97 309.8ZM499.25 309.8L499.87 309.4L500.46 308.9L501.05 307.05L501.4 304.8L501.5 304.8L501.85 307.05L502.44 308.9L503.03 309.4L503.65 309.8ZM521.99 309.8L521.69 309.2L519.79 308.3L518.69 307.5L519.19 306.6L520.99 305.9L522.69 305.5L523.29 305.5L524.99 305.9L526.79 306.6L527.29 307.5L526.19 308.3L524.29 309.2L523.99 309.8ZM533.26 309.8L533.16 308.8L532.46 307.8L531.56 306.8L530.56 305.8L529.76 304.8L529.56 303.8L531.26 303.2L533.46 302.8L534.06 302.8L536.26 303.2L537.96 303.8L537.76 304.8L536.96 305.8L535.96 306.8L535.06 307.8L534.36 308.8L534.26 309.8ZM544.03 309.8L543.73 309.1L542.73 308L541.53 306.8L540.53 305.5L540.23 304.5L541.13 303.6L544.03 302.8L545.03 302.8L547.93 303.6L548.83 304.5L548.53 305.5L547.53 306.8L546.33 308L545.33 309.1L545.03 309.8ZM552.1 309.8L553.1 309.3L553.8 308.6L554.4 307.3L554.8 305.3L555.3 302.8L555.3 302.8L555.8 305.3L556.2 307.3L556.8 308.6L557.5 309.3L558.5 309.8ZM563.57 309.8L564.27 309.4L564.94 308.9L565.62 309.25L566.02 308.8L566.12 308.8L566.52 309.25L567.19 308.9L567.87 309.4L568.57 309.8Z" fill="#ff86bc" stroke="#d16d9a" stroke-width="0.3"/>
<path d="M339.9 305.5V304.8M350.67 303.5V302.8M361.44 308.8V305.3M372.21 309.8V305.8M382.98 309.8V307.8M393.75 309.8V307.3M404.52 308.5V305.8M415.29 308.5V305.8M426.06 309.8V306.3M436.83 309.8V306.3M447.6 308.7V302.8M469.14 309.8V304.8M479.91 309.8V306.8M490.68 309.8V306.8M512.22 309.8V306.8M566.07 309V302.8M576.84 309.8V306.8M587.61 309.8V305.8" stroke="#b7869c" stroke-width="0.42" fill="none"/>
<path d="M368.61 309.65H375.81M379.38 309.65H386.58M390.15 309.65H397.35M422.46 309.65H429.66M433.23 309.65H440.43M465.54 309.65H472.74M476.31 309.65H483.51M487.08 309.65H494.28M498.05 309.65H504.85M508.62 309.65H515.82M519.59 309.65H526.39M530.36 309.65H537.16M541.13 309.65H547.93M573.24 309.65H580.44M584.01 309.65H591.21" stroke="#b7869c" stroke-width="0.45" stroke-opacity="0.7" fill="none"/>
<path d="M336.3 319.4L337.31 319L338.28 318.5L339.25 318.52L339.85 317.8L339.95 317.8L340.55 318.52L341.52 318.5L342.49 319L343.5 319.4ZM349.47 319.4L347.67 318.8L346.67 318.1L346.27 317.2L346.47 316.4L347.37 315.6L348.27 314.8L349.67 314.2L350.67 313.8L350.67 313.8L351.67 314.2L353.07 314.8L353.97 315.6L354.87 316.4L355.07 317.2L354.67 318.1L353.67 318.8L351.87 319.4ZM358.94 319.4L359.64 319L360.31 318.5L360.99 318.74L361.39 318.2L361.49 318.2L361.89 318.74L362.56 318.5L363.24 319L363.94 319.4ZM401.32 319.4L402.22 319L403.08 318.5L403.94 318.3L404.47 317.4L404.57 317.4L405.1 318.3L405.96 318.5L406.82 319L407.72 319.4ZM412.29 319.4L413.13 319L413.94 318.5L414.75 318.74L415.24 318.2L415.34 318.2L415.83 318.74L416.64 318.5L417.45 319L418.29 319.4ZM423.06 319.4L423.9 319L424.71 318.5L425.52 318.85L426.01 318.4L426.11 318.4L426.6 318.85L427.41 318.5L428.22 319L429.06 319.4ZM433.83 319.4L434.67 319L435.48 318.5L436.29 318.85L436.78 318.4L436.88 318.4L437.37 318.85L438.18 318.5L438.99 319L439.83 319.4ZM443.3 319.4L443.4 318.4L443.6 317.4L444.4 316.6L444.2 315.8L443.3 314.9L444 313.9L445.2 312.9L446.6 311.9L447.6 311.1L447.6 311.1L448.6 311.9L450 312.9L451.2 313.9L451.9 314.9L451 315.8L450.8 316.6L451.6 317.4L451.8 318.4L451.9 319.4ZM454.07 319.4L454.07 318.8L454.97 318.1L456.17 317.4L457.37 316.6L458.37 315.9L458.37 315.9L459.37 316.6L460.57 317.4L461.77 318.1L462.67 318.8L462.67 319.4ZM467.54 319.4L467.14 318.6L465.54 317.6L464.94 316.6L465.64 315.8L467.14 315.1L468.74 314.4L469.54 314.4L471.14 315.1L472.64 315.8L473.34 316.6L472.74 317.6L471.14 318.6L470.74 319.4ZM498.95 319.4L499.65 319L500.32 318.5L501 316.92L501.4 314.9L501.5 314.9L501.9 316.92L502.57 318.5L503.25 319L503.95 319.4ZM521.69 319.4L521.19 318.6L519.19 317.6L518.69 316.8L519.39 316L520.79 315.3L522.59 314.8L523.39 314.8L525.19 315.3L526.59 316L527.29 316.8L526.79 317.6L524.79 318.6L524.29 319.4ZM533.36 319.4L533.16 318.4L532.16 317.2L530.26 316.1L529.46 315.1L530.46 314.4L533.16 313.8L534.36 313.8L537.06 314.4L538.06 315.1L537.26 316.1L535.36 317.2L534.36 318.4L534.16 319.4ZM544.13 319.4L543.83 318.4L542.73 316.9L540.93 315.7L540.23 314.7L540.93 313.9L543.93 313.2L545.13 313.2L548.13 313.9L548.83 314.7L548.13 315.7L546.33 316.9L545.23 318.4L544.93 319.4ZM551.7 319.4L552.8 318.9L553.8 318.4L554.1 317.4L554.3 315.4L554.6 313.9L555.3 312.9L555.3 312.9L556 313.9L556.3 315.4L556.5 317.4L556.8 318.4L557.8 318.9L558.9 319.4ZM561.87 319.4L561.87 318.4L561.97 317.4L562.97 316.4L562.67 315.6L561.87 314.8L562.57 313.9L563.77 312.9L565.47 312.1L566.67 312.1L568.37 312.9L569.57 313.9L570.27 314.8L569.47 315.6L569.17 316.4L570.17 317.4L570.27 318.4L570.27 319.4ZM573.34 319.4L574.34 318.9L575.54 318.2L575.84 317.4L575.24 316.8L574.94 316.1L575.34 315.2L576.84 314.4L576.84 314.4L578.34 315.2L578.74 316.1L578.44 316.8L577.84 317.4L578.14 318.2L579.34 318.9L580.34 319.4ZM583.61 319.4L584.41 318.9L585.41 318.2L586.01 317.2L586.41 315.9L586.81 314.6L587.61 313.4L587.61 313.4L588.41 314.6L588.81 315.9L589.21 317.2L589.81 318.2L590.81 318.9L591.61 319.4Z" fill="#a9a916" stroke="#8a8a12" stroke-width="0.3"/>
<path d="M339.9 318V314.4M361.44 318.4V314.4M372.21 319.4V316.4M382.98 319.4V318.4M393.75 319.4V317.9M404.52 317.6V315.4M415.29 318.4V315.4M426.06 318.6V316.4M436.83 318.6V316.4M479.91 319.4V316.4M490.68 319.4V316.4M512.22 319.4V316.9" stroke="#949459" stroke-width="0.42" fill="none"/>
<path d="M347.27 319.25H354.07M368.61 319.25H375.81M379.38 319.25H386.58M390.15 319.25H397.35M465.74 319.25H472.54M476.31 319.25H483.51M487.08 319.25H494.28M508.62 319.25H515.82M519.59 319.25H526.39M530.36 319.25H537.16M541.13 319.25H547.93" stroke="#949459" stroke-width="0.45" stroke-opacity="0.7" fill="none"/>
<defs><linearGradient id="fcb" x1="0" y1="1" x2="0" y2="0"><stop offset="0" stop-color="#e1e1e1"/><stop offset="0.12" stop-color="#e9d6d2"/><stop offset="0.25" stop-color="#f1cbc4"/><stop offset="0.38" stop-color="#f5b6ab"/><stop offset="0.5" stop-color="#f69b8a"/><stop offset="0.62" stop-color="#f7816b"/><stop offset="0.75" stop-color="#f66851"/><stop offset="0.88" stop-color="#f24635"/><stop offset="1" stop-color="#eb1e19"/></linearGradient></defs>
<text x="359.1" y="379.7" font-size="5.47" fill="#000" text-anchor="middle">Chondrocytes</text>
<text x="359.1" y="386.7" font-size="5.47" fill="#000" text-anchor="middle">(ACAN, SOX9, COMP, MGP)</text>
<path d="M311.4 383.3V477.2H402.7 M309.4 383.3H311.4 M309.4 404.75H311.4 M309.4 426.2H311.4 M309.4 447.65H311.4 M309.4 469.1H311.4 M315.7 477.2V479.2 M337.6 477.2V479.2 M359.5 477.2V479.2 M381.4 477.2V479.2" stroke="#b8b8b8" stroke-width="0.6" fill="none"/>
<rect x="354" y="480.1" width="4.6" height="0.9" fill="#999" fill-opacity="0.6"/>
<rect x="306.2" y="427.3" width="0.9" height="4.6" fill="#999" fill-opacity="0.6"/>
<rect x="404.2" y="426.6" width="2.2" height="8.2" fill="url(#fcb)"/>
<path d="M406.8 427.6h0.8M406.8 429.8h0.8M406.8 432h0.8M406.8 434.2h0.8" stroke="#888" stroke-width="0.5"/>
<g transform="translate(299.5 379.02) scale(0.614 0.6210)"><g filter="url(#fb)"><use href="#P_bs" fill="#f5ac9f" fill-opacity="0.14"/><use href="#P_gs" fill="#f5bbb1" fill-opacity="0.25"/><use href="#P_bl" fill="#f77e68" fill-opacity="0.64"/><use href="#P_gr" fill="#f4c2b9" fill-opacity="0.45"/><use href="#P_pu" fill="#f4c6be" fill-opacity="0.25"/><use href="#P_pl" fill="#f4c6be" fill-opacity="0.28"/><use href="#P_pr" fill="#f4c6be" fill-opacity="0.28"/><use href="#P_or" fill="#f1cbc4" fill-opacity="0.28"/><use href="#P_rd" fill="#f1cbc4" fill-opacity="0.2"/><use href="#P_rc" fill="#f1cbc4" fill-opacity="0.52"/><use href="#P_ol" fill="#eecfca" fill-opacity="0.36"/><use href="#P_br" fill="#eecfca" fill-opacity="0.44"/></g><use href="#P_hole" fill="#fff" fill-opacity="0.45" filter="url(#fb3)"/><use href="#D_bs_0" fill="none" stroke="#f4c2b9" stroke-width="0.9"/><use href="#D_bs_1" fill="none" stroke="#f5b9ae" stroke-width="0.9"/><use href="#D_bs_2" fill="none" stroke="#f5b1a4" stroke-width="0.9"/><use href="#D_bs_3" fill="none" stroke="#f5a89a" stroke-width="0.9"/><use href="#D_bs_4" fill="none" stroke="#f6a08f" stroke-width="0.9"/><use href="#D_bs_5" fill="none" stroke="#f69785" stroke-width="0.9"/><use href="#D_gs_0" fill="none" stroke="#f1cbc4" stroke-width="0.9"/><use href="#D_gs_1" fill="none" stroke="#f3c7bf" stroke-width="0.9"/><use href="#D_gs_2" fill="none" stroke="#f4c0b6" stroke-width="0.9"/><use href="#D_gs_3" fill="none" stroke="#f5b7ac" stroke-width="0.9"/><use href="#D_gs_4" fill="none" stroke="#f5afa1" stroke-width="0.9"/><use href="#D_gs_5" fill="none" stroke="#f6a697" stroke-width="0.9"/><use href="#D_bl_0" fill="none" stroke="#f69380" stroke-width="0.9"/><use href="#D_bl_1" fill="none" stroke="#f78a75" stroke-width="0.9"/><use href="#D_bl_2" fill="none" stroke="#f7826c" stroke-width="0.9"/><use href="#D_bl_3" fill="none" stroke="#f77a63" stroke-width="0.9"/><use href="#D_bl_4" fill="none" stroke="#f7725b" stroke-width="0.9"/><use href="#D_bl_5" fill="none" stroke="#f66a53" stroke-width="0.9"/><use href="#D_gr_0" fill="none" stroke="#efcdc7" stroke-width="0.9"/><use href="#D_gr_1" fill="none" stroke="#f1cac3" stroke-width="0.9"/><use href="#D_gr_2" fill="none" stroke="#f4c6be" stroke-width="0.9"/><use href="#D_gr_3" fill="none" stroke="#f4bdb4" stroke-width="0.9"/><use href="#D_gr_4" fill="none" stroke="#f5b5a9" stroke-width="0.9"/><use href="#D_gr_5" fill="none" stroke="#f5ac9f" stroke-width="0.9"/><use href="#D_cl_0" fill="none" stroke="#eecfca" stroke-width="0.9"/><use href="#D_cl_1" fill="none" stroke="#f0cbc5" stroke-width="0.9"/><use href="#D_cl_3" fill="none" stroke="#f4c2b9" stroke-width="0.9"/><use href="#D_cl_4" fill="none" stroke="#f5b9ae" stroke-width="0.9"/><use href="#D_cl_5" fill="none" stroke="#f5b1a4" stroke-width="0.9"/><use href="#D_pu_1" fill="none" stroke="#f0cbc5" stroke-width="0.9"/><use href="#D_pu_2" fill="none" stroke="#f3c8c0" stroke-width="0.9"/><use href="#D_pu_3" fill="none" stroke="#f4c2b9" stroke-width="0.9"/><use href="#D_pu_4" fill="none" stroke="#f5b9ae" stroke-width="0.9"/><use href="#D_pu_5" fill="none" stroke="#f5b1a4" stroke-width="0.9"/><use href="#D_pl_0" fill="none" stroke="#eecfca" stroke-width="0.9"/><use href="#D_pl_2" fill="none" stroke="#f3c8c0" stroke-width="0.9"/><use href="#D_pl_3" fill="none" stroke="#f4c2b9" stroke-width="0.9"/><use href="#D_pl_4" fill="none" stroke="#f5b9ae" stroke-width="0.9"/><use href="#D_pl_5" fill="none" stroke="#f5b1a4" stroke-width="0.9"/><use href="#D_pr_0" fill="none" stroke="#eecfca" stroke-width="0.9"/><use href="#D_pr_2" fill="none" stroke="#f3c8c0" stroke-width="0.9"/><use href="#D_pr_3" fill="none" stroke="#f4c2b9" stroke-width="0.9"/><use href="#D_pr_4" fill="none" stroke="#f5b9ae" stroke-width="0.9"/><use href="#D_pr_5" fill="none" stroke="#f5b1a4" stroke-width="0.9"/><use href="#D_or_3" fill="none" stroke="#f2c9c2" stroke-width="0.9"/><use href="#D_or_4" fill="none" stroke="#f4c4bb" stroke-width="0.9"/><use href="#D_or_5" fill="none" stroke="#f5bbb1" stroke-width="0.9"/><use href="#D_rd_3" fill="none" stroke="#f2c9c2" stroke-width="0.9"/><use href="#D_rd_4" fill="none" stroke="#f4c4bb" stroke-width="0.9"/><use href="#D_rd_5" fill="none" stroke="#f5bbb1" stroke-width="0.9"/><use href="#D_rc_3" fill="none" stroke="#f2c9c2" stroke-width="0.9"/><use href="#D_rc_4" fill="none" stroke="#f4c4bb" stroke-width="0.9"/><use href="#D_rc_5" fill="none" stroke="#f5bbb1" stroke-width="0.9"/><use href="#D_ol_3" fill="none" stroke="#efcdc7" stroke-width="0.9"/><use href="#D_ol_4" fill="none" stroke="#f1cac3" stroke-width="0.9"/><use href="#D_ol_5" fill="none" stroke="#f4c6be" stroke-width="0.9"/><use href="#D_br_3" fill="none" stroke="#efcdc7" stroke-width="0.9"/><use href="#D_br_4" fill="none" stroke="#f1cac3" stroke-width="0.9"/><use href="#D_br_5" fill="none" stroke="#f4c6be" stroke-width="0.9"/></g>
<text x="472.8" y="379.7" font-size="5.47" fill="#000" text-anchor="middle">Mural cells</text>
<text x="472.8" y="386.7" font-size="5.47" fill="#000" text-anchor="middle">(RGS5, ACTA2, NOTCH3)</text>
<path d="M425.1 383.3V477.2H516.4 M423.1 383.3H425.1 M423.1 404.75H425.1 M423.1 426.2H425.1 M423.1 447.65H425.1 M423.1 469.1H425.1 M429.4 477.2V479.2 M451.3 477.2V479.2 M473.2 477.2V479.2 M495.1 477.2V479.2" stroke="#b8b8b8" stroke-width="0.6" fill="none"/>
<rect x="467.7" y="480.1" width="4.6" height="0.9" fill="#999" fill-opacity="0.6"/>
<rect x="419.9" y="427.3" width="0.9" height="4.6" fill="#999" fill-opacity="0.6"/>
<rect x="517.9" y="426.6" width="2.2" height="8.2" fill="url(#fcb)"/>
<path d="M520.5 427.6h0.8M520.5 429.8h0.8M520.5 432h0.8M520.5 434.2h0.8" stroke="#888" stroke-width="0.5"/>
<g transform="translate(413.2 379.02) scale(0.614 0.6210)"><g filter="url(#fb)"><use href="#P_bs" fill="#e1e1e1" fill-opacity="0.14"/><use href="#P_gs" fill="#e1e1e1" fill-opacity="0.25"/><use href="#P_bl" fill="#e1e1e1" fill-opacity="0.64"/><use href="#P_gr" fill="#e9d6d3" fill-opacity="0.45"/><use href="#P_pu" fill="#f6a697" fill-opacity="0.25"/><use href="#P_pl" fill="#eecfca" fill-opacity="0.28"/><use href="#P_pr" fill="#ebd4d0" fill-opacity="0.28"/><use href="#P_or" fill="#e1e1e1" fill-opacity="0.28"/><use href="#P_rd" fill="#e1e1e1" fill-opacity="0.2"/><use href="#P_rc" fill="#e1e1e1" fill-opacity="0.52"/><use href="#P_ol" fill="#e1e1e1" fill-opacity="0.36"/><use href="#P_br" fill="#e1e1e1" fill-opacity="0.44"/></g><use href="#P_hole" fill="#fff" fill-opacity="0.45" filter="url(#fb3)"/><use href="#D_bs_0" fill="none" stroke="#e1e1e1" stroke-width="0.9"/><use href="#D_bs_1" fill="none" stroke="#e1e1e1" stroke-width="0.9"/><use href="#D_bs_2" fill="none" stroke="#e1e1e1" stroke-width="0.9"/><use href="#D_bs_3" fill="none" stroke="#e1e1e1" stroke-width="0.9"/><use href="#D_bs_4" fill="none" stroke="#e1e1e1" stroke-width="0.9"/><use href="#D_bs_5" fill="none" stroke="#e1e1e1" stroke-width="0.9"/><use href="#D_gs_0" fill="none" stroke="#e1e1e1" stroke-width="0.9"/><use href="#D_gs_1" fill="none" stroke="#e1e1e1" stroke-width="0.9"/><use href="#D_gs_2" fill="none" stroke="#e1e1e1" stroke-width="0.9"/><use href="#D_gs_3" fill="none" stroke="#e1e1e1" stroke-width="0.9"/><use href="#D_gs_4" fill="none" stroke="#e1e1e1" stroke-width="0.9"/><use href="#D_gs_5" fill="none" stroke="#e1e1e1" stroke-width="0.9"/><use href="#D_bl_0" fill="none" stroke="#e1e1e1" stroke-width="0.9"/><use href="#D_bl_1" fill="none" stroke="#e1e1e1" stroke-width="0.9"/><use href="#D_bl_2" fill="none" stroke="#e1e1e1" stroke-width="0.9"/><use href="#D_bl_3" fill="none" stroke="#e1e1e1" stroke-width="0.9"/><use href="#D_bl_4" fill="none" stroke="#e1e1e1" stroke-width="0.9"/><use href="#D_bl_5" fill="none" stroke="#e1e1e1" stroke-width="0.9"/><use href="#D_gr_0" fill="none" stroke="#e2dfdf" stroke-width="0.9"/><use href="#D_gr_1" fill="none" stroke="#e5dcda" stroke-width="0.9"/><use href="#D_gr_2" fill="none" stroke="#e7d8d5" stroke-width="0.9"/><use href="#D_gr_3" fill="none" stroke="#ead4d1" stroke-width="0.9"/><use href="#D_gr_4" fill="none" stroke="#ecd1cc" stroke-width="0.9"/><use href="#D_gr_5" fill="none" stroke="#efcdc7" stroke-width="0.9"/><use href="#D_cl_0" fill="none" stroke="#e6dad8" stroke-width="0.9"/><use href="#D_cl_1" fill="none" stroke="#e9d6d3" stroke-width="0.9"/><use href="#D_cl_3" fill="none" stroke="#eecfca" stroke-width="0.9"/><use href="#D_cl_4" fill="none" stroke="#f0cbc5" stroke-width="0.9"/><use href="#D_cl_5" fill="none" stroke="#f3c8c0" stroke-width="0.9"/><use href="#D_pu_1" fill="none" stroke="#f5b3a7" stroke-width="0.9"/><use href="#D_pu_2" fill="none" stroke="#f5aa9c" stroke-width="0.9"/><use href="#D_pu_3" fill="none" stroke="#f6a292" stroke-width="0.9"/><use href="#D_pu_4" fill="none" stroke="#f69987" stroke-width="0.9"/><use href="#D_pu_5" fill="none" stroke="#f7917d" stroke-width="0.9"/><use href="#D_pl_0" fill="none" stroke="#e7d8d5" stroke-width="0.9"/><use href="#D_pl_2" fill="none" stroke="#ecd1cc" stroke-width="0.9"/><use href="#D_pl_3" fill="none" stroke="#efcdc7" stroke-width="0.9"/><use href="#D_pl_4" fill="none" stroke="#f1cac3" stroke-width="0.9"/><use href="#D_pl_5" fill="none" stroke="#f4c6be" stroke-width="0.9"/><use href="#D_pr_0" fill="none" stroke="#e4dddb" stroke-width="0.9"/><use href="#D_pr_2" fill="none" stroke="#e9d5d2" stroke-width="0.9"/><use href="#D_pr_3" fill="none" stroke="#ecd2cd" stroke-width="0.9"/><use href="#D_pr_4" fill="none" stroke="#eecec9" stroke-width="0.9"/><use href="#D_pr_5" fill="none" stroke="#f1cbc4" stroke-width="0.9"/><use href="#D_or_3" fill="none" stroke="#e1e1e1" stroke-width="0.9"/><use href="#D_or_4" fill="none" stroke="#e1e1e1" stroke-width="0.9"/><use href="#D_or_5" fill="none" stroke="#e1e1e1" stroke-width="0.9"/><use href="#D_rd_3" fill="none" stroke="#e1e1e1" stroke-width="0.9"/><use href="#D_rd_4" fill="none" stroke="#e1e1e1" stroke-width="0.9"/><use href="#D_rd_5" fill="none" stroke="#e1e1e1" stroke-width="0.9"/><use href="#D_rc_3" fill="none" stroke="#e1e1e1" stroke-width="0.9"/><use href="#D_rc_4" fill="none" stroke="#e1e1e1" stroke-width="0.9"/><use href="#D_rc_5" fill="none" stroke="#e1e1e1" stroke-width="0.9"/><use href="#D_ol_3" fill="none" stroke="#e1e1e1" stroke-width="0.9"/><use href="#D_ol_4" fill="none" stroke="#e1e1e1" stroke-width="0.9"/><use href="#D_ol_5" fill="none" stroke="#e1e1e1" stroke-width="0.9"/><use href="#D_br_3" fill="none" stroke="#e1e1e1" stroke-width="0.9"/><use href="#D_br_4" fill="none" stroke="#e1e1e1" stroke-width="0.9"/><use href="#D_br_5" fill="none" stroke="#e1e1e1" stroke-width="0.9"/></g>
<text x="586" y="379.7" font-size="5.47" fill="#000" text-anchor="middle">Proliferating stromal cells</text>
<text x="586" y="386.7" font-size="5.47" fill="#000" text-anchor="middle">(MKI67, TOP2A)</text>
<path d="M538.3 383.3V477.2H629.6 M536.3 383.3H538.3 M536.3 404.75H538.3 M536.3 426.2H538.3 M536.3 447.65H538.3 M536.3 469.1H538.3 M542.6 477.2V479.2 M564.5 477.2V479.2 M586.4 477.2V479.2 M608.3 477.2V479.2" stroke="#b8b8b8" stroke-width="0.6" fill="none"/>
<rect x="580.9" y="480.1" width="4.6" height="0.9" fill="#999" fill-opacity="0.6"/>
<rect x="533.1" y="427.3" width="0.9" height="4.6" fill="#999" fill-opacity="0.6"/>
<rect x="631.1" y="426.6" width="2.2" height="8.2" fill="url(#fcb)"/>
<path d="M633.7 427.6h0.8M633.7 429.8h0.8M633.7 432h0.8M633.7 434.2h0.8" stroke="#888" stroke-width="0.5"/>
<g transform="translate(526.4 379.02) scale(0.614 0.6210)"><g filter="url(#fb)"><use href="#P_bs" fill="#e1e1e1" fill-opacity="0.14"/><use href="#P_gs" fill="#e1e1e1" fill-opacity="0.25"/><use href="#P_bl" fill="#e1e1e1" fill-opacity="0.64"/><use href="#P_gr" fill="#e1e1e1" fill-opacity="0.45"/><use href="#P_pu" fill="#e1e1e1" fill-opacity="0.25"/><use href="#P_pl" fill="#f6a697" fill-opacity="0.28"/><use href="#P_pr" fill="#f66851" fill-opacity="0.28"/><use href="#P_or" fill="#e6dad8" fill-opacity="0.28"/><use href="#P_rd" fill="#eecfca" fill-opacity="0.2"/><use href="#P_rc" fill="#e9d6d3" fill-opacity="0.52"/><use href="#P_ol" fill="#e1e1e1" fill-opacity="0.36"/><use href="#P_br" fill="#e1e1e1" fill-opacity="0.44"/></g><use href="#P_hole" fill="#fff" fill-opacity="0.45" filter="url(#fb3)"/><use href="#D_bs_0" fill="none" stroke="#e1e1e1" stroke-width="0.9"/><use href="#D_bs_1" fill="none" stroke="#e1e1e1" stroke-width="0.9"/><use href="#D_bs_2" fill="none" stroke="#e1e1e1" stroke-width="0.9"/><use href="#D_bs_3" fill="none" stroke="#e1e1e1" stroke-width="0.9"/><use href="#D_bs_4" fill="none" stroke="#e1e1e1" stroke-width="0.9"/><use href="#D_bs_5" fill="none" stroke="#e1e1e1" stroke-width="0.9"/><use href="#D_gs_0" fill="none" stroke="#e1e1e1" stroke-width="0.9"/><use href="#D_gs_1" fill="none" stroke="#e1e1e1" stroke-width="0.9"/><use href="#D_gs_2" fill="none" stroke="#e1e1e1" stroke-width="0.9"/><use href="#D_gs_3" fill="none" stroke="#e1e1e1" stroke-width="0.9"/><use href="#D_gs_4" fill="none" stroke="#e1e1e1" stroke-width="0.9"/><use href="#D_gs_5" fill="none" stroke="#e1e1e1" stroke-width="0.9"/><use href="#D_bl_0" fill="none" stroke="#e1e1e1" stroke-width="0.9"/><use href="#D_bl_1" fill="none" stroke="#e1e1e1" stroke-width="0.9"/><use href="#D_bl_2" fill="none" stroke="#e1e1e1" stroke-width="0.9"/><use href="#D_bl_3" fill="none" stroke="#e1e1e1" stroke-width="0.9"/><use href="#D_bl_4" fill="none" stroke="#e1e1e1" stroke-width="0.9"/><use href="#D_bl_5" fill="none" stroke="#e1e1e1" stroke-width="0.9"/><use href="#D_gr_0" fill="none" stroke="#e1e1e1" stroke-width="0.9"/><use href="#D_gr_1" fill="none" stroke="#e1e1e1" stroke-width="0.9"/><use href="#D_gr_2" fill="none" stroke="#e1e1e1" stroke-width="0.9"/><use href="#D_gr_3" fill="none" stroke="#e1e1e1" stroke-width="0.9"/><use href="#D_gr_4" fill="none" stroke="#e1e1e1" stroke-width="0.9"/><use href="#D_gr_5" fill="none" stroke="#e1e1e1" stroke-width="0.9"/><use href="#D_cl_0" fill="none" stroke="#e1e1e1" stroke-width="0.9"/><use href="#D_cl_1" fill="none" stroke="#e1e1e1" stroke-width="0.9"/><use href="#D_cl_3" fill="none" stroke="#e1e1e1" stroke-width="0.9"/><use href="#D_cl_4" fill="none" stroke="#e1e1e1" stroke-width="0.9"/><use href="#D_cl_5" fill="none" stroke="#e1e1e1" stroke-width="0.9"/><use href="#D_pu_1" fill="none" stroke="#e1e1e1" stroke-width="0.9"/><use href="#D_pu_2" fill="none" stroke="#e1e1e1" stroke-width="0.9"/><use href="#D_pu_3" fill="none" stroke="#e1e1e1" stroke-width="0.9"/><use href="#D_pu_4" fill="none" stroke="#e1e1e1" stroke-width="0.9"/><use href="#D_pu_5" fill="none" stroke="#e1e1e1" stroke-width="0.9"/><use href="#D_pl_0" fill="none" stroke="#f5bbb1" stroke-width="0.9"/><use href="#D_pl_2" fill="none" stroke="#f5aa9c" stroke-width="0.9"/><use href="#D_pl_3" fill="none" stroke="#f6a292" stroke-width="0.9"/><use href="#D_pl_4" fill="none" stroke="#f69987" stroke-width="0.9"/><use href="#D_pl_5" fill="none" stroke="#f7917d" stroke-width="0.9"/><use href="#D_pr_0" fill="none" stroke="#f77c66" stroke-width="0.9"/><use href="#D_pr_2" fill="none" stroke="#f66c55" stroke-width="0.9"/><use href="#D_pr_3" fill="none" stroke="#f6644c" stroke-width="0.9"/><use href="#D_pr_4" fill="none" stroke="#f55b44" stroke-width="0.9"/><use href="#D_pr_5" fill="none" stroke="#f34e3b" stroke-width="0.9"/><use href="#D_or_3" fill="none" stroke="#e6dad8" stroke-width="0.9"/><use href="#D_or_4" fill="none" stroke="#e6dad8" stroke-width="0.9"/><use href="#D_or_5" fill="none" stroke="#e6dad8" stroke-width="0.9"/><use href="#D_rd_3" fill="none" stroke="#efcdc7" stroke-width="0.9"/><use href="#D_rd_4" fill="none" stroke="#f1cac3" stroke-width="0.9"/><use href="#D_rd_5" fill="none" stroke="#f4c6be" stroke-width="0.9"/><use href="#D_rc_3" fill="none" stroke="#ead4d1" stroke-width="0.9"/><use href="#D_rc_4" fill="none" stroke="#ecd1cc" stroke-width="0.9"/><use href="#D_rc_5" fill="none" stroke="#efcdc7" stroke-width="0.9"/><use href="#D_ol_3" fill="none" stroke="#e1e1e1" stroke-width="0.9"/><use href="#D_ol_4" fill="none" stroke="#e1e1e1" stroke-width="0.9"/><use href="#D_ol_5" fill="none" stroke="#e1e1e1" stroke-width="0.9"/><use href="#D_br_3" fill="none" stroke="#e1e1e1" stroke-width="0.9"/><use href="#D_br_4" fill="none" stroke="#e1e1e1" stroke-width="0.9"/><use href="#D_br_5" fill="none" stroke="#e1e1e1" stroke-width="0.9"/></g>
<text x="359.1" y="498.7" font-size="5.47" fill="#000" text-anchor="middle">Endothelial cells</text>
<text x="359.1" y="505.7" font-size="5.47" fill="#000" text-anchor="middle">(PECAM1, CDH5, VWF, CD34, PLVAP)</text>
<path d="M311.4 502.3V596.3H402.7 M309.4 502.3H311.4 M309.4 523.77H311.4 M309.4 545.25H311.4 M309.4 566.72H311.4 M309.4 588.2H311.4 M315.7 596.3V598.3 M337.6 596.3V598.3 M359.5 596.3V598.3 M381.4 596.3V598.3" stroke="#b8b8b8" stroke-width="0.6" fill="none"/>
<rect x="354" y="599.2" width="4.6" height="0.9" fill="#999" fill-opacity="0.6"/>
<rect x="306.2" y="546.3" width="0.9" height="4.6" fill="#999" fill-opacity="0.6"/>
<rect x="404.2" y="545.6" width="2.2" height="8.2" fill="url(#fcb)"/>
<path d="M406.8 546.6h0.8M406.8 548.8h0.8M406.8 551h0.8M406.8 553.2h0.8" stroke="#888" stroke-width="0.5"/>
<g transform="translate(299.5 498.01) scale(0.614 0.6218)"><g filter="url(#fb)"><use href="#P_bs" fill="#e1e1e1" fill-opacity="0.14"/><use href="#P_gs" fill="#e1e1e1" fill-opacity="0.25"/><use href="#P_bl" fill="#e1e1e1" fill-opacity="0.64"/><use href="#P_gr" fill="#e1e1e1" fill-opacity="0.45"/><use href="#P_pu" fill="#e1e1e1" fill-opacity="0.25"/><use href="#P_pl" fill="#e1e1e1" fill-opacity="0.28"/><use href="#P_pr" fill="#e1e1e1" fill-opacity="0.28"/><use href="#P_or" fill="#f7917d" fill-opacity="0.28"/><use href="#P_rd" fill="#e1e1e1" fill-opacity="0.2"/><use href="#P_rc" fill="#e1e1e1" fill-opacity="0.52"/><use href="#P_ol" fill="#e1e1e1" fill-opacity="0.36"/><use href="#P_br" fill="#e1e1e1" fill-opacity="0.44"/></g><use href="#P_hole" fill="#fff" fill-opacity="0.45" filter="url(#fb3)"/><use href="#D_bs_0" fill="none" stroke="#e1e1e1" stroke-width="0.9"/><use href="#D_bs_1" fill="none" stroke="#e1e1e1" stroke-width="0.9"/><use href="#D_bs_2" fill="none" stroke="#e1e1e1" stroke-width="0.9"/><use href="#D_bs_3" fill="none" stroke="#e1e1e1" stroke-width="0.9"/><use href="#D_bs_4" fill="none" stroke="#e1e1e1" stroke-width="0.9"/><use href="#D_bs_5" fill="none" stroke="#e1e1e1" stroke-width="0.9"/><use href="#D_gs_0" fill="none" stroke="#e1e1e1" stroke-width="0.9"/><use href="#D_gs_1" fill="none" stroke="#e1e1e1" stroke-width="0.9"/><use href="#D_gs_2" fill="none" stroke="#e1e1e1" stroke-width="0.9"/><use href="#D_gs_3" fill="none" stroke="#e1e1e1" stroke-width="0.9"/><use href="#D_gs_4" fill="none" stroke="#e1e1e1" stroke-width="0.9"/><use href="#D_gs_5" fill="none" stroke="#e1e1e1" stroke-width="0.9"/><use href="#D_bl_0" fill="none" stroke="#e1e1e1" stroke-width="0.9"/><use href="#D_bl_1" fill="none" stroke="#e1e1e1" stroke-width="0.9"/><use href="#D_bl_2" fill="none" stroke="#e1e1e1" stroke-width="0.9"/><use href="#D_bl_3" fill="none" stroke="#e1e1e1" stroke-width="0.9"/><use href="#D_bl_4" fill="none" stroke="#e1e1e1" stroke-width="0.9"/><use href="#D_bl_5" fill="none" stroke="#e1e1e1" stroke-width="0.9"/><use href="#D_gr_0" fill="none" stroke="#e1e1e1" stroke-width="0.9"/><use href="#D_gr_1" fill="none" stroke="#e1e1e1" stroke-width="0.9"/><use href="#D_gr_2" fill="none" stroke="#e1e1e1" stroke-width="0.9"/><use href="#D_gr_3" fill="none" stroke="#e1e1e1" stroke-width="0.9"/><use href="#D_gr_4" fill="none" stroke="#e1e1e1" stroke-width="0.9"/><use href="#D_gr_5" fill="none" stroke="#e1e1e1" stroke-width="0.9"/><use href="#D_cl_0" fill="none" stroke="#e1e1e1" stroke-width="0.9"/><use href="#D_cl_1" fill="none" stroke="#e1e1e1" stroke-width="0.9"/><use href="#D_cl_3" fill="none" stroke="#e1e1e1" stroke-width="0.9"/><use href="#D_cl_4" fill="none" stroke="#e1e1e1" stroke-width="0.9"/><use href="#D_cl_5" fill="none" stroke="#e1e1e1" stroke-width="0.9"/><use href="#D_pu_1" fill="none" stroke="#e1e1e1" stroke-width="0.9"/><use href="#D_pu_2" fill="none" stroke="#e1e1e1" stroke-width="0.9"/><use href="#D_pu_3" fill="none" stroke="#e1e1e1" stroke-width="0.9"/><use href="#D_pu_4" fill="none" stroke="#e1e1e1" stroke-width="0.9"/><use href="#D_pu_5" fill="none" stroke="#e1e1e1" stroke-width="0.9"/><use href="#D_pl_0" fill="none" stroke="#e1e1e1" stroke-width="0.9"/><use href="#D_pl_2" fill="none" stroke="#e1e1e1" stroke-width="0.9"/><use href="#D_pl_3" fill="none" stroke="#e1e1e1" stroke-width="0.9"/><use href="#D_pl_4" fill="none" stroke="#e1e1e1" stroke-width="0.9"/><use href="#D_pl_5" fill="none" stroke="#e1e1e1" stroke-width="0.9"/><use href="#D_pr_0" fill="none" stroke="#e1e1e1" stroke-width="0.9"/><use href="#D_pr_2" fill="none" stroke="#e1e1e1" stroke-width="0.9"/><use href="#D_pr_3" fill="none" stroke="#e1e1e1" stroke-width="0.9"/><use href="#D_pr_4" fill="none" stroke="#e1e1e1" stroke-width="0.9"/><use href="#D_pr_5" fill="none" stroke="#e1e1e1" stroke-width="0.9"/><use href="#D_or_3" fill="none" stroke="#f78c78" stroke-width="0.9"/><use href="#D_or_4" fill="none" stroke="#f7846e" stroke-width="0.9"/><use href="#D_or_5" fill="none" stroke="#f77c66" stroke-width="0.9"/><use href="#D_rd_3" fill="none" stroke="#e1e1e1" stroke-width="0.9"/><use href="#D_rd_4" fill="none" stroke="#e1e1e1" stroke-width="0.9"/><use href="#D_rd_5" fill="none" stroke="#e1e1e1" stroke-width="0.9"/><use href="#D_rc_3" fill="none" stroke="#e1e1e1" stroke-width="0.9"/><use href="#D_rc_4" fill="none" stroke="#e1e1e1" stroke-width="0.9"/><use href="#D_rc_5" fill="none" stroke="#e1e1e1" stroke-width="0.9"/><use href="#D_ol_3" fill="none" stroke="#e1e1e1" stroke-width="0.9"/><use href="#D_ol_4" fill="none" stroke="#e1e1e1" stroke-width="0.9"/><use href="#D_ol_5" fill="none" stroke="#e1e1e1" stroke-width="0.9"/><use href="#D_br_3" fill="none" stroke="#e1e1e1" stroke-width="0.9"/><use href="#D_br_4" fill="none" stroke="#e1e1e1" stroke-width="0.9"/><use href="#D_br_5" fill="none" stroke="#e1e1e1" stroke-width="0.9"/></g>
<text x="472.8" y="498.7" font-size="5.47" fill="#000" text-anchor="middle">Fibroblasts</text>
<text x="472.8" y="505.7" font-size="5.47" fill="#000" text-anchor="middle">(POSTN, COL1A1, COL1A2)</text>
<path d="M425.1 502.3V596.3H516.4 M423.1 502.3H425.1 M423.1 523.77H425.1 M423.1 545.25H425.1 M423.1 566.72H425.1 M423.1 588.2H425.1 M429.4 596.3V598.3 M451.3 596.3V598.3 M473.2 596.3V598.3 M495.1 596.3V598.3" stroke="#b8b8b8" stroke-width="0.6" fill="none"/>
<rect x="467.7" y="599.2" width="4.6" height="0.9" fill="#999" fill-opacity="0.6"/>
<rect x="419.9" y="546.3" width="0.9" height="4.6" fill="#999" fill-opacity="0.6"/>
<rect x="517.9" y="545.6" width="2.2" height="8.2" fill="url(#fcb)"/>
<path d="M520.5 546.6h0.8M520.5 548.8h0.8M520.5 551h0.8M520.5 553.2h0.8" stroke="#888" stroke-width="0.5"/>
<g transform="translate(413.2 498.01) scale(0.614 0.6218)"><g filter="url(#fb)"><use href="#P_bs" fill="#f6a08f" fill-opacity="0.14"/><use href="#P_gs" fill="#f7917d" fill-opacity="0.25"/><use href="#P_bl" fill="#f5ac9f" fill-opacity="0.64"/><use href="#P_gr" fill="#f66e57" fill-opacity="0.45"/><use href="#P_pu" fill="#f7765f" fill-opacity="0.25"/><use href="#P_pl" fill="#f7765f" fill-opacity="0.28"/><use href="#P_pr" fill="#f7765f" fill-opacity="0.28"/><use href="#P_or" fill="#eecfca" fill-opacity="0.28"/><use href="#P_rd" fill="#f5b5a9" fill-opacity="0.2"/><use href="#P_rc" fill="#f5b5a9" fill-opacity="0.52"/><use href="#P_ol" fill="#e7d8d5" fill-opacity="0.36"/><use href="#P_br" fill="#f5bbb1" fill-opacity="0.44"/></g><use href="#P_hole" fill="#fff" fill-opacity="0.45" filter="url(#fb3)"/><use href="#D_bs_0" fill="none" stroke="#f5b5a9" stroke-width="0.9"/><use href="#D_bs_1" fill="none" stroke="#f5ac9f" stroke-width="0.9"/><use href="#D_bs_2" fill="none" stroke="#f6a494" stroke-width="0.9"/><use href="#D_bs_3" fill="none" stroke="#f69b8a" stroke-width="0.9"/><use href="#D_bs_4" fill="none" stroke="#f69380" stroke-width="0.9"/><use href="#D_bs_5" fill="none" stroke="#f78a75" stroke-width="0.9"/><use href="#D_gs_0" fill="none" stroke="#f6a697" stroke-width="0.9"/><use href="#D_gs_1" fill="none" stroke="#f69d8d" stroke-width="0.9"/><use href="#D_gs_2" fill="none" stroke="#f69582" stroke-width="0.9"/><use href="#D_gs_3" fill="none" stroke="#f78c78" stroke-width="0.9"/><use href="#D_gs_4" fill="none" stroke="#f7846e" stroke-width="0.9"/><use href="#D_gs_5" fill="none" stroke="#f77c66" stroke-width="0.9"/><use href="#D_bl_0" fill="none" stroke="#f4c2b9" stroke-width="0.9"/><use href="#D_bl_1" fill="none" stroke="#f5b9ae" stroke-width="0.9"/><use href="#D_bl_2" fill="none" stroke="#f5b1a4" stroke-width="0.9"/><use href="#D_bl_3" fill="none" stroke="#f5a89a" stroke-width="0.9"/><use href="#D_bl_4" fill="none" stroke="#f6a08f" stroke-width="0.9"/><use href="#D_bl_5" fill="none" stroke="#f69785" stroke-width="0.9"/><use href="#D_gr_0" fill="none" stroke="#f7826c" stroke-width="0.9"/><use href="#D_gr_1" fill="none" stroke="#f77a63" stroke-width="0.9"/><use href="#D_gr_2" fill="none" stroke="#f7725b" stroke-width="0.9"/><use href="#D_gr_3" fill="none" stroke="#f66a53" stroke-width="0.9"/><use href="#D_gr_4" fill="none" stroke="#f6624a" stroke-width="0.9"/><use href="#D_gr_5" fill="none" stroke="#f55842" stroke-width="0.9"/><use href="#D_cl_0" fill="none" stroke="#f69b8a" stroke-width="0.9"/><use href="#D_cl_1" fill="none" stroke="#f69380" stroke-width="0.9"/><use href="#D_cl_3" fill="none" stroke="#f7826c" stroke-width="0.9"/><use href="#D_cl_4" fill="none" stroke="#f77a63" stroke-width="0.9"/><use href="#D_cl_5" fill="none" stroke="#f7725b" stroke-width="0.9"/><use href="#D_pu_1" fill="none" stroke="#f7826c" stroke-width="0.9"/><use href="#D_pu_2" fill="none" stroke="#f77a63" stroke-width="0.9"/><use href="#D_pu_3" fill="none" stroke="#f7725b" stroke-width="0.9"/><use href="#D_pu_4" fill="none" stroke="#f66a53" stroke-width="0.9"/><use href="#D_pu_5" fill="none" stroke="#f6624a" stroke-width="0.9"/><use href="#D_pl_0" fill="none" stroke="#f78a75" stroke-width="0.9"/><use href="#D_pl_2" fill="none" stroke="#f77a63" stroke-width="0.9"/><use href="#D_pl_3" fill="none" stroke="#f7725b" stroke-width="0.9"/><use href="#D_pl_4" fill="none" stroke="#f66a53" stroke-width="0.9"/><use href="#D_pl_5" fill="none" stroke="#f6624a" stroke-width="0.9"/><use href="#D_pr_0" fill="none" stroke="#f78a75" stroke-width="0.9"/><use href="#D_pr_2" fill="none" stroke="#f77a63" stroke-width="0.9"/><use href="#D_pr_3" fill="none" stroke="#f7725b" stroke-width="0.9"/><use href="#D_pr_4" fill="none" stroke="#f66a53" stroke-width="0.9"/><use href="#D_pr_5" fill="none" stroke="#f6624a" stroke-width="0.9"/><use href="#D_or_3" fill="none" stroke="#efcdc7" stroke-width="0.9"/><use href="#D_or_4" fill="none" stroke="#f1cac3" stroke-width="0.9"/><use href="#D_or_5" fill="none" stroke="#f4c6be" stroke-width="0.9"/><use href="#D_rd_3" fill="none" stroke="#f5b1a4" stroke-width="0.9"/><use href="#D_rd_4" fill="none" stroke="#f5a89a" stroke-width="0.9"/><use href="#D_rd_5" fill="none" stroke="#f6a08f" stroke-width="0.9"/><use href="#D_rc_3" fill="none" stroke="#f5b1a4" stroke-width="0.9"/><use href="#D_rc_4" fill="none" stroke="#f5a89a" stroke-width="0.9"/><use href="#D_rc_5" fill="none" stroke="#f6a08f" stroke-width="0.9"/><use href="#D_ol_3" fill="none" stroke="#e7d8d5" stroke-width="0.9"/><use href="#D_ol_4" fill="none" stroke="#e7d8d5" stroke-width="0.9"/><use href="#D_ol_5" fill="none" stroke="#e7d8d5" stroke-width="0.9"/><use href="#D_br_3" fill="none" stroke="#f5b7ac" stroke-width="0.9"/><use href="#D_br_4" fill="none" stroke="#f5afa1" stroke-width="0.9"/><use href="#D_br_5" fill="none" stroke="#f6a697" stroke-width="0.9"/></g>
<text x="586" y="498.7" font-size="5.47" fill="#000" text-anchor="middle">Macrophages</text>
<text x="586" y="505.7" font-size="5.47" fill="#000" text-anchor="middle">(CD74, C1QC, CD14, LYZ)</text>
<path d="M538.3 502.3V596.3H629.6 M536.3 502.3H538.3 M536.3 523.77H538.3 M536.3 545.25H538.3 M536.3 566.72H538.3 M536.3 588.2H538.3 M542.6 596.3V598.3 M564.5 596.3V598.3 M586.4 596.3V598.3 M608.3 596.3V598.3" stroke="#b8b8b8" stroke-width="0.6" fill="none"/>
<rect x="580.9" y="599.2" width="4.6" height="0.9" fill="#999" fill-opacity="0.6"/>
<rect x="533.1" y="546.3" width="0.9" height="4.6" fill="#999" fill-opacity="0.6"/>
<rect x="631.1" y="545.6" width="2.2" height="8.2" fill="url(#fcb)"/>
<path d="M633.7 546.6h0.8M633.7 548.8h0.8M633.7 551h0.8M633.7 553.2h0.8" stroke="#888" stroke-width="0.5"/>
<g transform="translate(526.4 498.01) scale(0.614 0.6218)"><g filter="url(#fb)"><use href="#P_bs" fill="#e1e1e1" fill-opacity="0.14"/><use href="#P_gs" fill="#e1e1e1" fill-opacity="0.25"/><use href="#P_bl" fill="#e1e1e1" fill-opacity="0.64"/><use href="#P_gr" fill="#e1e1e1" fill-opacity="0.45"/><use href="#P_pu" fill="#e1e1e1" fill-opacity="0.25"/><use href="#P_pl" fill="#e1e1e1" fill-opacity="0.28"/><use href="#P_pr" fill="#e1e1e1" fill-opacity="0.28"/><use href="#P_or" fill="#e1e1e1" fill-opacity="0.28"/><use href="#P_rd" fill="#f5ac9f" fill-opacity="0.2"/><use href="#P_rc" fill="#f7826c" fill-opacity="0.52"/><use href="#P_ol" fill="#e1e1e1" fill-opacity="0.36"/><use href="#P_br" fill="#e1e1e1" fill-opacity="0.44"/></g><use href="#P_hole" fill="#fff" fill-opacity="0.45" filter="url(#fb3)"/><use href="#D_bs_0" fill="none" stroke="#e1e1e1" stroke-width="0.9"/><use href="#D_bs_1" fill="none" stroke="#e1e1e1" stroke-width="0.9"/><use href="#D_bs_2" fill="none" stroke="#e1e1e1" stroke-width="0.9"/><use href="#D_bs_3" fill="none" stroke="#e1e1e1" stroke-width="0.9"/><use href="#D_bs_4" fill="none" stroke="#e1e1e1" stroke-width="0.9"/><use href="#D_bs_5" fill="none" stroke="#e1e1e1" stroke-width="0.9"/><use href="#D_gs_0" fill="none" stroke="#e1e1e1" stroke-width="0.9"/><use href="#D_gs_1" fill="none" stroke="#e1e1e1" stroke-width="0.9"/><use href="#D_gs_2" fill="none" stroke="#e1e1e1" stroke-width="0.9"/><use href="#D_gs_3" fill="none" stroke="#e1e1e1" stroke-width="0.9"/><use href="#D_gs_4" fill="none" stroke="#e1e1e1" stroke-width="0.9"/><use href="#D_gs_5" fill="none" stroke="#e1e1e1" stroke-width="0.9"/><use href="#D_bl_0" fill="none" stroke="#e1e1e1" stroke-width="0.9"/><use href="#D_bl_1" fill="none" stroke="#e1e1e1" stroke-width="0.9"/><use href="#D_bl_2" fill="none" stroke="#e1e1e1" stroke-width="0.9"/><use href="#D_bl_3" fill="none" stroke="#e1e1e1" stroke-width="0.9"/><use href="#D_bl_4" fill="none" stroke="#e1e1e1" stroke-width="0.9"/><use href="#D_bl_5" fill="none" stroke="#e1e1e1" stroke-width="0.9"/><use href="#D_gr_0" fill="none" stroke="#e1e1e1" stroke-width="0.9"/><use href="#D_gr_1" fill="none" stroke="#e1e1e1" stroke-width="0.9"/><use href="#D_gr_2" fill="none" stroke="#e1e1e1" stroke-width="0.9"/><use href="#D_gr_3" fill="none" stroke="#e1e1e1" stroke-width="0.9"/><use href="#D_gr_4" fill="none" stroke="#e1e1e1" stroke-width="0.9"/><use href="#D_gr_5" fill="none" stroke="#e1e1e1" stroke-width="0.9"/><use href="#D_cl_0" fill="none" stroke="#e1e1e1" stroke-width="0.9"/><use href="#D_cl_1" fill="none" stroke="#e1e1e1" stroke-width="0.9"/><use href="#D_cl_3" fill="none" stroke="#e1e1e1" stroke-width="0.9"/><use href="#D_cl_4" fill="none" stroke="#e1e1e1" stroke-width="0.9"/><use href="#D_cl_5" fill="none" stroke="#e1e1e1" stroke-width="0.9"/><use href="#D_pu_1" fill="none" stroke="#e1e1e1" stroke-width="0.9"/><use href="#D_pu_2" fill="none" stroke="#e1e1e1" stroke-width="0.9"/><use href="#D_pu_3" fill="none" stroke="#e1e1e1" stroke-width="0.9"/><use href="#D_pu_4" fill="none" stroke="#e1e1e1" stroke-width="0.9"/><use href="#D_pu_5" fill="none" stroke="#e1e1e1" stroke-width="0.9"/><use href="#D_pl_0" fill="none" stroke="#e1e1e1" stroke-width="0.9"/><use href="#D_pl_2" fill="none" stroke="#e1e1e1" stroke-width="0.9"/><use href="#D_pl_3" fill="none" stroke="#e1e1e1" stroke-width="0.9"/><use href="#D_pl_4" fill="none" stroke="#e1e1e1" stroke-width="0.9"/><use href="#D_pl_5" fill="none" stroke="#e1e1e1" stroke-width="0.9"/><use href="#D_pr_0" fill="none" stroke="#e1e1e1" stroke-width="0.9"/><use href="#D_pr_2" fill="none" stroke="#e1e1e1" stroke-width="0.9"/><use href="#D_pr_3" fill="none" stroke="#e1e1e1" stroke-width="0.9"/><use href="#D_pr_4" fill="none" stroke="#e1e1e1" stroke-width="0.9"/><use href="#D_pr_5" fill="none" stroke="#e1e1e1" stroke-width="0.9"/><use href="#D_or_3" fill="none" stroke="#e1e1e1" stroke-width="0.9"/><use href="#D_or_4" fill="none" stroke="#e1e1e1" stroke-width="0.9"/><use href="#D_or_5" fill="none" stroke="#e1e1e1" stroke-width="0.9"/><use href="#D_rd_3" fill="none" stroke="#f5a89a" stroke-width="0.9"/><use href="#D_rd_4" fill="none" stroke="#f6a08f" stroke-width="0.9"/><use href="#D_rd_5" fill="none" stroke="#f69785" stroke-width="0.9"/><use href="#D_rc_3" fill="none" stroke="#f77e68" stroke-width="0.9"/><use href="#D_rc_4" fill="none" stroke="#f7765f" stroke-width="0.9"/><use href="#D_rc_5" fill="none" stroke="#f66e57" stroke-width="0.9"/><use href="#D_ol_3" fill="none" stroke="#e1e1e1" stroke-width="0.9"/><use href="#D_ol_4" fill="none" stroke="#e1e1e1" stroke-width="0.9"/><use href="#D_ol_5" fill="none" stroke="#e1e1e1" stroke-width="0.9"/><use href="#D_br_3" fill="none" stroke="#e1e1e1" stroke-width="0.9"/><use href="#D_br_4" fill="none" stroke="#e1e1e1" stroke-width="0.9"/><use href="#D_br_5" fill="none" stroke="#e1e1e1" stroke-width="0.9"/></g>
<text x="359.1" y="622.1" font-size="5.47" fill="#000" text-anchor="middle">Osteoclasts</text>
<text x="359.1" y="629.1" font-size="5.47" fill="#000" text-anchor="middle">(ACP5, CSTK, MMP9)</text>
<path d="M311.4 625.7V720.4H402.7 M309.4 625.7H311.4 M309.4 647.35H311.4 M309.4 669H311.4 M309.4 690.65H311.4 M309.4 712.3H311.4 M315.7 720.4V722.4 M337.6 720.4V722.4 M359.5 720.4V722.4 M381.4 720.4V722.4" stroke="#b8b8b8" stroke-width="0.6" fill="none"/>
<rect x="354" y="723.3" width="4.6" height="0.9" fill="#999" fill-opacity="0.6"/>
<rect x="306.2" y="669.7" width="0.9" height="4.6" fill="#999" fill-opacity="0.6"/>
<rect x="404.2" y="669" width="2.2" height="8.2" fill="url(#fcb)"/>
<path d="M406.8 670h0.8M406.8 672.2h0.8M406.8 674.4h0.8M406.8 676.6h0.8" stroke="#888" stroke-width="0.5"/>
<g transform="translate(299.5 621.31) scale(0.614 0.6271)"><g filter="url(#fb)"><use href="#P_bs" fill="#e1e1e1" fill-opacity="0.14"/><use href="#P_gs" fill="#e1e1e1" fill-opacity="0.25"/><use href="#P_bl" fill="#e1e1e1" fill-opacity="0.64"/><use href="#P_gr" fill="#e1e1e1" fill-opacity="0.45"/><use href="#P_pu" fill="#e1e1e1" fill-opacity="0.25"/><use href="#P_pl" fill="#e1e1e1" fill-opacity="0.28"/><use href="#P_pr" fill="#e1e1e1" fill-opacity="0.28"/><use href="#P_or" fill="#e1e1e1" fill-opacity="0.28"/><use href="#P_rd" fill="#ecd1cc" fill-opacity="0.2"/><use href="#P_rc" fill="#f6a697" fill-opacity="0.52"/><use href="#P_ol" fill="#e1e1e1" fill-opacity="0.36"/><use href="#P_br" fill="#f78670" fill-opacity="0.44"/></g><use href="#P_hole" fill="#fff" fill-opacity="0.45" filter="url(#fb3)"/><use href="#D_bs_0" fill="none" stroke="#e1e1e1" stroke-width="0.9"/><use href="#D_bs_1" fill="none" stroke="#e1e1e1" stroke-width="0.9"/><use href="#D_bs_2" fill="none" stroke="#e1e1e1" stroke-width="0.9"/><use href="#D_bs_3" fill="none" stroke="#e1e1e1" stroke-width="0.9"/><use href="#D_bs_4" fill="none" stroke="#e1e1e1" stroke-width="0.9"/><use href="#D_bs_5" fill="none" stroke="#e1e1e1" stroke-width="0.9"/><use href="#D_gs_0" fill="none" stroke="#e1e1e1" stroke-width="0.9"/><use href="#D_gs_1" fill="none" stroke="#e1e1e1" stroke-width="0.9"/><use href="#D_gs_2" fill="none" stroke="#e1e1e1" stroke-width="0.9"/><use href="#D_gs_3" fill="none" stroke="#e1e1e1" stroke-width="0.9"/><use href="#D_gs_4" fill="none" stroke="#e1e1e1" stroke-width="0.9"/><use href="#D_gs_5" fill="none" stroke="#e1e1e1" stroke-width="0.9"/><use href="#D_bl_0" fill="none" stroke="#e1e1e1" stroke-width="0.9"/><use href="#D_bl_1" fill="none" stroke="#e1e1e1" stroke-width="0.9"/><use href="#D_bl_2" fill="none" stroke="#e1e1e1" stroke-width="0.9"/><use href="#D_bl_3" fill="none" stroke="#e1e1e1" stroke-width="0.9"/><use href="#D_bl_4" fill="none" stroke="#e1e1e1" stroke-width="0.9"/><use href="#D_bl_5" fill="none" stroke="#e1e1e1" stroke-width="0.9"/><use href="#D_gr_0" fill="none" stroke="#e1e1e1" stroke-width="0.9"/><use href="#D_gr_1" fill="none" stroke="#e1e1e1" stroke-width="0.9"/><use href="#D_gr_2" fill="none" stroke="#e1e1e1" stroke-width="0.9"/><use href="#D_gr_3" fill="none" stroke="#e1e1e1" stroke-width="0.9"/><use href="#D_gr_4" fill="none" stroke="#e1e1e1" stroke-width="0.9"/><use href="#D_gr_5" fill="none" stroke="#e1e1e1" stroke-width="0.9"/><use href="#D_cl_0" fill="none" stroke="#e1e1e1" stroke-width="0.9"/><use href="#D_cl_1" fill="none" stroke="#e1e1e1" stroke-width="0.9"/><use href="#D_cl_3" fill="none" stroke="#e1e1e1" stroke-width="0.9"/><use href="#D_cl_4" fill="none" stroke="#e1e1e1" stroke-width="0.9"/><use href="#D_cl_5" fill="none" stroke="#e1e1e1" stroke-width="0.9"/><use href="#D_pu_1" fill="none" stroke="#e1e1e1" stroke-width="0.9"/><use href="#D_pu_2" fill="none" stroke="#e1e1e1" stroke-width="0.9"/><use href="#D_pu_3" fill="none" stroke="#e1e1e1" stroke-width="0.9"/><use href="#D_pu_4" fill="none" stroke="#e1e1e1" stroke-width="0.9"/><use href="#D_pu_5" fill="none" stroke="#e1e1e1" stroke-width="0.9"/><use href="#D_pl_0" fill="none" stroke="#e1e1e1" stroke-width="0.9"/><use href="#D_pl_2" fill="none" stroke="#e1e1e1" stroke-width="0.9"/><use href="#D_pl_3" fill="none" stroke="#e1e1e1" stroke-width="0.9"/><use href="#D_pl_4" fill="none" stroke="#e1e1e1" stroke-width="0.9"/><use href="#D_pl_5" fill="none" stroke="#e1e1e1" stroke-width="0.9"/><use href="#D_pr_0" fill="none" stroke="#e1e1e1" stroke-width="0.9"/><use href="#D_pr_2" fill="none" stroke="#e1e1e1" stroke-width="0.9"/><use href="#D_pr_3" fill="none" stroke="#e1e1e1" stroke-width="0.9"/><use href="#D_pr_4" fill="none" stroke="#e1e1e1" stroke-width="0.9"/><use href="#D_pr_5" fill="none" stroke="#e1e1e1" stroke-width="0.9"/><use href="#D_or_3" fill="none" stroke="#e1e1e1" stroke-width="0.9"/><use href="#D_or_4" fill="none" stroke="#e1e1e1" stroke-width="0.9"/><use href="#D_or_5" fill="none" stroke="#e1e1e1" stroke-width="0.9"/><use href="#D_rd_3" fill="none" stroke="#eecfca" stroke-width="0.9"/><use href="#D_rd_4" fill="none" stroke="#f0cbc5" stroke-width="0.9"/><use href="#D_rd_5" fill="none" stroke="#f3c8c0" stroke-width="0.9"/><use href="#D_rc_3" fill="none" stroke="#f6a292" stroke-width="0.9"/><use href="#D_rc_4" fill="none" stroke="#f69987" stroke-width="0.9"/><use href="#D_rc_5" fill="none" stroke="#f7917d" stroke-width="0.9"/><use href="#D_ol_3" fill="none" stroke="#e1e1e1" stroke-width="0.9"/><use href="#D_ol_4" fill="none" stroke="#e1e1e1" stroke-width="0.9"/><use href="#D_ol_5" fill="none" stroke="#e1e1e1" stroke-width="0.9"/><use href="#D_br_3" fill="none" stroke="#f7826c" stroke-width="0.9"/><use href="#D_br_4" fill="none" stroke="#f77a63" stroke-width="0.9"/><use href="#D_br_5" fill="none" stroke="#f7725b" stroke-width="0.9"/></g>
<text x="472.8" y="622.1" font-size="5.47" fill="#000" text-anchor="middle">T cells</text>
<text x="472.8" y="629.1" font-size="5.47" fill="#000" text-anchor="middle">(CD3D, TRBC2, CD2)</text>
<path d="M425.1 625.7V720.4H516.4 M423.1 625.7H425.1 M423.1 647.35H425.1 M423.1 669H425.1 M423.1 690.65H425.1 M423.1 712.3H425.1 M429.4 720.4V722.4 M451.3 720.4V722.4 M473.2 720.4V722.4 M495.1 720.4V722.4" stroke="#b8b8b8" stroke-width="0.6" fill="none"/>
<rect x="467.7" y="723.3" width="4.6" height="0.9" fill="#999" fill-opacity="0.6"/>
<rect x="419.9" y="669.7" width="0.9" height="4.6" fill="#999" fill-opacity="0.6"/>
<rect x="517.9" y="669" width="2.2" height="8.2" fill="url(#fcb)"/>
<path d="M520.5 670h0.8M520.5 672.2h0.8M520.5 674.4h0.8M520.5 676.6h0.8" stroke="#888" stroke-width="0.5"/>
<g transform="translate(413.2 621.31) scale(0.614 0.6271)"><g filter="url(#fb)"><use href="#P_bs" fill="#e1e1e1" fill-opacity="0.14"/><use href="#P_gs" fill="#e1e1e1" fill-opacity="0.25"/><use href="#P_bl" fill="#e1e1e1" fill-opacity="0.64"/><use href="#P_gr" fill="#e1e1e1" fill-opacity="0.45"/><use href="#P_pu" fill="#e1e1e1" fill-opacity="0.25"/><use href="#P_pl" fill="#e1e1e1" fill-opacity="0.28"/><use href="#P_pr" fill="#e1e1e1" fill-opacity="0.28"/><use href="#P_or" fill="#e1e1e1" fill-opacity="0.28"/><use href="#P_rd" fill="#e1e1e1" fill-opacity="0.2"/><use href="#P_rc" fill="#e1e1e1" fill-opacity="0.52"/><use href="#P_ol" fill="#e9d6d3" fill-opacity="0.36"/><use href="#P_br" fill="#e1e1e1" fill-opacity="0.44"/></g><use href="#P_hole" fill="#fff" fill-opacity="0.45" filter="url(#fb3)"/><use href="#D_bs_0" fill="none" stroke="#e1e1e1" stroke-width="0.9"/><use href="#D_bs_1" fill="none" stroke="#e1e1e1" stroke-width="0.9"/><use href="#D_bs_2" fill="none" stroke="#e1e1e1" stroke-width="0.9"/><use href="#D_bs_3" fill="none" stroke="#e1e1e1" stroke-width="0.9"/><use href="#D_bs_4" fill="none" stroke="#e1e1e1" stroke-width="0.9"/><use href="#D_bs_5" fill="none" stroke="#e1e1e1" stroke-width="0.9"/><use href="#D_gs_0" fill="none" stroke="#e1e1e1" stroke-width="0.9"/><use href="#D_gs_1" fill="none" stroke="#e1e1e1" stroke-width="0.9"/><use href="#D_gs_2" fill="none" stroke="#e1e1e1" stroke-width="0.9"/><use href="#D_gs_3" fill="none" stroke="#e1e1e1" stroke-width="0.9"/><use href="#D_gs_4" fill="none" stroke="#e1e1e1" stroke-width="0.9"/><use href="#D_gs_5" fill="none" stroke="#e1e1e1" stroke-width="0.9"/><use href="#D_bl_0" fill="none" stroke="#e1e1e1" stroke-width="0.9"/><use href="#D_bl_1" fill="none" stroke="#e1e1e1" stroke-width="0.9"/><use href="#D_bl_2" fill="none" stroke="#e1e1e1" stroke-width="0.9"/><use href="#D_bl_3" fill="none" stroke="#e1e1e1" stroke-width="0.9"/><use href="#D_bl_4" fill="none" stroke="#e1e1e1" stroke-width="0.9"/><use href="#D_bl_5" fill="none" stroke="#e1e1e1" stroke-width="0.9"/><use href="#D_gr_0" fill="none" stroke="#e1e1e1" stroke-width="0.9"/><use href="#D_gr_1" fill="none" stroke="#e1e1e1" stroke-width="0.9"/><use href="#D_gr_2" fill="none" stroke="#e1e1e1" stroke-width="0.9"/><use href="#D_gr_3" fill="none" stroke="#e1e1e1" stroke-width="0.9"/><use href="#D_gr_4" fill="none" stroke="#e1e1e1" stroke-width="0.9"/><use href="#D_gr_5" fill="none" stroke="#e1e1e1" stroke-width="0.9"/><use href="#D_cl_0" fill="none" stroke="#e1e1e1" stroke-width="0.9"/><use href="#D_cl_1" fill="none" stroke="#e1e1e1" stroke-width="0.9"/><use href="#D_cl_3" fill="none" stroke="#e1e1e1" stroke-width="0.9"/><use href="#D_cl_4" fill="none" stroke="#e1e1e1" stroke-width="0.9"/><use href="#D_cl_5" fill="none" stroke="#e1e1e1" stroke-width="0.9"/><use href="#D_pu_1" fill="none" stroke="#e1e1e1" stroke-width="0.9"/><use href="#D_pu_2" fill="none" stroke="#e1e1e1" stroke-width="0.9"/><use href="#D_pu_3" fill="none" stroke="#e1e1e1" stroke-width="0.9"/><use href="#D_pu_4" fill="none" stroke="#e1e1e1" stroke-width="0.9"/><use href="#D_pu_5" fill="none" stroke="#e1e1e1" stroke-width="0.9"/><use href="#D_pl_0" fill="none" stroke="#e1e1e1" stroke-width="0.9"/><use href="#D_pl_2" fill="none" stroke="#e1e1e1" stroke-width="0.9"/><use href="#D_pl_3" fill="none" stroke="#e1e1e1" stroke-width="0.9"/><use href="#D_pl_4" fill="none" stroke="#e1e1e1" stroke-width="0.9"/><use href="#D_pl_5" fill="none" stroke="#e1e1e1" stroke-width="0.9"/><use href="#D_pr_0" fill="none" stroke="#e1e1e1" stroke-width="0.9"/><use href="#D_pr_2" fill="none" stroke="#e1e1e1" stroke-width="0.9"/><use href="#D_pr_3" fill="none" stroke="#e1e1e1" stroke-width="0.9"/><use href="#D_pr_4" fill="none" stroke="#e1e1e1" stroke-width="0.9"/><use href="#D_pr_5" fill="none" stroke="#e1e1e1" stroke-width="0.9"/><use href="#D_or_3" fill="none" stroke="#e1e1e1" stroke-width="0.9"/><use href="#D_or_4" fill="none" stroke="#e1e1e1" stroke-width="0.9"/><use href="#D_or_5" fill="none" stroke="#e1e1e1" stroke-width="0.9"/><use href="#D_rd_3" fill="none" stroke="#e1e1e1" stroke-width="0.9"/><use href="#D_rd_4" fill="none" stroke="#e1e1e1" stroke-width="0.9"/><use href="#D_rd_5" fill="none" stroke="#e1e1e1" stroke-width="0.9"/><use href="#D_rc_3" fill="none" stroke="#e1e1e1" stroke-width="0.9"/><use href="#D_rc_4" fill="none" stroke="#e1e1e1" stroke-width="0.9"/><use href="#D_rc_5" fill="none" stroke="#e1e1e1" stroke-width="0.9"/><use href="#D_ol_3" fill="none" stroke="#ead4d1" stroke-width="0.9"/><use href="#D_ol_4" fill="none" stroke="#ecd1cc" stroke-width="0.9"/><use href="#D_ol_5" fill="none" stroke="#efcdc7" stroke-width="0.9"/><use href="#D_br_3" fill="none" stroke="#e1e1e1" stroke-width="0.9"/><use href="#D_br_4" fill="none" stroke="#e1e1e1" stroke-width="0.9"/><use href="#D_br_5" fill="none" stroke="#e1e1e1" stroke-width="0.9"/></g>
</svg>
</body></html>
